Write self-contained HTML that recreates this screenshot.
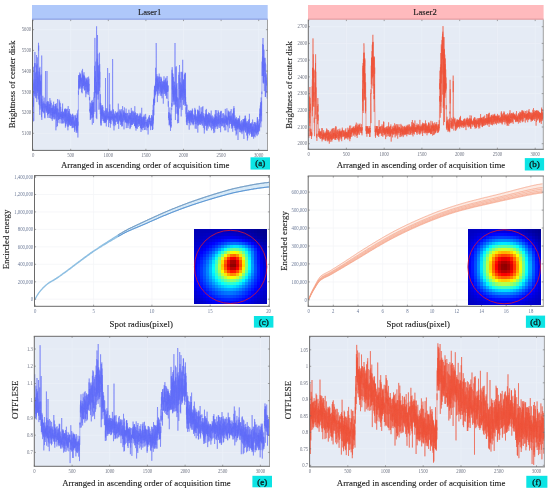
<!DOCTYPE html>
<html><head><meta charset="utf-8"><style>
html,body{margin:0;padding:0;background:#fff;}
svg{display:block;font-family:"Liberation Serif", serif;filter:blur(0.35px);}
</style></head><body>
<svg width="550" height="492" viewBox="0 0 550 492">
<rect width="550" height="492" fill="#fff"/>
<defs>
<clipPath id="cA"><rect x="32.5" y="19.5" width="235.0" height="130.9"/></clipPath>
<clipPath id="cB"><rect x="308.3" y="19.5" width="234.99999999999994" height="129.8"/></clipPath>
<clipPath id="cC"><rect x="34.5" y="175.5" width="235.0" height="130.5"/></clipPath>
<clipPath id="cD"><rect x="308.2" y="176.0" width="235.09999999999997" height="130.0"/></clipPath>
<clipPath id="cE"><rect x="34.3" y="336.3" width="235.2" height="130.0"/></clipPath>
<clipPath id="cF"><rect x="309.6" y="336.3" width="234.79999999999995" height="130.2"/></clipPath>
</defs>
<rect x="32.5" y="19.5" width="235.0" height="130.9" fill="#E5EBF5"/>
<line x1="70.7" y1="19.5" x2="70.7" y2="150.4" stroke="#EBF0F8" stroke-width="0.8"/>
<line x1="108.3" y1="19.5" x2="108.3" y2="150.4" stroke="#EBF0F8" stroke-width="0.8"/>
<line x1="145.9" y1="19.5" x2="145.9" y2="150.4" stroke="#EBF0F8" stroke-width="0.8"/>
<line x1="183.5" y1="19.5" x2="183.5" y2="150.4" stroke="#EBF0F8" stroke-width="0.8"/>
<line x1="221.1" y1="19.5" x2="221.1" y2="150.4" stroke="#EBF0F8" stroke-width="0.8"/>
<line x1="258.7" y1="19.5" x2="258.7" y2="150.4" stroke="#EBF0F8" stroke-width="0.8"/>
<line x1="32.5" y1="133.3" x2="267.5" y2="133.3" stroke="#EBF0F8" stroke-width="0.8"/>
<line x1="32.5" y1="112.6" x2="267.5" y2="112.6" stroke="#EBF0F8" stroke-width="0.8"/>
<line x1="32.5" y1="91.9" x2="267.5" y2="91.9" stroke="#EBF0F8" stroke-width="0.8"/>
<line x1="32.5" y1="71.1" x2="267.5" y2="71.1" stroke="#EBF0F8" stroke-width="0.8"/>
<line x1="32.5" y1="50.4" x2="267.5" y2="50.4" stroke="#EBF0F8" stroke-width="0.8"/>
<line x1="32.5" y1="29.7" x2="267.5" y2="29.7" stroke="#EBF0F8" stroke-width="0.8"/>
<polyline points="33.0,118.1 33.1,121.6 33.2,119.0 33.2,105.2 33.3,103.2 33.4,97.8 33.5,104.8 33.5,106.8 33.6,101.7 33.7,66.8 33.8,120.9 33.8,83.6 33.9,94.4 34.0,82.9 34.1,79.5 34.1,91.2 34.2,96.2 34.3,81.8 34.4,82.4 34.4,94.1 34.5,72.3 34.6,63.2 34.7,89.8 34.7,74.9 34.8,55.2 34.9,52.0 35.0,54.1 35.0,67.3 35.1,63.1 35.2,84.4 35.3,96.4 35.3,80.5 35.4,73.3 35.5,89.1 35.6,93.6 35.6,79.3 35.7,91.1 35.8,98.0 35.9,80.5 35.9,71.9 36.0,88.1 36.1,86.7 36.2,98.5 36.3,65.1 36.3,73.7 36.4,56.9 36.5,55.0 36.6,56.6 36.6,90.2 36.7,72.4 36.8,102.0 36.9,94.1 36.9,91.3 37.0,88.1 37.1,95.8 37.2,63.7 37.2,90.9 37.3,90.7 37.4,57.4 37.5,87.0 37.5,78.5 37.6,93.0 37.7,76.2 37.8,82.4 37.8,87.7 37.9,71.2 38.0,91.8 38.1,82.4 38.1,90.9 38.2,77.4 38.3,99.5 38.4,54.5 38.4,48.3 38.5,42.8 38.6,50.7 38.7,45.6 38.7,48.9 38.8,98.5 38.9,93.3 39.0,86.3 39.0,74.7 39.1,104.4 39.2,71.8 39.3,95.6 39.4,105.2 39.4,68.0 39.5,84.8 39.6,72.1 39.7,92.1 39.7,108.4 39.8,114.9 39.9,66.8 40.0,82.2 40.0,98.5 40.1,109.6 40.2,95.2 40.3,80.7 40.3,93.8 40.4,90.1 40.5,87.9 40.6,81.5 40.6,95.4 40.7,94.6 40.8,89.8 40.9,88.4 40.9,75.5 41.0,85.4 41.1,106.1 41.2,89.3 41.2,74.3 41.3,107.9 41.4,98.4 41.5,117.2 41.5,96.0 41.6,69.5 41.7,55.5 41.8,62.7 41.8,119.9 41.9,99.3 42.0,102.7 42.1,109.0 42.1,101.9 42.2,104.8 42.3,104.4 42.4,107.2 42.5,111.7 42.5,106.4 42.6,110.9 42.7,104.3 42.8,108.1 42.8,95.8 42.9,99.3 43.0,110.5 43.1,103.6 43.1,109.5 43.2,109.4 43.3,113.3 43.4,110.8 43.4,111.9 43.5,106.3 43.6,103.4 43.7,103.3 43.7,104.5 43.8,101.4 43.9,104.3 44.0,106.6 44.0,108.4 44.1,105.5 44.2,97.6 44.3,106.9 44.3,108.4 44.4,112.8 44.5,110.3 44.6,104.2 44.6,103.8 44.7,117.6 44.8,111.3 44.9,116.8 44.9,118.3 45.0,103.6 45.1,109.6 45.2,110.1 45.2,110.6 45.3,110.6 45.4,84.1 45.5,71.0 45.6,71.7 45.6,107.2 45.7,104.3 45.8,108.7 45.9,105.8 45.9,111.2 46.0,112.3 46.1,109.7 46.2,109.8 46.2,108.7 46.3,106.0 46.4,107.5 46.5,105.9 46.5,110.3 46.6,108.5 46.7,111.3 46.8,101.8 46.8,112.9 46.9,84.2 47.0,71.0 47.1,85.3 47.1,105.8 47.2,110.1 47.3,105.8 47.4,103.4 47.4,104.5 47.5,115.3 47.6,109.0 47.7,103.0 47.7,108.9 47.8,101.1 47.9,117.9 48.0,101.3 48.0,111.4 48.1,111.7 48.2,101.8 48.3,110.6 48.3,114.1 48.4,111.5 48.5,110.5 48.6,113.9 48.7,110.0 48.7,110.9 48.8,108.7 48.9,112.5 49.0,104.6 49.0,113.3 49.1,106.9 49.2,104.0 49.3,111.3 49.3,118.0 49.4,114.3 49.5,107.0 49.6,113.1 49.6,107.3 49.7,109.0 49.8,110.1 49.9,98.1 49.9,110.7 50.0,104.6 50.1,106.3 50.2,102.5 50.2,102.3 50.3,105.2 50.4,114.1 50.5,118.3 50.5,109.9 50.6,115.5 50.7,108.7 50.8,100.5 50.8,110.9 50.9,112.4 51.0,108.0 51.1,111.7 51.1,113.1 51.2,105.9 51.3,102.9 51.4,109.2 51.4,109.3 51.5,108.6 51.6,115.3 51.7,119.1 51.8,108.4 51.8,114.0 51.9,115.2 52.0,114.1 52.1,115.8 52.1,108.7 52.2,114.4 52.3,120.8 52.4,114.7 52.4,107.6 52.5,113.8 52.6,117.1 52.7,112.7 52.7,108.0 52.8,118.6 52.9,104.7 53.0,113.5 53.0,110.9 53.1,105.9 53.2,117.1 53.3,112.8 53.3,105.3 53.4,114.1 53.5,109.0 53.6,101.7 53.6,113.1 53.7,112.6 53.8,114.5 53.9,119.3 53.9,111.6 54.0,113.7 54.1,110.4 54.2,117.3 54.2,112.2 54.3,113.0 54.4,114.2 54.5,106.3 54.5,108.0 54.6,119.3 54.7,113.3 54.8,110.3 54.8,113.4 54.9,109.3 55.0,113.2 55.1,108.5 55.2,113.2 55.2,104.0 55.3,118.6 55.4,109.4 55.5,104.1 55.5,110.9 55.6,110.2 55.7,112.8 55.8,106.4 55.8,114.1 55.9,130.3 56.0,105.8 56.1,114.5 56.1,110.7 56.2,113.2 56.3,103.2 56.4,106.6 56.4,114.7 56.5,112.2 56.6,120.6 56.7,108.9 56.7,113.3 56.8,127.1 56.9,108.7 57.0,108.1 57.0,112.4 57.1,112.4 57.2,116.9 57.3,113.4 57.3,109.0 57.4,113.9 57.5,126.0 57.6,119.2 57.6,99.0 57.7,112.2 57.8,108.6 57.9,116.1 57.9,112.2 58.0,122.8 58.1,117.8 58.2,117.6 58.3,114.1 58.3,113.0 58.4,115.0 58.5,119.8 58.6,116.0 58.6,111.6 58.7,119.8 58.8,114.4 58.9,113.1 58.9,109.6 59.0,110.7 59.1,110.4 59.2,99.7 59.2,118.8 59.3,116.6 59.4,112.7 59.5,119.0 59.5,116.0 59.6,115.7 59.7,101.5 59.8,112.8 59.8,116.6 59.9,122.1 60.0,123.3 60.1,121.2 60.1,108.3 60.2,103.2 60.3,117.1 60.4,114.4 60.4,119.1 60.5,113.7 60.6,115.5 60.7,106.9 60.7,116.7 60.8,112.2 60.9,116.2 61.0,116.8 61.0,114.0 61.1,116.2 61.2,114.6 61.3,118.5 61.4,117.2 61.4,112.0 61.5,111.9 61.6,123.5 61.7,114.4 61.7,119.9 61.8,116.9 61.9,112.2 62.0,111.3 62.0,115.7 62.1,116.4 62.2,118.2 62.3,108.8 62.3,112.2 62.4,114.8 62.5,123.3 62.6,103.5 62.6,117.5 62.7,112.7 62.8,117.6 62.9,113.0 62.9,117.3 63.0,123.4 63.1,117.3 63.2,117.8 63.2,117.5 63.3,111.9 63.4,118.4 63.5,114.7 63.5,111.7 63.6,115.6 63.7,114.7 63.8,119.7 63.8,115.7 63.9,113.3 64.0,123.3 64.1,121.0 64.1,122.4 64.2,119.2 64.3,115.6 64.4,114.1 64.5,114.8 64.5,121.0 64.6,116.9 64.7,108.9 64.8,116.2 64.8,109.3 64.9,117.3 65.0,110.5 65.1,110.2 65.1,117.2 65.2,116.2 65.3,108.4 65.4,120.5 65.4,127.6 65.5,109.4 65.6,126.0 65.7,113.5 65.7,114.5 65.8,116.1 65.9,109.8 66.0,123.6 66.0,119.6 66.1,113.5 66.2,115.9 66.3,109.7 66.3,115.6 66.4,122.1 66.5,108.9 66.6,115.3 66.6,118.3 66.7,122.9 66.8,124.4 66.9,115.4 66.9,114.1 67.0,120.1 67.1,116.0 67.2,116.4 67.2,123.4 67.3,126.5 67.4,119.4 67.5,117.1 67.6,121.0 67.6,108.8 67.7,118.2 67.8,113.0 67.9,130.3 67.9,122.0 68.0,119.2 68.1,117.5 68.2,106.0 68.2,122.2 68.3,126.8 68.4,115.0 68.5,122.2 68.5,122.4 68.6,111.1 68.7,123.6 68.8,125.7 68.8,120.1 68.9,118.7 69.0,123.0 69.1,111.4 69.1,119.6 69.2,124.5 69.3,113.1 69.4,124.3 69.4,117.3 69.5,109.0 69.6,111.5 69.7,114.7 69.7,121.2 69.8,113.8 69.9,124.9 70.0,116.0 70.0,121.5 70.1,116.8 70.2,118.2 70.3,125.9 70.3,121.0 70.4,118.0 70.5,113.8 70.6,125.9 70.7,123.8 70.7,118.6 70.8,121.5 70.9,115.2 71.0,115.3 71.0,116.3 71.1,122.2 71.2,122.0 71.3,116.8 71.3,124.3 71.4,124.6 71.5,121.6 71.6,125.9 71.6,119.4 71.7,120.3 71.8,123.3 71.9,120.8 71.9,125.0 72.0,114.8 72.1,128.2 72.2,117.2 72.2,120.4 72.3,114.3 72.4,124.3 72.5,127.7 72.5,126.7 72.6,125.6 72.7,113.7 72.8,117.6 72.8,119.3 72.9,117.0 73.0,127.3 73.1,122.6 73.1,121.6 73.2,124.3 73.3,117.1 73.4,117.4 73.4,117.6 73.5,124.5 73.6,123.8 73.7,125.0 73.8,127.6 73.8,115.4 73.9,119.4 74.0,123.1 74.1,115.5 74.1,119.7 74.2,127.6 74.3,128.1 74.4,128.1 74.4,122.8 74.5,131.8 74.6,128.2 74.7,120.9 74.7,124.6 74.8,129.7 74.9,121.0 75.0,119.8 75.0,123.0 75.1,126.2 75.2,125.6 75.3,124.0 75.3,126.1 75.4,114.9 75.5,118.8 75.6,124.2 75.6,118.6 75.7,116.4 75.8,117.2 75.9,118.7 75.9,122.7 76.0,118.3 76.1,125.0 76.2,132.8 76.2,123.0 76.3,130.7 76.4,125.5 76.5,118.0 76.5,122.7 76.6,118.8 76.7,128.2 76.8,118.0 76.9,131.3 76.9,127.4 77.0,113.4 77.1,128.6 77.2,132.8 77.2,120.2 77.3,129.9 77.4,114.8 77.5,126.0 77.5,115.6 77.6,127.4 77.7,115.0 77.8,110.4 77.8,127.1 77.9,137.5 78.0,121.7 78.1,125.6 78.1,116.8 78.2,109.7 78.3,109.8 78.4,110.3 78.4,90.4 78.5,94.8 78.6,88.8 78.7,75.1 78.7,88.1 78.8,89.8 78.9,75.3 79.0,88.8 79.0,80.4 79.1,79.3 79.2,87.7 79.3,81.3 79.3,81.8 79.4,87.8 79.5,86.7 79.6,84.7 79.6,73.3 79.7,72.5 79.8,86.0 79.9,75.7 80.0,81.1 80.0,75.1 80.1,79.5 80.2,74.1 80.3,88.6 80.3,75.4 80.4,79.9 80.5,79.6 80.6,86.6 80.6,73.5 80.7,80.5 80.8,79.6 80.9,83.3 80.9,83.1 81.0,78.4 81.1,82.0 81.2,78.9 81.2,83.1 81.3,80.3 81.4,77.6 81.5,80.7 81.5,82.7 81.6,92.3 81.7,78.5 81.8,82.5 81.8,88.3 81.9,70.6 82.0,72.3 82.1,75.1 82.1,80.5 82.2,93.3 82.3,83.1 82.4,87.2 82.4,80.1 82.5,68.9 82.6,69.7 82.7,86.4 82.7,82.2 82.8,74.8 82.9,80.5 83.0,73.7 83.1,87.1 83.1,88.7 83.2,77.6 83.3,75.9 83.4,85.7 83.4,76.0 83.5,85.8 83.6,75.6 83.7,85.6 83.7,82.1 83.8,79.5 83.9,77.2 84.0,82.9 84.0,72.2 84.1,80.3 84.2,79.8 84.3,85.2 84.3,75.5 84.4,90.4 84.5,80.3 84.6,76.2 84.6,88.8 84.7,90.2 84.8,81.0 84.9,77.5 84.9,82.1 85.0,78.6 85.1,80.5 85.2,90.0 85.2,84.2 85.3,83.0 85.4,84.1 85.5,82.2 85.5,86.8 85.6,87.0 85.7,80.8 85.8,83.3 85.8,97.2 85.9,85.0 86.0,82.1 86.1,93.3 86.2,83.2 86.2,77.7 86.3,86.7 86.4,78.9 86.5,81.0 86.5,85.2 86.6,83.0 86.7,79.9 86.8,81.0 86.8,80.9 86.9,89.7 87.0,80.4 87.1,81.2 87.1,94.3 87.2,81.4 87.3,91.7 87.4,90.9 87.4,83.7 87.5,77.4 87.6,86.9 87.7,88.0 87.7,89.6 87.8,85.6 87.9,90.9 88.0,91.9 88.0,79.8 88.1,92.3 88.2,86.1 88.3,82.4 88.3,83.7 88.4,94.8 88.5,90.4 88.6,76.6 88.6,86.1 88.7,85.0 88.8,84.9 88.9,83.3 88.9,78.7 89.0,90.9 89.1,83.9 89.2,88.7 89.3,89.5 89.3,90.8 89.4,100.2 89.5,100.3 89.6,97.0 89.6,97.6 89.7,102.0 89.8,111.1 89.9,108.9 89.9,111.4 90.0,111.0 90.1,110.7 90.2,113.0 90.2,102.6 90.3,120.0 90.4,107.8 90.5,108.9 90.5,118.6 90.6,112.8 90.7,111.9 90.8,108.6 90.8,103.4 90.9,112.5 91.0,117.8 91.1,106.7 91.1,118.6 91.2,105.4 91.3,107.4 91.4,114.0 91.4,111.3 91.5,115.0 91.6,107.2 91.7,105.6 91.7,101.0 91.8,104.5 91.9,105.2 92.0,103.2 92.0,112.7 92.1,107.3 92.2,99.9 92.3,124.7 92.3,106.2 92.4,103.7 92.5,117.7 92.6,117.3 92.7,104.2 92.7,102.3 92.8,104.9 92.9,117.0 93.0,108.7 93.0,105.8 93.1,110.3 93.2,117.4 93.3,102.3 93.3,108.1 93.4,102.2 93.5,123.0 93.6,120.9 93.6,115.8 93.7,109.4 93.8,114.0 93.9,97.5 93.9,111.7 94.0,100.9 94.1,94.6 94.2,93.8 94.2,92.0 94.3,97.8 94.4,95.7 94.5,85.8 94.5,65.8 94.6,90.0 94.7,78.0 94.8,97.5 94.8,65.8 94.9,37.9 95.0,72.3 95.1,111.9 95.1,86.4 95.2,76.3 95.3,92.6 95.4,86.8 95.4,86.1 95.5,71.2 95.6,80.1 95.7,81.9 95.8,68.9 95.8,61.6 95.9,80.7 96.0,93.3 96.1,88.4 96.1,85.9 96.2,86.0 96.3,117.9 96.4,82.1 96.4,94.1 96.5,30.6 96.6,26.3 96.7,38.4 96.7,93.9 96.8,119.1 96.9,82.5 97.0,83.2 97.0,78.9 97.1,58.7 97.2,94.7 97.3,73.3 97.3,50.4 97.4,43.2 97.5,35.0 97.6,48.4 97.6,77.2 97.7,62.4 97.8,93.5 97.9,53.7 97.9,80.8 98.0,85.3 98.1,99.5 98.2,91.0 98.2,80.1 98.3,77.6 98.4,75.3 98.5,94.2 98.5,65.7 98.6,84.3 98.7,74.5 98.8,79.7 98.9,71.6 98.9,109.7 99.0,65.2 99.1,79.6 99.2,79.9 99.2,85.1 99.3,82.6 99.4,82.1 99.5,90.9 99.5,52.7 99.6,79.1 99.7,64.1 99.8,87.4 99.8,71.9 99.9,78.1 100.0,91.5 100.1,109.3 100.1,103.0 100.2,102.7 100.3,114.1 100.4,98.4 100.4,94.2 100.5,107.6 100.6,108.7 100.7,117.8 100.7,123.2 100.8,103.2 100.9,125.4 101.0,120.2 101.0,116.3 101.1,113.8 101.2,125.4 101.3,112.5 101.3,109.7 101.4,113.2 101.5,105.3 101.6,115.4 101.6,112.5 101.7,115.0 101.8,115.3 101.9,108.2 102.0,120.6 102.0,108.9 102.1,118.7 102.2,106.5 102.3,116.5 102.3,110.8 102.4,115.2 102.5,112.1 102.6,105.0 102.6,110.4 102.7,116.1 102.8,118.9 102.9,109.5 102.9,106.8 103.0,112.6 103.1,115.6 103.2,113.7 103.2,112.9 103.3,120.4 103.4,120.9 103.5,119.9 103.5,112.4 103.6,117.0 103.7,115.7 103.8,110.2 103.8,120.6 103.9,117.0 104.0,114.4 104.1,123.0 104.1,120.1 104.2,120.5 104.3,122.1 104.4,119.9 104.4,111.0 104.5,114.9 104.6,121.2 104.7,113.2 104.7,116.8 104.8,118.5 104.9,123.2 105.0,122.5 105.1,120.7 105.1,115.9 105.2,120.8 105.3,119.1 105.4,116.0 105.4,122.8 105.5,78.0 105.6,113.3 105.7,122.4 105.7,115.6 105.8,119.4 105.9,109.9 106.0,116.7 106.0,112.5 106.1,112.4 106.2,108.2 106.3,126.4 106.3,116.1 106.4,117.8 106.5,121.8 106.6,116.2 106.6,112.5 106.7,110.7 106.8,117.7 106.9,114.9 106.9,119.0 107.0,117.6 107.1,110.6 107.2,108.5 107.2,112.2 107.3,120.1 107.4,118.7 107.5,118.6 107.5,75.1 107.6,68.0 107.7,71.5 107.8,115.3 107.8,114.1 107.9,118.4 108.0,116.1 108.1,111.5 108.2,112.9 108.2,117.5 108.3,117.2 108.4,116.5 108.5,127.1 108.5,115.7 108.6,117.4 108.7,112.4 108.8,115.3 108.8,119.2 108.9,119.4 109.0,116.2 109.1,118.7 109.1,117.1 109.2,81.2 109.3,73.0 109.4,78.9 109.4,120.6 109.5,116.7 109.6,109.1 109.7,111.2 109.7,123.0 109.8,104.4 109.9,115.5 110.0,120.8 110.0,117.6 110.1,120.3 110.2,116.4 110.3,127.7 110.3,112.3 110.4,110.8 110.5,118.2 110.6,123.4 110.6,116.7 110.7,121.7 110.8,114.6 110.9,111.7 110.9,123.3 111.0,124.1 111.1,123.9 111.2,115.0 111.3,111.8 111.3,111.8 111.4,116.0 111.5,119.7 111.6,119.3 111.6,110.6 111.7,117.9 111.8,117.2 111.9,117.5 111.9,117.0 112.0,116.2 112.1,119.8 112.2,117.7 112.2,118.1 112.3,114.0 112.4,118.9 112.5,116.6 112.5,73.8 112.6,59.0 112.7,64.0 112.8,121.3 112.8,116.4 112.9,116.7 113.0,118.5 113.1,117.1 113.1,115.2 113.2,109.1 113.3,125.5 113.4,110.1 113.4,115.7 113.5,120.2 113.6,118.9 113.7,119.8 113.7,120.7 113.8,122.9 113.9,118.6 114.0,130.4 114.0,112.7 114.1,118.3 114.2,115.7 114.3,114.8 114.4,118.6 114.4,123.9 114.5,114.1 114.6,114.1 114.7,120.6 114.7,119.8 114.8,126.2 114.9,122.0 115.0,118.4 115.0,115.9 115.1,118.3 115.2,116.6 115.3,111.2 115.3,117.4 115.4,116.6 115.5,116.4 115.6,115.5 115.6,125.0 115.7,120.6 115.8,121.7 115.9,114.7 115.9,112.8 116.0,116.2 116.1,118.6 116.2,115.9 116.2,116.6 116.3,121.8 116.4,118.8 116.5,113.1 116.5,115.6 116.6,114.6 116.7,118.3 116.8,112.3 116.8,116.7 116.9,120.7 117.0,117.7 117.1,113.4 117.1,114.8 117.2,118.1 117.3,119.7 117.4,121.3 117.5,116.9 117.5,111.7 117.6,124.0 117.7,118.9 117.8,119.4 117.8,119.0 117.9,113.0 118.0,116.2 118.1,118.8 118.1,122.3 118.2,117.9 118.3,103.6 118.4,116.6 118.4,119.3 118.5,123.5 118.6,120.9 118.7,128.9 118.7,124.1 118.8,123.8 118.9,122.0 119.0,111.5 119.0,121.5 119.1,120.4 119.2,115.4 119.3,120.4 119.3,119.6 119.4,115.7 119.5,117.2 119.6,116.6 119.6,118.8 119.7,115.9 119.8,120.3 119.9,109.2 119.9,116.5 120.0,110.2 120.1,115.7 120.2,120.2 120.2,117.9 120.3,117.3 120.4,118.2 120.5,124.9 120.6,112.9 120.6,121.9 120.7,111.1 120.8,115.8 120.9,118.6 120.9,114.1 121.0,118.8 121.1,121.2 121.2,112.6 121.2,117.6 121.3,116.2 121.4,109.2 121.5,117.1 121.5,114.4 121.6,124.0 121.7,114.0 121.8,125.6 121.8,115.6 121.9,126.7 122.0,120.4 122.1,120.1 122.1,121.7 122.2,117.5 122.3,124.4 122.4,125.9 122.4,116.5 122.5,112.5 122.6,106.1 122.7,116.4 122.7,121.6 122.8,119.9 122.9,118.7 123.0,116.6 123.0,115.3 123.1,116.9 123.2,120.0 123.3,110.3 123.3,121.5 123.4,111.7 123.5,117.6 123.6,115.4 123.7,116.7 123.7,113.6 123.8,113.1 123.9,117.3 124.0,113.5 124.0,129.4 124.1,116.5 124.2,115.4 124.3,115.9 124.3,113.6 124.4,107.4 124.5,117.3 124.6,119.9 124.6,111.7 124.7,118.5 124.8,113.1 124.9,118.4 124.9,120.1 125.0,120.7 125.1,120.5 125.2,115.4 125.2,122.5 125.3,116.6 125.4,120.2 125.5,121.8 125.5,117.3 125.6,112.9 125.7,121.4 125.8,113.7 125.8,114.7 125.9,113.7 126.0,122.5 126.1,118.0 126.1,108.6 126.2,122.1 126.3,128.1 126.4,126.9 126.4,116.3 126.5,119.2 126.6,121.1 126.7,122.9 126.8,119.0 126.8,114.0 126.9,122.3 127.0,123.4 127.1,112.9 127.1,117.3 127.2,120.2 127.3,118.9 127.4,121.3 127.4,122.6 127.5,121.4 127.6,118.5 127.7,113.0 127.7,121.8 127.8,125.4 127.9,128.0 128.0,118.9 128.0,118.9 128.1,125.6 128.2,125.6 128.3,120.7 128.3,123.6 128.4,115.7 128.5,121.8 128.6,115.5 128.6,118.6 128.7,118.7 128.8,117.1 128.9,109.7 128.9,115.5 129.0,120.8 129.1,119.0 129.2,117.5 129.2,121.3 129.3,122.4 129.4,123.2 129.5,115.7 129.5,119.5 129.6,117.9 129.7,115.4 129.8,112.7 129.9,119.0 129.9,115.5 130.0,129.1 130.1,119.0 130.2,113.1 130.2,117.7 130.3,128.0 130.4,115.3 130.5,118.8 130.5,116.1 130.6,119.0 130.7,119.4 130.8,124.5 130.8,113.2 130.9,119.5 131.0,126.9 131.1,117.4 131.1,118.9 131.2,115.7 131.3,107.9 131.4,119.2 131.4,125.0 131.5,117.6 131.6,111.4 131.7,121.0 131.7,120.1 131.8,124.3 131.9,123.9 132.0,118.6 132.0,121.6 132.1,111.8 132.2,124.9 132.3,120.7 132.3,124.8 132.4,124.7 132.5,118.6 132.6,119.3 132.6,116.0 132.7,110.7 132.8,119.4 132.9,120.7 132.9,115.1 133.0,123.2 133.1,120.5 133.2,122.1 133.3,116.6 133.3,112.2 133.4,123.6 133.5,122.9 133.6,119.6 133.6,118.2 133.7,118.9 133.8,119.6 133.9,117.9 133.9,111.1 134.0,123.7 134.1,113.5 134.2,118.7 134.2,118.9 134.3,121.4 134.4,113.0 134.5,125.7 134.5,123.2 134.6,123.8 134.7,126.0 134.8,116.8 134.8,106.2 134.9,121.9 135.0,126.3 135.1,125.6 135.1,118.0 135.2,120.0 135.3,121.7 135.4,112.3 135.4,117.5 135.5,117.6 135.6,127.6 135.7,117.6 135.7,127.6 135.8,120.6 135.9,113.0 136.0,130.6 136.0,116.2 136.1,123.4 136.2,128.3 136.3,118.2 136.4,115.1 136.4,125.4 136.5,121.0 136.6,115.2 136.7,115.8 136.7,119.0 136.8,125.1 136.9,119.5 137.0,123.7 137.0,128.2 137.1,126.5 137.2,127.3 137.3,128.8 137.3,113.6 137.4,126.3 137.5,122.3 137.6,120.3 137.6,116.0 137.7,113.7 137.8,115.9 137.9,120.8 137.9,115.6 138.0,117.3 138.1,118.2 138.2,124.0 138.2,119.6 138.3,120.3 138.4,127.0 138.5,119.6 138.5,123.7 138.6,116.3 138.7,122.5 138.8,121.6 138.8,121.9 138.9,119.0 139.0,116.5 139.1,119.8 139.1,119.0 139.2,125.8 139.3,125.2 139.4,115.7 139.5,124.0 139.5,119.0 139.6,123.3 139.7,119.0 139.8,114.6 139.8,125.8 139.9,123.3 140.0,115.7 140.1,112.8 140.1,118.9 140.2,116.0 140.3,119.7 140.4,124.1 140.4,127.9 140.5,119.7 140.6,127.6 140.7,126.6 140.7,119.4 140.8,113.9 140.9,125.2 141.0,124.2 141.0,132.0 141.1,127.9 141.2,125.0 141.3,129.1 141.3,116.8 141.4,122.4 141.5,120.3 141.6,129.4 141.6,124.1 141.7,107.8 141.8,127.7 141.9,117.5 141.9,125.1 142.0,119.5 142.1,122.7 142.2,124.5 142.2,122.6 142.3,117.4 142.4,128.0 142.5,123.5 142.6,121.7 142.6,124.9 142.7,119.4 142.8,130.3 142.9,122.8 142.9,123.5 143.0,123.4 143.1,117.7 143.2,116.6 143.2,122.8 143.3,123.5 143.4,128.0 143.5,123.9 143.5,117.0 143.6,124.3 143.7,125.7 143.8,126.5 143.8,123.5 143.9,116.5 144.0,127.2 144.1,118.7 144.1,124.6 144.2,114.6 144.3,125.5 144.4,118.5 144.4,126.9 144.5,130.0 144.6,127.4 144.7,116.8 144.7,117.9 144.8,118.2 144.9,125.1 145.0,123.7 145.0,122.9 145.1,123.6 145.2,124.8 145.3,125.1 145.3,129.8 145.4,122.0 145.5,123.1 145.6,113.9 145.7,116.3 145.7,119.1 145.8,116.9 145.9,123.3 146.0,127.0 146.0,120.3 146.1,120.1 146.2,120.0 146.3,122.9 146.3,121.8 146.4,124.3 146.5,123.7 146.6,123.9 146.6,125.8 146.7,122.5 146.8,123.0 146.9,130.3 146.9,122.2 147.0,126.0 147.1,122.7 147.2,120.4 147.2,120.4 147.3,118.8 147.4,122.5 147.5,119.8 147.5,120.6 147.6,128.0 147.7,121.9 147.8,127.7 147.8,123.8 147.9,126.4 148.0,119.8 148.1,123.3 148.1,134.5 148.2,126.3 148.3,127.2 148.4,123.7 148.4,126.5 148.5,117.4 148.6,118.9 148.7,124.6 148.8,126.4 148.8,120.9 148.9,121.9 149.0,121.1 149.1,121.9 149.1,117.4 149.2,116.3 149.3,122.4 149.4,115.0 149.4,118.4 149.5,119.9 149.6,118.1 149.7,123.9 149.7,120.9 149.8,122.5 149.9,118.3 150.0,119.5 150.0,125.2 150.1,124.5 150.2,120.8 150.3,124.6 150.3,123.8 150.4,123.7 150.5,130.1 150.6,121.2 150.6,124.9 150.7,124.9 150.8,121.9 150.9,117.8 150.9,126.1 151.0,124.2 151.1,123.3 151.2,123.2 151.2,123.2 151.3,125.2 151.4,124.4 151.5,115.0 151.5,123.0 151.6,116.4 151.7,121.5 151.8,126.3 151.9,122.0 151.9,121.0 152.0,125.5 152.1,122.0 152.2,121.3 152.2,121.4 152.3,130.0 152.4,126.2 152.5,130.0 152.5,117.9 152.6,126.0 152.7,117.4 152.8,124.5 152.8,115.7 152.9,129.2 153.0,109.9 153.1,123.4 153.1,120.1 153.2,104.8 153.3,111.9 153.4,120.3 153.4,117.4 153.5,99.4 153.6,105.0 153.7,99.7 153.7,99.3 153.8,100.5 153.9,115.3 154.0,103.0 154.0,99.4 154.1,97.5 154.2,103.1 154.3,102.1 154.3,89.7 154.4,105.3 154.5,85.9 154.6,90.5 154.6,94.6 154.7,102.8 154.8,86.3 154.9,89.8 155.0,96.5 155.0,90.1 155.1,92.9 155.2,91.1 155.3,84.6 155.3,87.6 155.4,89.8 155.5,82.5 155.6,95.1 155.6,67.8 155.7,76.1 155.8,93.8 155.9,86.3 155.9,78.5 156.0,86.0 156.1,91.2 156.2,58.8 156.2,43.0 156.3,52.6 156.4,82.9 156.5,83.3 156.5,91.3 156.6,76.5 156.7,81.6 156.8,82.0 156.8,76.3 156.9,74.2 157.0,87.9 157.1,84.4 157.1,83.6 157.2,85.4 157.3,78.8 157.4,102.1 157.4,78.8 157.5,82.1 157.6,76.2 157.7,82.3 157.7,93.9 157.8,84.9 157.9,88.4 158.0,82.0 158.1,95.7 158.1,85.9 158.2,77.6 158.3,89.5 158.4,82.8 158.4,88.6 158.5,85.9 158.6,86.7 158.7,85.9 158.7,79.9 158.8,76.4 158.9,90.9 159.0,84.5 159.0,86.9 159.1,82.6 159.2,73.6 159.3,77.9 159.3,93.5 159.4,80.9 159.5,83.2 159.6,77.0 159.6,82.4 159.7,83.4 159.8,84.3 159.9,85.2 159.9,82.0 160.0,82.3 160.1,85.6 160.2,87.5 160.2,84.9 160.3,95.7 160.4,86.9 160.5,86.7 160.5,82.1 160.6,91.7 160.7,80.1 160.8,76.7 160.8,80.4 160.9,89.5 161.0,79.5 161.1,93.3 161.2,85.9 161.2,77.5 161.3,84.8 161.4,96.1 161.5,81.3 161.5,78.8 161.6,89.1 161.7,93.5 161.8,91.9 161.8,84.5 161.9,87.4 162.0,88.2 162.1,92.9 162.1,98.3 162.2,85.8 162.3,93.7 162.4,84.6 162.4,89.8 162.5,81.4 162.6,82.4 162.7,88.9 162.7,81.7 162.8,91.5 162.9,83.7 163.0,87.1 163.0,86.3 163.1,85.0 163.2,87.5 163.3,92.7 163.3,103.7 163.4,80.5 163.5,88.6 163.6,86.0 163.6,82.0 163.7,88.6 163.8,82.3 163.9,86.7 163.9,93.8 164.0,76.3 164.1,88.5 164.2,89.6 164.3,82.1 164.3,90.0 164.4,89.1 164.5,85.4 164.6,93.8 164.6,80.4 164.7,90.8 164.8,86.2 164.9,81.9 164.9,86.5 165.0,85.7 165.1,91.8 165.2,79.7 165.2,86.6 165.3,85.2 165.4,95.9 165.5,81.8 165.5,93.2 165.6,78.6 165.7,89.5 165.8,87.1 165.8,89.8 165.9,84.2 166.0,77.7 166.1,79.9 166.1,94.7 166.2,89.0 166.3,83.5 166.4,92.6 166.4,84.2 166.5,84.2 166.6,81.8 166.7,94.1 166.7,98.1 166.8,83.2 166.9,89.6 167.0,93.2 167.0,99.0 167.1,76.0 167.2,89.0 167.3,91.5 167.4,80.8 167.4,90.4 167.5,89.3 167.6,92.0 167.7,85.5 167.7,90.5 167.8,85.4 167.9,91.5 168.0,89.3 168.0,87.8 168.1,85.7 168.2,103.6 168.3,106.7 168.3,105.7 168.4,101.2 168.5,105.7 168.6,118.0 168.6,116.6 168.7,112.2 168.8,119.3 168.9,120.2 168.9,118.7 169.0,115.4 169.1,125.3 169.2,122.4 169.2,118.9 169.3,112.7 169.4,117.2 169.5,119.8 169.5,123.8 169.6,118.2 169.7,124.9 169.8,120.6 169.8,116.7 169.9,107.5 170.0,114.8 170.1,113.4 170.1,119.4 170.2,121.7 170.3,126.5 170.4,120.2 170.4,115.0 170.5,130.9 170.6,121.7 170.7,119.2 170.8,119.2 170.8,114.3 170.9,123.3 171.0,122.2 171.1,127.7 171.1,125.5 171.2,124.5 171.3,126.3 171.4,119.4 171.4,118.7 171.5,119.9 171.6,108.2 171.7,109.7 171.7,103.2 171.8,107.3 171.9,96.2 172.0,69.8 172.0,89.6 172.1,106.2 172.2,67.2 172.3,80.1 172.3,89.4 172.4,73.2 172.5,82.5 172.6,89.8 172.6,73.3 172.7,92.6 172.8,94.0 172.9,73.8 172.9,89.3 173.0,102.0 173.1,86.9 173.2,94.2 173.2,96.7 173.3,86.1 173.4,100.7 173.5,93.5 173.5,77.0 173.6,95.1 173.7,99.2 173.8,98.5 173.9,81.1 173.9,94.3 174.0,105.2 174.1,91.5 174.2,102.9 174.2,104.3 174.3,88.2 174.4,96.6 174.5,85.2 174.5,101.4 174.6,87.5 174.7,82.0 174.8,88.3 174.8,87.7 174.9,57.3 175.0,43.0 175.1,55.7 175.1,80.6 175.2,92.7 175.3,94.2 175.4,89.4 175.4,120.0 175.5,101.8 175.6,87.4 175.7,97.1 175.7,104.4 175.8,92.7 175.9,67.3 176.0,89.4 176.0,88.9 176.1,113.8 176.2,66.2 176.3,106.8 176.3,86.3 176.4,99.4 176.5,84.7 176.6,90.3 176.6,101.7 176.7,89.2 176.8,100.8 176.9,87.1 177.0,83.2 177.0,87.0 177.1,88.3 177.2,96.6 177.3,113.3 177.3,97.3 177.4,99.5 177.5,113.9 177.6,123.3 177.6,119.8 177.7,120.9 177.8,120.3 177.9,109.4 177.9,113.6 178.0,97.9 178.1,108.8 178.2,115.2 178.2,102.5 178.3,99.1 178.4,103.0 178.5,111.6 178.5,115.8 178.6,123.0 178.7,112.6 178.8,86.2 178.8,74.9 178.9,93.3 179.0,99.2 179.1,72.2 179.1,83.2 179.2,83.9 179.3,88.8 179.4,86.6 179.4,72.8 179.5,65.0 179.6,71.7 179.7,96.0 179.7,108.5 179.8,78.3 179.9,78.1 180.0,93.7 180.1,107.1 180.1,90.3 180.2,99.6 180.3,85.6 180.4,97.8 180.4,82.4 180.5,95.5 180.6,92.7 180.7,92.7 180.7,102.5 180.8,99.5 180.9,82.8 181.0,97.7 181.0,71.9 181.1,98.8 181.2,116.4 181.3,94.2 181.3,94.0 181.4,89.6 181.5,97.3 181.6,84.5 181.6,95.8 181.7,86.4 181.8,84.9 181.9,90.4 181.9,88.6 182.0,71.8 182.1,110.0 182.2,90.6 182.2,72.3 182.3,100.0 182.4,89.0 182.5,91.3 182.5,96.3 182.6,80.3 182.7,59.8 182.8,88.3 182.8,91.7 182.9,99.3 183.0,81.7 183.1,86.6 183.2,93.2 183.2,86.1 183.3,86.8 183.4,91.8 183.5,79.3 183.5,105.1 183.6,80.0 183.7,89.6 183.8,86.0 183.8,82.2 183.9,94.6 184.0,99.3 184.1,103.8 184.1,95.1 184.2,84.7 184.3,97.9 184.4,74.8 184.4,89.7 184.5,94.4 184.6,94.8 184.7,77.7 184.7,74.2 184.8,105.8 184.9,84.0 185.0,72.6 185.0,76.7 185.1,89.2 185.2,100.9 185.3,89.0 185.3,102.1 185.4,94.9 185.5,73.0 185.6,105.8 185.6,97.0 185.7,104.5 185.8,102.0 185.9,102.9 185.9,113.4 186.0,107.3 186.1,114.6 186.2,112.9 186.3,117.0 186.3,115.0 186.4,122.3 186.5,117.7 186.6,117.7 186.6,124.8 186.7,104.3 186.8,112.3 186.9,105.0 186.9,117.3 187.0,121.3 187.1,120.2 187.2,118.5 187.2,113.4 187.3,125.2 187.4,118.7 187.5,116.1 187.5,112.3 187.6,119.2 187.7,115.1 187.8,115.3 187.8,118.2 187.9,118.3 188.0,113.6 188.1,122.9 188.1,112.8 188.2,112.3 188.3,118.7 188.4,117.9 188.4,117.6 188.5,115.4 188.6,117.5 188.7,114.8 188.7,109.9 188.8,120.6 188.9,112.7 189.0,116.3 189.0,120.6 189.1,117.4 189.2,129.7 189.3,111.0 189.4,114.0 189.4,117.7 189.5,123.4 189.6,116.2 189.7,110.9 189.7,122.5 189.8,113.2 189.9,116.5 190.0,121.3 190.0,114.3 190.1,115.3 190.2,119.5 190.3,116.4 190.3,118.7 190.4,113.1 190.5,116.8 190.6,112.5 190.6,110.4 190.7,125.3 190.8,119.4 190.9,121.5 190.9,113.0 191.0,117.3 191.1,116.5 191.2,111.0 191.2,119.9 191.3,114.2 191.4,116.5 191.5,110.6 191.5,121.9 191.6,120.8 191.7,119.2 191.8,113.3 191.8,115.0 191.9,122.9 192.0,116.2 192.1,118.7 192.1,118.1 192.2,112.4 192.3,124.3 192.4,108.6 192.5,118.5 192.5,117.1 192.6,110.2 192.7,119.0 192.8,119.9 192.8,117.7 192.9,113.8 193.0,119.6 193.1,122.6 193.1,118.5 193.2,125.3 193.3,121.4 193.4,121.0 193.4,123.8 193.5,114.6 193.6,115.2 193.7,119.9 193.7,119.9 193.8,124.4 193.9,122.8 194.0,118.4 194.0,118.6 194.1,116.4 194.2,116.0 194.3,115.6 194.3,121.7 194.4,115.6 194.5,116.1 194.6,118.4 194.6,115.4 194.7,116.7 194.8,107.9 194.9,119.4 194.9,116.4 195.0,118.6 195.1,119.4 195.2,109.5 195.2,128.6 195.3,118.6 195.4,118.7 195.5,109.9 195.6,120.8 195.6,119.9 195.7,116.5 195.8,119.3 195.9,124.0 195.9,116.7 196.0,114.2 196.1,124.3 196.2,119.6 196.2,117.6 196.3,128.8 196.4,119.1 196.5,117.6 196.5,119.6 196.6,116.6 196.7,119.4 196.8,119.1 196.8,115.5 196.9,117.3 197.0,119.8 197.1,120.2 197.1,121.1 197.2,122.0 197.3,119.6 197.4,120.8 197.4,116.7 197.5,117.3 197.6,123.1 197.7,109.5 197.7,120.1 197.8,132.6 197.9,110.1 198.0,125.1 198.0,110.6 198.1,120.0 198.2,125.6 198.3,125.0 198.3,114.2 198.4,112.4 198.5,111.8 198.6,121.5 198.7,116.5 198.7,118.3 198.8,119.4 198.9,120.1 199.0,120.6 199.0,118.8 199.1,111.0 199.2,124.8 199.3,105.8 199.3,123.8 199.4,115.5 199.5,117.3 199.6,115.9 199.6,116.6 199.7,118.1 199.8,117.0 199.9,113.3 199.9,122.1 200.0,115.7 200.1,124.4 200.2,117.7 200.2,115.2 200.3,120.4 200.4,122.4 200.5,114.3 200.5,117.2 200.6,124.9 200.7,114.0 200.8,114.7 200.8,119.3 200.9,113.1 201.0,107.5 201.1,111.1 201.1,120.3 201.2,121.6 201.3,121.3 201.4,120.4 201.4,111.8 201.5,121.8 201.6,123.9 201.7,115.6 201.8,123.0 201.8,117.2 201.9,119.7 202.0,120.5 202.1,112.2 202.1,125.5 202.2,107.0 202.3,118.5 202.4,116.7 202.4,121.0 202.5,121.0 202.6,119.1 202.7,125.4 202.7,120.3 202.8,117.3 202.9,106.2 203.0,117.9 203.0,117.9 203.1,115.3 203.2,115.3 203.3,121.9 203.3,123.9 203.4,127.8 203.5,124.4 203.6,116.1 203.6,120.5 203.7,113.2 203.8,122.7 203.9,121.0 203.9,116.7 204.0,119.0 204.1,118.3 204.2,116.6 204.2,125.4 204.3,133.5 204.4,123.2 204.5,124.3 204.5,120.3 204.6,118.0 204.7,129.5 204.8,118.0 204.9,121.4 204.9,119.2 205.0,122.4 205.1,119.5 205.2,122.4 205.2,114.1 205.3,119.3 205.4,126.0 205.5,115.2 205.5,116.9 205.6,124.1 205.7,121.7 205.8,124.7 205.8,109.9 205.9,120.6 206.0,114.2 206.1,113.7 206.1,121.9 206.2,125.4 206.3,113.3 206.4,115.1 206.4,108.9 206.5,119.5 206.6,114.1 206.7,130.3 206.7,122.8 206.8,118.6 206.9,115.8 207.0,130.7 207.0,130.3 207.1,118.1 207.2,121.8 207.3,126.0 207.3,115.0 207.4,117.7 207.5,126.4 207.6,117.2 207.6,118.4 207.7,114.3 207.8,117.0 207.9,123.5 208.0,116.7 208.0,114.6 208.1,117.6 208.2,128.5 208.3,121.3 208.3,118.0 208.4,121.2 208.5,122.6 208.6,121.1 208.6,112.4 208.7,122.0 208.8,119.7 208.9,124.5 208.9,114.5 209.0,125.4 209.1,118.5 209.2,113.0 209.2,126.8 209.3,118.4 209.4,122.5 209.5,120.0 209.5,125.7 209.6,125.8 209.7,125.9 209.8,124.1 209.8,113.6 209.9,113.3 210.0,121.8 210.1,116.6 210.1,123.1 210.2,121.7 210.3,114.6 210.4,116.3 210.4,115.9 210.5,117.0 210.6,120.1 210.7,124.2 210.7,127.2 210.8,116.7 210.9,118.6 211.0,128.2 211.0,125.2 211.1,122.3 211.2,110.6 211.3,116.7 211.4,122.0 211.4,118.6 211.5,130.3 211.6,121.7 211.7,122.6 211.7,116.4 211.8,116.6 211.9,118.4 212.0,118.6 212.0,120.4 212.1,123.2 212.2,122.6 212.3,126.1 212.3,115.4 212.4,122.5 212.5,122.7 212.6,128.8 212.6,120.6 212.7,123.1 212.8,117.9 212.9,123.6 212.9,123.5 213.0,118.9 213.1,119.7 213.2,121.6 213.2,124.4 213.3,116.6 213.4,125.8 213.5,120.3 213.5,130.5 213.6,128.5 213.7,120.1 213.8,119.1 213.8,133.1 213.9,124.8 214.0,124.6 214.1,120.0 214.1,121.4 214.2,125.6 214.3,124.7 214.4,118.1 214.5,127.5 214.5,123.2 214.6,117.5 214.7,132.4 214.8,121.0 214.8,125.3 214.9,119.2 215.0,123.4 215.1,114.3 215.1,123.4 215.2,114.7 215.3,122.4 215.4,110.1 215.4,121.3 215.5,124.8 215.6,123.7 215.7,127.0 215.7,116.6 215.8,128.6 215.9,128.7 216.0,116.0 216.0,117.8 216.1,118.8 216.2,121.3 216.3,122.2 216.3,110.1 216.4,124.0 216.5,120.1 216.6,116.6 216.6,125.5 216.7,119.6 216.8,126.3 216.9,123.6 216.9,119.7 217.0,126.4 217.1,124.8 217.2,118.8 217.2,113.7 217.3,113.3 217.4,123.8 217.5,119.9 217.6,129.0 217.6,122.1 217.7,121.8 217.8,122.7 217.9,116.9 217.9,120.3 218.0,117.8 218.1,110.2 218.2,112.7 218.2,124.1 218.3,118.7 218.4,120.2 218.5,114.0 218.5,111.7 218.6,124.2 218.7,121.1 218.8,118.3 218.8,127.5 218.9,120.3 219.0,119.0 219.1,125.7 219.1,112.6 219.2,123.0 219.3,115.4 219.4,116.9 219.4,117.3 219.5,121.0 219.6,120.9 219.7,121.7 219.7,121.3 219.8,126.7 219.9,128.0 220.0,123.5 220.0,123.7 220.1,118.5 220.2,115.2 220.3,122.9 220.3,120.3 220.4,124.0 220.5,111.8 220.6,132.2 220.7,114.3 220.7,120.2 220.8,124.5 220.9,113.7 221.0,117.5 221.0,110.8 221.1,113.5 221.2,111.2 221.3,120.4 221.3,121.3 221.4,118.5 221.5,125.7 221.6,126.3 221.6,119.9 221.7,119.0 221.8,118.7 221.9,117.9 221.9,125.9 222.0,121.0 222.1,118.4 222.2,118.9 222.2,122.4 222.3,118.1 222.4,121.4 222.5,119.8 222.5,126.1 222.6,125.2 222.7,113.5 222.8,119.2 222.8,123.1 222.9,117.9 223.0,123.6 223.1,121.4 223.1,122.6 223.2,119.6 223.3,121.3 223.4,122.3 223.4,113.2 223.5,115.7 223.6,115.3 223.7,127.5 223.8,121.3 223.8,121.6 223.9,120.7 224.0,117.5 224.1,116.5 224.1,123.7 224.2,118.2 224.3,127.0 224.4,120.7 224.4,120.3 224.5,118.9 224.6,119.5 224.7,120.0 224.7,126.7 224.8,130.4 224.9,114.6 225.0,121.0 225.0,123.0 225.1,115.7 225.2,117.0 225.3,117.8 225.3,108.9 225.4,122.8 225.5,119.6 225.6,119.4 225.6,120.2 225.7,120.9 225.8,130.3 225.9,120.6 225.9,123.6 226.0,117.5 226.1,121.4 226.2,118.4 226.2,119.1 226.3,115.7 226.4,124.9 226.5,121.8 226.5,123.2 226.6,121.9 226.7,116.7 226.8,121.2 226.9,108.3 226.9,124.0 227.0,119.6 227.1,121.0 227.2,125.0 227.2,117.9 227.3,124.1 227.4,117.8 227.5,122.2 227.5,117.9 227.6,121.1 227.7,126.3 227.8,116.8 227.8,117.0 227.9,118.3 228.0,121.1 228.1,132.2 228.1,114.2 228.2,110.6 228.3,116.8 228.4,112.6 228.4,117.2 228.5,119.8 228.6,115.4 228.7,116.7 228.7,111.3 228.8,120.6 228.9,116.4 229.0,124.7 229.0,124.5 229.1,115.8 229.2,118.1 229.3,120.0 229.3,123.2 229.4,112.2 229.5,119.4 229.6,128.2 229.6,119.3 229.7,120.7 229.8,119.7 229.9,116.5 230.0,124.0 230.0,121.0 230.1,120.5 230.2,123.0 230.3,123.3 230.3,111.2 230.4,121.9 230.5,117.1 230.6,120.5 230.6,116.5 230.7,115.8 230.8,124.0 230.9,119.7 230.9,118.5 231.0,118.4 231.1,120.1 231.2,119.7 231.2,109.1 231.3,115.8 231.4,118.7 231.5,123.1 231.5,125.9 231.6,115.6 231.7,128.6 231.8,120.4 231.8,122.2 231.9,117.6 232.0,117.3 232.1,126.6 232.1,119.2 232.2,119.8 232.3,125.5 232.4,128.1 232.4,113.6 232.5,119.6 232.6,120.4 232.7,128.7 232.7,131.7 232.8,120.4 232.9,122.4 233.0,124.6 233.1,126.0 233.1,112.8 233.2,124.7 233.3,117.8 233.4,108.9 233.4,114.8 233.5,122.0 233.6,124.6 233.7,111.0 233.7,113.1 233.8,121.1 233.9,106.1 234.0,123.9 234.0,126.1 234.1,108.0 234.2,125.0 234.3,120.7 234.3,128.0 234.4,123.0 234.5,120.7 234.6,122.3 234.6,126.1 234.7,122.7 234.8,122.1 234.9,115.5 234.9,124.2 235.0,122.2 235.1,130.4 235.2,122.1 235.2,121.8 235.3,119.5 235.4,125.6 235.5,121.5 235.5,119.2 235.6,129.7 235.7,130.5 235.8,120.5 235.8,118.0 235.9,127.7 236.0,118.9 236.1,135.5 236.2,122.2 236.2,127.2 236.3,117.0 236.4,122.8 236.5,127.9 236.5,125.0 236.6,120.6 236.7,134.2 236.8,126.5 236.8,122.2 236.9,120.5 237.0,122.1 237.1,129.4 237.1,119.9 237.2,123.6 237.3,119.8 237.4,129.2 237.4,122.8 237.5,127.5 237.6,126.2 237.7,121.1 237.7,126.9 237.8,128.0 237.9,118.6 238.0,127.0 238.0,140.0 238.1,122.6 238.2,126.9 238.3,118.0 238.3,126.1 238.4,121.4 238.5,127.6 238.6,124.0 238.6,118.9 238.7,129.3 238.8,123.3 238.9,119.8 238.9,124.7 239.0,120.1 239.1,126.3 239.2,124.3 239.3,122.9 239.3,127.6 239.4,118.9 239.5,129.1 239.6,115.7 239.6,132.1 239.7,125.7 239.8,123.7 239.9,121.6 239.9,127.5 240.0,124.3 240.1,124.2 240.2,129.8 240.2,123.2 240.3,124.1 240.4,127.2 240.5,130.1 240.5,124.6 240.6,126.1 240.7,125.6 240.8,128.8 240.8,132.3 240.9,121.3 241.0,125.0 241.1,125.4 241.1,128.3 241.2,132.5 241.3,125.7 241.4,126.7 241.4,131.0 241.5,120.2 241.6,122.4 241.7,123.9 241.7,126.0 241.8,127.1 241.9,123.7 242.0,134.1 242.0,122.9 242.1,125.3 242.2,131.2 242.3,129.8 242.4,126.3 242.4,128.1 242.5,130.1 242.6,126.4 242.7,129.4 242.7,122.3 242.8,126.9 242.9,119.1 243.0,122.6 243.0,121.5 243.1,132.4 243.2,124.6 243.3,128.1 243.3,122.5 243.4,125.8 243.5,125.5 243.6,122.9 243.6,130.7 243.7,119.2 243.8,129.7 243.9,139.0 243.9,123.1 244.0,127.0 244.1,119.7 244.2,126.7 244.2,118.9 244.3,129.7 244.4,124.6 244.5,118.4 244.5,121.0 244.6,119.6 244.7,125.6 244.8,130.8 244.8,125.1 244.9,121.5 245.0,123.1 245.1,127.4 245.1,115.8 245.2,129.6 245.3,128.8 245.4,115.7 245.5,132.3 245.5,119.4 245.6,125.9 245.7,132.3 245.8,119.4 245.8,118.5 245.9,121.8 246.0,122.0 246.1,126.3 246.1,124.6 246.2,124.7 246.3,124.8 246.4,126.2 246.4,123.1 246.5,128.3 246.6,127.1 246.7,122.4 246.7,135.5 246.8,121.3 246.9,130.5 247.0,123.7 247.0,128.9 247.1,129.6 247.2,131.2 247.3,133.8 247.3,123.4 247.4,140.5 247.5,129.2 247.6,123.7 247.6,121.2 247.7,138.2 247.8,135.0 247.9,127.4 247.9,131.0 248.0,133.6 248.1,128.0 248.2,125.7 248.2,127.5 248.3,131.5 248.4,127.8 248.5,122.1 248.5,131.2 248.6,119.8 248.7,124.3 248.8,133.5 248.9,128.9 248.9,128.9 249.0,128.3 249.1,132.6 249.2,127.7 249.2,118.9 249.3,129.0 249.4,113.8 249.5,118.5 249.5,135.3 249.6,132.8 249.7,125.9 249.8,127.7 249.8,128.4 249.9,132.7 250.0,124.5 250.1,124.0 250.1,125.2 250.2,128.8 250.3,129.4 250.4,126.3 250.4,131.7 250.5,123.5 250.6,127.9 250.7,125.1 250.7,123.6 250.8,133.9 250.9,126.8 251.0,123.7 251.0,128.5 251.1,123.7 251.2,131.1 251.3,132.3 251.3,133.1 251.4,123.6 251.5,127.8 251.6,137.0 251.6,127.5 251.7,134.3 251.8,135.6 251.9,122.2 252.0,134.1 252.0,132.1 252.1,132.6 252.2,136.4 252.3,130.8 252.3,129.0 252.4,131.5 252.5,127.1 252.6,131.0 252.6,119.5 252.7,136.7 252.8,126.3 252.9,131.3 252.9,130.3 253.0,129.3 253.1,129.4 253.2,129.2 253.2,126.8 253.3,126.4 253.4,134.4 253.5,124.2 253.5,124.1 253.6,138.7 253.7,134.6 253.8,136.2 253.8,129.0 253.9,130.3 254.0,132.6 254.1,131.7 254.1,128.7 254.2,122.4 254.3,125.8 254.4,122.2 254.4,136.4 254.5,127.3 254.6,128.4 254.7,130.5 254.7,129.3 254.8,131.6 254.9,126.4 255.0,122.2 255.1,137.3 255.1,125.9 255.2,127.0 255.3,125.5 255.4,126.6 255.4,129.2 255.5,132.5 255.6,124.1 255.7,130.4 255.7,125.8 255.8,134.6 255.9,123.1 256.0,129.4 256.0,132.3 256.1,122.4 256.2,129.3 256.3,129.5 256.3,125.0 256.4,127.7 256.5,133.5 256.6,129.9 256.6,126.7 256.7,127.6 256.8,130.8 256.9,134.7 256.9,132.4 257.0,132.1 257.1,136.1 257.2,121.0 257.2,121.5 257.3,117.3 257.4,132.5 257.5,117.2 257.5,128.1 257.6,132.1 257.7,121.4 257.8,125.0 257.8,127.0 257.9,131.9 258.0,120.7 258.1,129.8 258.2,131.6 258.2,128.8 258.3,128.9 258.4,134.4 258.5,129.2 258.5,127.7 258.6,125.5 258.7,130.0 258.8,124.5 258.8,128.9 258.9,125.3 259.0,130.4 259.1,119.1 259.1,123.4 259.2,124.4 259.3,124.1 259.4,127.8 259.4,122.9 259.5,125.4 259.6,131.3 259.7,123.9 259.7,111.5 259.8,108.5 259.9,121.2 260.0,113.9 260.0,117.6 260.1,113.9 260.2,123.3 260.3,122.0 260.3,105.5 260.4,114.6 260.5,109.9 260.6,102.2 260.6,115.5 260.7,109.2 260.8,112.9 260.9,127.3 260.9,118.3 261.0,116.2 261.1,104.1 261.2,97.5 261.3,115.7 261.3,103.0 261.4,105.1 261.5,101.2 261.6,103.0 261.6,121.4 261.7,94.0 261.8,91.6 261.9,94.1 261.9,92.6 262.0,72.2 262.1,61.6 262.2,73.8 262.2,76.0 262.3,65.0 262.4,58.7 262.5,56.4 262.5,63.6 262.6,68.1 262.7,44.0 262.8,61.4 262.8,76.0 262.9,42.5 263.0,38.0 263.1,46.3 263.1,70.5 263.2,83.2 263.3,45.0 263.4,82.1 263.4,63.9 263.5,74.6 263.6,82.4 263.7,57.7 263.7,58.9 263.8,70.1 263.9,83.6 264.0,63.4 264.0,49.7 264.1,61.2 264.2,78.6 264.3,91.1 264.4,64.6 264.4,67.7 264.5,70.1 264.6,70.9 264.7,58.1 264.7,66.3 264.8,76.9 264.9,75.2 265.0,74.1 265.0,57.8 265.1,65.2 265.2,62.7 265.3,91.0 265.3,97.0 265.4,80.1 265.5,96.9 265.6,72.8 265.6,73.7 265.7,64.5 265.8,80.2 265.9,75.1 265.9,79.9 266.0,82.7 266.1,78.6 266.2,73.7 266.2,80.4 266.3,80.5 266.4,81.3 266.5,85.5 266.5,80.4 266.6,80.4 266.7,92.6 266.8,88.9 266.8,82.3 266.9,77.5 267.0,80.7 267.1,85.9 267.1,89.0 267.2,98.5 267.3,83.0" fill="none" stroke="#636EFA" stroke-width="0.55" stroke-opacity="0.95" stroke-linejoin="round" clip-path="url(#cA)"/>
<line x1="32.5" y1="19.5" x2="32.5" y2="150.4" stroke="#6a6a6a" stroke-width="1"/>
<line x1="32.0" y1="150.4" x2="268.0" y2="150.4" stroke="#6a6a6a" stroke-width="1"/>
<line x1="267.5" y1="19.5" x2="267.5" y2="150.4" stroke="#8a8a8a" stroke-width="0.8"/>
<line x1="33.1" y1="150.4" x2="33.1" y2="148.8" stroke="#6a6a6a" stroke-width="0.6"/>
<line x1="33.1" y1="19.5" x2="33.1" y2="21.1" stroke="#6a6a6a" stroke-width="0.6"/>
<text x="33.1" y="157.2" font-size="5.3" fill="#6e7382" text-anchor="middle" textLength="2.36" lengthAdjust="spacingAndGlyphs">0</text>
<line x1="70.7" y1="150.4" x2="70.7" y2="148.8" stroke="#6a6a6a" stroke-width="0.6"/>
<line x1="70.7" y1="19.5" x2="70.7" y2="21.1" stroke="#6a6a6a" stroke-width="0.6"/>
<text x="70.7" y="157.2" font-size="5.3" fill="#6e7382" text-anchor="middle" textLength="7.08" lengthAdjust="spacingAndGlyphs">500</text>
<line x1="108.3" y1="150.4" x2="108.3" y2="148.8" stroke="#6a6a6a" stroke-width="0.6"/>
<line x1="108.3" y1="19.5" x2="108.3" y2="21.1" stroke="#6a6a6a" stroke-width="0.6"/>
<text x="108.3" y="157.2" font-size="5.3" fill="#6e7382" text-anchor="middle" textLength="9.43" lengthAdjust="spacingAndGlyphs">1000</text>
<line x1="145.9" y1="150.4" x2="145.9" y2="148.8" stroke="#6a6a6a" stroke-width="0.6"/>
<line x1="145.9" y1="19.5" x2="145.9" y2="21.1" stroke="#6a6a6a" stroke-width="0.6"/>
<text x="145.9" y="157.2" font-size="5.3" fill="#6e7382" text-anchor="middle" textLength="9.43" lengthAdjust="spacingAndGlyphs">1500</text>
<line x1="183.5" y1="150.4" x2="183.5" y2="148.8" stroke="#6a6a6a" stroke-width="0.6"/>
<line x1="183.5" y1="19.5" x2="183.5" y2="21.1" stroke="#6a6a6a" stroke-width="0.6"/>
<text x="183.5" y="157.2" font-size="5.3" fill="#6e7382" text-anchor="middle" textLength="9.43" lengthAdjust="spacingAndGlyphs">2000</text>
<line x1="221.1" y1="150.4" x2="221.1" y2="148.8" stroke="#6a6a6a" stroke-width="0.6"/>
<line x1="221.1" y1="19.5" x2="221.1" y2="21.1" stroke="#6a6a6a" stroke-width="0.6"/>
<text x="221.1" y="157.2" font-size="5.3" fill="#6e7382" text-anchor="middle" textLength="9.43" lengthAdjust="spacingAndGlyphs">2500</text>
<line x1="258.7" y1="150.4" x2="258.7" y2="148.8" stroke="#6a6a6a" stroke-width="0.6"/>
<line x1="258.7" y1="19.5" x2="258.7" y2="21.1" stroke="#6a6a6a" stroke-width="0.6"/>
<text x="258.7" y="157.2" font-size="5.3" fill="#6e7382" text-anchor="middle" textLength="9.43" lengthAdjust="spacingAndGlyphs">3000</text>
<line x1="32.5" y1="133.3" x2="34.1" y2="133.3" stroke="#6a6a6a" stroke-width="0.6"/>
<line x1="267.5" y1="133.3" x2="265.9" y2="133.3" stroke="#6a6a6a" stroke-width="0.6"/>
<text x="31.2" y="135.05" font-size="5.3" fill="#6e7382" text-anchor="end" textLength="9.43" lengthAdjust="spacingAndGlyphs">5100</text>
<line x1="32.5" y1="112.6" x2="34.1" y2="112.6" stroke="#6a6a6a" stroke-width="0.6"/>
<line x1="267.5" y1="112.6" x2="265.9" y2="112.6" stroke="#6a6a6a" stroke-width="0.6"/>
<text x="31.2" y="114.35" font-size="5.3" fill="#6e7382" text-anchor="end" textLength="9.43" lengthAdjust="spacingAndGlyphs">5200</text>
<line x1="32.5" y1="91.9" x2="34.1" y2="91.9" stroke="#6a6a6a" stroke-width="0.6"/>
<line x1="267.5" y1="91.9" x2="265.9" y2="91.9" stroke="#6a6a6a" stroke-width="0.6"/>
<text x="31.2" y="93.65" font-size="5.3" fill="#6e7382" text-anchor="end" textLength="9.43" lengthAdjust="spacingAndGlyphs">5300</text>
<line x1="32.5" y1="71.1" x2="34.1" y2="71.1" stroke="#6a6a6a" stroke-width="0.6"/>
<line x1="267.5" y1="71.1" x2="265.9" y2="71.1" stroke="#6a6a6a" stroke-width="0.6"/>
<text x="31.2" y="72.85" font-size="5.3" fill="#6e7382" text-anchor="end" textLength="9.43" lengthAdjust="spacingAndGlyphs">5400</text>
<line x1="32.5" y1="50.4" x2="34.1" y2="50.4" stroke="#6a6a6a" stroke-width="0.6"/>
<line x1="267.5" y1="50.4" x2="265.9" y2="50.4" stroke="#6a6a6a" stroke-width="0.6"/>
<text x="31.2" y="52.15" font-size="5.3" fill="#6e7382" text-anchor="end" textLength="9.43" lengthAdjust="spacingAndGlyphs">5500</text>
<line x1="32.5" y1="29.7" x2="34.1" y2="29.7" stroke="#6a6a6a" stroke-width="0.6"/>
<line x1="267.5" y1="29.7" x2="265.9" y2="29.7" stroke="#6a6a6a" stroke-width="0.6"/>
<text x="31.2" y="31.45" font-size="5.3" fill="#6e7382" text-anchor="end" textLength="9.43" lengthAdjust="spacingAndGlyphs">5600</text>
<rect x="32" y="5" width="235.7" height="14.2" fill="#AFC8FA"/>
<line x1="32" y1="19.2" x2="267.7" y2="19.2" stroke="#7389DA" stroke-width="0.9"/>
<text x="149.6" y="15" font-size="8.6" fill="#1e1e1e" stroke="#1e1e1e" stroke-width="0.15" text-anchor="middle">Laser1</text>
<text x="0" y="0" font-size="8.8" fill="#1a1a1a" stroke="#1a1a1a" stroke-width="0.12" text-anchor="middle" transform="translate(12.4,84.5) rotate(-90)" dominant-baseline="central">Brightness of center disk</text>
<text x="60.9" y="167.6" font-size="8.8" fill="#1a1a1a" stroke="#1a1a1a" stroke-width="0.12">Arranged in ascending order of acquisition time</text>
<rect x="250.5" y="157.3" width="19.5" height="12.299999999999983" fill="#0CE4E4"/>
<text x="260.25" y="166.45" font-size="9" fill="#0b3030" stroke="#0b3030" stroke-width="0.45" text-anchor="middle">(a)</text>
<rect x="308.3" y="19.5" width="234.99999999999994" height="129.8" fill="#E5EBF5"/>
<line x1="346.4" y1="19.5" x2="346.4" y2="149.3" stroke="#EBF0F8" stroke-width="0.8"/>
<line x1="384.2" y1="19.5" x2="384.2" y2="149.3" stroke="#EBF0F8" stroke-width="0.8"/>
<line x1="421.9" y1="19.5" x2="421.9" y2="149.3" stroke="#EBF0F8" stroke-width="0.8"/>
<line x1="459.7" y1="19.5" x2="459.7" y2="149.3" stroke="#EBF0F8" stroke-width="0.8"/>
<line x1="497.4" y1="19.5" x2="497.4" y2="149.3" stroke="#EBF0F8" stroke-width="0.8"/>
<line x1="535.2" y1="19.5" x2="535.2" y2="149.3" stroke="#EBF0F8" stroke-width="0.8"/>
<line x1="308.3" y1="143.7" x2="543.3" y2="143.7" stroke="#EBF0F8" stroke-width="0.8"/>
<line x1="308.3" y1="127.0" x2="543.3" y2="127.0" stroke="#EBF0F8" stroke-width="0.8"/>
<line x1="308.3" y1="110.3" x2="543.3" y2="110.3" stroke="#EBF0F8" stroke-width="0.8"/>
<line x1="308.3" y1="93.6" x2="543.3" y2="93.6" stroke="#EBF0F8" stroke-width="0.8"/>
<line x1="308.3" y1="76.9" x2="543.3" y2="76.9" stroke="#EBF0F8" stroke-width="0.8"/>
<line x1="308.3" y1="60.1" x2="543.3" y2="60.1" stroke="#EBF0F8" stroke-width="0.8"/>
<line x1="308.3" y1="43.4" x2="543.3" y2="43.4" stroke="#EBF0F8" stroke-width="0.8"/>
<line x1="308.3" y1="26.7" x2="543.3" y2="26.7" stroke="#EBF0F8" stroke-width="0.8"/>
<polyline points="308.5,133.0 308.6,136.2 308.7,135.3 308.7,135.2 308.8,137.9 308.9,129.5 309.0,131.2 309.0,128.0 309.1,132.8 309.2,136.1 309.3,116.1 309.3,112.1 309.4,118.2 309.5,102.9 309.6,96.5 309.6,98.1 309.7,126.0 309.8,94.2 309.9,87.0 309.9,114.0 310.0,123.2 310.1,97.9 310.2,112.7 310.2,107.0 310.3,109.7 310.4,103.8 310.5,127.1 310.5,131.2 310.6,135.7 310.7,128.7 310.8,135.9 310.8,131.6 310.9,131.8 311.0,129.4 311.1,133.1 311.1,132.8 311.2,134.1 311.3,132.0 311.4,133.9 311.5,139.0 311.5,134.8 311.6,131.9 311.7,136.5 311.8,133.3 311.8,135.4 311.9,135.5 312.0,132.5 312.1,109.6 312.1,106.0 312.2,86.4 312.3,116.3 312.4,79.5 312.4,110.5 312.5,68.7 312.6,67.7 312.7,69.7 312.7,79.5 312.8,68.1 312.9,102.0 313.0,38.4 313.0,59.9 313.1,68.2 313.2,76.2 313.3,59.8 313.3,54.3 313.4,106.4 313.5,102.4 313.6,76.1 313.6,96.4 313.7,68.7 313.8,77.6 313.9,77.8 314.0,69.9 314.0,106.9 314.1,92.3 314.2,122.8 314.3,117.7 314.3,130.9 314.4,130.7 314.5,134.9 314.6,136.2 314.6,122.6 314.7,113.2 314.8,110.1 314.9,93.8 314.9,83.8 315.0,82.4 315.1,101.6 315.2,71.2 315.2,78.3 315.3,93.6 315.4,90.8 315.5,63.0 315.5,73.0 315.6,54.3 315.7,65.3 315.8,114.6 315.8,71.8 315.9,102.0 316.0,119.0 316.1,92.4 316.1,87.4 316.2,115.9 316.3,128.7 316.4,133.6 316.4,134.1 316.5,134.8 316.6,137.7 316.7,134.6 316.8,133.9 316.8,136.3 316.9,140.9 317.0,133.7 317.1,136.2 317.1,122.8 317.2,115.5 317.3,115.7 317.4,116.6 317.4,106.0 317.5,107.9 317.6,124.2 317.7,110.1 317.7,108.1 317.8,98.0 317.9,107.6 318.0,111.6 318.0,104.2 318.1,120.6 318.2,115.9 318.3,114.7 318.3,116.0 318.4,125.1 318.5,132.7 318.6,134.6 318.6,133.2 318.7,131.2 318.8,136.8 318.9,137.0 318.9,135.8 319.0,133.9 319.1,135.9 319.2,136.2 319.2,133.0 319.3,136.9 319.4,128.7 319.5,131.2 319.6,134.1 319.6,134.7 319.7,131.6 319.8,136.0 319.9,138.2 319.9,136.4 320.0,135.7 320.1,137.6 320.2,136.3 320.2,131.6 320.3,134.5 320.4,139.0 320.5,131.7 320.5,135.3 320.6,133.9 320.7,132.4 320.8,132.1 320.8,135.4 320.9,136.1 321.0,136.0 321.1,130.8 321.1,134.2 321.2,136.2 321.3,138.0 321.4,137.1 321.4,137.6 321.5,138.4 321.6,137.6 321.7,132.7 321.7,135.3 321.8,133.0 321.9,128.0 322.0,130.1 322.1,141.4 322.1,131.8 322.2,128.4 322.3,133.4 322.4,139.7 322.4,135.0 322.5,136.4 322.6,134.4 322.7,134.9 322.7,139.0 322.8,137.6 322.9,134.9 323.0,137.9 323.0,138.4 323.1,134.5 323.2,136.0 323.3,136.0 323.3,133.2 323.4,138.7 323.5,134.7 323.6,133.4 323.6,130.2 323.7,131.4 323.8,139.8 323.9,131.8 323.9,136.5 324.0,134.1 324.1,136.8 324.2,137.1 324.2,132.9 324.3,134.4 324.4,135.6 324.5,135.6 324.5,135.2 324.6,134.3 324.7,137.2 324.8,139.2 324.9,136.9 324.9,133.1 325.0,136.5 325.1,135.5 325.2,136.7 325.2,140.8 325.3,134.7 325.4,135.3 325.5,132.6 325.5,134.4 325.6,133.6 325.7,140.1 325.8,136.2 325.8,133.6 325.9,141.1 326.0,131.3 326.1,137.9 326.1,138.4 326.2,137.1 326.3,134.6 326.4,135.0 326.4,134.3 326.5,137.7 326.6,128.4 326.7,133.8 326.7,135.8 326.8,133.6 326.9,129.9 327.0,134.6 327.0,133.1 327.1,137.8 327.2,139.6 327.3,135.6 327.3,129.6 327.4,134.8 327.5,132.6 327.6,137.4 327.7,140.5 327.7,136.4 327.8,141.5 327.9,140.0 328.0,137.5 328.0,132.8 328.1,136.0 328.2,131.4 328.3,138.9 328.3,136.1 328.4,139.9 328.5,136.7 328.6,130.0 328.6,137.8 328.7,138.7 328.8,140.9 328.9,133.0 328.9,133.1 329.0,136.1 329.1,132.7 329.2,131.8 329.2,132.6 329.3,143.7 329.4,134.0 329.5,132.8 329.5,134.5 329.6,135.8 329.7,139.7 329.8,138.6 329.8,138.2 329.9,135.9 330.0,136.3 330.1,133.9 330.2,131.3 330.2,141.9 330.3,134.4 330.4,138.8 330.5,134.8 330.5,135.5 330.6,135.3 330.7,131.6 330.8,135.5 330.8,136.8 330.9,138.2 331.0,137.2 331.1,138.7 331.1,136.5 331.2,135.6 331.3,129.7 331.4,134.0 331.4,140.3 331.5,136.0 331.6,138.0 331.7,135.0 331.7,133.6 331.8,141.7 331.9,136.6 332.0,140.0 332.0,137.1 332.1,134.7 332.2,128.8 332.3,135.8 332.3,130.8 332.4,128.8 332.5,139.2 332.6,137.7 332.6,137.4 332.7,135.6 332.8,135.4 332.9,136.7 333.0,135.9 333.0,135.7 333.1,137.7 333.2,128.0 333.3,138.1 333.3,133.5 333.4,138.0 333.5,138.9 333.6,132.8 333.6,137.7 333.7,137.7 333.8,133.2 333.9,133.6 333.9,135.5 334.0,128.5 334.1,133.8 334.2,135.7 334.2,133.8 334.3,130.3 334.4,133.9 334.5,139.6 334.5,139.1 334.6,134.6 334.7,132.6 334.8,135.0 334.8,135.1 334.9,133.0 335.0,134.0 335.1,136.9 335.1,137.8 335.2,127.7 335.3,137.9 335.4,135.4 335.4,138.4 335.5,134.9 335.6,136.3 335.7,139.9 335.8,126.0 335.8,139.7 335.9,135.5 336.0,129.4 336.1,126.9 336.1,135.8 336.2,131.8 336.3,137.9 336.4,135.5 336.4,134.5 336.5,137.8 336.6,135.4 336.7,137.1 336.7,137.3 336.8,135.8 336.9,137.2 337.0,137.2 337.0,130.7 337.1,134.0 337.2,134.4 337.3,133.6 337.3,130.0 337.4,133.1 337.5,135.8 337.6,135.3 337.6,139.3 337.7,132.9 337.8,133.4 337.9,133.0 337.9,133.8 338.0,132.9 338.1,129.1 338.2,135.7 338.3,137.6 338.3,138.0 338.4,131.4 338.5,134.1 338.6,140.2 338.6,134.3 338.7,135.7 338.8,134.2 338.9,137.6 338.9,137.5 339.0,141.6 339.1,136.1 339.2,135.9 339.2,130.9 339.3,133.3 339.4,132.5 339.5,133.6 339.5,130.6 339.6,138.2 339.7,131.4 339.8,135.3 339.8,128.7 339.9,135.6 340.0,139.5 340.1,132.0 340.1,135.6 340.2,134.3 340.3,135.3 340.4,135.7 340.4,132.5 340.5,133.9 340.6,132.7 340.7,132.0 340.7,130.7 340.8,137.3 340.9,132.2 341.0,136.4 341.1,136.1 341.1,131.4 341.2,137.5 341.3,131.8 341.4,136.3 341.4,138.7 341.5,132.2 341.6,131.6 341.7,131.5 341.7,141.2 341.8,133.2 341.9,130.5 342.0,136.7 342.0,133.8 342.1,134.2 342.2,131.3 342.3,127.6 342.3,132.1 342.4,131.1 342.5,129.4 342.6,131.0 342.6,131.4 342.7,136.6 342.8,136.3 342.9,135.7 342.9,132.6 343.0,130.4 343.1,135.0 343.2,135.5 343.2,137.1 343.3,134.1 343.4,133.7 343.5,135.0 343.5,131.3 343.6,131.7 343.7,136.0 343.8,130.3 343.9,133.8 343.9,136.4 344.0,134.8 344.1,135.4 344.2,130.7 344.2,133.7 344.3,133.2 344.4,135.9 344.5,135.3 344.5,134.1 344.6,139.8 344.7,135.7 344.8,133.2 344.8,132.2 344.9,133.9 345.0,132.3 345.1,138.9 345.1,135.7 345.2,133.1 345.3,132.0 345.4,130.7 345.4,129.6 345.5,137.9 345.6,136.4 345.7,133.7 345.7,134.3 345.8,128.3 345.9,136.1 346.0,133.1 346.0,137.9 346.1,133.2 346.2,132.3 346.3,134.4 346.4,131.8 346.4,137.7 346.5,134.5 346.6,134.8 346.7,134.6 346.7,132.6 346.8,135.1 346.9,134.1 347.0,138.8 347.0,133.7 347.1,134.7 347.2,132.2 347.3,132.4 347.3,132.6 347.4,137.4 347.5,133.7 347.6,136.4 347.6,132.7 347.7,132.4 347.8,127.7 347.9,135.9 347.9,139.6 348.0,132.7 348.1,136.7 348.2,135.9 348.2,131.3 348.3,135.6 348.4,130.6 348.5,132.4 348.5,136.9 348.6,133.7 348.7,129.7 348.8,137.5 348.8,129.9 348.9,132.7 349.0,132.1 349.1,132.7 349.2,130.6 349.2,128.2 349.3,138.6 349.4,130.2 349.5,130.4 349.5,125.7 349.6,133.2 349.7,136.8 349.8,137.1 349.8,141.2 349.9,137.4 350.0,134.1 350.1,132.9 350.1,137.1 350.2,132.7 350.3,133.4 350.4,129.9 350.4,133.1 350.5,138.7 350.6,132.5 350.7,133.9 350.7,125.5 350.8,136.7 350.9,133.7 351.0,136.8 351.0,133.3 351.1,130.0 351.2,128.4 351.3,134.0 351.3,132.3 351.4,129.5 351.5,132.2 351.6,130.4 351.7,134.4 351.7,131.0 351.8,128.5 351.9,131.9 352.0,130.4 352.0,136.5 352.1,130.6 352.2,128.0 352.3,131.7 352.3,131.1 352.4,132.6 352.5,132.4 352.6,128.6 352.6,131.5 352.7,131.3 352.8,128.0 352.9,129.8 352.9,132.1 353.0,126.7 353.1,128.1 353.2,129.9 353.2,131.0 353.3,132.8 353.4,127.1 353.5,132.0 353.5,133.0 353.6,135.7 353.7,129.8 353.8,128.3 353.8,126.4 353.9,132.6 354.0,134.8 354.1,128.8 354.1,132.2 354.2,133.4 354.3,133.7 354.4,129.6 354.5,132.7 354.5,130.7 354.6,128.0 354.7,131.6 354.8,131.9 354.8,127.9 354.9,132.1 355.0,136.7 355.1,126.2 355.1,132.8 355.2,133.4 355.3,130.8 355.4,131.6 355.4,129.8 355.5,134.6 355.6,127.7 355.7,130.1 355.7,124.6 355.8,131.3 355.9,131.4 356.0,125.3 356.0,127.6 356.1,131.6 356.2,128.7 356.3,126.5 356.3,122.6 356.4,131.0 356.5,135.8 356.6,128.5 356.6,131.2 356.7,131.1 356.8,129.6 356.9,130.1 356.9,130.1 357.0,127.2 357.1,137.2 357.2,137.9 357.3,130.7 357.3,135.1 357.4,127.2 357.5,129.0 357.6,133.1 357.6,126.2 357.7,125.7 357.8,130.7 357.9,123.7 357.9,134.8 358.0,131.8 358.1,130.3 358.2,131.6 358.2,126.9 358.3,126.8 358.4,132.1 358.5,132.4 358.5,130.0 358.6,129.4 358.7,127.9 358.8,133.7 358.8,125.1 358.9,126.9 359.0,127.9 359.1,124.9 359.1,125.5 359.2,126.4 359.3,132.5 359.4,134.9 359.4,130.5 359.5,124.5 359.6,127.6 359.7,129.0 359.8,128.6 359.8,128.2 359.9,130.9 360.0,123.5 360.1,127.6 360.1,129.9 360.2,131.4 360.3,130.1 360.4,129.3 360.4,128.8 360.5,127.2 360.6,129.5 360.7,128.6 360.7,127.1 360.8,132.8 360.9,132.8 361.0,128.1 361.0,131.0 361.1,132.8 361.2,130.0 361.3,129.5 361.3,130.6 361.4,124.2 361.5,124.8 361.6,130.7 361.6,130.0 361.7,133.3 361.8,127.8 361.9,132.6 361.9,132.5 362.0,135.3 362.1,127.0 362.2,128.3 362.2,130.3 362.3,130.3 362.4,126.5 362.5,108.4 362.6,88.9 362.6,93.7 362.7,101.6 362.8,80.6 362.9,110.7 362.9,65.8 363.0,81.4 363.1,63.0 363.2,113.0 363.2,68.6 363.3,75.9 363.4,59.1 363.5,69.7 363.5,74.1 363.6,52.8 363.7,76.6 363.8,83.6 363.8,70.6 363.9,43.3 364.0,46.3 364.1,46.5 364.1,100.4 364.2,63.4 364.3,98.5 364.4,52.7 364.4,87.2 364.5,58.5 364.6,66.0 364.7,60.2 364.7,93.5 364.8,74.3 364.9,58.5 365.0,99.7 365.0,81.3 365.1,80.7 365.2,73.4 365.3,95.6 365.4,113.3 365.4,102.3 365.5,105.6 365.6,82.3 365.7,111.2 365.7,103.3 365.8,97.3 365.9,99.4 366.0,119.8 366.0,130.6 366.1,126.1 366.2,131.2 366.3,128.9 366.3,134.0 366.4,126.2 366.5,131.4 366.6,130.7 366.6,133.5 366.7,127.4 366.8,128.5 366.9,136.7 366.9,132.4 367.0,126.4 367.1,131.7 367.2,128.4 367.2,128.7 367.3,127.1 367.4,133.7 367.5,129.2 367.5,131.4 367.6,131.0 367.7,126.2 367.8,128.5 367.9,133.1 367.9,126.1 368.0,131.5 368.1,130.5 368.2,132.7 368.2,132.8 368.3,133.2 368.4,131.0 368.5,131.5 368.5,128.7 368.6,129.2 368.7,133.5 368.8,129.0 368.8,133.9 368.9,133.8 369.0,128.4 369.1,132.5 369.1,128.4 369.2,131.8 369.3,128.5 369.4,131.8 369.4,131.3 369.5,127.7 369.6,136.9 369.7,133.7 369.7,126.0 369.8,131.8 369.9,129.5 370.0,136.9 370.0,130.6 370.1,131.9 370.2,130.2 370.3,132.7 370.3,129.2 370.4,128.1 370.5,129.3 370.6,101.6 370.7,93.1 370.7,97.2 370.8,102.5 370.9,109.1 371.0,123.1 371.0,89.3 371.1,93.7 371.2,88.2 371.3,67.9 371.3,65.7 371.4,84.3 371.5,57.7 371.6,76.1 371.6,57.7 371.7,65.3 371.8,64.8 371.9,68.9 371.9,88.5 372.0,51.1 372.1,78.4 372.2,49.8 372.2,47.1 372.3,44.6 372.4,50.4 372.5,76.8 372.5,67.0 372.6,50.2 372.7,42.1 372.8,72.6 372.8,35.5 372.9,34.8 373.0,78.4 373.1,85.8 373.1,68.3 373.2,41.9 373.3,58.0 373.4,65.3 373.5,56.9 373.5,76.4 373.6,58.2 373.7,56.5 373.8,64.1 373.8,82.6 373.9,94.2 374.0,58.0 374.1,99.0 374.1,95.4 374.2,111.9 374.3,84.0 374.4,94.6 374.4,99.2 374.5,56.7 374.6,73.8 374.7,67.7 374.7,93.3 374.8,103.8 374.9,106.0 375.0,121.9 375.0,132.0 375.1,131.7 375.2,125.9 375.3,129.5 375.3,136.2 375.4,130.5 375.5,137.8 375.6,131.7 375.6,129.6 375.7,131.3 375.8,132.3 375.9,128.3 376.0,131.2 376.0,129.3 376.1,134.9 376.2,129.1 376.3,130.9 376.3,126.0 376.4,126.4 376.5,130.2 376.6,126.1 376.6,129.6 376.7,131.2 376.8,132.2 376.9,126.3 376.9,129.9 377.0,132.5 377.1,128.5 377.2,126.6 377.2,128.4 377.3,135.4 377.4,130.6 377.5,135.2 377.5,129.6 377.6,134.1 377.7,126.2 377.8,129.7 377.8,130.8 377.9,135.8 378.0,131.9 378.1,133.9 378.1,129.2 378.2,129.3 378.3,134.3 378.4,134.8 378.4,134.2 378.5,134.1 378.6,128.9 378.7,137.0 378.8,131.0 378.8,134.3 378.9,132.8 379.0,125.3 379.1,120.1 379.1,125.7 379.2,130.4 379.3,133.9 379.4,129.8 379.4,133.0 379.5,126.8 379.6,128.7 379.7,127.8 379.7,130.6 379.8,127.1 379.9,130.2 380.0,132.3 380.0,129.1 380.1,127.8 380.2,129.2 380.3,126.8 380.3,127.4 380.4,132.9 380.5,131.5 380.6,126.2 380.6,129.7 380.7,131.9 380.8,132.9 380.9,132.4 380.9,133.5 381.0,130.4 381.1,130.5 381.2,129.8 381.2,133.8 381.3,133.1 381.4,135.9 381.5,133.9 381.6,128.1 381.6,126.1 381.7,126.3 381.8,127.8 381.9,132.4 381.9,126.3 382.0,124.4 382.1,130.0 382.2,132.9 382.2,132.8 382.3,135.5 382.4,130.4 382.5,128.8 382.5,129.6 382.6,126.4 382.7,128.4 382.8,134.3 382.8,136.8 382.9,134.3 383.0,131.3 383.1,129.7 383.1,131.2 383.2,124.8 383.3,132.2 383.4,132.8 383.4,130.0 383.5,130.5 383.6,121.4 383.7,132.8 383.7,132.8 383.8,122.1 383.9,128.7 384.0,131.4 384.1,135.4 384.1,127.8 384.2,130.3 384.3,134.8 384.4,131.8 384.4,129.8 384.5,129.1 384.6,130.5 384.7,128.0 384.7,133.5 384.8,127.8 384.9,132.2 385.0,133.3 385.0,134.1 385.1,130.9 385.2,130.6 385.3,131.6 385.3,130.9 385.4,134.0 385.5,130.4 385.6,136.5 385.6,139.1 385.7,128.8 385.8,131.9 385.9,127.2 385.9,133.0 386.0,132.0 386.1,130.1 386.2,127.6 386.2,130.8 386.3,136.7 386.4,135.5 386.5,131.8 386.5,128.8 386.6,130.6 386.7,128.3 386.8,126.6 386.9,127.8 386.9,132.5 387.0,131.6 387.1,131.2 387.2,127.3 387.2,126.4 387.3,133.7 387.4,129.5 387.5,134.2 387.5,128.4 387.6,133.6 387.7,131.3 387.8,129.3 387.8,129.3 387.9,136.4 388.0,133.4 388.1,129.8 388.1,131.1 388.2,125.9 388.3,135.8 388.4,134.8 388.4,129.4 388.5,132.0 388.6,122.3 388.7,133.5 388.7,132.0 388.8,131.4 388.9,133.1 389.0,131.5 389.0,127.6 389.1,128.5 389.2,130.0 389.3,133.3 389.3,130.6 389.4,128.5 389.5,131.6 389.6,126.8 389.7,136.8 389.7,131.4 389.8,127.5 389.9,131.0 390.0,133.7 390.0,132.1 390.1,136.6 390.2,126.2 390.3,135.3 390.3,130.4 390.4,133.2 390.5,135.7 390.6,126.9 390.6,126.2 390.7,129.3 390.8,125.5 390.9,124.4 390.9,130.7 391.0,134.0 391.1,129.1 391.2,132.0 391.2,141.6 391.3,131.5 391.4,129.6 391.5,130.0 391.5,131.8 391.6,129.7 391.7,132.6 391.8,131.2 391.8,133.3 391.9,131.0 392.0,130.3 392.1,127.7 392.2,126.4 392.2,129.7 392.3,129.4 392.4,131.4 392.5,130.3 392.5,129.4 392.6,137.4 392.7,131.5 392.8,134.2 392.8,127.4 392.9,133.6 393.0,134.1 393.1,131.9 393.1,127.9 393.2,134.3 393.3,128.4 393.4,125.8 393.4,125.6 393.5,130.7 393.6,129.0 393.7,133.0 393.7,132.6 393.8,134.7 393.9,131.6 394.0,128.6 394.0,130.6 394.1,128.2 394.2,128.0 394.3,128.3 394.3,131.2 394.4,128.0 394.5,130.3 394.6,133.8 394.6,123.3 394.7,127.9 394.8,127.5 394.9,130.4 395.0,126.0 395.0,128.4 395.1,137.4 395.2,126.3 395.3,130.2 395.3,131.1 395.4,129.5 395.5,126.8 395.6,133.4 395.6,124.6 395.7,127.5 395.8,129.7 395.9,128.5 395.9,133.9 396.0,129.4 396.1,136.1 396.2,130.3 396.2,134.9 396.3,131.6 396.4,129.5 396.5,129.4 396.5,133.3 396.6,128.6 396.7,130.1 396.8,127.8 396.8,124.1 396.9,131.9 397.0,132.1 397.1,126.6 397.1,131.6 397.2,129.5 397.3,124.5 397.4,127.4 397.4,132.2 397.5,133.3 397.6,131.4 397.7,138.7 397.8,131.3 397.8,128.0 397.9,125.8 398.0,134.8 398.1,128.9 398.1,129.2 398.2,127.8 398.3,127.8 398.4,129.2 398.4,131.7 398.5,132.0 398.6,131.4 398.7,133.2 398.7,128.9 398.8,127.3 398.9,130.2 399.0,124.2 399.0,133.0 399.1,132.0 399.2,132.0 399.3,127.2 399.3,129.0 399.4,130.5 399.5,127.4 399.6,127.2 399.6,129.8 399.7,130.9 399.8,128.4 399.9,133.6 399.9,137.1 400.0,132.2 400.1,129.9 400.2,129.5 400.3,135.3 400.3,131.4 400.4,132.3 400.5,131.1 400.6,128.7 400.6,135.0 400.7,129.7 400.8,130.9 400.9,123.9 400.9,136.9 401.0,132.7 401.1,130.1 401.2,128.0 401.2,128.5 401.3,125.2 401.4,131.8 401.5,127.7 401.5,131.6 401.6,131.7 401.7,136.1 401.8,131.0 401.8,131.2 401.9,131.8 402.0,128.5 402.1,129.6 402.1,131.3 402.2,133.8 402.3,132.6 402.4,129.5 402.4,134.0 402.5,129.2 402.6,125.8 402.7,135.1 402.7,130.4 402.8,129.0 402.9,126.8 403.0,129.1 403.1,135.5 403.1,130.2 403.2,137.1 403.3,130.5 403.4,133.8 403.4,130.5 403.5,129.1 403.6,129.1 403.7,129.6 403.7,126.8 403.8,126.7 403.9,131.5 404.0,134.2 404.0,130.9 404.1,130.6 404.2,127.7 404.3,133.8 404.3,133.6 404.4,126.9 404.5,130.6 404.6,129.4 404.6,125.9 404.7,135.2 404.8,134.0 404.9,131.3 404.9,134.6 405.0,128.8 405.1,131.2 405.2,134.4 405.2,129.5 405.3,131.3 405.4,127.4 405.5,132.3 405.5,133.8 405.6,127.4 405.7,127.9 405.8,130.1 405.9,134.5 405.9,128.7 406.0,127.7 406.1,129.9 406.2,133.6 406.2,125.6 406.3,129.7 406.4,134.1 406.5,130.1 406.5,129.3 406.6,132.7 406.7,126.5 406.8,136.3 406.8,131.5 406.9,128.9 407.0,130.3 407.1,129.8 407.1,129.2 407.2,126.3 407.3,129.3 407.4,124.8 407.4,134.1 407.5,126.6 407.6,127.7 407.7,127.5 407.7,132.1 407.8,129.3 407.9,134.2 408.0,128.5 408.0,130.3 408.1,129.7 408.2,128.8 408.3,133.2 408.4,133.5 408.4,133.8 408.5,125.7 408.6,130.9 408.7,126.4 408.7,126.3 408.8,124.4 408.9,126.9 409.0,131.6 409.0,134.0 409.1,135.0 409.2,127.0 409.3,127.9 409.3,130.5 409.4,130.2 409.5,130.4 409.6,124.5 409.6,129.2 409.7,131.5 409.8,130.5 409.9,129.3 409.9,127.5 410.0,129.4 410.1,134.5 410.2,131.2 410.2,132.8 410.3,134.6 410.4,126.4 410.5,131.7 410.5,131.0 410.6,133.6 410.7,128.9 410.8,129.0 410.8,127.6 410.9,130.1 411.0,128.7 411.1,129.1 411.2,130.5 411.2,128.4 411.3,126.7 411.4,128.3 411.5,127.9 411.5,130.8 411.6,133.2 411.7,128.4 411.8,122.1 411.8,131.2 411.9,129.3 412.0,126.6 412.1,128.7 412.1,135.0 412.2,124.9 412.3,125.9 412.4,129.2 412.4,120.0 412.5,128.0 412.6,132.3 412.7,131.0 412.7,130.5 412.8,128.3 412.9,128.9 413.0,136.4 413.0,130.0 413.1,133.4 413.2,125.6 413.3,130.1 413.3,130.4 413.4,129.8 413.5,122.8 413.6,128.0 413.6,133.7 413.7,130.9 413.8,126.9 413.9,131.9 414.0,123.6 414.0,131.0 414.1,130.3 414.2,127.4 414.3,126.2 414.3,124.2 414.4,128.6 414.5,134.4 414.6,131.8 414.6,130.4 414.7,132.0 414.8,127.4 414.9,130.8 414.9,120.4 415.0,127.7 415.1,127.7 415.2,128.9 415.2,128.6 415.3,130.9 415.4,127.2 415.5,131.9 415.5,128.3 415.6,131.7 415.7,129.4 415.8,131.6 415.8,130.4 415.9,127.2 416.0,129.6 416.1,125.1 416.1,129.2 416.2,130.1 416.3,128.2 416.4,128.5 416.5,131.9 416.5,132.6 416.6,133.2 416.7,127.2 416.8,127.7 416.8,131.3 416.9,131.6 417.0,123.5 417.1,134.9 417.1,132.4 417.2,125.2 417.3,132.4 417.4,127.7 417.4,128.6 417.5,126.0 417.6,126.5 417.7,127.8 417.7,129.2 417.8,125.6 417.9,128.7 418.0,126.8 418.0,127.3 418.1,126.3 418.2,127.0 418.3,133.7 418.3,124.0 418.4,124.9 418.5,128.7 418.6,127.4 418.6,125.7 418.7,130.1 418.8,125.3 418.9,128.8 418.9,131.7 419.0,130.5 419.1,128.0 419.2,128.8 419.3,129.3 419.3,130.6 419.4,125.9 419.5,132.6 419.6,131.0 419.6,134.4 419.7,131.3 419.8,131.8 419.9,119.9 419.9,127.4 420.0,134.3 420.1,129.9 420.2,127.4 420.2,130.8 420.3,129.0 420.4,129.9 420.5,126.5 420.5,130.3 420.6,133.2 420.7,129.4 420.8,130.0 420.8,126.6 420.9,130.1 421.0,127.4 421.1,124.6 421.1,125.0 421.2,127.9 421.3,130.3 421.4,131.5 421.4,128.0 421.5,127.5 421.6,130.5 421.7,125.9 421.7,127.6 421.8,127.9 421.9,128.1 422.0,126.8 422.1,133.5 422.1,131.4 422.2,128.0 422.3,124.2 422.4,127.0 422.4,130.3 422.5,122.7 422.6,136.0 422.7,128.3 422.7,128.4 422.8,130.4 422.9,124.2 423.0,128.7 423.0,128.5 423.1,130.6 423.2,125.4 423.3,130.4 423.3,124.5 423.4,129.4 423.5,126.8 423.6,125.9 423.6,123.1 423.7,126.7 423.8,130.0 423.9,133.0 423.9,131.6 424.0,132.0 424.1,127.0 424.2,127.1 424.2,123.8 424.3,126.4 424.4,125.0 424.5,127.6 424.6,130.4 424.6,128.0 424.7,127.4 424.8,130.4 424.9,132.9 424.9,131.6 425.0,123.3 425.1,133.6 425.2,127.0 425.2,124.0 425.3,127.3 425.4,131.4 425.5,120.4 425.5,132.3 425.6,129.0 425.7,130.0 425.8,124.2 425.8,126.7 425.9,124.9 426.0,131.9 426.1,126.0 426.1,129.5 426.2,126.3 426.3,123.3 426.4,131.0 426.4,131.9 426.5,132.9 426.6,126.6 426.7,128.5 426.7,130.4 426.8,129.3 426.9,128.9 427.0,135.3 427.0,127.0 427.1,131.0 427.2,126.7 427.3,132.6 427.4,127.5 427.4,125.3 427.5,130.6 427.6,128.4 427.7,127.1 427.7,127.6 427.8,126.4 427.9,129.8 428.0,129.3 428.0,133.3 428.1,126.2 428.2,132.6 428.3,129.9 428.3,124.0 428.4,132.8 428.5,122.9 428.6,129.8 428.6,122.7 428.7,129.1 428.8,127.1 428.9,127.5 428.9,122.5 429.0,126.0 429.1,131.9 429.2,130.2 429.2,128.1 429.3,127.9 429.4,126.4 429.5,132.7 429.5,128.3 429.6,131.7 429.7,123.9 429.8,123.7 429.9,132.5 429.9,125.8 430.0,127.8 430.1,129.9 430.2,131.2 430.2,130.4 430.3,130.1 430.4,133.4 430.5,129.2 430.5,131.2 430.6,128.6 430.7,128.9 430.8,134.2 430.8,127.7 430.9,120.8 431.0,128.7 431.1,129.0 431.1,134.0 431.2,127.3 431.3,124.9 431.4,128.8 431.4,134.0 431.5,127.3 431.6,132.2 431.7,129.9 431.7,130.3 431.8,125.8 431.9,128.5 432.0,125.9 432.0,128.3 432.1,126.2 432.2,131.6 432.3,126.6 432.3,127.5 432.4,121.4 432.5,125.2 432.6,135.6 432.7,126.9 432.7,123.2 432.8,128.1 432.9,127.4 433.0,126.5 433.0,127.2 433.1,126.6 433.2,130.9 433.3,124.4 433.3,128.7 433.4,130.6 433.5,125.3 433.6,134.9 433.6,128.2 433.7,127.7 433.8,126.3 433.9,130.4 433.9,123.2 434.0,129.8 434.1,134.7 434.2,129.1 434.2,130.6 434.3,125.3 434.4,130.5 434.5,125.8 434.5,126.8 434.6,128.1 434.7,133.9 434.8,126.4 434.8,122.3 434.9,128.5 435.0,130.5 435.1,130.2 435.1,128.9 435.2,132.4 435.3,130.9 435.4,130.8 435.5,126.9 435.5,123.8 435.6,133.1 435.7,125.6 435.8,132.1 435.8,131.8 435.9,124.7 436.0,126.3 436.1,129.5 436.1,131.2 436.2,125.4 436.3,127.4 436.4,125.1 436.4,124.6 436.5,128.5 436.6,126.8 436.7,122.1 436.7,129.4 436.8,127.0 436.9,127.0 437.0,124.2 437.0,130.4 437.1,129.1 437.2,129.1 437.3,128.0 437.3,129.2 437.4,133.0 437.5,128.7 437.6,128.9 437.6,126.8 437.7,130.1 437.8,127.4 437.9,125.9 438.0,131.6 438.0,127.6 438.1,125.5 438.2,126.0 438.3,126.5 438.3,124.9 438.4,132.5 438.5,129.9 438.6,124.0 438.6,131.7 438.7,127.0 438.8,128.9 438.9,126.9 438.9,129.4 439.0,129.3 439.1,130.4 439.2,130.5 439.2,120.2 439.3,126.4 439.4,127.8 439.5,104.5 439.5,96.1 439.6,101.5 439.7,101.0 439.8,83.2 439.8,89.2 439.9,76.6 440.0,70.7 440.1,89.2 440.1,79.0 440.2,117.7 440.3,116.9 440.4,95.6 440.4,67.2 440.5,100.8 440.6,80.6 440.7,106.4 440.8,80.7 440.8,53.0 440.9,84.7 441.0,113.0 441.1,64.1 441.1,101.9 441.2,70.6 441.3,44.4 441.4,83.3 441.4,65.2 441.5,69.2 441.6,52.4 441.7,49.8 441.7,65.7 441.8,72.9 441.9,46.7 442.0,74.5 442.0,40.1 442.1,50.7 442.2,42.3 442.3,38.6 442.3,36.6 442.4,59.2 442.5,57.2 442.6,38.0 442.6,33.7 442.7,94.6 442.8,31.7 442.9,49.4 442.9,58.1 443.0,26.1 443.1,32.6 443.2,61.2 443.2,107.8 443.3,49.6 443.4,67.4 443.5,76.4 443.6,85.1 443.6,125.2 443.7,37.4 443.8,106.1 443.9,56.4 443.9,37.0 444.0,37.6 444.1,91.4 444.2,73.6 444.2,52.4 444.3,50.0 444.4,89.5 444.5,48.9 444.5,122.0 444.6,66.5 444.7,96.5 444.8,73.9 444.8,54.6 444.9,98.0 445.0,75.7 445.1,85.1 445.1,93.2 445.2,64.1 445.3,87.2 445.4,72.6 445.4,58.5 445.5,73.7 445.6,92.4 445.7,70.3 445.7,69.4 445.8,77.1 445.9,90.5 446.0,77.5 446.1,88.7 446.1,83.4 446.2,109.3 446.3,105.2 446.4,116.5 446.4,127.8 446.5,126.8 446.6,123.1 446.7,121.2 446.7,129.2 446.8,124.0 446.9,126.6 447.0,130.1 447.0,116.7 447.1,124.8 447.2,122.6 447.3,127.1 447.3,123.2 447.4,120.6 447.5,123.9 447.6,123.7 447.6,120.7 447.7,124.9 447.8,128.0 447.9,127.3 447.9,131.7 448.0,129.0 448.1,126.3 448.2,119.3 448.2,126.2 448.3,129.2 448.4,124.6 448.5,129.8 448.5,122.6 448.6,126.2 448.7,127.9 448.8,130.6 448.9,125.2 448.9,131.3 449.0,124.2 449.1,119.8 449.2,125.0 449.2,129.5 449.3,124.2 449.4,130.3 449.5,124.6 449.5,131.0 449.6,118.4 449.7,132.2 449.8,118.9 449.8,111.6 449.9,113.6 450.0,90.7 450.1,79.8 450.1,80.1 450.2,103.4 450.3,89.2 450.4,101.7 450.4,112.1 450.5,119.6 450.6,121.6 450.7,120.7 450.7,126.3 450.8,127.7 450.9,123.5 451.0,122.8 451.0,121.1 451.1,126.9 451.2,128.3 451.3,123.0 451.3,124.1 451.4,123.4 451.5,124.6 451.6,126.1 451.7,117.8 451.7,122.9 451.8,127.1 451.9,121.8 452.0,128.5 452.0,128.9 452.1,121.6 452.2,122.1 452.3,128.6 452.3,119.4 452.4,121.2 452.5,119.4 452.6,124.5 452.6,125.5 452.7,125.9 452.8,125.2 452.9,116.1 452.9,108.1 453.0,99.2 453.1,98.8 453.2,75.6 453.2,92.2 453.3,81.1 453.4,92.5 453.5,101.0 453.5,107.1 453.6,126.3 453.7,116.9 453.8,121.1 453.8,130.5 453.9,130.2 454.0,123.6 454.1,121.2 454.2,119.7 454.2,120.2 454.3,122.2 454.4,118.6 454.5,123.6 454.5,123.4 454.6,120.0 454.7,119.8 454.8,120.2 454.8,122.3 454.9,123.1 455.0,125.5 455.1,118.3 455.1,122.7 455.2,123.8 455.3,124.7 455.4,126.4 455.4,122.5 455.5,127.6 455.6,130.8 455.7,125.1 455.7,128.5 455.8,126.8 455.9,125.1 456.0,123.1 456.0,124.5 456.1,130.1 456.2,124.0 456.3,121.4 456.3,122.2 456.4,126.2 456.5,121.8 456.6,126.6 456.6,126.0 456.7,124.5 456.8,128.9 456.9,119.7 457.0,122.0 457.0,123.2 457.1,124.9 457.2,119.5 457.3,121.9 457.3,127.7 457.4,122.4 457.5,126.5 457.6,122.9 457.6,121.3 457.7,125.2 457.8,127.6 457.9,123.4 457.9,119.5 458.0,121.1 458.1,122.1 458.2,122.7 458.2,120.6 458.3,125.6 458.4,120.2 458.5,126.5 458.5,120.2 458.6,120.4 458.7,126.9 458.8,125.6 458.8,122.3 458.9,121.5 459.0,122.7 459.1,123.5 459.1,124.1 459.2,126.6 459.3,120.8 459.4,123.4 459.4,123.5 459.5,119.1 459.6,126.9 459.7,128.5 459.8,123.3 459.8,117.9 459.9,120.8 460.0,126.1 460.1,117.0 460.1,117.1 460.2,121.6 460.3,124.6 460.4,125.7 460.4,126.3 460.5,115.9 460.6,121.3 460.7,120.1 460.7,120.1 460.8,125.5 460.9,124.4 461.0,120.8 461.0,123.8 461.1,123.7 461.2,127.0 461.3,121.4 461.3,125.0 461.4,120.9 461.5,124.4 461.6,123.0 461.6,123.9 461.7,123.1 461.8,127.7 461.9,121.0 461.9,120.3 462.0,121.5 462.1,124.6 462.2,125.3 462.3,123.0 462.3,121.2 462.4,122.0 462.5,121.2 462.6,124.7 462.6,123.2 462.7,123.9 462.8,123.4 462.9,123.5 462.9,126.6 463.0,121.8 463.1,124.5 463.2,124.6 463.2,121.0 463.3,128.0 463.4,123.8 463.5,119.8 463.5,125.9 463.6,124.8 463.7,125.2 463.8,122.5 463.8,122.0 463.9,123.5 464.0,119.0 464.1,123.5 464.1,123.2 464.2,125.6 464.3,122.4 464.4,124.8 464.4,118.8 464.5,120.7 464.6,125.2 464.7,127.2 464.7,125.5 464.8,118.5 464.9,119.9 465.0,121.1 465.1,126.5 465.1,121.1 465.2,123.5 465.3,124.2 465.4,124.2 465.4,122.4 465.5,123.8 465.6,125.3 465.7,123.3 465.7,122.7 465.8,125.1 465.9,127.3 466.0,130.1 466.0,119.5 466.1,123.6 466.2,123.1 466.3,119.6 466.3,122.0 466.4,120.8 466.5,119.9 466.6,121.0 466.6,124.6 466.7,119.7 466.8,121.2 466.9,122.3 466.9,119.8 467.0,119.1 467.1,118.0 467.2,120.4 467.2,126.7 467.3,117.6 467.4,125.1 467.5,119.9 467.5,119.8 467.6,124.8 467.7,124.2 467.8,124.4 467.9,122.5 467.9,125.0 468.0,120.7 468.1,123.5 468.2,125.3 468.2,122.4 468.3,120.0 468.4,127.4 468.5,121.8 468.5,119.6 468.6,124.3 468.7,126.2 468.8,124.1 468.8,118.9 468.9,122.6 469.0,123.4 469.1,124.3 469.1,118.3 469.2,118.7 469.3,123.0 469.4,122.5 469.4,123.8 469.5,125.8 469.6,118.4 469.7,119.1 469.7,120.7 469.8,126.8 469.9,121.8 470.0,125.2 470.0,115.3 470.1,123.0 470.2,125.0 470.3,126.5 470.4,120.3 470.4,128.3 470.5,120.0 470.6,126.7 470.7,127.4 470.7,122.2 470.8,118.4 470.9,128.9 471.0,123.5 471.0,118.8 471.1,123.8 471.2,119.3 471.3,122.9 471.3,119.1 471.4,115.6 471.5,124.3 471.6,120.2 471.6,121.9 471.7,122.6 471.8,121.7 471.9,120.1 471.9,123.3 472.0,124.0 472.1,122.9 472.2,121.2 472.2,122.3 472.3,126.7 472.4,125.8 472.5,121.5 472.5,124.1 472.6,124.1 472.7,124.1 472.8,122.5 472.8,123.8 472.9,121.4 473.0,124.5 473.1,124.0 473.2,124.4 473.2,124.4 473.3,124.1 473.4,120.1 473.5,118.9 473.5,122.8 473.6,121.2 473.7,124.5 473.8,120.4 473.8,120.9 473.9,118.3 474.0,121.9 474.1,121.1 474.1,125.7 474.2,122.4 474.3,126.4 474.4,120.0 474.4,117.5 474.5,125.4 474.6,123.7 474.7,126.9 474.7,120.3 474.8,117.1 474.9,126.9 475.0,123.2 475.0,120.6 475.1,128.7 475.2,122.5 475.3,120.0 475.3,123.6 475.4,120.9 475.5,120.0 475.6,123.6 475.6,122.5 475.7,121.9 475.8,122.1 475.9,118.4 476.0,124.5 476.0,128.0 476.1,123.2 476.2,126.1 476.3,128.2 476.3,121.7 476.4,120.3 476.5,119.5 476.6,120.9 476.6,124.6 476.7,121.9 476.8,125.8 476.9,120.4 476.9,127.1 477.0,121.3 477.1,122.0 477.2,122.4 477.2,121.6 477.3,121.9 477.4,124.0 477.5,121.9 477.5,123.5 477.6,119.8 477.7,119.8 477.8,118.0 477.8,124.3 477.9,119.6 478.0,123.4 478.1,122.4 478.1,122.4 478.2,121.4 478.3,123.7 478.4,123.5 478.5,126.9 478.5,121.4 478.6,121.0 478.7,118.5 478.8,128.5 478.8,120.0 478.9,124.4 479.0,124.3 479.1,118.4 479.1,120.1 479.2,124.1 479.3,122.0 479.4,118.2 479.4,122.3 479.5,126.4 479.6,122.9 479.7,123.5 479.7,125.6 479.8,128.2 479.9,122.0 480.0,120.0 480.0,121.6 480.1,120.4 480.2,117.8 480.3,121.3 480.3,118.9 480.4,125.4 480.5,121.4 480.6,114.0 480.6,118.6 480.7,122.7 480.8,119.8 480.9,119.1 480.9,119.8 481.0,118.9 481.1,123.2 481.2,120.0 481.3,118.6 481.3,123.8 481.4,117.8 481.5,121.9 481.6,118.3 481.6,119.9 481.7,119.7 481.8,117.8 481.9,119.4 481.9,125.5 482.0,117.8 482.1,127.0 482.2,123.5 482.2,125.7 482.3,119.6 482.4,124.3 482.5,121.7 482.5,127.1 482.6,119.8 482.7,124.7 482.8,119.3 482.8,125.2 482.9,119.9 483.0,117.7 483.1,116.9 483.1,119.2 483.2,125.6 483.3,117.0 483.4,118.6 483.4,120.6 483.5,121.0 483.6,121.6 483.7,125.7 483.7,120.2 483.8,116.5 483.9,123.1 484.0,119.6 484.1,120.2 484.1,121.2 484.2,125.6 484.3,124.5 484.4,121.0 484.4,119.8 484.5,122.2 484.6,118.6 484.7,115.5 484.7,118.8 484.8,123.7 484.9,118.8 485.0,119.3 485.0,125.1 485.1,125.2 485.2,125.2 485.3,118.5 485.3,122.3 485.4,124.8 485.5,123.9 485.6,119.6 485.6,120.1 485.7,118.5 485.8,119.2 485.9,121.9 485.9,121.8 486.0,118.1 486.1,122.7 486.2,121.3 486.2,124.6 486.3,119.1 486.4,121.4 486.5,114.0 486.6,123.0 486.6,122.4 486.7,123.2 486.8,120.8 486.9,120.7 486.9,120.5 487.0,124.4 487.1,117.8 487.2,120.4 487.2,122.5 487.3,119.6 487.4,117.9 487.5,119.7 487.5,121.6 487.6,125.3 487.7,119.1 487.8,114.2 487.8,123.6 487.9,120.6 488.0,122.4 488.1,120.2 488.1,120.4 488.2,114.8 488.3,122.2 488.4,117.2 488.4,122.4 488.5,114.7 488.6,123.9 488.7,119.8 488.7,113.4 488.8,120.7 488.9,120.6 489.0,120.6 489.0,117.0 489.1,126.9 489.2,118.7 489.3,123.2 489.4,112.8 489.4,122.0 489.5,121.6 489.6,120.1 489.7,123.8 489.7,118.4 489.8,121.5 489.9,119.9 490.0,120.9 490.0,117.2 490.1,122.0 490.2,121.7 490.3,121.0 490.3,121.0 490.4,118.9 490.5,118.3 490.6,119.4 490.6,121.2 490.7,116.5 490.8,119.8 490.9,124.7 490.9,122.2 491.0,117.3 491.1,123.7 491.2,115.1 491.2,119.5 491.3,123.4 491.4,122.0 491.5,121.1 491.5,117.0 491.6,115.2 491.7,121.6 491.8,120.8 491.8,125.0 491.9,118.2 492.0,116.7 492.1,118.3 492.2,114.5 492.2,118.8 492.3,119.7 492.4,119.3 492.5,125.1 492.5,125.3 492.6,118.8 492.7,118.1 492.8,123.5 492.8,122.9 492.9,116.1 493.0,117.6 493.1,117.4 493.1,115.9 493.2,118.0 493.3,116.0 493.4,121.9 493.4,121.1 493.5,114.6 493.6,117.8 493.7,117.9 493.7,123.8 493.8,117.8 493.9,122.3 494.0,124.5 494.0,117.0 494.1,121.2 494.2,120.0 494.3,118.1 494.3,115.6 494.4,118.6 494.5,114.7 494.6,121.8 494.7,113.8 494.7,119.8 494.8,114.9 494.9,117.4 495.0,117.1 495.0,119.8 495.1,121.2 495.2,123.0 495.3,123.7 495.3,119.7 495.4,116.3 495.5,123.3 495.6,115.9 495.6,119.6 495.7,117.5 495.8,117.7 495.9,120.1 495.9,116.1 496.0,119.2 496.1,119.2 496.2,122.7 496.2,122.9 496.3,121.9 496.4,119.7 496.5,124.7 496.5,122.4 496.6,115.7 496.7,120.4 496.8,120.9 496.8,117.0 496.9,120.2 497.0,118.5 497.1,116.8 497.1,119.6 497.2,117.6 497.3,115.8 497.4,119.5 497.5,113.9 497.5,122.8 497.6,118.4 497.7,119.7 497.8,122.3 497.8,122.2 497.9,118.5 498.0,120.4 498.1,122.3 498.1,123.6 498.2,117.0 498.3,120.2 498.4,116.1 498.4,116.6 498.5,119.1 498.6,118.6 498.7,116.0 498.7,116.5 498.8,119.0 498.9,114.9 499.0,119.6 499.0,115.6 499.1,123.4 499.2,119.6 499.3,121.3 499.3,118.0 499.4,122.4 499.5,120.6 499.6,121.3 499.6,119.4 499.7,120.9 499.8,118.7 499.9,120.9 499.9,118.1 500.0,118.1 500.1,119.5 500.2,119.3 500.3,118.8 500.3,116.7 500.4,118.2 500.5,121.8 500.6,119.4 500.6,120.0 500.7,117.4 500.8,123.1 500.9,118.3 500.9,120.6 501.0,118.9 501.1,122.5 501.2,114.2 501.2,112.7 501.3,117.8 501.4,111.3 501.5,116.4 501.5,116.6 501.6,118.0 501.7,120.7 501.8,114.7 501.8,120.3 501.9,122.5 502.0,123.6 502.1,115.4 502.1,117.7 502.2,124.5 502.3,115.8 502.4,122.2 502.4,119.9 502.5,120.5 502.6,113.8 502.7,114.5 502.8,116.1 502.8,120.6 502.9,121.2 503.0,116.3 503.1,119.6 503.1,119.2 503.2,115.8 503.3,115.4 503.4,112.8 503.4,115.2 503.5,116.1 503.6,122.2 503.7,121.0 503.7,117.9 503.8,119.4 503.9,115.9 504.0,111.3 504.0,119.1 504.1,120.1 504.2,116.0 504.3,122.0 504.3,121.5 504.4,120.8 504.5,112.6 504.6,118.4 504.6,120.2 504.7,115.6 504.8,116.7 504.9,120.9 504.9,124.5 505.0,120.7 505.1,119.0 505.2,116.8 505.2,115.0 505.3,115.7 505.4,119.4 505.5,116.8 505.6,122.4 505.6,114.3 505.7,114.8 505.8,118.2 505.9,119.0 505.9,118.7 506.0,115.1 506.1,116.1 506.2,121.2 506.2,117.3 506.3,116.9 506.4,120.3 506.5,119.6 506.5,118.4 506.6,123.5 506.7,114.3 506.8,119.5 506.8,116.6 506.9,121.4 507.0,115.5 507.1,120.4 507.1,117.2 507.2,126.0 507.3,119.1 507.4,125.0 507.4,116.3 507.5,116.5 507.6,119.4 507.7,113.2 507.7,115.5 507.8,122.8 507.9,121.6 508.0,117.6 508.1,121.7 508.1,119.7 508.2,119.7 508.3,115.4 508.4,121.2 508.4,116.5 508.5,122.7 508.6,115.1 508.7,125.8 508.7,116.2 508.8,114.1 508.9,114.8 509.0,119.3 509.0,119.0 509.1,116.1 509.2,120.5 509.3,124.0 509.3,118.5 509.4,120.5 509.5,120.8 509.6,120.7 509.6,112.9 509.7,122.7 509.8,118.0 509.9,118.6 509.9,121.8 510.0,110.2 510.1,120.6 510.2,119.1 510.2,123.2 510.3,119.3 510.4,122.3 510.5,121.5 510.5,114.6 510.6,118.0 510.7,116.0 510.8,118.0 510.9,115.5 510.9,113.6 511.0,117.7 511.1,117.1 511.2,119.5 511.2,123.1 511.3,117.0 511.4,117.4 511.5,121.7 511.5,121.0 511.6,113.2 511.7,117.9 511.8,113.4 511.8,115.3 511.9,116.3 512.0,117.3 512.1,116.9 512.1,118.4 512.2,118.7 512.3,122.4 512.4,120.1 512.4,114.5 512.5,121.8 512.6,118.6 512.7,114.1 512.7,114.7 512.8,117.8 512.9,117.9 513.0,118.7 513.0,113.0 513.1,116.6 513.2,123.8 513.3,112.4 513.3,113.5 513.4,117.6 513.5,118.4 513.6,115.8 513.7,117.9 513.7,113.9 513.8,114.9 513.9,117.3 514.0,116.5 514.0,118.5 514.1,119.5 514.2,114.7 514.3,117.1 514.3,114.2 514.4,116.3 514.5,117.7 514.6,119.5 514.6,115.0 514.7,119.2 514.8,117.0 514.9,116.5 514.9,116.6 515.0,115.5 515.1,118.4 515.2,113.6 515.2,118.6 515.3,115.7 515.4,121.6 515.5,115.8 515.5,118.2 515.6,119.4 515.7,119.5 515.8,121.9 515.8,122.2 515.9,116.9 516.0,115.9 516.1,121.6 516.2,118.6 516.2,117.0 516.3,117.5 516.4,120.0 516.5,119.8 516.5,111.1 516.6,115.1 516.7,115.8 516.8,114.3 516.8,120.7 516.9,121.1 517.0,117.0 517.1,121.7 517.1,116.5 517.2,121.6 517.3,119.9 517.4,118.2 517.4,119.2 517.5,116.2 517.6,121.0 517.7,116.6 517.7,119.4 517.8,115.3 517.9,115.4 518.0,118.1 518.0,118.2 518.1,121.5 518.2,117.2 518.3,118.7 518.3,118.8 518.4,123.6 518.5,118.1 518.6,114.3 518.6,113.2 518.7,116.4 518.8,117.6 518.9,113.9 519.0,113.8 519.0,114.4 519.1,117.0 519.2,118.9 519.3,114.9 519.3,114.5 519.4,120.7 519.5,122.2 519.6,118.5 519.6,115.2 519.7,115.1 519.8,118.9 519.9,111.7 519.9,112.1 520.0,119.5 520.1,112.4 520.2,114.4 520.2,122.8 520.3,115.2 520.4,120.7 520.5,115.8 520.5,113.4 520.6,118.0 520.7,116.4 520.8,119.2 520.8,112.3 520.9,118.2 521.0,117.4 521.1,119.1 521.1,117.5 521.2,113.8 521.3,120.7 521.4,119.4 521.4,119.5 521.5,118.6 521.6,117.8 521.7,115.0 521.8,111.5 521.8,112.0 521.9,116.2 522.0,110.0 522.1,114.7 522.1,119.1 522.2,113.8 522.3,122.2 522.4,111.6 522.4,118.5 522.5,110.7 522.6,117.5 522.7,121.4 522.7,115.5 522.8,112.7 522.9,113.1 523.0,118.4 523.0,119.0 523.1,117.6 523.2,114.9 523.3,113.1 523.3,113.9 523.4,113.2 523.5,111.6 523.6,119.5 523.6,120.1 523.7,120.2 523.8,121.4 523.9,114.3 523.9,110.7 524.0,116.9 524.1,115.4 524.2,112.8 524.3,117.5 524.3,114.8 524.4,118.1 524.5,117.3 524.6,113.6 524.6,116.1 524.7,114.5 524.8,117.1 524.9,115.8 524.9,113.1 525.0,117.3 525.1,115.3 525.2,115.5 525.2,116.3 525.3,122.6 525.4,117.1 525.5,115.4 525.5,114.0 525.6,111.0 525.7,115.9 525.8,116.0 525.8,114.3 525.9,118.1 526.0,117.1 526.1,117.9 526.1,115.2 526.2,120.4 526.3,117.7 526.4,114.1 526.4,116.0 526.5,118.9 526.6,114.1 526.7,119.7 526.7,114.7 526.8,110.5 526.9,118.1 527.0,114.4 527.1,116.0 527.1,115.5 527.2,119.1 527.3,115.9 527.4,118.4 527.4,113.3 527.5,116.0 527.6,114.1 527.7,115.8 527.7,122.2 527.8,113.5 527.9,116.9 528.0,114.7 528.0,117.0 528.1,113.2 528.2,114.1 528.3,110.6 528.3,119.3 528.4,115.8 528.5,116.4 528.6,111.8 528.6,120.1 528.7,118.9 528.8,114.5 528.9,116.4 528.9,114.8 529.0,118.4 529.1,109.1 529.2,116.1 529.2,116.3 529.3,118.1 529.4,112.5 529.5,113.4 529.5,112.4 529.6,118.3 529.7,116.8 529.8,118.8 529.9,118.0 529.9,117.6 530.0,112.3 530.1,115.1 530.2,119.6 530.2,116.7 530.3,112.9 530.4,113.3 530.5,114.4 530.5,115.0 530.6,116.1 530.7,115.8 530.8,117.1 530.8,118.9 530.9,117.6 531.0,112.7 531.1,121.8 531.1,115.1 531.2,113.8 531.3,119.0 531.4,119.9 531.4,117.2 531.5,119.6 531.6,115.3 531.7,115.4 531.7,112.6 531.8,118.8 531.9,116.4 532.0,120.7 532.0,114.9 532.1,119.2 532.2,116.2 532.3,120.9 532.4,116.0 532.4,120.1 532.5,113.0 532.6,114.7 532.7,114.4 532.7,119.0 532.8,109.8 532.9,112.5 533.0,116.5 533.0,115.7 533.1,115.7 533.2,117.1 533.3,115.1 533.3,117.7 533.4,119.6 533.5,108.1 533.6,119.4 533.6,113.4 533.7,111.8 533.8,115.4 533.9,115.3 533.9,116.3 534.0,112.2 534.1,115.2 534.2,113.7 534.2,118.6 534.3,115.6 534.4,113.6 534.5,112.3 534.5,115.3 534.6,121.0 534.7,110.3 534.8,113.3 534.8,118.9 534.9,118.2 535.0,114.6 535.1,114.9 535.2,114.0 535.2,112.7 535.3,114.4 535.4,116.8 535.5,116.3 535.5,110.9 535.6,114.7 535.7,113.3 535.8,118.8 535.8,111.2 535.9,111.9 536.0,111.3 536.1,125.7 536.1,120.4 536.2,114.6 536.3,118.1 536.4,110.2 536.4,114.6 536.5,122.0 536.6,114.8 536.7,111.3 536.7,113.4 536.8,113.5 536.9,114.7 537.0,114.7 537.0,113.7 537.1,110.7 537.2,115.0 537.3,115.0 537.3,110.4 537.4,116.8 537.5,114.6 537.6,120.2 537.6,116.5 537.7,113.2 537.8,112.5 537.9,120.4 538.0,118.6 538.0,116.7 538.1,117.7 538.2,111.1 538.3,118.6 538.3,114.7 538.4,115.1 538.5,118.2 538.6,116.9 538.6,110.7 538.7,117.2 538.8,114.7 538.9,118.7 538.9,115.8 539.0,117.1 539.1,112.4 539.2,112.9 539.2,112.0 539.3,116.3 539.4,112.6 539.5,114.4 539.5,121.9 539.6,118.3 539.7,122.9 539.8,113.7 539.8,113.2 539.9,114.6 540.0,117.8 540.1,113.5 540.1,121.9 540.2,113.3 540.3,120.0 540.4,112.9 540.5,113.3 540.5,116.9 540.6,115.7 540.7,114.7 540.8,114.3 540.8,116.5 540.9,113.9 541.0,121.1 541.1,117.8 541.1,117.0 541.2,112.5 541.3,123.9 541.4,114.5 541.4,113.3 541.5,112.5 541.6,107.6 541.7,113.2 541.7,109.0 541.8,110.5 541.9,118.9 542.0,113.8 542.0,112.3 542.1,119.8 542.2,112.7 542.3,120.8 542.3,113.9 542.4,115.9 542.5,113.6 542.6,113.0 542.6,115.3 542.7,118.8 542.8,115.0 542.9,111.7 542.9,109.4 543.0,118.3 543.1,112.5" fill="none" stroke="#EF553B" stroke-width="0.55" stroke-opacity="0.95" stroke-linejoin="round" clip-path="url(#cB)"/>
<line x1="308.3" y1="19.5" x2="308.3" y2="149.3" stroke="#6a6a6a" stroke-width="1"/>
<line x1="307.8" y1="149.3" x2="543.8" y2="149.3" stroke="#6a6a6a" stroke-width="1"/>
<line x1="543.3" y1="19.5" x2="543.3" y2="149.3" stroke="#8a8a8a" stroke-width="0.8"/>
<line x1="308.7" y1="149.3" x2="308.7" y2="147.70000000000002" stroke="#6a6a6a" stroke-width="0.6"/>
<line x1="308.7" y1="19.5" x2="308.7" y2="21.1" stroke="#6a6a6a" stroke-width="0.6"/>
<text x="308.7" y="156.0" font-size="5.3" fill="#6e7382" text-anchor="middle" textLength="2.36" lengthAdjust="spacingAndGlyphs">0</text>
<line x1="346.4" y1="149.3" x2="346.4" y2="147.70000000000002" stroke="#6a6a6a" stroke-width="0.6"/>
<line x1="346.4" y1="19.5" x2="346.4" y2="21.1" stroke="#6a6a6a" stroke-width="0.6"/>
<text x="346.4" y="156.0" font-size="5.3" fill="#6e7382" text-anchor="middle" textLength="7.08" lengthAdjust="spacingAndGlyphs">500</text>
<line x1="384.2" y1="149.3" x2="384.2" y2="147.70000000000002" stroke="#6a6a6a" stroke-width="0.6"/>
<line x1="384.2" y1="19.5" x2="384.2" y2="21.1" stroke="#6a6a6a" stroke-width="0.6"/>
<text x="384.2" y="156.0" font-size="5.3" fill="#6e7382" text-anchor="middle" textLength="9.43" lengthAdjust="spacingAndGlyphs">1000</text>
<line x1="421.9" y1="149.3" x2="421.9" y2="147.70000000000002" stroke="#6a6a6a" stroke-width="0.6"/>
<line x1="421.9" y1="19.5" x2="421.9" y2="21.1" stroke="#6a6a6a" stroke-width="0.6"/>
<text x="421.9" y="156.0" font-size="5.3" fill="#6e7382" text-anchor="middle" textLength="9.43" lengthAdjust="spacingAndGlyphs">1500</text>
<line x1="459.7" y1="149.3" x2="459.7" y2="147.70000000000002" stroke="#6a6a6a" stroke-width="0.6"/>
<line x1="459.7" y1="19.5" x2="459.7" y2="21.1" stroke="#6a6a6a" stroke-width="0.6"/>
<text x="459.7" y="156.0" font-size="5.3" fill="#6e7382" text-anchor="middle" textLength="9.43" lengthAdjust="spacingAndGlyphs">2000</text>
<line x1="497.4" y1="149.3" x2="497.4" y2="147.70000000000002" stroke="#6a6a6a" stroke-width="0.6"/>
<line x1="497.4" y1="19.5" x2="497.4" y2="21.1" stroke="#6a6a6a" stroke-width="0.6"/>
<text x="497.4" y="156.0" font-size="5.3" fill="#6e7382" text-anchor="middle" textLength="9.43" lengthAdjust="spacingAndGlyphs">2500</text>
<line x1="535.2" y1="149.3" x2="535.2" y2="147.70000000000002" stroke="#6a6a6a" stroke-width="0.6"/>
<line x1="535.2" y1="19.5" x2="535.2" y2="21.1" stroke="#6a6a6a" stroke-width="0.6"/>
<text x="535.2" y="156.0" font-size="5.3" fill="#6e7382" text-anchor="middle" textLength="9.43" lengthAdjust="spacingAndGlyphs">3000</text>
<line x1="308.3" y1="143.7" x2="309.90000000000003" y2="143.7" stroke="#6a6a6a" stroke-width="0.6"/>
<line x1="543.3" y1="143.7" x2="541.6999999999999" y2="143.7" stroke="#6a6a6a" stroke-width="0.6"/>
<text x="307.0" y="145.45" font-size="5.3" fill="#6e7382" text-anchor="end" textLength="9.43" lengthAdjust="spacingAndGlyphs">2000</text>
<line x1="308.3" y1="127.0" x2="309.90000000000003" y2="127.0" stroke="#6a6a6a" stroke-width="0.6"/>
<line x1="543.3" y1="127.0" x2="541.6999999999999" y2="127.0" stroke="#6a6a6a" stroke-width="0.6"/>
<text x="307.0" y="128.75" font-size="5.3" fill="#6e7382" text-anchor="end" textLength="9.43" lengthAdjust="spacingAndGlyphs">2100</text>
<line x1="308.3" y1="110.3" x2="309.90000000000003" y2="110.3" stroke="#6a6a6a" stroke-width="0.6"/>
<line x1="543.3" y1="110.3" x2="541.6999999999999" y2="110.3" stroke="#6a6a6a" stroke-width="0.6"/>
<text x="307.0" y="112.05" font-size="5.3" fill="#6e7382" text-anchor="end" textLength="9.43" lengthAdjust="spacingAndGlyphs">2200</text>
<line x1="308.3" y1="93.6" x2="309.90000000000003" y2="93.6" stroke="#6a6a6a" stroke-width="0.6"/>
<line x1="543.3" y1="93.6" x2="541.6999999999999" y2="93.6" stroke="#6a6a6a" stroke-width="0.6"/>
<text x="307.0" y="95.35" font-size="5.3" fill="#6e7382" text-anchor="end" textLength="9.43" lengthAdjust="spacingAndGlyphs">2300</text>
<line x1="308.3" y1="76.9" x2="309.90000000000003" y2="76.9" stroke="#6a6a6a" stroke-width="0.6"/>
<line x1="543.3" y1="76.9" x2="541.6999999999999" y2="76.9" stroke="#6a6a6a" stroke-width="0.6"/>
<text x="307.0" y="78.65" font-size="5.3" fill="#6e7382" text-anchor="end" textLength="9.43" lengthAdjust="spacingAndGlyphs">2400</text>
<line x1="308.3" y1="60.1" x2="309.90000000000003" y2="60.1" stroke="#6a6a6a" stroke-width="0.6"/>
<line x1="543.3" y1="60.1" x2="541.6999999999999" y2="60.1" stroke="#6a6a6a" stroke-width="0.6"/>
<text x="307.0" y="61.85" font-size="5.3" fill="#6e7382" text-anchor="end" textLength="9.43" lengthAdjust="spacingAndGlyphs">2500</text>
<line x1="308.3" y1="43.4" x2="309.90000000000003" y2="43.4" stroke="#6a6a6a" stroke-width="0.6"/>
<line x1="543.3" y1="43.4" x2="541.6999999999999" y2="43.4" stroke="#6a6a6a" stroke-width="0.6"/>
<text x="307.0" y="45.15" font-size="5.3" fill="#6e7382" text-anchor="end" textLength="9.43" lengthAdjust="spacingAndGlyphs">2600</text>
<line x1="308.3" y1="26.7" x2="309.90000000000003" y2="26.7" stroke="#6a6a6a" stroke-width="0.6"/>
<line x1="543.3" y1="26.7" x2="541.6999999999999" y2="26.7" stroke="#6a6a6a" stroke-width="0.6"/>
<text x="307.0" y="28.45" font-size="5.3" fill="#6e7382" text-anchor="end" textLength="9.43" lengthAdjust="spacingAndGlyphs">2700</text>
<rect x="308" y="5" width="235.6" height="14.2" fill="#FFBABD"/>
<line x1="308" y1="19.2" x2="543.6" y2="19.2" stroke="#D98A8F" stroke-width="0.9"/>
<text x="425" y="15" font-size="8.6" fill="#1e1e1e" stroke="#1e1e1e" stroke-width="0.15" text-anchor="middle">Laser2</text>
<text x="0" y="0" font-size="8.8" fill="#1a1a1a" stroke="#1a1a1a" stroke-width="0.12" text-anchor="middle" transform="translate(288.8,84.9) rotate(-90)" dominant-baseline="central">Brightness of center disk</text>
<text x="336.7" y="167.6" font-size="8.8" fill="#1a1a1a" stroke="#1a1a1a" stroke-width="0.12">Arranged in ascending order of acquisition time</text>
<rect x="524.8" y="158.1" width="19.300000000000068" height="12.400000000000006" fill="#0CE4E4"/>
<text x="534.45" y="167.3" font-size="9" fill="#0b3030" stroke="#0b3030" stroke-width="0.45" text-anchor="middle">(b)</text>
<rect x="34.5" y="175.6" width="235.0" height="130.70000000000002" fill="#FFFFFF"/>
<line x1="93.6" y1="175.6" x2="93.6" y2="306.3" stroke="#F4F5F8" stroke-width="0.8"/>
<line x1="151.9" y1="175.6" x2="151.9" y2="306.3" stroke="#F4F5F8" stroke-width="0.8"/>
<line x1="210.2" y1="175.6" x2="210.2" y2="306.3" stroke="#F4F5F8" stroke-width="0.8"/>
<line x1="268.6" y1="175.6" x2="268.6" y2="306.3" stroke="#F4F5F8" stroke-width="0.8"/>
<line x1="34.5" y1="299.2" x2="269.5" y2="299.2" stroke="#F4F5F8" stroke-width="0.8"/>
<line x1="34.5" y1="281.8" x2="269.5" y2="281.8" stroke="#F4F5F8" stroke-width="0.8"/>
<line x1="34.5" y1="264.3" x2="269.5" y2="264.3" stroke="#F4F5F8" stroke-width="0.8"/>
<line x1="34.5" y1="246.8" x2="269.5" y2="246.8" stroke="#F4F5F8" stroke-width="0.8"/>
<line x1="34.5" y1="229.4" x2="269.5" y2="229.4" stroke="#F4F5F8" stroke-width="0.8"/>
<line x1="34.5" y1="211.9" x2="269.5" y2="211.9" stroke="#F4F5F8" stroke-width="0.8"/>
<line x1="34.5" y1="194.5" x2="269.5" y2="194.5" stroke="#F4F5F8" stroke-width="0.8"/>
<line x1="34.5" y1="177.1" x2="269.5" y2="177.1" stroke="#F4F5F8" stroke-width="0.8"/>
<polygon points="35.0,299.0 35.8,297.6 36.6,296.2 37.4,294.9 38.1,293.7 38.9,292.6 39.7,291.6 40.5,290.6 41.3,289.7 42.1,288.8 42.8,288.0 43.6,287.2 44.4,286.4 45.2,285.7 46.0,285.0 46.8,284.3 47.5,283.7 48.3,283.1 49.1,282.5 49.9,282.0 50.7,281.6 51.5,281.1 52.3,280.7 53.0,280.2 53.8,279.8 54.6,279.3 55.4,278.8 56.2,278.3 57.0,277.7 57.7,277.2 58.5,276.7 59.3,276.1 60.1,275.6 60.9,275.0 61.7,274.5 62.4,273.9 63.2,273.3 64.0,272.8 64.8,272.2 65.6,271.6 66.4,271.0 67.2,270.5 67.9,269.9 68.7,269.3 69.5,268.7 70.3,268.1 71.1,267.5 71.9,266.9 72.6,266.3 73.4,265.7 74.2,265.1 75.0,264.5 75.8,263.9 76.6,263.3 77.4,262.7 78.1,262.1 78.9,261.5 79.7,261.0 80.5,260.4 81.3,259.8 82.1,259.2 82.8,258.6 83.6,258.0 84.4,257.4 85.2,256.8 86.0,256.3 86.8,255.7 87.5,255.1 88.3,254.5 89.1,254.0 89.9,253.4 90.7,252.8 91.5,252.3 92.3,251.7 93.0,251.2 93.8,250.7 94.6,250.1 95.4,249.6 96.2,249.1 97.0,248.6 97.7,248.1 98.5,247.6 99.3,247.0 100.1,246.5 100.9,246.0 101.7,245.5 102.4,245.0 103.2,244.5 104.0,244.0 104.8,243.5 105.6,243.0 106.4,242.5 107.2,242.0 107.9,241.5 108.7,241.0 109.5,240.5 110.3,240.0 111.1,239.5 111.9,239.0 112.6,238.5 113.4,238.0 114.2,237.5 115.0,237.0 115.8,236.5 116.6,236.0 117.3,235.5 118.1,235.0 118.9,234.5 119.7,234.0 120.5,233.5 121.3,233.1 122.1,232.6 122.8,232.1 123.6,231.7 124.4,231.2 125.2,230.8 126.0,230.4 126.8,230.0 127.5,229.5 128.3,229.1 129.1,228.7 129.9,228.3 130.7,227.9 131.5,227.6 132.3,227.2 133.0,226.8 133.8,226.4 134.6,226.1 135.4,225.7 136.2,225.3 137.0,225.0 137.7,224.6 138.5,224.2 139.3,223.9 140.1,223.5 140.9,223.1 141.7,222.8 142.4,222.4 143.2,222.0 144.0,221.7 144.8,221.3 145.6,220.9 146.4,220.6 147.2,220.2 147.9,219.8 148.7,219.5 149.5,219.1 150.3,218.8 151.1,218.4 151.9,218.0 152.6,217.7 153.4,217.3 154.2,217.0 155.0,216.6 155.8,216.2 156.6,215.9 157.3,215.5 158.1,215.2 158.9,214.8 159.7,214.5 160.5,214.1 161.3,213.8 162.1,213.4 162.8,213.1 163.6,212.7 164.4,212.4 165.2,212.1 166.0,211.7 166.8,211.4 167.5,211.1 168.3,210.7 169.1,210.4 169.9,210.1 170.7,209.8 171.5,209.4 172.2,209.1 173.0,208.8 173.8,208.5 174.6,208.2 175.4,207.8 176.2,207.5 177.0,207.2 177.7,206.9 178.5,206.6 179.3,206.3 180.1,206.0 180.9,205.7 181.7,205.4 182.4,205.1 183.2,204.8 184.0,204.5 184.8,204.2 185.6,203.9 186.4,203.6 187.2,203.3 187.9,203.0 188.7,202.7 189.5,202.4 190.3,202.2 191.1,201.9 191.9,201.6 192.6,201.3 193.4,201.1 194.2,200.8 195.0,200.5 195.8,200.2 196.6,200.0 197.3,199.7 198.1,199.4 198.9,199.2 199.7,198.9 200.5,198.6 201.3,198.4 202.1,198.1 202.8,197.9 203.6,197.6 204.4,197.3 205.2,197.1 206.0,196.8 206.8,196.6 207.5,196.3 208.3,196.1 209.1,195.8 209.9,195.6 210.7,195.3 211.5,195.1 212.2,194.8 213.0,194.6 213.8,194.3 214.6,194.1 215.4,193.9 216.2,193.6 217.0,193.4 217.7,193.1 218.5,192.9 219.3,192.7 220.1,192.4 220.9,192.2 221.7,192.0 222.4,191.7 223.2,191.5 224.0,191.3 224.8,191.1 225.6,190.8 226.4,190.6 227.1,190.4 227.9,190.2 228.7,189.9 229.5,189.7 230.3,189.5 231.1,189.3 231.9,189.1 232.6,188.9 233.4,188.7 234.2,188.5 235.0,188.3 235.8,188.2 236.6,188.0 237.3,187.8 238.1,187.7 238.9,187.5 239.7,187.3 240.5,187.1 241.3,187.0 242.1,186.8 242.8,186.7 243.6,186.5 244.4,186.3 245.2,186.2 246.0,186.0 246.8,185.9 247.5,185.7 248.3,185.6 249.1,185.4 249.9,185.3 250.7,185.1 251.5,185.0 252.2,184.8 253.0,184.7 253.8,184.5 254.6,184.4 255.4,184.3 256.2,184.1 257.0,184.0 257.7,183.9 258.5,183.8 259.3,183.6 260.1,183.5 260.9,183.4 261.7,183.3 262.4,183.2 263.2,183.1 264.0,183.0 264.8,182.8 265.6,182.7 266.4,182.7 267.1,182.6 267.9,182.5 268.7,182.4 269.5,182.3 269.5,186.9 268.7,187.0 267.9,187.0 267.1,187.1 266.4,187.2 265.6,187.3 264.8,187.4 264.0,187.5 263.2,187.6 262.4,187.7 261.7,187.8 260.9,187.9 260.1,188.0 259.3,188.1 258.5,188.2 257.7,188.3 257.0,188.4 256.2,188.6 255.4,188.7 254.6,188.8 253.8,188.9 253.0,189.1 252.2,189.2 251.5,189.3 250.7,189.5 249.9,189.6 249.1,189.7 248.3,189.9 247.5,190.0 246.8,190.2 246.0,190.3 245.2,190.4 244.4,190.6 243.6,190.7 242.8,190.9 242.1,191.0 241.3,191.2 240.5,191.4 239.7,191.5 238.9,191.7 238.1,191.8 237.3,192.0 236.6,192.1 235.8,192.3 235.0,192.5 234.2,192.6 233.4,192.8 232.6,193.0 231.9,193.2 231.1,193.4 230.3,193.6 229.5,193.8 228.7,194.0 227.9,194.2 227.1,194.4 226.4,194.6 225.6,194.8 224.8,195.1 224.0,195.3 223.2,195.5 222.4,195.7 221.7,195.9 220.9,196.1 220.1,196.4 219.3,196.6 218.5,196.8 217.7,197.0 217.0,197.2 216.2,197.5 215.4,197.7 214.6,197.9 213.8,198.2 213.0,198.4 212.2,198.6 211.5,198.9 210.7,199.1 209.9,199.3 209.1,199.6 208.3,199.8 207.5,200.1 206.8,200.3 206.0,200.5 205.2,200.8 204.4,201.0 203.6,201.3 202.8,201.5 202.1,201.8 201.3,202.0 200.5,202.3 199.7,202.5 198.9,202.8 198.1,203.0 197.3,203.3 196.6,203.5 195.8,203.8 195.0,204.1 194.2,204.3 193.4,204.6 192.6,204.8 191.9,205.1 191.1,205.4 190.3,205.6 189.5,205.9 188.7,206.2 187.9,206.5 187.2,206.7 186.4,207.0 185.6,207.3 184.8,207.6 184.0,207.9 183.2,208.1 182.4,208.4 181.7,208.7 180.9,209.0 180.1,209.3 179.3,209.6 178.5,209.9 177.7,210.2 177.0,210.5 176.2,210.8 175.4,211.1 174.6,211.4 173.8,211.7 173.0,212.0 172.2,212.3 171.5,212.6 170.7,212.9 169.9,213.3 169.1,213.6 168.3,213.9 167.5,214.2 166.8,214.5 166.0,214.9 165.2,215.2 164.4,215.5 163.6,215.8 162.8,216.1 162.1,216.5 161.3,216.8 160.5,217.1 159.7,217.5 158.9,217.8 158.1,218.2 157.3,218.5 156.6,218.9 155.8,219.2 155.0,219.5 154.2,219.9 153.4,220.2 152.6,220.6 151.9,220.9 151.1,221.3 150.3,221.6 149.5,222.0 148.7,222.3 147.9,222.7 147.2,223.0 146.4,223.4 145.6,223.7 144.8,224.1 144.0,224.4 143.2,224.7 142.4,225.1 141.7,225.4 140.9,225.7 140.1,226.1 139.3,226.4 138.5,226.7 137.7,227.0 137.0,227.4 136.2,227.7 135.4,228.0 134.6,228.3 133.8,228.7 133.0,229.0 132.3,229.3 131.5,229.7 130.7,230.0 129.9,230.4 129.1,230.7 128.3,231.1 127.5,231.5 126.8,231.8 126.0,232.2 125.2,232.6 124.4,233.0 123.6,233.4 122.8,233.8 122.1,234.3 121.3,234.7 120.5,235.2 119.7,235.6 118.9,236.1 118.1,236.5 117.3,237.0 116.6,237.5 115.8,237.9 115.0,238.4 114.2,238.9 113.4,239.3 112.6,239.8 111.9,240.2 111.1,240.7 110.3,241.2 109.5,241.6 108.7,242.1 107.9,242.6 107.2,243.0 106.4,243.5 105.6,244.0 104.8,244.5 104.0,244.9 103.2,245.4 102.4,245.9 101.7,246.4 100.9,246.9 100.1,247.3 99.3,247.8 98.5,248.3 97.7,248.8 97.0,249.4 96.2,249.9 95.4,250.4 94.6,250.9 93.8,251.4 93.0,251.9 92.3,252.5 91.5,253.0 90.7,253.6 89.9,254.1 89.1,254.7 88.3,255.3 87.5,255.8 86.8,256.4 86.0,257.0 85.2,257.5 84.4,258.1 83.6,258.7 82.8,259.3 82.1,259.8 81.3,260.4 80.5,261.0 79.7,261.6 78.9,262.2 78.1,262.8 77.4,263.4 76.6,263.9 75.8,264.5 75.0,265.1 74.2,265.7 73.4,266.3 72.6,266.9 71.9,267.5 71.1,268.1 70.3,268.7 69.5,269.3 68.7,269.9 67.9,270.4 67.2,271.0 66.4,271.6 65.6,272.2 64.8,272.7 64.0,273.3 63.2,273.8 62.4,274.4 61.7,275.0 60.9,275.5 60.1,276.1 59.3,276.6 58.5,277.2 57.7,277.7 57.0,278.2 56.2,278.7 55.4,279.2 54.6,279.8 53.8,280.2 53.0,280.7 52.3,281.1 51.5,281.5 50.7,282.0 49.9,282.5 49.1,282.9 48.3,283.5 47.5,284.1 46.8,284.7 46.0,285.4 45.2,286.1 44.4,286.8 43.6,287.6 42.8,288.3 42.1,289.2 41.3,290.0 40.5,290.9 39.7,291.9 38.9,292.9 38.1,294.1 37.4,295.3 36.6,296.5 35.8,297.9 35.0,299.2" fill="#D8EAF7" stroke="#8EBFE2" stroke-width="1.1" clip-path="url(#cC)"/>
<polyline points="118.1,235.0 118.9,234.5 119.7,234.0 120.5,233.5 121.3,233.1 122.1,232.6 122.8,232.1 123.6,231.7 124.4,231.2 125.2,230.8 126.0,230.4 126.8,230.0 127.5,229.5 128.3,229.1 129.1,228.7 129.9,228.3 130.7,227.9 131.5,227.6 132.3,227.2 133.0,226.8 133.8,226.4 134.6,226.1 135.4,225.7 136.2,225.3 137.0,225.0 137.7,224.6 138.5,224.2 139.3,223.9 140.1,223.5 140.9,223.1 141.7,222.8 142.4,222.4 143.2,222.0 144.0,221.7 144.8,221.3 145.6,220.9 146.4,220.6 147.2,220.2 147.9,219.8 148.7,219.5 149.5,219.1 150.3,218.8 151.1,218.4 151.9,218.0 152.6,217.7 153.4,217.3 154.2,217.0 155.0,216.6 155.8,216.2 156.6,215.9 157.3,215.5 158.1,215.2 158.9,214.8 159.7,214.5 160.5,214.1 161.3,213.8 162.1,213.4 162.8,213.1 163.6,212.7 164.4,212.4 165.2,212.1 166.0,211.7 166.8,211.4 167.5,211.1 168.3,210.7 169.1,210.4 169.9,210.1 170.7,209.8 171.5,209.4 172.2,209.1 173.0,208.8 173.8,208.5 174.6,208.2 175.4,207.8 176.2,207.5 177.0,207.2 177.7,206.9 178.5,206.6 179.3,206.3 180.1,206.0 180.9,205.7 181.7,205.4 182.4,205.1 183.2,204.8 184.0,204.5 184.8,204.2 185.6,203.9 186.4,203.6 187.2,203.3 187.9,203.0 188.7,202.7 189.5,202.4 190.3,202.2 191.1,201.9 191.9,201.6 192.6,201.3 193.4,201.1 194.2,200.8 195.0,200.5 195.8,200.2 196.6,200.0 197.3,199.7 198.1,199.4 198.9,199.2 199.7,198.9 200.5,198.6 201.3,198.4 202.1,198.1 202.8,197.9 203.6,197.6 204.4,197.3 205.2,197.1 206.0,196.8 206.8,196.6 207.5,196.3 208.3,196.1 209.1,195.8 209.9,195.6 210.7,195.3 211.5,195.1 212.2,194.8 213.0,194.6 213.8,194.3 214.6,194.1 215.4,193.9 216.2,193.6 217.0,193.4 217.7,193.1 218.5,192.9 219.3,192.7 220.1,192.4 220.9,192.2 221.7,192.0 222.4,191.7 223.2,191.5 224.0,191.3 224.8,191.1 225.6,190.8 226.4,190.6 227.1,190.4 227.9,190.2 228.7,189.9 229.5,189.7 230.3,189.5 231.1,189.3 231.9,189.1 232.6,188.9 233.4,188.7 234.2,188.5 235.0,188.3 235.8,188.2 236.6,188.0 237.3,187.8 238.1,187.7 238.9,187.5 239.7,187.3 240.5,187.1 241.3,187.0 242.1,186.8 242.8,186.7 243.6,186.5 244.4,186.3 245.2,186.2 246.0,186.0 246.8,185.9 247.5,185.7 248.3,185.6 249.1,185.4 249.9,185.3 250.7,185.1 251.5,185.0 252.2,184.8 253.0,184.7 253.8,184.5 254.6,184.4 255.4,184.3 256.2,184.1 257.0,184.0 257.7,183.9 258.5,183.8 259.3,183.6 260.1,183.5 260.9,183.4 261.7,183.3 262.4,183.2 263.2,183.1 264.0,183.0 264.8,182.8 265.6,182.7 266.4,182.7 267.1,182.6 267.9,182.5 268.7,182.4 269.5,182.3" fill="none" stroke="#6E8FB8" stroke-width="0.9" stroke-opacity="0.9" stroke-linejoin="round" clip-path="url(#cC)"/>
<polyline points="118.1,236.5 118.9,236.1 119.7,235.6 120.5,235.2 121.3,234.7 122.1,234.3 122.8,233.8 123.6,233.4 124.4,233.0 125.2,232.6 126.0,232.2 126.8,231.8 127.5,231.5 128.3,231.1 129.1,230.7 129.9,230.4 130.7,230.0 131.5,229.7 132.3,229.3 133.0,229.0 133.8,228.7 134.6,228.3 135.4,228.0 136.2,227.7 137.0,227.4 137.7,227.0 138.5,226.7 139.3,226.4 140.1,226.1 140.9,225.7 141.7,225.4 142.4,225.1 143.2,224.7 144.0,224.4 144.8,224.1 145.6,223.7 146.4,223.4 147.2,223.0 147.9,222.7 148.7,222.3 149.5,222.0 150.3,221.6 151.1,221.3 151.9,220.9 152.6,220.6 153.4,220.2 154.2,219.9 155.0,219.5 155.8,219.2 156.6,218.9 157.3,218.5 158.1,218.2 158.9,217.8 159.7,217.5 160.5,217.1 161.3,216.8 162.1,216.5 162.8,216.1 163.6,215.8 164.4,215.5 165.2,215.2 166.0,214.9 166.8,214.5 167.5,214.2 168.3,213.9 169.1,213.6 169.9,213.3 170.7,212.9 171.5,212.6 172.2,212.3 173.0,212.0 173.8,211.7 174.6,211.4 175.4,211.1 176.2,210.8 177.0,210.5 177.7,210.2 178.5,209.9 179.3,209.6 180.1,209.3 180.9,209.0 181.7,208.7 182.4,208.4 183.2,208.1 184.0,207.9 184.8,207.6 185.6,207.3 186.4,207.0 187.2,206.7 187.9,206.5 188.7,206.2 189.5,205.9 190.3,205.6 191.1,205.4 191.9,205.1 192.6,204.8 193.4,204.6 194.2,204.3 195.0,204.1 195.8,203.8 196.6,203.5 197.3,203.3 198.1,203.0 198.9,202.8 199.7,202.5 200.5,202.3 201.3,202.0 202.1,201.8 202.8,201.5 203.6,201.3 204.4,201.0 205.2,200.8 206.0,200.5 206.8,200.3 207.5,200.1 208.3,199.8 209.1,199.6 209.9,199.3 210.7,199.1 211.5,198.9 212.2,198.6 213.0,198.4 213.8,198.2 214.6,197.9 215.4,197.7 216.2,197.5 217.0,197.2 217.7,197.0 218.5,196.8 219.3,196.6 220.1,196.4 220.9,196.1 221.7,195.9 222.4,195.7 223.2,195.5 224.0,195.3 224.8,195.1 225.6,194.8 226.4,194.6 227.1,194.4 227.9,194.2 228.7,194.0 229.5,193.8 230.3,193.6 231.1,193.4 231.9,193.2 232.6,193.0 233.4,192.8 234.2,192.6 235.0,192.5 235.8,192.3 236.6,192.1 237.3,192.0 238.1,191.8 238.9,191.7 239.7,191.5 240.5,191.4 241.3,191.2 242.1,191.0 242.8,190.9 243.6,190.7 244.4,190.6 245.2,190.4 246.0,190.3 246.8,190.2 247.5,190.0 248.3,189.9 249.1,189.7 249.9,189.6 250.7,189.5 251.5,189.3 252.2,189.2 253.0,189.1 253.8,188.9 254.6,188.8 255.4,188.7 256.2,188.6 257.0,188.4 257.7,188.3 258.5,188.2 259.3,188.1 260.1,188.0 260.9,187.9 261.7,187.8 262.4,187.7 263.2,187.6 264.0,187.5 264.8,187.4 265.6,187.3 266.4,187.2 267.1,187.1 267.9,187.0 268.7,187.0 269.5,186.9" fill="none" stroke="#4A86CF" stroke-width="0.9" stroke-opacity="0.9" stroke-linejoin="round" clip-path="url(#cC)"/>
<line x1="34.5" y1="175.6" x2="34.5" y2="306.3" stroke="#6a6a6a" stroke-width="1"/>
<line x1="34.0" y1="306.3" x2="270.0" y2="306.3" stroke="#6a6a6a" stroke-width="1"/>
<line x1="269.5" y1="175.6" x2="269.5" y2="306.3" stroke="#8a8a8a" stroke-width="0.8"/>
<line x1="34.0" y1="175.6" x2="270.0" y2="175.6" stroke="#6a6a6a" stroke-width="1"/>
<line x1="35.2" y1="306.3" x2="35.2" y2="304.7" stroke="#6a6a6a" stroke-width="0.6"/>
<line x1="35.2" y1="175.6" x2="35.2" y2="177.2" stroke="#6a6a6a" stroke-width="0.6"/>
<text x="35.2" y="313.3" font-size="5.3" fill="#6a7896" text-anchor="middle" textLength="2.36" lengthAdjust="spacingAndGlyphs">0</text>
<line x1="93.6" y1="306.3" x2="93.6" y2="304.7" stroke="#6a6a6a" stroke-width="0.6"/>
<line x1="93.6" y1="175.6" x2="93.6" y2="177.2" stroke="#6a6a6a" stroke-width="0.6"/>
<text x="93.6" y="313.3" font-size="5.3" fill="#6a7896" text-anchor="middle" textLength="2.36" lengthAdjust="spacingAndGlyphs">5</text>
<line x1="151.9" y1="306.3" x2="151.9" y2="304.7" stroke="#6a6a6a" stroke-width="0.6"/>
<line x1="151.9" y1="175.6" x2="151.9" y2="177.2" stroke="#6a6a6a" stroke-width="0.6"/>
<text x="151.9" y="313.3" font-size="5.3" fill="#6a7896" text-anchor="middle" textLength="4.72" lengthAdjust="spacingAndGlyphs">10</text>
<line x1="210.2" y1="306.3" x2="210.2" y2="304.7" stroke="#6a6a6a" stroke-width="0.6"/>
<line x1="210.2" y1="175.6" x2="210.2" y2="177.2" stroke="#6a6a6a" stroke-width="0.6"/>
<text x="210.2" y="313.3" font-size="5.3" fill="#6a7896" text-anchor="middle" textLength="4.72" lengthAdjust="spacingAndGlyphs">15</text>
<line x1="268.6" y1="306.3" x2="268.6" y2="304.7" stroke="#6a6a6a" stroke-width="0.6"/>
<line x1="268.6" y1="175.6" x2="268.6" y2="177.2" stroke="#6a6a6a" stroke-width="0.6"/>
<text x="268.6" y="313.3" font-size="5.3" fill="#6a7896" text-anchor="middle" textLength="4.72" lengthAdjust="spacingAndGlyphs">20</text>
<line x1="34.5" y1="299.2" x2="36.1" y2="299.2" stroke="#6a6a6a" stroke-width="0.6"/>
<line x1="269.5" y1="299.2" x2="267.9" y2="299.2" stroke="#6a6a6a" stroke-width="0.6"/>
<text x="33.2" y="300.95" font-size="5.3" fill="#6a7896" text-anchor="end" textLength="2.36" lengthAdjust="spacingAndGlyphs">0</text>
<line x1="34.5" y1="281.8" x2="36.1" y2="281.8" stroke="#6a6a6a" stroke-width="0.6"/>
<line x1="269.5" y1="281.8" x2="267.9" y2="281.8" stroke="#6a6a6a" stroke-width="0.6"/>
<text x="33.2" y="283.55" font-size="5.3" fill="#6a7896" text-anchor="end" textLength="15.33" lengthAdjust="spacingAndGlyphs">200,000</text>
<line x1="34.5" y1="264.3" x2="36.1" y2="264.3" stroke="#6a6a6a" stroke-width="0.6"/>
<line x1="269.5" y1="264.3" x2="267.9" y2="264.3" stroke="#6a6a6a" stroke-width="0.6"/>
<text x="33.2" y="266.05" font-size="5.3" fill="#6a7896" text-anchor="end" textLength="15.33" lengthAdjust="spacingAndGlyphs">400,000</text>
<line x1="34.5" y1="246.8" x2="36.1" y2="246.8" stroke="#6a6a6a" stroke-width="0.6"/>
<line x1="269.5" y1="246.8" x2="267.9" y2="246.8" stroke="#6a6a6a" stroke-width="0.6"/>
<text x="33.2" y="248.55" font-size="5.3" fill="#6a7896" text-anchor="end" textLength="15.33" lengthAdjust="spacingAndGlyphs">600,000</text>
<line x1="34.5" y1="229.4" x2="36.1" y2="229.4" stroke="#6a6a6a" stroke-width="0.6"/>
<line x1="269.5" y1="229.4" x2="267.9" y2="229.4" stroke="#6a6a6a" stroke-width="0.6"/>
<text x="33.2" y="231.15" font-size="5.3" fill="#6a7896" text-anchor="end" textLength="15.33" lengthAdjust="spacingAndGlyphs">800,000</text>
<line x1="34.5" y1="211.9" x2="36.1" y2="211.9" stroke="#6a6a6a" stroke-width="0.6"/>
<line x1="269.5" y1="211.9" x2="267.9" y2="211.9" stroke="#6a6a6a" stroke-width="0.6"/>
<text x="33.2" y="213.65" font-size="5.3" fill="#6a7896" text-anchor="end" textLength="18.87" lengthAdjust="spacingAndGlyphs">1,000,000</text>
<line x1="34.5" y1="194.5" x2="36.1" y2="194.5" stroke="#6a6a6a" stroke-width="0.6"/>
<line x1="269.5" y1="194.5" x2="267.9" y2="194.5" stroke="#6a6a6a" stroke-width="0.6"/>
<text x="33.2" y="196.25" font-size="5.3" fill="#6a7896" text-anchor="end" textLength="18.87" lengthAdjust="spacingAndGlyphs">1,200,000</text>
<line x1="34.5" y1="177.1" x2="36.1" y2="177.1" stroke="#6a6a6a" stroke-width="0.6"/>
<line x1="269.5" y1="177.1" x2="267.9" y2="177.1" stroke="#6a6a6a" stroke-width="0.6"/>
<text x="33.2" y="178.85" font-size="5.3" fill="#6a7896" text-anchor="end" textLength="18.87" lengthAdjust="spacingAndGlyphs">1,400,000</text>
<text x="0" y="0" font-size="8.8" fill="#1a1a1a" stroke="#1a1a1a" stroke-width="0.12" text-anchor="middle" transform="translate(6.2,239.5) rotate(-90)" dominant-baseline="central">Encircled energy</text>
<text x="109.6" y="326.8" font-size="8.8" fill="#1a1a1a" stroke="#1a1a1a" stroke-width="0.12">Spot radius(pixel)</text>
<rect x="253.9" y="316" width="19.49999999999997" height="11.600000000000023" fill="#0CE4E4"/>
<text x="263.65" y="324.8" font-size="9" fill="#0b3030" stroke="#0b3030" stroke-width="0.45" text-anchor="middle">(c)</text>
<rect x="308.2" y="176.0" width="235.09999999999997" height="130.3" fill="#FFFFFF"/>
<line x1="333.3" y1="176.0" x2="333.3" y2="306.3" stroke="#F4F5F8" stroke-width="0.8"/>
<line x1="358.0" y1="176.0" x2="358.0" y2="306.3" stroke="#F4F5F8" stroke-width="0.8"/>
<line x1="382.7" y1="176.0" x2="382.7" y2="306.3" stroke="#F4F5F8" stroke-width="0.8"/>
<line x1="407.4" y1="176.0" x2="407.4" y2="306.3" stroke="#F4F5F8" stroke-width="0.8"/>
<line x1="432.1" y1="176.0" x2="432.1" y2="306.3" stroke="#F4F5F8" stroke-width="0.8"/>
<line x1="456.8" y1="176.0" x2="456.8" y2="306.3" stroke="#F4F5F8" stroke-width="0.8"/>
<line x1="481.5" y1="176.0" x2="481.5" y2="306.3" stroke="#F4F5F8" stroke-width="0.8"/>
<line x1="506.2" y1="176.0" x2="506.2" y2="306.3" stroke="#F4F5F8" stroke-width="0.8"/>
<line x1="530.9" y1="176.0" x2="530.9" y2="306.3" stroke="#F4F5F8" stroke-width="0.8"/>
<line x1="308.2" y1="299.8" x2="543.3" y2="299.8" stroke="#F4F5F8" stroke-width="0.8"/>
<line x1="308.2" y1="281.9" x2="543.3" y2="281.9" stroke="#F4F5F8" stroke-width="0.8"/>
<line x1="308.2" y1="263.9" x2="543.3" y2="263.9" stroke="#F4F5F8" stroke-width="0.8"/>
<line x1="308.2" y1="246.0" x2="543.3" y2="246.0" stroke="#F4F5F8" stroke-width="0.8"/>
<line x1="308.2" y1="228.0" x2="543.3" y2="228.0" stroke="#F4F5F8" stroke-width="0.8"/>
<line x1="308.2" y1="210.1" x2="543.3" y2="210.1" stroke="#F4F5F8" stroke-width="0.8"/>
<line x1="308.2" y1="192.1" x2="543.3" y2="192.1" stroke="#F4F5F8" stroke-width="0.8"/>
<polygon points="308.7,298.7 309.5,296.8 310.3,295.1 311.0,293.3 311.8,291.6 312.6,290.0 313.4,288.4 314.2,286.9 315.0,285.4 315.7,284.0 316.5,282.5 317.3,281.1 318.1,279.7 318.9,278.5 319.6,277.4 320.4,276.5 321.2,275.8 322.0,275.2 322.8,274.7 323.6,274.2 324.3,273.8 325.1,273.4 325.9,273.0 326.7,272.6 327.5,272.2 328.2,271.8 329.0,271.4 329.8,271.0 330.6,270.5 331.4,270.0 332.2,269.5 332.9,269.1 333.7,268.6 334.5,268.1 335.3,267.6 336.1,267.1 336.8,266.6 337.6,266.1 338.4,265.6 339.2,265.1 340.0,264.6 340.8,264.1 341.5,263.6 342.3,263.1 343.1,262.6 343.9,262.1 344.7,261.6 345.5,261.1 346.2,260.5 347.0,260.0 347.8,259.5 348.6,259.0 349.4,258.5 350.1,258.0 350.9,257.5 351.7,256.9 352.5,256.4 353.3,255.9 354.1,255.4 354.8,254.9 355.6,254.4 356.4,253.8 357.2,253.3 358.0,252.8 358.7,252.3 359.5,251.8 360.3,251.3 361.1,250.8 361.9,250.3 362.7,249.8 363.4,249.3 364.2,248.8 365.0,248.3 365.8,247.9 366.6,247.4 367.3,246.9 368.1,246.4 368.9,245.9 369.7,245.4 370.5,244.9 371.3,244.5 372.0,244.0 372.8,243.5 373.6,243.0 374.4,242.6 375.2,242.1 375.9,241.6 376.7,241.1 377.5,240.7 378.3,240.2 379.1,239.7 379.9,239.3 380.6,238.8 381.4,238.4 382.2,237.9 383.0,237.4 383.8,237.0 384.5,236.5 385.3,236.1 386.1,235.6 386.9,235.2 387.7,234.8 388.5,234.3 389.2,233.9 390.0,233.5 390.8,233.0 391.6,232.6 392.4,232.2 393.1,231.8 393.9,231.3 394.7,230.9 395.5,230.5 396.3,230.1 397.1,229.7 397.8,229.3 398.6,228.9 399.4,228.5 400.2,228.1 401.0,227.7 401.8,227.3 402.5,226.9 403.3,226.6 404.1,226.2 404.9,225.8 405.7,225.4 406.4,225.0 407.2,224.7 408.0,224.3 408.8,223.9 409.6,223.6 410.4,223.2 411.1,222.8 411.9,222.5 412.7,222.1 413.5,221.8 414.3,221.4 415.0,221.1 415.8,220.7 416.6,220.4 417.4,220.0 418.2,219.7 419.0,219.3 419.7,219.0 420.5,218.6 421.3,218.3 422.1,218.0 422.9,217.6 423.6,217.3 424.4,217.0 425.2,216.6 426.0,216.3 426.8,216.0 427.6,215.7 428.3,215.3 429.1,215.0 429.9,214.7 430.7,214.4 431.5,214.1 432.2,213.8 433.0,213.4 433.8,213.1 434.6,212.8 435.4,212.5 436.2,212.2 436.9,211.9 437.7,211.6 438.5,211.3 439.3,211.0 440.1,210.8 440.8,210.5 441.6,210.2 442.4,209.9 443.2,209.6 444.0,209.3 444.8,209.1 445.5,208.8 446.3,208.5 447.1,208.3 447.9,208.0 448.7,207.7 449.4,207.5 450.2,207.2 451.0,207.0 451.8,206.7 452.6,206.4 453.4,206.2 454.1,206.0 454.9,205.7 455.7,205.5 456.5,205.2 457.3,205.0 458.1,204.7 458.8,204.5 459.6,204.3 460.4,204.0 461.2,203.8 462.0,203.6 462.7,203.3 463.5,203.1 464.3,202.9 465.1,202.7 465.9,202.5 466.7,202.2 467.4,202.0 468.2,201.8 469.0,201.6 469.8,201.4 470.6,201.2 471.3,201.0 472.1,200.8 472.9,200.6 473.7,200.4 474.5,200.2 475.3,200.0 476.0,199.8 476.8,199.6 477.6,199.4 478.4,199.2 479.2,199.0 479.9,198.8 480.7,198.6 481.5,198.4 482.3,198.2 483.1,198.0 483.9,197.8 484.6,197.6 485.4,197.4 486.2,197.3 487.0,197.1 487.8,196.9 488.5,196.7 489.3,196.5 490.1,196.3 490.9,196.1 491.7,195.9 492.5,195.7 493.2,195.5 494.0,195.3 494.8,195.2 495.6,195.0 496.4,194.8 497.1,194.6 497.9,194.4 498.7,194.2 499.5,194.0 500.3,193.8 501.1,193.6 501.8,193.4 502.6,193.2 503.4,193.0 504.2,192.8 505.0,192.6 505.7,192.4 506.5,192.2 507.3,192.0 508.1,191.8 508.9,191.6 509.7,191.4 510.4,191.2 511.2,191.0 512.0,190.8 512.8,190.6 513.6,190.3 514.4,190.1 515.1,189.9 515.9,189.7 516.7,189.5 517.5,189.3 518.3,189.1 519.0,188.9 519.8,188.7 520.6,188.5 521.4,188.3 522.2,188.1 523.0,187.9 523.7,187.7 524.5,187.5 525.3,187.3 526.1,187.1 526.9,186.9 527.6,186.8 528.4,186.6 529.2,186.4 530.0,186.2 530.8,186.0 531.6,185.8 532.3,185.7 533.1,185.5 533.9,185.3 534.7,185.1 535.5,185.0 536.2,184.8 537.0,184.7 537.8,184.5 538.6,184.4 539.4,184.3 540.2,184.1 540.9,184.0 541.7,183.9 542.5,183.8 542.5,193.0 541.7,193.1 540.9,193.1 540.2,193.2 539.4,193.3 538.6,193.4 537.8,193.5 537.0,193.6 536.2,193.8 535.5,193.9 534.7,194.0 533.9,194.1 533.1,194.3 532.3,194.4 531.6,194.6 530.8,194.7 530.0,194.9 529.2,195.0 528.4,195.2 527.6,195.3 526.9,195.5 526.1,195.6 525.3,195.8 524.5,196.0 523.7,196.1 523.0,196.3 522.2,196.5 521.4,196.6 520.6,196.8 519.8,197.0 519.0,197.1 518.3,197.3 517.5,197.5 516.7,197.6 515.9,197.8 515.1,198.0 514.4,198.2 513.6,198.3 512.8,198.5 512.0,198.7 511.2,198.8 510.4,199.0 509.7,199.2 508.9,199.3 508.1,199.5 507.3,199.7 506.5,199.9 505.7,200.0 505.0,200.2 504.2,200.4 503.4,200.5 502.6,200.7 501.8,200.9 501.1,201.0 500.3,201.2 499.5,201.4 498.7,201.6 497.9,201.8 497.1,201.9 496.4,202.1 495.6,202.3 494.8,202.5 494.0,202.6 493.2,202.8 492.5,203.0 491.7,203.2 490.9,203.3 490.1,203.5 489.3,203.7 488.5,203.9 487.8,204.1 487.0,204.2 486.2,204.4 485.4,204.6 484.6,204.8 483.9,204.9 483.1,205.1 482.3,205.3 481.5,205.5 480.7,205.7 479.9,205.8 479.2,206.0 478.4,206.2 477.6,206.4 476.8,206.6 476.0,206.7 475.3,206.9 474.5,207.1 473.7,207.3 472.9,207.5 472.1,207.7 471.3,207.9 470.6,208.1 469.8,208.3 469.0,208.5 468.2,208.7 467.4,208.9 466.7,209.1 465.9,209.3 465.1,209.5 464.3,209.7 463.5,209.9 462.7,210.1 462.0,210.3 461.2,210.5 460.4,210.7 459.6,210.9 458.8,211.2 458.1,211.4 457.3,211.6 456.5,211.8 455.7,212.1 454.9,212.3 454.1,212.5 453.4,212.8 452.6,213.0 451.8,213.3 451.0,213.5 450.2,213.8 449.4,214.0 448.7,214.3 447.9,214.6 447.1,214.8 446.3,215.1 445.5,215.4 444.8,215.6 444.0,215.9 443.2,216.2 442.4,216.5 441.6,216.7 440.8,217.0 440.1,217.3 439.3,217.6 438.5,217.9 437.7,218.2 436.9,218.5 436.2,218.8 435.4,219.1 434.6,219.4 433.8,219.7 433.0,220.0 432.2,220.3 431.5,220.6 430.7,220.9 429.9,221.2 429.1,221.5 428.3,221.8 427.6,222.2 426.8,222.5 426.0,222.8 425.2,223.1 424.4,223.5 423.6,223.8 422.9,224.1 422.1,224.4 421.3,224.8 420.5,225.1 419.7,225.5 419.0,225.8 418.2,226.1 417.4,226.5 416.6,226.8 415.8,227.2 415.0,227.5 414.3,227.9 413.5,228.2 412.7,228.6 411.9,228.9 411.1,229.3 410.4,229.6 409.6,230.0 408.8,230.4 408.0,230.7 407.2,231.1 406.4,231.5 405.7,231.8 404.9,232.2 404.1,232.6 403.3,233.0 402.5,233.3 401.8,233.7 401.0,234.1 400.2,234.5 399.4,234.9 398.6,235.3 397.8,235.7 397.1,236.1 396.3,236.5 395.5,236.9 394.7,237.3 393.9,237.7 393.1,238.1 392.4,238.5 391.6,238.9 390.8,239.3 390.0,239.8 389.2,240.2 388.5,240.6 387.7,241.0 386.9,241.5 386.1,241.9 385.3,242.3 384.5,242.8 383.8,243.2 383.0,243.7 382.2,244.1 381.4,244.6 380.6,245.0 379.9,245.5 379.1,245.9 378.3,246.4 377.5,246.8 376.7,247.3 375.9,247.8 375.2,248.2 374.4,248.7 373.6,249.2 372.8,249.6 372.0,250.1 371.3,250.6 370.5,251.0 369.7,251.5 368.9,252.0 368.1,252.5 367.3,253.0 366.6,253.4 365.8,253.9 365.0,254.4 364.2,254.9 363.4,255.3 362.7,255.8 361.9,256.3 361.1,256.8 360.3,257.3 359.5,257.8 358.7,258.2 358.0,258.7 357.2,259.1 356.4,259.6 355.6,260.1 354.8,260.5 354.1,261.0 353.3,261.5 352.5,261.9 351.7,262.4 350.9,262.9 350.1,263.3 349.4,263.8 348.6,264.3 347.8,264.7 347.0,265.2 346.2,265.7 345.5,266.1 344.7,266.6 343.9,267.1 343.1,267.5 342.3,268.0 341.5,268.4 340.8,268.9 340.0,269.4 339.2,269.8 338.4,270.3 337.6,270.7 336.8,271.2 336.1,271.7 335.3,272.1 334.5,272.6 333.7,273.0 332.9,273.5 332.2,273.9 331.4,274.4 330.6,274.8 329.8,275.3 329.0,275.7 328.2,276.1 327.5,276.4 326.7,276.8 325.9,277.1 325.1,277.5 324.3,277.9 323.6,278.3 322.8,278.8 322.0,279.3 321.2,279.8 320.4,280.4 319.6,281.1 318.9,282.0 318.1,283.0 317.3,284.1 316.5,285.4 315.7,286.6 315.0,287.9 314.2,289.1 313.4,290.4 312.6,291.8 311.8,293.3 311.0,294.7 310.3,296.3 309.5,297.9 308.7,299.5" fill="#FDEAE2" stroke="none" clip-path="url(#cD)"/>
<polyline points="308.7,298.7 309.5,296.8 310.3,295.1 311.0,293.3 311.8,291.6 312.6,290.0 313.4,288.4 314.2,286.9 315.0,285.4 315.7,284.0 316.5,282.5 317.3,281.1 318.1,279.7 318.9,278.5 319.6,277.4 320.4,276.5 321.2,275.8 322.0,275.2 322.8,274.7 323.6,274.2 324.3,273.8 325.1,273.4 325.9,273.0 326.7,272.6 327.5,272.2 328.2,271.8 329.0,271.4 329.8,271.0 330.6,270.5 331.4,270.0 332.2,269.5 332.9,269.1 333.7,268.6 334.5,268.1 335.3,267.6 336.1,267.1 336.8,266.6 337.6,266.1 338.4,265.6 339.2,265.1 340.0,264.6 340.8,264.1 341.5,263.6 342.3,263.1 343.1,262.6 343.9,262.1 344.7,261.6 345.5,261.1 346.2,260.5 347.0,260.0 347.8,259.5 348.6,259.0 349.4,258.5 350.1,258.0 350.9,257.5 351.7,256.9 352.5,256.4 353.3,255.9 354.1,255.4 354.8,254.9 355.6,254.4 356.4,253.8 357.2,253.3 358.0,252.8 358.7,252.3 359.5,251.8 360.3,251.3 361.1,250.8 361.9,250.3 362.7,249.8 363.4,249.3 364.2,248.8 365.0,248.3 365.8,247.9 366.6,247.4 367.3,246.9 368.1,246.4 368.9,245.9 369.7,245.4 370.5,244.9 371.3,244.5 372.0,244.0 372.8,243.5 373.6,243.0 374.4,242.6 375.2,242.1 375.9,241.6 376.7,241.1 377.5,240.7 378.3,240.2 379.1,239.7 379.9,239.3 380.6,238.8 381.4,238.4 382.2,237.9 383.0,237.4 383.8,237.0 384.5,236.5 385.3,236.1 386.1,235.6 386.9,235.2 387.7,234.8 388.5,234.3 389.2,233.9 390.0,233.5 390.8,233.0 391.6,232.6 392.4,232.2 393.1,231.8 393.9,231.3 394.7,230.9 395.5,230.5 396.3,230.1 397.1,229.7 397.8,229.3 398.6,228.9 399.4,228.5 400.2,228.1 401.0,227.7 401.8,227.3 402.5,226.9 403.3,226.6 404.1,226.2 404.9,225.8 405.7,225.4 406.4,225.0 407.2,224.7 408.0,224.3 408.8,223.9 409.6,223.6 410.4,223.2 411.1,222.8 411.9,222.5 412.7,222.1 413.5,221.8 414.3,221.4 415.0,221.1 415.8,220.7 416.6,220.4 417.4,220.0 418.2,219.7 419.0,219.3 419.7,219.0 420.5,218.6 421.3,218.3 422.1,218.0 422.9,217.6 423.6,217.3 424.4,217.0 425.2,216.6 426.0,216.3 426.8,216.0 427.6,215.7 428.3,215.3 429.1,215.0 429.9,214.7 430.7,214.4 431.5,214.1 432.2,213.8 433.0,213.4 433.8,213.1 434.6,212.8 435.4,212.5 436.2,212.2 436.9,211.9 437.7,211.6 438.5,211.3 439.3,211.0 440.1,210.8 440.8,210.5 441.6,210.2 442.4,209.9 443.2,209.6 444.0,209.3 444.8,209.1 445.5,208.8 446.3,208.5 447.1,208.3 447.9,208.0 448.7,207.7 449.4,207.5 450.2,207.2 451.0,207.0 451.8,206.7 452.6,206.4 453.4,206.2 454.1,206.0 454.9,205.7 455.7,205.5 456.5,205.2 457.3,205.0 458.1,204.7 458.8,204.5 459.6,204.3 460.4,204.0 461.2,203.8 462.0,203.6 462.7,203.3 463.5,203.1 464.3,202.9 465.1,202.7 465.9,202.5 466.7,202.2 467.4,202.0 468.2,201.8 469.0,201.6 469.8,201.4 470.6,201.2 471.3,201.0 472.1,200.8 472.9,200.6 473.7,200.4 474.5,200.2 475.3,200.0 476.0,199.8 476.8,199.6 477.6,199.4 478.4,199.2 479.2,199.0 479.9,198.8 480.7,198.6 481.5,198.4 482.3,198.2 483.1,198.0 483.9,197.8 484.6,197.6 485.4,197.4 486.2,197.3 487.0,197.1 487.8,196.9 488.5,196.7 489.3,196.5 490.1,196.3 490.9,196.1 491.7,195.9 492.5,195.7 493.2,195.5 494.0,195.3 494.8,195.2 495.6,195.0 496.4,194.8 497.1,194.6 497.9,194.4 498.7,194.2 499.5,194.0 500.3,193.8 501.1,193.6 501.8,193.4 502.6,193.2 503.4,193.0 504.2,192.8 505.0,192.6 505.7,192.4 506.5,192.2 507.3,192.0 508.1,191.8 508.9,191.6 509.7,191.4 510.4,191.2 511.2,191.0 512.0,190.8 512.8,190.6 513.6,190.3 514.4,190.1 515.1,189.9 515.9,189.7 516.7,189.5 517.5,189.3 518.3,189.1 519.0,188.9 519.8,188.7 520.6,188.5 521.4,188.3 522.2,188.1 523.0,187.9 523.7,187.7 524.5,187.5 525.3,187.3 526.1,187.1 526.9,186.9 527.6,186.8 528.4,186.6 529.2,186.4 530.0,186.2 530.8,186.0 531.6,185.8 532.3,185.7 533.1,185.5 533.9,185.3 534.7,185.1 535.5,185.0 536.2,184.8 537.0,184.7 537.8,184.5 538.6,184.4 539.4,184.3 540.2,184.1 540.9,184.0 541.7,183.9 542.5,183.8" fill="none" stroke="#F6A185" stroke-width="0.8" stroke-opacity="0.95" stroke-linejoin="round" clip-path="url(#cD)"/>
<polyline points="308.7,299.0 309.5,297.3 310.3,295.5 311.0,293.9 311.8,292.3 312.6,290.7 313.4,289.2 314.2,287.8 315.0,286.4 315.7,285.0 316.5,283.7 317.3,282.3 318.1,281.0 318.9,279.9 319.6,278.9 320.4,278.1 321.2,277.4 322.0,276.8 322.8,276.3 323.6,275.9 324.3,275.4 325.1,275.0 325.9,274.6 326.7,274.3 327.5,273.9 328.2,273.5 329.0,273.1 329.8,272.7 330.6,272.2 331.4,271.8 332.2,271.3 332.9,270.8 333.7,270.4 334.5,269.9 335.3,269.4 336.1,268.9 336.8,268.5 337.6,268.0 338.4,267.5 339.2,267.0 340.0,266.5 340.8,266.0 341.5,265.6 342.3,265.1 343.1,264.6 343.9,264.1 344.7,263.6 345.5,263.1 346.2,262.6 347.0,262.1 347.8,261.6 348.6,261.1 349.4,260.6 350.1,260.1 350.9,259.6 351.7,259.1 352.5,258.6 353.3,258.1 354.1,257.6 354.8,257.1 355.6,256.6 356.4,256.1 357.2,255.7 358.0,255.2 358.7,254.7 359.5,254.2 360.3,253.7 361.1,253.2 361.9,252.7 362.7,252.2 363.4,251.7 364.2,251.2 365.0,250.8 365.8,250.3 366.6,249.8 367.3,249.3 368.1,248.8 368.9,248.3 369.7,247.9 370.5,247.4 371.3,246.9 372.0,246.4 372.8,246.0 373.6,245.5 374.4,245.0 375.2,244.5 375.9,244.1 376.7,243.6 377.5,243.1 378.3,242.7 379.1,242.2 379.9,241.8 380.6,241.3 381.4,240.8 382.2,240.4 383.0,239.9 383.8,239.5 384.5,239.0 385.3,238.6 386.1,238.1 386.9,237.7 387.7,237.3 388.5,236.8 389.2,236.4 390.0,236.0 390.8,235.6 391.6,235.1 392.4,234.7 393.1,234.3 393.9,233.9 394.7,233.5 395.5,233.1 396.3,232.6 397.1,232.2 397.8,231.8 398.6,231.4 399.4,231.1 400.2,230.7 401.0,230.3 401.8,229.9 402.5,229.5 403.3,229.1 404.1,228.7 404.9,228.4 405.7,228.0 406.4,227.6 407.2,227.2 408.0,226.9 408.8,226.5 409.6,226.1 410.4,225.8 411.1,225.4 411.9,225.1 412.7,224.7 413.5,224.3 414.3,224.0 415.0,223.6 415.8,223.3 416.6,222.9 417.4,222.6 418.2,222.3 419.0,221.9 419.7,221.6 420.5,221.2 421.3,220.9 422.1,220.6 422.9,220.2 423.6,219.9 424.4,219.6 425.2,219.2 426.0,218.9 426.8,218.6 427.6,218.3 428.3,217.9 429.1,217.6 429.9,217.3 430.7,217.0 431.5,216.7 432.2,216.4 433.0,216.1 433.8,215.7 434.6,215.4 435.4,215.1 436.2,214.8 436.9,214.5 437.7,214.2 438.5,214.0 439.3,213.7 440.1,213.4 440.8,213.1 441.6,212.8 442.4,212.5 443.2,212.2 444.0,212.0 444.8,211.7 445.5,211.4 446.3,211.2 447.1,210.9 447.9,210.6 448.7,210.4 449.4,210.1 450.2,209.8 451.0,209.6 451.8,209.3 452.6,209.1 453.4,208.8 454.1,208.6 454.9,208.3 455.7,208.1 456.5,207.9 457.3,207.6 458.1,207.4 458.8,207.2 459.6,206.9 460.4,206.7 461.2,206.5 462.0,206.3 462.7,206.0 463.5,205.8 464.3,205.6 465.1,205.4 465.9,205.2 466.7,205.0 467.4,204.8 468.2,204.6 469.0,204.3 469.8,204.1 470.6,203.9 471.3,203.7 472.1,203.5 472.9,203.3 473.7,203.1 474.5,203.0 475.3,202.8 476.0,202.6 476.8,202.4 477.6,202.2 478.4,202.0 479.2,201.8 479.9,201.6 480.7,201.4 481.5,201.2 482.3,201.0 483.1,200.9 483.9,200.7 484.6,200.5 485.4,200.3 486.2,200.1 487.0,199.9 487.8,199.7 488.5,199.6 489.3,199.4 490.1,199.2 490.9,199.0 491.7,198.8 492.5,198.6 493.2,198.5 494.0,198.3 494.8,198.1 495.6,197.9 496.4,197.7 497.1,197.5 497.9,197.3 498.7,197.1 499.5,197.0 500.3,196.8 501.1,196.6 501.8,196.4 502.6,196.2 503.4,196.0 504.2,195.8 505.0,195.6 505.7,195.4 506.5,195.3 507.3,195.1 508.1,194.9 508.9,194.7 509.7,194.5 510.4,194.3 511.2,194.1 512.0,193.9 512.8,193.7 513.6,193.5 514.4,193.3 515.1,193.2 515.9,193.0 516.7,192.8 517.5,192.6 518.3,192.4 519.0,192.2 519.8,192.0 520.6,191.8 521.4,191.6 522.2,191.5 523.0,191.3 523.7,191.1 524.5,190.9 525.3,190.7 526.1,190.5 526.9,190.4 527.6,190.2 528.4,190.0 529.2,189.8 530.0,189.7 530.8,189.5 531.6,189.3 532.3,189.2 533.1,189.0 533.9,188.8 534.7,188.7 535.5,188.5 536.2,188.4 537.0,188.3 537.8,188.1 538.6,188.0 539.4,187.9 540.2,187.8 540.9,187.7 541.7,187.6 542.5,187.5" fill="none" stroke="#F6A185" stroke-width="0.8" stroke-opacity="0.95" stroke-linejoin="round" clip-path="url(#cD)"/>
<polyline points="308.7,299.2 309.5,297.4 310.3,295.8 311.0,294.1 311.8,292.6 312.6,291.0 313.4,289.6 314.2,288.2 315.0,286.8 315.7,285.5 316.5,284.1 317.3,282.8 318.1,281.6 318.9,280.5 319.6,279.5 320.4,278.8 321.2,278.1 322.0,277.6 322.8,277.0 323.6,276.6 324.3,276.1 325.1,275.8 325.9,275.4 326.7,275.0 327.5,274.6 328.2,274.3 329.0,273.9 329.8,273.4 330.6,273.0 331.4,272.5 332.2,272.1 332.9,271.6 333.7,271.1 334.5,270.7 335.3,270.2 336.1,269.7 336.8,269.3 337.6,268.8 338.4,268.3 339.2,267.8 340.0,267.4 340.8,266.9 341.5,266.4 342.3,265.9 343.1,265.4 343.9,264.9 344.7,264.5 345.5,264.0 346.2,263.5 347.0,263.0 347.8,262.5 348.6,262.0 349.4,261.5 350.1,261.1 350.9,260.6 351.7,260.1 352.5,259.6 353.3,259.1 354.1,258.6 354.8,258.1 355.6,257.6 356.4,257.2 357.2,256.7 358.0,256.2 358.7,255.7 359.5,255.2 360.3,254.7 361.1,254.2 361.9,253.8 362.7,253.3 363.4,252.8 364.2,252.3 365.0,251.8 365.8,251.3 366.6,250.9 367.3,250.4 368.1,249.9 368.9,249.4 369.7,248.9 370.5,248.5 371.3,248.0 372.0,247.5 372.8,247.0 373.6,246.6 374.4,246.1 375.2,245.6 375.9,245.1 376.7,244.7 377.5,244.2 378.3,243.8 379.1,243.3 379.9,242.8 380.6,242.4 381.4,241.9 382.2,241.5 383.0,241.0 383.8,240.6 384.5,240.1 385.3,239.7 386.1,239.2 386.9,238.8 387.7,238.4 388.5,237.9 389.2,237.5 390.0,237.1 390.8,236.7 391.6,236.2 392.4,235.8 393.1,235.4 393.9,235.0 394.7,234.6 395.5,234.2 396.3,233.8 397.1,233.4 397.8,233.0 398.6,232.6 399.4,232.2 400.2,231.8 401.0,231.4 401.8,231.0 402.5,230.6 403.3,230.2 404.1,229.9 404.9,229.5 405.7,229.1 406.4,228.7 407.2,228.4 408.0,228.0 408.8,227.6 409.6,227.3 410.4,226.9 411.1,226.5 411.9,226.2 412.7,225.8 413.5,225.5 414.3,225.1 415.0,224.8 415.8,224.4 416.6,224.1 417.4,223.7 418.2,223.4 419.0,223.0 419.7,222.7 420.5,222.4 421.3,222.0 422.1,221.7 422.9,221.4 423.6,221.0 424.4,220.7 425.2,220.4 426.0,220.0 426.8,219.7 427.6,219.4 428.3,219.1 429.1,218.8 429.9,218.4 430.7,218.1 431.5,217.8 432.2,217.5 433.0,217.2 433.8,216.9 434.6,216.6 435.4,216.3 436.2,216.0 436.9,215.7 437.7,215.4 438.5,215.1 439.3,214.8 440.1,214.5 440.8,214.2 441.6,214.0 442.4,213.7 443.2,213.4 444.0,213.1 444.8,212.8 445.5,212.6 446.3,212.3 447.1,212.0 447.9,211.8 448.7,211.5 449.4,211.2 450.2,211.0 451.0,210.7 451.8,210.5 452.6,210.2 453.4,210.0 454.1,209.7 454.9,209.5 455.7,209.3 456.5,209.0 457.3,208.8 458.1,208.6 458.8,208.3 459.6,208.1 460.4,207.9 461.2,207.7 462.0,207.4 462.7,207.2 463.5,207.0 464.3,206.8 465.1,206.6 465.9,206.4 466.7,206.2 467.4,206.0 468.2,205.8 469.0,205.5 469.8,205.3 470.6,205.1 471.3,204.9 472.1,204.8 472.9,204.6 473.7,204.4 474.5,204.2 475.3,204.0 476.0,203.8 476.8,203.6 477.6,203.4 478.4,203.2 479.2,203.0 479.9,202.8 480.7,202.7 481.5,202.5 482.3,202.3 483.1,202.1 483.9,201.9 484.6,201.7 485.4,201.6 486.2,201.4 487.0,201.2 487.8,201.0 488.5,200.8 489.3,200.6 490.1,200.5 490.9,200.3 491.7,200.1 492.5,199.9 493.2,199.7 494.0,199.5 494.8,199.4 495.6,199.2 496.4,199.0 497.1,198.8 497.9,198.6 498.7,198.4 499.5,198.3 500.3,198.1 501.1,197.9 501.8,197.7 502.6,197.5 503.4,197.3 504.2,197.1 505.0,197.0 505.7,196.8 506.5,196.6 507.3,196.4 508.1,196.2 508.9,196.0 509.7,195.9 510.4,195.7 511.2,195.5 512.0,195.3 512.8,195.1 513.6,194.9 514.4,194.7 515.1,194.6 515.9,194.4 516.7,194.2 517.5,194.0 518.3,193.8 519.0,193.6 519.8,193.5 520.6,193.3 521.4,193.1 522.2,192.9 523.0,192.7 523.7,192.6 524.5,192.4 525.3,192.2 526.1,192.0 526.9,191.9 527.6,191.7 528.4,191.5 529.2,191.3 530.0,191.2 530.8,191.0 531.6,190.9 532.3,190.7 533.1,190.5 533.9,190.4 534.7,190.2 535.5,190.1 536.2,190.0 537.0,189.8 537.8,189.7 538.6,189.6 539.4,189.5 540.2,189.4 540.9,189.3 541.7,189.2 542.5,189.1" fill="none" stroke="#F6A185" stroke-width="0.8" stroke-opacity="0.95" stroke-linejoin="round" clip-path="url(#cD)"/>
<polyline points="308.7,299.3 309.5,297.6 310.3,296.0 311.0,294.4 311.8,292.8 312.6,291.4 313.4,289.9 314.2,288.6 315.0,287.3 315.7,286.0 316.5,284.6 317.3,283.4 318.1,282.2 318.9,281.1 319.6,280.2 320.4,279.4 321.2,278.8 322.0,278.3 322.8,277.8 323.6,277.3 324.3,276.9 325.1,276.5 325.9,276.1 326.7,275.7 327.5,275.4 328.2,275.0 329.0,274.6 329.8,274.2 330.6,273.7 331.4,273.3 332.2,272.8 332.9,272.4 333.7,271.9 334.5,271.4 335.3,271.0 336.1,270.5 336.8,270.1 337.6,269.6 338.4,269.1 339.2,268.6 340.0,268.2 340.8,267.7 341.5,267.2 342.3,266.8 343.1,266.3 343.9,265.8 344.7,265.3 345.5,264.9 346.2,264.4 347.0,263.9 347.8,263.4 348.6,263.0 349.4,262.5 350.1,262.0 350.9,261.5 351.7,261.0 352.5,260.6 353.3,260.1 354.1,259.6 354.8,259.1 355.6,258.6 356.4,258.2 357.2,257.7 358.0,257.2 358.7,256.7 359.5,256.3 360.3,255.8 361.1,255.3 361.9,254.8 362.7,254.3 363.4,253.8 364.2,253.4 365.0,252.9 365.8,252.4 366.6,251.9 367.3,251.4 368.1,251.0 368.9,250.5 369.7,250.0 370.5,249.5 371.3,249.0 372.0,248.6 372.8,248.1 373.6,247.6 374.4,247.2 375.2,246.7 375.9,246.2 376.7,245.8 377.5,245.3 378.3,244.8 379.1,244.4 379.9,243.9 380.6,243.5 381.4,243.0 382.2,242.6 383.0,242.1 383.8,241.7 384.5,241.2 385.3,240.8 386.1,240.3 386.9,239.9 387.7,239.5 388.5,239.0 389.2,238.6 390.0,238.2 390.8,237.8 391.6,237.3 392.4,236.9 393.1,236.5 393.9,236.1 394.7,235.7 395.5,235.3 396.3,234.9 397.1,234.5 397.8,234.1 398.6,233.7 399.4,233.3 400.2,232.9 401.0,232.5 401.8,232.1 402.5,231.7 403.3,231.4 404.1,231.0 404.9,230.6 405.7,230.2 406.4,229.9 407.2,229.5 408.0,229.1 408.8,228.8 409.6,228.4 410.4,228.0 411.1,227.7 411.9,227.3 412.7,227.0 413.5,226.6 414.3,226.3 415.0,225.9 415.8,225.6 416.6,225.2 417.4,224.9 418.2,224.5 419.0,224.2 419.7,223.8 420.5,223.5 421.3,223.2 422.1,222.8 422.9,222.5 423.6,222.2 424.4,221.8 425.2,221.5 426.0,221.2 426.8,220.9 427.6,220.5 428.3,220.2 429.1,219.9 429.9,219.6 430.7,219.3 431.5,219.0 432.2,218.6 433.0,218.3 433.8,218.0 434.6,217.7 435.4,217.4 436.2,217.1 436.9,216.8 437.7,216.5 438.5,216.2 439.3,216.0 440.1,215.7 440.8,215.4 441.6,215.1 442.4,214.8 443.2,214.5 444.0,214.3 444.8,214.0 445.5,213.7 446.3,213.4 447.1,213.2 447.9,212.9 448.7,212.7 449.4,212.4 450.2,212.1 451.0,211.9 451.8,211.6 452.6,211.4 453.4,211.1 454.1,210.9 454.9,210.7 455.7,210.4 456.5,210.2 457.3,210.0 458.1,209.7 458.8,209.5 459.6,209.3 460.4,209.1 461.2,208.8 462.0,208.6 462.7,208.4 463.5,208.2 464.3,208.0 465.1,207.8 465.9,207.6 466.7,207.4 467.4,207.1 468.2,206.9 469.0,206.7 469.8,206.5 470.6,206.4 471.3,206.2 472.1,206.0 472.9,205.8 473.7,205.6 474.5,205.4 475.3,205.2 476.0,205.0 476.8,204.8 477.6,204.6 478.4,204.4 479.2,204.3 479.9,204.1 480.7,203.9 481.5,203.7 482.3,203.5 483.1,203.3 483.9,203.2 484.6,203.0 485.4,202.8 486.2,202.6 487.0,202.4 487.8,202.3 488.5,202.1 489.3,201.9 490.1,201.7 490.9,201.5 491.7,201.4 492.5,201.2 493.2,201.0 494.0,200.8 494.8,200.6 495.6,200.5 496.4,200.3 497.1,200.1 497.9,199.9 498.7,199.7 499.5,199.5 500.3,199.4 501.1,199.2 501.8,199.0 502.6,198.8 503.4,198.7 504.2,198.5 505.0,198.3 505.7,198.1 506.5,197.9 507.3,197.8 508.1,197.6 508.9,197.4 509.7,197.2 510.4,197.0 511.2,196.9 512.0,196.7 512.8,196.5 513.6,196.3 514.4,196.2 515.1,196.0 515.9,195.8 516.7,195.6 517.5,195.4 518.3,195.3 519.0,195.1 519.8,194.9 520.6,194.7 521.4,194.6 522.2,194.4 523.0,194.2 523.7,194.0 524.5,193.9 525.3,193.7 526.1,193.5 526.9,193.4 527.6,193.2 528.4,193.0 529.2,192.9 530.0,192.7 530.8,192.5 531.6,192.4 532.3,192.2 533.1,192.1 533.9,191.9 534.7,191.8 535.5,191.7 536.2,191.5 537.0,191.4 537.8,191.3 538.6,191.2 539.4,191.1 540.2,191.0 540.9,190.9 541.7,190.8 542.5,190.7" fill="none" stroke="#F6A185" stroke-width="0.8" stroke-opacity="0.95" stroke-linejoin="round" clip-path="url(#cD)"/>
<polyline points="308.7,299.4 309.5,297.8 310.3,296.2 311.0,294.6 311.8,293.1 312.6,291.6 313.4,290.2 314.2,288.9 315.0,287.6 315.7,286.4 316.5,285.1 317.3,283.8 318.1,282.7 318.9,281.6 319.6,280.7 320.4,280.0 321.2,279.4 322.0,278.9 322.8,278.4 323.6,277.9 324.3,277.5 325.1,277.1 325.9,276.7 326.7,276.4 327.5,276.0 328.2,275.6 329.0,275.3 329.8,274.8 330.6,274.4 331.4,273.9 332.2,273.5 332.9,273.0 333.7,272.6 334.5,272.1 335.3,271.7 336.1,271.2 336.8,270.7 337.6,270.3 338.4,269.8 339.2,269.3 340.0,268.9 340.8,268.4 341.5,268.0 342.3,267.5 343.1,267.0 343.9,266.6 344.7,266.1 345.5,265.6 346.2,265.2 347.0,264.7 347.8,264.2 348.6,263.7 349.4,263.3 350.1,262.8 350.9,262.3 351.7,261.9 352.5,261.4 353.3,260.9 354.1,260.4 354.8,260.0 355.6,259.5 356.4,259.0 357.2,258.6 358.0,258.1 358.7,257.6 359.5,257.2 360.3,256.7 361.1,256.2 361.9,255.7 362.7,255.2 363.4,254.7 364.2,254.3 365.0,253.8 365.8,253.3 366.6,252.8 367.3,252.3 368.1,251.9 368.9,251.4 369.7,250.9 370.5,250.4 371.3,250.0 372.0,249.5 372.8,249.0 373.6,248.6 374.4,248.1 375.2,247.6 375.9,247.2 376.7,246.7 377.5,246.2 378.3,245.8 379.1,245.3 379.9,244.9 380.6,244.4 381.4,243.9 382.2,243.5 383.0,243.0 383.8,242.6 384.5,242.2 385.3,241.7 386.1,241.3 386.9,240.8 387.7,240.4 388.5,240.0 389.2,239.6 390.0,239.1 390.8,238.7 391.6,238.3 392.4,237.9 393.1,237.5 393.9,237.0 394.7,236.6 395.5,236.2 396.3,235.8 397.1,235.4 397.8,235.0 398.6,234.6 399.4,234.3 400.2,233.9 401.0,233.5 401.8,233.1 402.5,232.7 403.3,232.3 404.1,231.9 404.9,231.6 405.7,231.2 406.4,230.8 407.2,230.5 408.0,230.1 408.8,229.7 409.6,229.4 410.4,229.0 411.1,228.6 411.9,228.3 412.7,227.9 413.5,227.6 414.3,227.2 415.0,226.9 415.8,226.5 416.6,226.2 417.4,225.8 418.2,225.5 419.0,225.1 419.7,224.8 420.5,224.5 421.3,224.1 422.1,223.8 422.9,223.5 423.6,223.1 424.4,222.8 425.2,222.5 426.0,222.2 426.8,221.8 427.6,221.5 428.3,221.2 429.1,220.9 429.9,220.6 430.7,220.2 431.5,219.9 432.2,219.6 433.0,219.3 433.8,219.0 434.6,218.7 435.4,218.4 436.2,218.1 436.9,217.8 437.7,217.5 438.5,217.2 439.3,216.9 440.1,216.6 440.8,216.4 441.6,216.1 442.4,215.8 443.2,215.5 444.0,215.2 444.8,215.0 445.5,214.7 446.3,214.4 447.1,214.2 447.9,213.9 448.7,213.6 449.4,213.4 450.2,213.1 451.0,212.9 451.8,212.6 452.6,212.4 453.4,212.1 454.1,211.9 454.9,211.6 455.7,211.4 456.5,211.2 457.3,211.0 458.1,210.7 458.8,210.5 459.6,210.3 460.4,210.1 461.2,209.8 462.0,209.6 462.7,209.4 463.5,209.2 464.3,209.0 465.1,208.8 465.9,208.6 466.7,208.4 467.4,208.2 468.2,208.0 469.0,207.8 469.8,207.6 470.6,207.4 471.3,207.2 472.1,207.0 472.9,206.8 473.7,206.6 474.5,206.4 475.3,206.2 476.0,206.1 476.8,205.9 477.6,205.7 478.4,205.5 479.2,205.3 479.9,205.1 480.7,205.0 481.5,204.8 482.3,204.6 483.1,204.4 483.9,204.2 484.6,204.1 485.4,203.9 486.2,203.7 487.0,203.5 487.8,203.3 488.5,203.2 489.3,203.0 490.1,202.8 490.9,202.6 491.7,202.4 492.5,202.3 493.2,202.1 494.0,201.9 494.8,201.7 495.6,201.6 496.4,201.4 497.1,201.2 497.9,201.0 498.7,200.8 499.5,200.7 500.3,200.5 501.1,200.3 501.8,200.1 502.6,200.0 503.4,199.8 504.2,199.6 505.0,199.4 505.7,199.3 506.5,199.1 507.3,198.9 508.1,198.7 508.9,198.6 509.7,198.4 510.4,198.2 511.2,198.0 512.0,197.9 512.8,197.7 513.6,197.5 514.4,197.4 515.1,197.2 515.9,197.0 516.7,196.8 517.5,196.7 518.3,196.5 519.0,196.3 519.8,196.1 520.6,196.0 521.4,195.8 522.2,195.6 523.0,195.5 523.7,195.3 524.5,195.1 525.3,195.0 526.1,194.8 526.9,194.6 527.6,194.5 528.4,194.3 529.2,194.2 530.0,194.0 530.8,193.8 531.6,193.7 532.3,193.5 533.1,193.4 533.9,193.3 534.7,193.1 535.5,193.0 536.2,192.9 537.0,192.7 537.8,192.6 538.6,192.5 539.4,192.4 540.2,192.3 540.9,192.2 541.7,192.1 542.5,192.1" fill="none" stroke="#F6A185" stroke-width="0.8" stroke-opacity="0.95" stroke-linejoin="round" clip-path="url(#cD)"/>
<polyline points="308.7,299.5 309.5,297.9 310.3,296.3 311.0,294.7 311.8,293.3 312.6,291.8 313.4,290.4 314.2,289.1 315.0,287.9 315.7,286.6 316.5,285.4 317.3,284.1 318.1,283.0 318.9,282.0 319.6,281.1 320.4,280.4 321.2,279.8 322.0,279.3 322.8,278.8 323.6,278.3 324.3,277.9 325.1,277.5 325.9,277.1 326.7,276.8 327.5,276.4 328.2,276.1 329.0,275.7 329.8,275.3 330.6,274.8 331.4,274.4 332.2,273.9 332.9,273.5 333.7,273.0 334.5,272.6 335.3,272.1 336.1,271.7 336.8,271.2 337.6,270.7 338.4,270.3 339.2,269.8 340.0,269.4 340.8,268.9 341.5,268.4 342.3,268.0 343.1,267.5 343.9,267.1 344.7,266.6 345.5,266.1 346.2,265.7 347.0,265.2 347.8,264.7 348.6,264.3 349.4,263.8 350.1,263.3 350.9,262.9 351.7,262.4 352.5,261.9 353.3,261.5 354.1,261.0 354.8,260.5 355.6,260.1 356.4,259.6 357.2,259.1 358.0,258.7 358.7,258.2 359.5,257.8 360.3,257.3 361.1,256.8 361.9,256.3 362.7,255.8 363.4,255.3 364.2,254.9 365.0,254.4 365.8,253.9 366.6,253.4 367.3,253.0 368.1,252.5 368.9,252.0 369.7,251.5 370.5,251.0 371.3,250.6 372.0,250.1 372.8,249.6 373.6,249.2 374.4,248.7 375.2,248.2 375.9,247.8 376.7,247.3 377.5,246.8 378.3,246.4 379.1,245.9 379.9,245.5 380.6,245.0 381.4,244.6 382.2,244.1 383.0,243.7 383.8,243.2 384.5,242.8 385.3,242.3 386.1,241.9 386.9,241.5 387.7,241.0 388.5,240.6 389.2,240.2 390.0,239.8 390.8,239.3 391.6,238.9 392.4,238.5 393.1,238.1 393.9,237.7 394.7,237.3 395.5,236.9 396.3,236.5 397.1,236.1 397.8,235.7 398.6,235.3 399.4,234.9 400.2,234.5 401.0,234.1 401.8,233.7 402.5,233.3 403.3,233.0 404.1,232.6 404.9,232.2 405.7,231.8 406.4,231.5 407.2,231.1 408.0,230.7 408.8,230.4 409.6,230.0 410.4,229.6 411.1,229.3 411.9,228.9 412.7,228.6 413.5,228.2 414.3,227.9 415.0,227.5 415.8,227.2 416.6,226.8 417.4,226.5 418.2,226.1 419.0,225.8 419.7,225.5 420.5,225.1 421.3,224.8 422.1,224.4 422.9,224.1 423.6,223.8 424.4,223.5 425.2,223.1 426.0,222.8 426.8,222.5 427.6,222.2 428.3,221.8 429.1,221.5 429.9,221.2 430.7,220.9 431.5,220.6 432.2,220.3 433.0,220.0 433.8,219.7 434.6,219.4 435.4,219.1 436.2,218.8 436.9,218.5 437.7,218.2 438.5,217.9 439.3,217.6 440.1,217.3 440.8,217.0 441.6,216.7 442.4,216.5 443.2,216.2 444.0,215.9 444.8,215.6 445.5,215.4 446.3,215.1 447.1,214.8 447.9,214.6 448.7,214.3 449.4,214.0 450.2,213.8 451.0,213.5 451.8,213.3 452.6,213.0 453.4,212.8 454.1,212.5 454.9,212.3 455.7,212.1 456.5,211.8 457.3,211.6 458.1,211.4 458.8,211.2 459.6,210.9 460.4,210.7 461.2,210.5 462.0,210.3 462.7,210.1 463.5,209.9 464.3,209.7 465.1,209.5 465.9,209.3 466.7,209.1 467.4,208.9 468.2,208.7 469.0,208.5 469.8,208.3 470.6,208.1 471.3,207.9 472.1,207.7 472.9,207.5 473.7,207.3 474.5,207.1 475.3,206.9 476.0,206.7 476.8,206.6 477.6,206.4 478.4,206.2 479.2,206.0 479.9,205.8 480.7,205.7 481.5,205.5 482.3,205.3 483.1,205.1 483.9,204.9 484.6,204.8 485.4,204.6 486.2,204.4 487.0,204.2 487.8,204.1 488.5,203.9 489.3,203.7 490.1,203.5 490.9,203.3 491.7,203.2 492.5,203.0 493.2,202.8 494.0,202.6 494.8,202.5 495.6,202.3 496.4,202.1 497.1,201.9 497.9,201.8 498.7,201.6 499.5,201.4 500.3,201.2 501.1,201.0 501.8,200.9 502.6,200.7 503.4,200.5 504.2,200.4 505.0,200.2 505.7,200.0 506.5,199.9 507.3,199.7 508.1,199.5 508.9,199.3 509.7,199.2 510.4,199.0 511.2,198.8 512.0,198.7 512.8,198.5 513.6,198.3 514.4,198.2 515.1,198.0 515.9,197.8 516.7,197.6 517.5,197.5 518.3,197.3 519.0,197.1 519.8,197.0 520.6,196.8 521.4,196.6 522.2,196.5 523.0,196.3 523.7,196.1 524.5,196.0 525.3,195.8 526.1,195.6 526.9,195.5 527.6,195.3 528.4,195.2 529.2,195.0 530.0,194.9 530.8,194.7 531.6,194.6 532.3,194.4 533.1,194.3 533.9,194.1 534.7,194.0 535.5,193.9 536.2,193.8 537.0,193.6 537.8,193.5 538.6,193.4 539.4,193.3 540.2,193.2 540.9,193.1 541.7,193.1 542.5,193.0" fill="none" stroke="#F6A185" stroke-width="0.8" stroke-opacity="0.95" stroke-linejoin="round" clip-path="url(#cD)"/>
<line x1="308.2" y1="176.0" x2="308.2" y2="306.3" stroke="#6a6a6a" stroke-width="1"/>
<line x1="307.7" y1="306.3" x2="543.8" y2="306.3" stroke="#6a6a6a" stroke-width="1"/>
<line x1="543.3" y1="176.0" x2="543.3" y2="306.3" stroke="#8a8a8a" stroke-width="0.8"/>
<line x1="307.7" y1="176.0" x2="543.8" y2="176.0" stroke="#6a6a6a" stroke-width="1"/>
<line x1="308.6" y1="306.3" x2="308.6" y2="304.7" stroke="#6a6a6a" stroke-width="0.6"/>
<line x1="308.6" y1="176.0" x2="308.6" y2="177.6" stroke="#6a6a6a" stroke-width="0.6"/>
<text x="308.6" y="313.3" font-size="5.3" fill="#6a7896" text-anchor="middle" textLength="2.36" lengthAdjust="spacingAndGlyphs">0</text>
<line x1="333.3" y1="306.3" x2="333.3" y2="304.7" stroke="#6a6a6a" stroke-width="0.6"/>
<line x1="333.3" y1="176.0" x2="333.3" y2="177.6" stroke="#6a6a6a" stroke-width="0.6"/>
<text x="333.3" y="313.3" font-size="5.3" fill="#6a7896" text-anchor="middle" textLength="2.36" lengthAdjust="spacingAndGlyphs">2</text>
<line x1="358.0" y1="306.3" x2="358.0" y2="304.7" stroke="#6a6a6a" stroke-width="0.6"/>
<line x1="358.0" y1="176.0" x2="358.0" y2="177.6" stroke="#6a6a6a" stroke-width="0.6"/>
<text x="358.0" y="313.3" font-size="5.3" fill="#6a7896" text-anchor="middle" textLength="2.36" lengthAdjust="spacingAndGlyphs">4</text>
<line x1="382.7" y1="306.3" x2="382.7" y2="304.7" stroke="#6a6a6a" stroke-width="0.6"/>
<line x1="382.7" y1="176.0" x2="382.7" y2="177.6" stroke="#6a6a6a" stroke-width="0.6"/>
<text x="382.7" y="313.3" font-size="5.3" fill="#6a7896" text-anchor="middle" textLength="2.36" lengthAdjust="spacingAndGlyphs">6</text>
<line x1="407.4" y1="306.3" x2="407.4" y2="304.7" stroke="#6a6a6a" stroke-width="0.6"/>
<line x1="407.4" y1="176.0" x2="407.4" y2="177.6" stroke="#6a6a6a" stroke-width="0.6"/>
<text x="407.4" y="313.3" font-size="5.3" fill="#6a7896" text-anchor="middle" textLength="2.36" lengthAdjust="spacingAndGlyphs">8</text>
<line x1="432.1" y1="306.3" x2="432.1" y2="304.7" stroke="#6a6a6a" stroke-width="0.6"/>
<line x1="432.1" y1="176.0" x2="432.1" y2="177.6" stroke="#6a6a6a" stroke-width="0.6"/>
<text x="432.1" y="313.3" font-size="5.3" fill="#6a7896" text-anchor="middle" textLength="4.72" lengthAdjust="spacingAndGlyphs">10</text>
<line x1="456.8" y1="306.3" x2="456.8" y2="304.7" stroke="#6a6a6a" stroke-width="0.6"/>
<line x1="456.8" y1="176.0" x2="456.8" y2="177.6" stroke="#6a6a6a" stroke-width="0.6"/>
<text x="456.8" y="313.3" font-size="5.3" fill="#6a7896" text-anchor="middle" textLength="4.72" lengthAdjust="spacingAndGlyphs">12</text>
<line x1="481.5" y1="306.3" x2="481.5" y2="304.7" stroke="#6a6a6a" stroke-width="0.6"/>
<line x1="481.5" y1="176.0" x2="481.5" y2="177.6" stroke="#6a6a6a" stroke-width="0.6"/>
<text x="481.5" y="313.3" font-size="5.3" fill="#6a7896" text-anchor="middle" textLength="4.72" lengthAdjust="spacingAndGlyphs">14</text>
<line x1="506.2" y1="306.3" x2="506.2" y2="304.7" stroke="#6a6a6a" stroke-width="0.6"/>
<line x1="506.2" y1="176.0" x2="506.2" y2="177.6" stroke="#6a6a6a" stroke-width="0.6"/>
<text x="506.2" y="313.3" font-size="5.3" fill="#6a7896" text-anchor="middle" textLength="4.72" lengthAdjust="spacingAndGlyphs">16</text>
<line x1="530.9" y1="306.3" x2="530.9" y2="304.7" stroke="#6a6a6a" stroke-width="0.6"/>
<line x1="530.9" y1="176.0" x2="530.9" y2="177.6" stroke="#6a6a6a" stroke-width="0.6"/>
<text x="530.9" y="313.3" font-size="5.3" fill="#6a7896" text-anchor="middle" textLength="4.72" lengthAdjust="spacingAndGlyphs">18</text>
<line x1="308.2" y1="299.8" x2="309.8" y2="299.8" stroke="#6a6a6a" stroke-width="0.6"/>
<line x1="543.3" y1="299.8" x2="541.6999999999999" y2="299.8" stroke="#6a6a6a" stroke-width="0.6"/>
<text x="306.9" y="301.55" font-size="5.3" fill="#6a7896" text-anchor="end" textLength="2.36" lengthAdjust="spacingAndGlyphs">0</text>
<line x1="308.2" y1="281.9" x2="309.8" y2="281.9" stroke="#6a6a6a" stroke-width="0.6"/>
<line x1="543.3" y1="281.9" x2="541.6999999999999" y2="281.9" stroke="#6a6a6a" stroke-width="0.6"/>
<text x="306.9" y="283.65" font-size="5.3" fill="#6a7896" text-anchor="end" textLength="15.33" lengthAdjust="spacingAndGlyphs">100,000</text>
<line x1="308.2" y1="263.9" x2="309.8" y2="263.9" stroke="#6a6a6a" stroke-width="0.6"/>
<line x1="543.3" y1="263.9" x2="541.6999999999999" y2="263.9" stroke="#6a6a6a" stroke-width="0.6"/>
<text x="306.9" y="265.65" font-size="5.3" fill="#6a7896" text-anchor="end" textLength="15.33" lengthAdjust="spacingAndGlyphs">200,000</text>
<line x1="308.2" y1="246.0" x2="309.8" y2="246.0" stroke="#6a6a6a" stroke-width="0.6"/>
<line x1="543.3" y1="246.0" x2="541.6999999999999" y2="246.0" stroke="#6a6a6a" stroke-width="0.6"/>
<text x="306.9" y="247.75" font-size="5.3" fill="#6a7896" text-anchor="end" textLength="15.33" lengthAdjust="spacingAndGlyphs">300,000</text>
<line x1="308.2" y1="228.0" x2="309.8" y2="228.0" stroke="#6a6a6a" stroke-width="0.6"/>
<line x1="543.3" y1="228.0" x2="541.6999999999999" y2="228.0" stroke="#6a6a6a" stroke-width="0.6"/>
<text x="306.9" y="229.75" font-size="5.3" fill="#6a7896" text-anchor="end" textLength="15.33" lengthAdjust="spacingAndGlyphs">400,000</text>
<line x1="308.2" y1="210.1" x2="309.8" y2="210.1" stroke="#6a6a6a" stroke-width="0.6"/>
<line x1="543.3" y1="210.1" x2="541.6999999999999" y2="210.1" stroke="#6a6a6a" stroke-width="0.6"/>
<text x="306.9" y="211.85" font-size="5.3" fill="#6a7896" text-anchor="end" textLength="15.33" lengthAdjust="spacingAndGlyphs">500,000</text>
<line x1="308.2" y1="192.1" x2="309.8" y2="192.1" stroke="#6a6a6a" stroke-width="0.6"/>
<line x1="543.3" y1="192.1" x2="541.6999999999999" y2="192.1" stroke="#6a6a6a" stroke-width="0.6"/>
<text x="306.9" y="193.85" font-size="5.3" fill="#6a7896" text-anchor="end" textLength="15.33" lengthAdjust="spacingAndGlyphs">600,000</text>
<text x="0" y="0" font-size="8.8" fill="#1a1a1a" stroke="#1a1a1a" stroke-width="0.12" text-anchor="middle" transform="translate(284.2,241) rotate(-90)" dominant-baseline="central">Encircled energy</text>
<text x="386.6" y="326.8" font-size="8.8" fill="#1a1a1a" stroke="#1a1a1a" stroke-width="0.12">Spot radius(pixel)</text>
<rect x="525.9" y="315.6" width="19.200000000000045" height="12.199999999999989" fill="#0CE4E4"/>
<text x="535.5" y="324.70000000000005" font-size="9" fill="#0b3030" stroke="#0b3030" stroke-width="0.45" text-anchor="middle">(d)</text>
<g shape-rendering="crispEdges">
<rect x="194.00" y="229.40" width="3.32" height="3.40" fill="#0000b7"/>
<rect x="194.00" y="232.50" width="3.32" height="3.40" fill="#0000b9"/>
<rect x="194.00" y="235.61" width="3.32" height="3.40" fill="#0000bd"/>
<rect x="194.00" y="238.71" width="3.32" height="3.40" fill="#0000c2"/>
<rect x="194.00" y="241.82" width="3.32" height="3.40" fill="#0000c7"/>
<rect x="194.00" y="244.92" width="3.32" height="3.40" fill="#0000ce"/>
<rect x="194.00" y="248.03" width="3.32" height="3.40" fill="#0000d6"/>
<rect x="194.00" y="251.13" width="3.32" height="3.40" fill="#0000de"/>
<rect x="194.00" y="254.23" width="3.32" height="3.40" fill="#0000e7"/>
<rect x="194.00" y="257.34" width="3.32" height="3.40" fill="#0000ef"/>
<rect x="194.00" y="260.44" width="3.32" height="3.40" fill="#0000f6"/>
<rect x="194.00" y="263.55" width="3.32" height="3.40" fill="#0000fc"/>
<rect x="194.00" y="266.65" width="3.32" height="3.40" fill="#0001ff"/>
<rect x="194.00" y="269.75" width="3.32" height="3.40" fill="#0002ff"/>
<rect x="194.00" y="272.86" width="3.32" height="3.40" fill="#0001ff"/>
<rect x="194.00" y="275.96" width="3.32" height="3.40" fill="#0000fc"/>
<rect x="194.00" y="279.07" width="3.32" height="3.40" fill="#0000f7"/>
<rect x="194.00" y="282.17" width="3.32" height="3.40" fill="#0000f0"/>
<rect x="194.00" y="285.27" width="3.32" height="3.40" fill="#0000e8"/>
<rect x="194.00" y="288.38" width="3.32" height="3.40" fill="#0000e0"/>
<rect x="194.00" y="291.48" width="3.32" height="3.40" fill="#0000d7"/>
<rect x="194.00" y="294.59" width="3.32" height="3.40" fill="#0000d0"/>
<rect x="194.00" y="297.69" width="3.32" height="3.40" fill="#0000c9"/>
<rect x="194.00" y="300.80" width="3.32" height="3.40" fill="#0000c3"/>
<rect x="197.02" y="229.40" width="3.32" height="3.40" fill="#0000b7"/>
<rect x="197.02" y="232.50" width="3.32" height="3.40" fill="#0000ba"/>
<rect x="197.02" y="235.61" width="3.32" height="3.40" fill="#0000bf"/>
<rect x="197.02" y="238.71" width="3.32" height="3.40" fill="#0000c6"/>
<rect x="197.02" y="241.82" width="3.32" height="3.40" fill="#0000cd"/>
<rect x="197.02" y="244.92" width="3.32" height="3.40" fill="#0000d6"/>
<rect x="197.02" y="248.03" width="3.32" height="3.40" fill="#0000e1"/>
<rect x="197.02" y="251.13" width="3.32" height="3.40" fill="#0000ec"/>
<rect x="197.02" y="254.23" width="3.32" height="3.40" fill="#0000f7"/>
<rect x="197.02" y="257.34" width="3.32" height="3.40" fill="#0003ff"/>
<rect x="197.02" y="260.44" width="3.32" height="3.40" fill="#000dff"/>
<rect x="197.02" y="263.55" width="3.32" height="3.40" fill="#0015ff"/>
<rect x="197.02" y="266.65" width="3.32" height="3.40" fill="#001aff"/>
<rect x="197.02" y="269.75" width="3.32" height="3.40" fill="#001bff"/>
<rect x="197.02" y="272.86" width="3.32" height="3.40" fill="#001aff"/>
<rect x="197.02" y="275.96" width="3.32" height="3.40" fill="#0015ff"/>
<rect x="197.02" y="279.07" width="3.32" height="3.40" fill="#000eff"/>
<rect x="197.02" y="282.17" width="3.32" height="3.40" fill="#0005ff"/>
<rect x="197.02" y="285.27" width="3.32" height="3.40" fill="#0000f9"/>
<rect x="197.02" y="288.38" width="3.32" height="3.40" fill="#0000ee"/>
<rect x="197.02" y="291.48" width="3.32" height="3.40" fill="#0000e3"/>
<rect x="197.02" y="294.59" width="3.32" height="3.40" fill="#0000d9"/>
<rect x="197.02" y="297.69" width="3.32" height="3.40" fill="#0000d0"/>
<rect x="197.02" y="300.80" width="3.32" height="3.40" fill="#0000c8"/>
<rect x="200.03" y="229.40" width="3.32" height="3.40" fill="#0000b7"/>
<rect x="200.03" y="232.50" width="3.32" height="3.40" fill="#0000bc"/>
<rect x="200.03" y="235.61" width="3.32" height="3.40" fill="#0000c2"/>
<rect x="200.03" y="238.71" width="3.32" height="3.40" fill="#0000ca"/>
<rect x="200.03" y="241.82" width="3.32" height="3.40" fill="#0000d4"/>
<rect x="200.03" y="244.92" width="3.32" height="3.40" fill="#0000e0"/>
<rect x="200.03" y="248.03" width="3.32" height="3.40" fill="#0000ee"/>
<rect x="200.03" y="251.13" width="3.32" height="3.40" fill="#0000fd"/>
<rect x="200.03" y="254.23" width="3.32" height="3.40" fill="#000dff"/>
<rect x="200.03" y="257.34" width="3.32" height="3.40" fill="#001bff"/>
<rect x="200.03" y="260.44" width="3.32" height="3.40" fill="#0028ff"/>
<rect x="200.03" y="263.55" width="3.32" height="3.40" fill="#0031ff"/>
<rect x="200.03" y="266.65" width="3.32" height="3.40" fill="#0038ff"/>
<rect x="200.03" y="269.75" width="3.32" height="3.40" fill="#003aff"/>
<rect x="200.03" y="272.86" width="3.32" height="3.40" fill="#0038ff"/>
<rect x="200.03" y="275.96" width="3.32" height="3.40" fill="#0032ff"/>
<rect x="200.03" y="279.07" width="3.32" height="3.40" fill="#0029ff"/>
<rect x="200.03" y="282.17" width="3.32" height="3.40" fill="#001dff"/>
<rect x="200.03" y="285.27" width="3.32" height="3.40" fill="#000fff"/>
<rect x="200.03" y="288.38" width="3.32" height="3.40" fill="#0001ff"/>
<rect x="200.03" y="291.48" width="3.32" height="3.40" fill="#0000f1"/>
<rect x="200.03" y="294.59" width="3.32" height="3.40" fill="#0000e4"/>
<rect x="200.03" y="297.69" width="3.32" height="3.40" fill="#0000d9"/>
<rect x="200.03" y="300.80" width="3.32" height="3.40" fill="#0000cf"/>
<rect x="203.05" y="229.40" width="3.32" height="3.40" fill="#0000b8"/>
<rect x="203.05" y="232.50" width="3.32" height="3.40" fill="#0000be"/>
<rect x="203.05" y="235.61" width="3.32" height="3.40" fill="#0000c6"/>
<rect x="203.05" y="238.71" width="3.32" height="3.40" fill="#0000d0"/>
<rect x="203.05" y="241.82" width="3.32" height="3.40" fill="#0000dd"/>
<rect x="203.05" y="244.92" width="3.32" height="3.40" fill="#0000ec"/>
<rect x="203.05" y="248.03" width="3.32" height="3.40" fill="#0000fe"/>
<rect x="203.05" y="251.13" width="3.32" height="3.40" fill="#0012ff"/>
<rect x="203.05" y="254.23" width="3.32" height="3.40" fill="#0025ff"/>
<rect x="203.05" y="257.34" width="3.32" height="3.40" fill="#0038ff"/>
<rect x="203.05" y="260.44" width="3.32" height="3.40" fill="#0048ff"/>
<rect x="203.05" y="263.55" width="3.32" height="3.40" fill="#0054ff"/>
<rect x="203.05" y="266.65" width="3.32" height="3.40" fill="#005cff"/>
<rect x="203.05" y="269.75" width="3.32" height="3.40" fill="#005eff"/>
<rect x="203.05" y="272.86" width="3.32" height="3.40" fill="#005bff"/>
<rect x="203.05" y="275.96" width="3.32" height="3.40" fill="#0053ff"/>
<rect x="203.05" y="279.07" width="3.32" height="3.40" fill="#0047ff"/>
<rect x="203.05" y="282.17" width="3.32" height="3.40" fill="#0038ff"/>
<rect x="203.05" y="285.27" width="3.32" height="3.40" fill="#0026ff"/>
<rect x="203.05" y="288.38" width="3.32" height="3.40" fill="#0014ff"/>
<rect x="203.05" y="291.48" width="3.32" height="3.40" fill="#0003ff"/>
<rect x="203.05" y="294.59" width="3.32" height="3.40" fill="#0000f1"/>
<rect x="203.05" y="297.69" width="3.32" height="3.40" fill="#0000e3"/>
<rect x="203.05" y="300.80" width="3.32" height="3.40" fill="#0000d6"/>
<rect x="206.07" y="229.40" width="3.32" height="3.40" fill="#0000b9"/>
<rect x="206.07" y="232.50" width="3.32" height="3.40" fill="#0000c1"/>
<rect x="206.07" y="235.61" width="3.32" height="3.40" fill="#0000cb"/>
<rect x="206.07" y="238.71" width="3.32" height="3.40" fill="#0000d7"/>
<rect x="206.07" y="241.82" width="3.32" height="3.40" fill="#0000e8"/>
<rect x="206.07" y="244.92" width="3.32" height="3.40" fill="#0000fb"/>
<rect x="206.07" y="248.03" width="3.32" height="3.40" fill="#0012ff"/>
<rect x="206.07" y="251.13" width="3.32" height="3.40" fill="#002bff"/>
<rect x="206.07" y="254.23" width="3.32" height="3.40" fill="#0044ff"/>
<rect x="206.07" y="257.34" width="3.32" height="3.40" fill="#005bff"/>
<rect x="206.07" y="260.44" width="3.32" height="3.40" fill="#0070ff"/>
<rect x="206.07" y="263.55" width="3.32" height="3.40" fill="#007fff"/>
<rect x="206.07" y="266.65" width="3.32" height="3.40" fill="#0088ff"/>
<rect x="206.07" y="269.75" width="3.32" height="3.40" fill="#0089ff"/>
<rect x="206.07" y="272.86" width="3.32" height="3.40" fill="#0085ff"/>
<rect x="206.07" y="275.96" width="3.32" height="3.40" fill="#007aff"/>
<rect x="206.07" y="279.07" width="3.32" height="3.40" fill="#006aff"/>
<rect x="206.07" y="282.17" width="3.32" height="3.40" fill="#0056ff"/>
<rect x="206.07" y="285.27" width="3.32" height="3.40" fill="#0041ff"/>
<rect x="206.07" y="288.38" width="3.32" height="3.40" fill="#002aff"/>
<rect x="206.07" y="291.48" width="3.32" height="3.40" fill="#0015ff"/>
<rect x="206.07" y="294.59" width="3.32" height="3.40" fill="#0000ff"/>
<rect x="206.07" y="297.69" width="3.32" height="3.40" fill="#0000ee"/>
<rect x="206.07" y="300.80" width="3.32" height="3.40" fill="#0000df"/>
<rect x="209.08" y="229.40" width="3.32" height="3.40" fill="#0000ba"/>
<rect x="209.08" y="232.50" width="3.32" height="3.40" fill="#0000c3"/>
<rect x="209.08" y="235.61" width="3.32" height="3.40" fill="#0000cf"/>
<rect x="209.08" y="238.71" width="3.32" height="3.40" fill="#0000df"/>
<rect x="209.08" y="241.82" width="3.32" height="3.40" fill="#0000f4"/>
<rect x="209.08" y="244.92" width="3.32" height="3.40" fill="#000dff"/>
<rect x="209.08" y="248.03" width="3.32" height="3.40" fill="#002aff"/>
<rect x="209.08" y="251.13" width="3.32" height="3.40" fill="#004aff"/>
<rect x="209.08" y="254.23" width="3.32" height="3.40" fill="#006aff"/>
<rect x="209.08" y="257.34" width="3.32" height="3.40" fill="#0088ff"/>
<rect x="209.08" y="260.44" width="3.32" height="3.40" fill="#00a2ff"/>
<rect x="209.08" y="263.55" width="3.32" height="3.40" fill="#00b4ff"/>
<rect x="209.08" y="266.65" width="3.32" height="3.40" fill="#00bdff"/>
<rect x="209.08" y="269.75" width="3.32" height="3.40" fill="#00bdff"/>
<rect x="209.08" y="272.86" width="3.32" height="3.40" fill="#00b4ff"/>
<rect x="209.08" y="275.96" width="3.32" height="3.40" fill="#00a5ff"/>
<rect x="209.08" y="279.07" width="3.32" height="3.40" fill="#0090ff"/>
<rect x="209.08" y="282.17" width="3.32" height="3.40" fill="#0077ff"/>
<rect x="209.08" y="285.27" width="3.32" height="3.40" fill="#005dff"/>
<rect x="209.08" y="288.38" width="3.32" height="3.40" fill="#0042ff"/>
<rect x="209.08" y="291.48" width="3.32" height="3.40" fill="#0027ff"/>
<rect x="209.08" y="294.59" width="3.32" height="3.40" fill="#000fff"/>
<rect x="209.08" y="297.69" width="3.32" height="3.40" fill="#0000f9"/>
<rect x="209.08" y="300.80" width="3.32" height="3.40" fill="#0000e7"/>
<rect x="212.10" y="229.40" width="3.32" height="3.40" fill="#0000bc"/>
<rect x="212.10" y="232.50" width="3.32" height="3.40" fill="#0000c6"/>
<rect x="212.10" y="235.61" width="3.32" height="3.40" fill="#0000d5"/>
<rect x="212.10" y="238.71" width="3.32" height="3.40" fill="#0000e8"/>
<rect x="212.10" y="241.82" width="3.32" height="3.40" fill="#0003ff"/>
<rect x="212.10" y="244.92" width="3.32" height="3.40" fill="#0022ff"/>
<rect x="212.10" y="248.03" width="3.32" height="3.40" fill="#0048ff"/>
<rect x="212.10" y="251.13" width="3.32" height="3.40" fill="#0071ff"/>
<rect x="212.10" y="254.23" width="3.32" height="3.40" fill="#009cff"/>
<rect x="212.10" y="257.34" width="3.32" height="3.40" fill="#00c3ff"/>
<rect x="212.10" y="260.44" width="3.32" height="3.40" fill="#00e3ff"/>
<rect x="212.10" y="263.55" width="3.32" height="3.40" fill="#00f7ff"/>
<rect x="212.10" y="266.65" width="3.32" height="3.40" fill="#00fffe"/>
<rect x="212.10" y="269.75" width="3.32" height="3.40" fill="#00fbff"/>
<rect x="212.10" y="272.86" width="3.32" height="3.40" fill="#00ecff"/>
<rect x="212.10" y="275.96" width="3.32" height="3.40" fill="#00d5ff"/>
<rect x="212.10" y="279.07" width="3.32" height="3.40" fill="#00b9ff"/>
<rect x="212.10" y="282.17" width="3.32" height="3.40" fill="#009aff"/>
<rect x="212.10" y="285.27" width="3.32" height="3.40" fill="#0079ff"/>
<rect x="212.10" y="288.38" width="3.32" height="3.40" fill="#0059ff"/>
<rect x="212.10" y="291.48" width="3.32" height="3.40" fill="#003aff"/>
<rect x="212.10" y="294.59" width="3.32" height="3.40" fill="#001eff"/>
<rect x="212.10" y="297.69" width="3.32" height="3.40" fill="#0005ff"/>
<rect x="212.10" y="300.80" width="3.32" height="3.40" fill="#0000f0"/>
<rect x="215.12" y="229.40" width="3.32" height="3.40" fill="#0000bd"/>
<rect x="215.12" y="232.50" width="3.32" height="3.40" fill="#0000c9"/>
<rect x="215.12" y="235.61" width="3.32" height="3.40" fill="#0000db"/>
<rect x="215.12" y="238.71" width="3.32" height="3.40" fill="#0000f3"/>
<rect x="215.12" y="241.82" width="3.32" height="3.40" fill="#0013ff"/>
<rect x="215.12" y="244.92" width="3.32" height="3.40" fill="#003cff"/>
<rect x="215.12" y="248.03" width="3.32" height="3.40" fill="#006dff"/>
<rect x="215.12" y="251.13" width="3.32" height="3.40" fill="#00a4ff"/>
<rect x="215.12" y="254.23" width="3.32" height="3.40" fill="#00ddff"/>
<rect x="215.12" y="257.34" width="3.32" height="3.40" fill="#11ffed"/>
<rect x="215.12" y="260.44" width="3.32" height="3.40" fill="#39ffc5"/>
<rect x="215.12" y="263.55" width="3.32" height="3.40" fill="#4fffaf"/>
<rect x="215.12" y="266.65" width="3.32" height="3.40" fill="#54ffaa"/>
<rect x="215.12" y="269.75" width="3.32" height="3.40" fill="#47ffb7"/>
<rect x="215.12" y="272.86" width="3.32" height="3.40" fill="#2effd0"/>
<rect x="215.12" y="275.96" width="3.32" height="3.40" fill="#0cfff2"/>
<rect x="215.12" y="279.07" width="3.32" height="3.40" fill="#00e5ff"/>
<rect x="215.12" y="282.17" width="3.32" height="3.40" fill="#00beff"/>
<rect x="215.12" y="285.27" width="3.32" height="3.40" fill="#0096ff"/>
<rect x="215.12" y="288.38" width="3.32" height="3.40" fill="#0070ff"/>
<rect x="215.12" y="291.48" width="3.32" height="3.40" fill="#004cff"/>
<rect x="215.12" y="294.59" width="3.32" height="3.40" fill="#002cff"/>
<rect x="215.12" y="297.69" width="3.32" height="3.40" fill="#0010ff"/>
<rect x="215.12" y="300.80" width="3.32" height="3.40" fill="#0000f8"/>
<rect x="218.13" y="229.40" width="3.32" height="3.40" fill="#0000be"/>
<rect x="218.13" y="232.50" width="3.32" height="3.40" fill="#0000cc"/>
<rect x="218.13" y="235.61" width="3.32" height="3.40" fill="#0000e1"/>
<rect x="218.13" y="238.71" width="3.32" height="3.40" fill="#0000fe"/>
<rect x="218.13" y="241.82" width="3.32" height="3.40" fill="#0026ff"/>
<rect x="218.13" y="244.92" width="3.32" height="3.40" fill="#005bff"/>
<rect x="218.13" y="248.03" width="3.32" height="3.40" fill="#009bff"/>
<rect x="218.13" y="251.13" width="3.32" height="3.40" fill="#00e4ff"/>
<rect x="218.13" y="254.23" width="3.32" height="3.40" fill="#30ffce"/>
<rect x="218.13" y="257.34" width="3.32" height="3.40" fill="#73ff8b"/>
<rect x="218.13" y="260.44" width="3.32" height="3.40" fill="#a4ff5a"/>
<rect x="218.13" y="263.55" width="3.32" height="3.40" fill="#bcff42"/>
<rect x="218.13" y="266.65" width="3.32" height="3.40" fill="#baff44"/>
<rect x="218.13" y="269.75" width="3.32" height="3.40" fill="#a1ff5d"/>
<rect x="218.13" y="272.86" width="3.32" height="3.40" fill="#78ff86"/>
<rect x="218.13" y="275.96" width="3.32" height="3.40" fill="#47ffb7"/>
<rect x="218.13" y="279.07" width="3.32" height="3.40" fill="#14ffea"/>
<rect x="218.13" y="282.17" width="3.32" height="3.40" fill="#00e0ff"/>
<rect x="218.13" y="285.27" width="3.32" height="3.40" fill="#00b1ff"/>
<rect x="218.13" y="288.38" width="3.32" height="3.40" fill="#0085ff"/>
<rect x="218.13" y="291.48" width="3.32" height="3.40" fill="#005dff"/>
<rect x="218.13" y="294.59" width="3.32" height="3.40" fill="#0039ff"/>
<rect x="218.13" y="297.69" width="3.32" height="3.40" fill="#001aff"/>
<rect x="218.13" y="300.80" width="3.32" height="3.40" fill="#0000ff"/>
<rect x="221.15" y="229.40" width="3.32" height="3.40" fill="#0000bf"/>
<rect x="221.15" y="232.50" width="3.32" height="3.40" fill="#0000cf"/>
<rect x="221.15" y="235.61" width="3.32" height="3.40" fill="#0000e7"/>
<rect x="221.15" y="238.71" width="3.32" height="3.40" fill="#000aff"/>
<rect x="221.15" y="241.82" width="3.32" height="3.40" fill="#003bff"/>
<rect x="221.15" y="244.92" width="3.32" height="3.40" fill="#007dff"/>
<rect x="221.15" y="248.03" width="3.32" height="3.40" fill="#00d0ff"/>
<rect x="221.15" y="251.13" width="3.32" height="3.40" fill="#30ffce"/>
<rect x="221.15" y="254.23" width="3.32" height="3.40" fill="#90ff6e"/>
<rect x="221.15" y="257.34" width="3.32" height="3.40" fill="#e6ff18"/>
<rect x="221.15" y="260.44" width="3.32" height="3.40" fill="#ffdc00"/>
<rect x="221.15" y="263.55" width="3.32" height="3.40" fill="#ffc300"/>
<rect x="221.15" y="266.65" width="3.32" height="3.40" fill="#ffce00"/>
<rect x="221.15" y="269.75" width="3.32" height="3.40" fill="#fff800"/>
<rect x="221.15" y="272.86" width="3.32" height="3.40" fill="#c9ff35"/>
<rect x="221.15" y="275.96" width="3.32" height="3.40" fill="#84ff7a"/>
<rect x="221.15" y="279.07" width="3.32" height="3.40" fill="#41ffbd"/>
<rect x="221.15" y="282.17" width="3.32" height="3.40" fill="#02fffc"/>
<rect x="221.15" y="285.27" width="3.32" height="3.40" fill="#00c8ff"/>
<rect x="221.15" y="288.38" width="3.32" height="3.40" fill="#0096ff"/>
<rect x="221.15" y="291.48" width="3.32" height="3.40" fill="#006aff"/>
<rect x="221.15" y="294.59" width="3.32" height="3.40" fill="#0043ff"/>
<rect x="221.15" y="297.69" width="3.32" height="3.40" fill="#0021ff"/>
<rect x="221.15" y="300.80" width="3.32" height="3.40" fill="#0005ff"/>
<rect x="224.17" y="229.40" width="3.32" height="3.40" fill="#0000bf"/>
<rect x="224.17" y="232.50" width="3.32" height="3.40" fill="#0000d1"/>
<rect x="224.17" y="235.61" width="3.32" height="3.40" fill="#0000ec"/>
<rect x="224.17" y="238.71" width="3.32" height="3.40" fill="#0015ff"/>
<rect x="224.17" y="241.82" width="3.32" height="3.40" fill="#0050ff"/>
<rect x="224.17" y="244.92" width="3.32" height="3.40" fill="#00a1ff"/>
<rect x="224.17" y="248.03" width="3.32" height="3.40" fill="#09fff5"/>
<rect x="224.17" y="251.13" width="3.32" height="3.40" fill="#7eff80"/>
<rect x="224.17" y="254.23" width="3.32" height="3.40" fill="#f5ff09"/>
<rect x="224.17" y="257.34" width="3.32" height="3.40" fill="#ffa000"/>
<rect x="224.17" y="260.44" width="3.32" height="3.40" fill="#ff5a00"/>
<rect x="224.17" y="263.55" width="3.32" height="3.40" fill="#ff4100"/>
<rect x="224.17" y="266.65" width="3.32" height="3.40" fill="#ff5700"/>
<rect x="224.17" y="269.75" width="3.32" height="3.40" fill="#ff9400"/>
<rect x="224.17" y="272.86" width="3.32" height="3.40" fill="#ffe600"/>
<rect x="224.17" y="275.96" width="3.32" height="3.40" fill="#bdff41"/>
<rect x="224.17" y="279.07" width="3.32" height="3.40" fill="#68ff96"/>
<rect x="224.17" y="282.17" width="3.32" height="3.40" fill="#1dffe1"/>
<rect x="224.17" y="285.27" width="3.32" height="3.40" fill="#00dbff"/>
<rect x="224.17" y="288.38" width="3.32" height="3.40" fill="#00a3ff"/>
<rect x="224.17" y="291.48" width="3.32" height="3.40" fill="#0073ff"/>
<rect x="224.17" y="294.59" width="3.32" height="3.40" fill="#0049ff"/>
<rect x="224.17" y="297.69" width="3.32" height="3.40" fill="#0026ff"/>
<rect x="224.17" y="300.80" width="3.32" height="3.40" fill="#0009ff"/>
<rect x="227.18" y="229.40" width="3.32" height="3.40" fill="#0000be"/>
<rect x="227.18" y="232.50" width="3.32" height="3.40" fill="#0000d1"/>
<rect x="227.18" y="235.61" width="3.32" height="3.40" fill="#0000ef"/>
<rect x="227.18" y="238.71" width="3.32" height="3.40" fill="#001eff"/>
<rect x="227.18" y="241.82" width="3.32" height="3.40" fill="#0063ff"/>
<rect x="227.18" y="244.92" width="3.32" height="3.40" fill="#00c2ff"/>
<rect x="227.18" y="248.03" width="3.32" height="3.40" fill="#3bffc3"/>
<rect x="227.18" y="251.13" width="3.32" height="3.40" fill="#c3ff3b"/>
<rect x="227.18" y="254.23" width="3.32" height="3.40" fill="#ffb000"/>
<rect x="227.18" y="257.34" width="3.32" height="3.40" fill="#ff3900"/>
<rect x="227.18" y="260.44" width="3.32" height="3.40" fill="#ea0000"/>
<rect x="227.18" y="263.55" width="3.32" height="3.40" fill="#d20000"/>
<rect x="227.18" y="266.65" width="3.32" height="3.40" fill="#f30000"/>
<rect x="227.18" y="269.75" width="3.32" height="3.40" fill="#ff4100"/>
<rect x="227.18" y="272.86" width="3.32" height="3.40" fill="#ffa800"/>
<rect x="227.18" y="275.96" width="3.32" height="3.40" fill="#e9ff15"/>
<rect x="227.18" y="279.07" width="3.32" height="3.40" fill="#84ff7a"/>
<rect x="227.18" y="282.17" width="3.32" height="3.40" fill="#2effd0"/>
<rect x="227.18" y="285.27" width="3.32" height="3.40" fill="#00e5ff"/>
<rect x="227.18" y="288.38" width="3.32" height="3.40" fill="#00a9ff"/>
<rect x="227.18" y="291.48" width="3.32" height="3.40" fill="#0077ff"/>
<rect x="227.18" y="294.59" width="3.32" height="3.40" fill="#004cff"/>
<rect x="227.18" y="297.69" width="3.32" height="3.40" fill="#0028ff"/>
<rect x="227.18" y="300.80" width="3.32" height="3.40" fill="#000aff"/>
<rect x="230.20" y="229.40" width="3.32" height="3.40" fill="#0000bd"/>
<rect x="230.20" y="232.50" width="3.32" height="3.40" fill="#0000d0"/>
<rect x="230.20" y="235.61" width="3.32" height="3.40" fill="#0000f0"/>
<rect x="230.20" y="238.71" width="3.32" height="3.40" fill="#0023ff"/>
<rect x="230.20" y="241.82" width="3.32" height="3.40" fill="#006fff"/>
<rect x="230.20" y="244.92" width="3.32" height="3.40" fill="#00d9ff"/>
<rect x="230.20" y="248.03" width="3.32" height="3.40" fill="#5effa0"/>
<rect x="230.20" y="251.13" width="3.32" height="3.40" fill="#f2ff0c"/>
<rect x="230.20" y="254.23" width="3.32" height="3.40" fill="#ff7800"/>
<rect x="230.20" y="257.34" width="3.32" height="3.40" fill="#f90000"/>
<rect x="230.20" y="260.44" width="3.32" height="3.40" fill="#a70000"/>
<rect x="230.20" y="263.55" width="3.32" height="3.40" fill="#910000"/>
<rect x="230.20" y="266.65" width="3.32" height="3.40" fill="#b90000"/>
<rect x="230.20" y="269.75" width="3.32" height="3.40" fill="#ff1300"/>
<rect x="230.20" y="272.86" width="3.32" height="3.40" fill="#ff8700"/>
<rect x="230.20" y="275.96" width="3.32" height="3.40" fill="#fdff01"/>
<rect x="230.20" y="279.07" width="3.32" height="3.40" fill="#90ff6e"/>
<rect x="230.20" y="282.17" width="3.32" height="3.40" fill="#33ffcb"/>
<rect x="230.20" y="285.27" width="3.32" height="3.40" fill="#00e6ff"/>
<rect x="230.20" y="288.38" width="3.32" height="3.40" fill="#00a8ff"/>
<rect x="230.20" y="291.48" width="3.32" height="3.40" fill="#0075ff"/>
<rect x="230.20" y="294.59" width="3.32" height="3.40" fill="#004aff"/>
<rect x="230.20" y="297.69" width="3.32" height="3.40" fill="#0027ff"/>
<rect x="230.20" y="300.80" width="3.32" height="3.40" fill="#0009ff"/>
<rect x="233.22" y="229.40" width="3.32" height="3.40" fill="#0000ba"/>
<rect x="233.22" y="232.50" width="3.32" height="3.40" fill="#0000ce"/>
<rect x="233.22" y="235.61" width="3.32" height="3.40" fill="#0000ee"/>
<rect x="233.22" y="238.71" width="3.32" height="3.40" fill="#0023ff"/>
<rect x="233.22" y="241.82" width="3.32" height="3.40" fill="#0074ff"/>
<rect x="233.22" y="244.92" width="3.32" height="3.40" fill="#00e3ff"/>
<rect x="233.22" y="248.03" width="3.32" height="3.40" fill="#6cff92"/>
<rect x="233.22" y="251.13" width="3.32" height="3.40" fill="#fffd00"/>
<rect x="233.22" y="254.23" width="3.32" height="3.40" fill="#ff6e00"/>
<rect x="233.22" y="257.34" width="3.32" height="3.40" fill="#f30000"/>
<rect x="233.22" y="260.44" width="3.32" height="3.40" fill="#a40000"/>
<rect x="233.22" y="263.55" width="3.32" height="3.40" fill="#900000"/>
<rect x="233.22" y="266.65" width="3.32" height="3.40" fill="#bb0000"/>
<rect x="233.22" y="269.75" width="3.32" height="3.40" fill="#ff1800"/>
<rect x="233.22" y="272.86" width="3.32" height="3.40" fill="#ff8e00"/>
<rect x="233.22" y="275.96" width="3.32" height="3.40" fill="#f5ff09"/>
<rect x="233.22" y="279.07" width="3.32" height="3.40" fill="#86ff78"/>
<rect x="233.22" y="282.17" width="3.32" height="3.40" fill="#29ffd5"/>
<rect x="233.22" y="285.27" width="3.32" height="3.40" fill="#00ddff"/>
<rect x="233.22" y="288.38" width="3.32" height="3.40" fill="#00a0ff"/>
<rect x="233.22" y="291.48" width="3.32" height="3.40" fill="#006eff"/>
<rect x="233.22" y="294.59" width="3.32" height="3.40" fill="#0045ff"/>
<rect x="233.22" y="297.69" width="3.32" height="3.40" fill="#0022ff"/>
<rect x="233.22" y="300.80" width="3.32" height="3.40" fill="#0006ff"/>
<rect x="236.23" y="229.40" width="3.32" height="3.40" fill="#0000b7"/>
<rect x="236.23" y="232.50" width="3.32" height="3.40" fill="#0000c9"/>
<rect x="236.23" y="235.61" width="3.32" height="3.40" fill="#0000e9"/>
<rect x="236.23" y="238.71" width="3.32" height="3.40" fill="#001eff"/>
<rect x="236.23" y="241.82" width="3.32" height="3.40" fill="#006fff"/>
<rect x="236.23" y="244.92" width="3.32" height="3.40" fill="#00dfff"/>
<rect x="236.23" y="248.03" width="3.32" height="3.40" fill="#63ff9b"/>
<rect x="236.23" y="251.13" width="3.32" height="3.40" fill="#eaff14"/>
<rect x="236.23" y="254.23" width="3.32" height="3.40" fill="#ff9500"/>
<rect x="236.23" y="257.34" width="3.32" height="3.40" fill="#ff2a00"/>
<rect x="236.23" y="260.44" width="3.32" height="3.40" fill="#e30000"/>
<rect x="236.23" y="263.55" width="3.32" height="3.40" fill="#d20000"/>
<rect x="236.23" y="266.65" width="3.32" height="3.40" fill="#fa0000"/>
<rect x="236.23" y="269.75" width="3.32" height="3.40" fill="#ff5000"/>
<rect x="236.23" y="272.86" width="3.32" height="3.40" fill="#ffbe00"/>
<rect x="236.23" y="275.96" width="3.32" height="3.40" fill="#ceff30"/>
<rect x="236.23" y="279.07" width="3.32" height="3.40" fill="#67ff97"/>
<rect x="236.23" y="282.17" width="3.32" height="3.40" fill="#10ffee"/>
<rect x="236.23" y="285.27" width="3.32" height="3.40" fill="#00c9ff"/>
<rect x="236.23" y="288.38" width="3.32" height="3.40" fill="#0091ff"/>
<rect x="236.23" y="291.48" width="3.32" height="3.40" fill="#0062ff"/>
<rect x="236.23" y="294.59" width="3.32" height="3.40" fill="#003bff"/>
<rect x="236.23" y="297.69" width="3.32" height="3.40" fill="#001bff"/>
<rect x="236.23" y="300.80" width="3.32" height="3.40" fill="#0001ff"/>
<rect x="239.25" y="229.40" width="3.32" height="3.40" fill="#0000b2"/>
<rect x="239.25" y="232.50" width="3.32" height="3.40" fill="#0000c4"/>
<rect x="239.25" y="235.61" width="3.32" height="3.40" fill="#0000e1"/>
<rect x="239.25" y="238.71" width="3.32" height="3.40" fill="#0014ff"/>
<rect x="239.25" y="241.82" width="3.32" height="3.40" fill="#0062ff"/>
<rect x="239.25" y="244.92" width="3.32" height="3.40" fill="#00cdff"/>
<rect x="239.25" y="248.03" width="3.32" height="3.40" fill="#44ffba"/>
<rect x="239.25" y="251.13" width="3.32" height="3.40" fill="#b5ff49"/>
<rect x="239.25" y="254.23" width="3.32" height="3.40" fill="#ffe400"/>
<rect x="239.25" y="257.34" width="3.32" height="3.40" fill="#ff9100"/>
<rect x="239.25" y="260.44" width="3.32" height="3.40" fill="#ff5900"/>
<rect x="239.25" y="263.55" width="3.32" height="3.40" fill="#ff4a00"/>
<rect x="239.25" y="266.65" width="3.32" height="3.40" fill="#ff6b00"/>
<rect x="239.25" y="269.75" width="3.32" height="3.40" fill="#ffb200"/>
<rect x="239.25" y="272.86" width="3.32" height="3.40" fill="#efff0f"/>
<rect x="239.25" y="275.96" width="3.32" height="3.40" fill="#8fff6f"/>
<rect x="239.25" y="279.07" width="3.32" height="3.40" fill="#37ffc7"/>
<rect x="239.25" y="282.17" width="3.32" height="3.40" fill="#00ebff"/>
<rect x="239.25" y="285.27" width="3.32" height="3.40" fill="#00aeff"/>
<rect x="239.25" y="288.38" width="3.32" height="3.40" fill="#007cff"/>
<rect x="239.25" y="291.48" width="3.32" height="3.40" fill="#0052ff"/>
<rect x="239.25" y="294.59" width="3.32" height="3.40" fill="#002fff"/>
<rect x="239.25" y="297.69" width="3.32" height="3.40" fill="#0012ff"/>
<rect x="239.25" y="300.80" width="3.32" height="3.40" fill="#0000f9"/>
<rect x="242.27" y="229.40" width="3.32" height="3.40" fill="#0000ad"/>
<rect x="242.27" y="232.50" width="3.32" height="3.40" fill="#0000bd"/>
<rect x="242.27" y="235.61" width="3.32" height="3.40" fill="#0000d7"/>
<rect x="242.27" y="238.71" width="3.32" height="3.40" fill="#0006ff"/>
<rect x="242.27" y="241.82" width="3.32" height="3.40" fill="#004fff"/>
<rect x="242.27" y="244.92" width="3.32" height="3.40" fill="#00afff"/>
<rect x="242.27" y="248.03" width="3.32" height="3.40" fill="#15ffe9"/>
<rect x="242.27" y="251.13" width="3.32" height="3.40" fill="#6bff93"/>
<rect x="242.27" y="254.23" width="3.32" height="3.40" fill="#b1ff4d"/>
<rect x="242.27" y="257.34" width="3.32" height="3.40" fill="#eaff14"/>
<rect x="242.27" y="260.44" width="3.32" height="3.40" fill="#ffea00"/>
<rect x="242.27" y="263.55" width="3.32" height="3.40" fill="#ffde00"/>
<rect x="242.27" y="266.65" width="3.32" height="3.40" fill="#fff500"/>
<rect x="242.27" y="269.75" width="3.32" height="3.40" fill="#d3ff2b"/>
<rect x="242.27" y="272.86" width="3.32" height="3.40" fill="#8dff71"/>
<rect x="242.27" y="275.96" width="3.32" height="3.40" fill="#43ffbb"/>
<rect x="242.27" y="279.07" width="3.32" height="3.40" fill="#00fcff"/>
<rect x="242.27" y="282.17" width="3.32" height="3.40" fill="#00c0ff"/>
<rect x="242.27" y="285.27" width="3.32" height="3.40" fill="#008dff"/>
<rect x="242.27" y="288.38" width="3.32" height="3.40" fill="#0063ff"/>
<rect x="242.27" y="291.48" width="3.32" height="3.40" fill="#003fff"/>
<rect x="242.27" y="294.59" width="3.32" height="3.40" fill="#0021ff"/>
<rect x="242.27" y="297.69" width="3.32" height="3.40" fill="#0007ff"/>
<rect x="242.27" y="300.80" width="3.32" height="3.40" fill="#0000f1"/>
<rect x="245.28" y="229.40" width="3.32" height="3.40" fill="#0000a8"/>
<rect x="245.28" y="232.50" width="3.32" height="3.40" fill="#0000b6"/>
<rect x="245.28" y="235.61" width="3.32" height="3.40" fill="#0000cc"/>
<rect x="245.28" y="238.71" width="3.32" height="3.40" fill="#0000f4"/>
<rect x="245.28" y="241.82" width="3.32" height="3.40" fill="#0036ff"/>
<rect x="245.28" y="244.92" width="3.32" height="3.40" fill="#0089ff"/>
<rect x="245.28" y="248.03" width="3.32" height="3.40" fill="#00daff"/>
<rect x="245.28" y="251.13" width="3.32" height="3.40" fill="#19ffe5"/>
<rect x="245.28" y="254.23" width="3.32" height="3.40" fill="#43ffbb"/>
<rect x="245.28" y="257.34" width="3.32" height="3.40" fill="#65ff99"/>
<rect x="245.28" y="260.44" width="3.32" height="3.40" fill="#80ff7e"/>
<rect x="245.28" y="263.55" width="3.32" height="3.40" fill="#8aff74"/>
<rect x="245.28" y="266.65" width="3.32" height="3.40" fill="#7dff81"/>
<rect x="245.28" y="269.75" width="3.32" height="3.40" fill="#5affa4"/>
<rect x="245.28" y="272.86" width="3.32" height="3.40" fill="#29ffd5"/>
<rect x="245.28" y="275.96" width="3.32" height="3.40" fill="#00f3ff"/>
<rect x="245.28" y="279.07" width="3.32" height="3.40" fill="#00c0ff"/>
<rect x="245.28" y="282.17" width="3.32" height="3.40" fill="#0092ff"/>
<rect x="245.28" y="285.27" width="3.32" height="3.40" fill="#006bff"/>
<rect x="245.28" y="288.38" width="3.32" height="3.40" fill="#0048ff"/>
<rect x="245.28" y="291.48" width="3.32" height="3.40" fill="#002bff"/>
<rect x="245.28" y="294.59" width="3.32" height="3.40" fill="#0011ff"/>
<rect x="245.28" y="297.69" width="3.32" height="3.40" fill="#0000fa"/>
<rect x="245.28" y="300.80" width="3.32" height="3.40" fill="#0000e9"/>
<rect x="248.30" y="229.40" width="3.32" height="3.40" fill="#0000a3"/>
<rect x="248.30" y="232.50" width="3.32" height="3.40" fill="#0000af"/>
<rect x="248.30" y="235.61" width="3.32" height="3.40" fill="#0000c1"/>
<rect x="248.30" y="238.71" width="3.32" height="3.40" fill="#0000e3"/>
<rect x="248.30" y="241.82" width="3.32" height="3.40" fill="#001aff"/>
<rect x="248.30" y="244.92" width="3.32" height="3.40" fill="#005eff"/>
<rect x="248.30" y="248.03" width="3.32" height="3.40" fill="#009dff"/>
<rect x="248.30" y="251.13" width="3.32" height="3.40" fill="#00c6ff"/>
<rect x="248.30" y="254.23" width="3.32" height="3.40" fill="#00dcff"/>
<rect x="248.30" y="257.34" width="3.32" height="3.40" fill="#00edff"/>
<rect x="248.30" y="260.44" width="3.32" height="3.40" fill="#00feff"/>
<rect x="248.30" y="263.55" width="3.32" height="3.40" fill="#07fff7"/>
<rect x="248.30" y="266.65" width="3.32" height="3.40" fill="#01fffd"/>
<rect x="248.30" y="269.75" width="3.32" height="3.40" fill="#00ecff"/>
<rect x="248.30" y="272.86" width="3.32" height="3.40" fill="#00ceff"/>
<rect x="248.30" y="275.96" width="3.32" height="3.40" fill="#00abff"/>
<rect x="248.30" y="279.07" width="3.32" height="3.40" fill="#0088ff"/>
<rect x="248.30" y="282.17" width="3.32" height="3.40" fill="#0067ff"/>
<rect x="248.30" y="285.27" width="3.32" height="3.40" fill="#0049ff"/>
<rect x="248.30" y="288.38" width="3.32" height="3.40" fill="#002eff"/>
<rect x="248.30" y="291.48" width="3.32" height="3.40" fill="#0016ff"/>
<rect x="248.30" y="294.59" width="3.32" height="3.40" fill="#0002ff"/>
<rect x="248.30" y="297.69" width="3.32" height="3.40" fill="#0000ef"/>
<rect x="248.30" y="300.80" width="3.32" height="3.40" fill="#0000e0"/>
<rect x="251.32" y="229.40" width="3.32" height="3.40" fill="#00009f"/>
<rect x="251.32" y="232.50" width="3.32" height="3.40" fill="#0000a8"/>
<rect x="251.32" y="235.61" width="3.32" height="3.40" fill="#0000b7"/>
<rect x="251.32" y="238.71" width="3.32" height="3.40" fill="#0000d2"/>
<rect x="251.32" y="241.82" width="3.32" height="3.40" fill="#0000fc"/>
<rect x="251.32" y="244.92" width="3.32" height="3.40" fill="#0032ff"/>
<rect x="251.32" y="248.03" width="3.32" height="3.40" fill="#0060ff"/>
<rect x="251.32" y="251.13" width="3.32" height="3.40" fill="#007bff"/>
<rect x="251.32" y="254.23" width="3.32" height="3.40" fill="#0085ff"/>
<rect x="251.32" y="257.34" width="3.32" height="3.40" fill="#008dff"/>
<rect x="251.32" y="260.44" width="3.32" height="3.40" fill="#0097ff"/>
<rect x="251.32" y="263.55" width="3.32" height="3.40" fill="#009fff"/>
<rect x="251.32" y="266.65" width="3.32" height="3.40" fill="#009eff"/>
<rect x="251.32" y="269.75" width="3.32" height="3.40" fill="#0094ff"/>
<rect x="251.32" y="272.86" width="3.32" height="3.40" fill="#0083ff"/>
<rect x="251.32" y="275.96" width="3.32" height="3.40" fill="#006eff"/>
<rect x="251.32" y="279.07" width="3.32" height="3.40" fill="#0057ff"/>
<rect x="251.32" y="282.17" width="3.32" height="3.40" fill="#0040ff"/>
<rect x="251.32" y="285.27" width="3.32" height="3.40" fill="#002aff"/>
<rect x="251.32" y="288.38" width="3.32" height="3.40" fill="#0016ff"/>
<rect x="251.32" y="291.48" width="3.32" height="3.40" fill="#0003ff"/>
<rect x="251.32" y="294.59" width="3.32" height="3.40" fill="#0000f2"/>
<rect x="251.32" y="297.69" width="3.32" height="3.40" fill="#0000e3"/>
<rect x="251.32" y="300.80" width="3.32" height="3.40" fill="#0000d8"/>
<rect x="254.33" y="229.40" width="3.32" height="3.40" fill="#00009a"/>
<rect x="254.33" y="232.50" width="3.32" height="3.40" fill="#0000a2"/>
<rect x="254.33" y="235.61" width="3.32" height="3.40" fill="#0000ad"/>
<rect x="254.33" y="238.71" width="3.32" height="3.40" fill="#0000c2"/>
<rect x="254.33" y="241.82" width="3.32" height="3.40" fill="#0000e1"/>
<rect x="254.33" y="244.92" width="3.32" height="3.40" fill="#0009ff"/>
<rect x="254.33" y="248.03" width="3.32" height="3.40" fill="#002aff"/>
<rect x="254.33" y="251.13" width="3.32" height="3.40" fill="#003bff"/>
<rect x="254.33" y="254.23" width="3.32" height="3.40" fill="#0040ff"/>
<rect x="254.33" y="257.34" width="3.32" height="3.40" fill="#0044ff"/>
<rect x="254.33" y="260.44" width="3.32" height="3.40" fill="#004bff"/>
<rect x="254.33" y="263.55" width="3.32" height="3.40" fill="#0052ff"/>
<rect x="254.33" y="266.65" width="3.32" height="3.40" fill="#0055ff"/>
<rect x="254.33" y="269.75" width="3.32" height="3.40" fill="#0051ff"/>
<rect x="254.33" y="272.86" width="3.32" height="3.40" fill="#0049ff"/>
<rect x="254.33" y="275.96" width="3.32" height="3.40" fill="#003dff"/>
<rect x="254.33" y="279.07" width="3.32" height="3.40" fill="#002eff"/>
<rect x="254.33" y="282.17" width="3.32" height="3.40" fill="#001fff"/>
<rect x="254.33" y="285.27" width="3.32" height="3.40" fill="#000fff"/>
<rect x="254.33" y="288.38" width="3.32" height="3.40" fill="#0000ff"/>
<rect x="254.33" y="291.48" width="3.32" height="3.40" fill="#0000f1"/>
<rect x="254.33" y="294.59" width="3.32" height="3.40" fill="#0000e4"/>
<rect x="254.33" y="297.69" width="3.32" height="3.40" fill="#0000d9"/>
<rect x="254.33" y="300.80" width="3.32" height="3.40" fill="#0000d0"/>
<rect x="257.35" y="229.40" width="3.32" height="3.40" fill="#000096"/>
<rect x="257.35" y="232.50" width="3.32" height="3.40" fill="#00009c"/>
<rect x="257.35" y="235.61" width="3.32" height="3.40" fill="#0000a5"/>
<rect x="257.35" y="238.71" width="3.32" height="3.40" fill="#0000b4"/>
<rect x="257.35" y="241.82" width="3.32" height="3.40" fill="#0000ca"/>
<rect x="257.35" y="244.92" width="3.32" height="3.40" fill="#0000e4"/>
<rect x="257.35" y="248.03" width="3.32" height="3.40" fill="#0000fb"/>
<rect x="257.35" y="251.13" width="3.32" height="3.40" fill="#0008ff"/>
<rect x="257.35" y="254.23" width="3.32" height="3.40" fill="#000dff"/>
<rect x="257.35" y="257.34" width="3.32" height="3.40" fill="#0010ff"/>
<rect x="257.35" y="260.44" width="3.32" height="3.40" fill="#0016ff"/>
<rect x="257.35" y="263.55" width="3.32" height="3.40" fill="#001cff"/>
<rect x="257.35" y="266.65" width="3.32" height="3.40" fill="#0020ff"/>
<rect x="257.35" y="269.75" width="3.32" height="3.40" fill="#0020ff"/>
<rect x="257.35" y="272.86" width="3.32" height="3.40" fill="#001dff"/>
<rect x="257.35" y="275.96" width="3.32" height="3.40" fill="#0016ff"/>
<rect x="257.35" y="279.07" width="3.32" height="3.40" fill="#000dff"/>
<rect x="257.35" y="282.17" width="3.32" height="3.40" fill="#0003ff"/>
<rect x="257.35" y="285.27" width="3.32" height="3.40" fill="#0000f7"/>
<rect x="257.35" y="288.38" width="3.32" height="3.40" fill="#0000ec"/>
<rect x="257.35" y="291.48" width="3.32" height="3.40" fill="#0000e1"/>
<rect x="257.35" y="294.59" width="3.32" height="3.40" fill="#0000d8"/>
<rect x="257.35" y="297.69" width="3.32" height="3.40" fill="#0000d0"/>
<rect x="257.35" y="300.80" width="3.32" height="3.40" fill="#0000c9"/>
<rect x="260.37" y="229.40" width="3.32" height="3.40" fill="#000093"/>
<rect x="260.37" y="232.50" width="3.32" height="3.40" fill="#000097"/>
<rect x="260.37" y="235.61" width="3.32" height="3.40" fill="#00009e"/>
<rect x="260.37" y="238.71" width="3.32" height="3.40" fill="#0000a8"/>
<rect x="260.37" y="241.82" width="3.32" height="3.40" fill="#0000b7"/>
<rect x="260.37" y="244.92" width="3.32" height="3.40" fill="#0000c9"/>
<rect x="260.37" y="248.03" width="3.32" height="3.40" fill="#0000d8"/>
<rect x="260.37" y="251.13" width="3.32" height="3.40" fill="#0000e2"/>
<rect x="260.37" y="254.23" width="3.32" height="3.40" fill="#0000e6"/>
<rect x="260.37" y="257.34" width="3.32" height="3.40" fill="#0000ea"/>
<rect x="260.37" y="260.44" width="3.32" height="3.40" fill="#0000f0"/>
<rect x="260.37" y="263.55" width="3.32" height="3.40" fill="#0000f5"/>
<rect x="260.37" y="266.65" width="3.32" height="3.40" fill="#0000fa"/>
<rect x="260.37" y="269.75" width="3.32" height="3.40" fill="#0000fb"/>
<rect x="260.37" y="272.86" width="3.32" height="3.40" fill="#0000fa"/>
<rect x="260.37" y="275.96" width="3.32" height="3.40" fill="#0000f7"/>
<rect x="260.37" y="279.07" width="3.32" height="3.40" fill="#0000f1"/>
<rect x="260.37" y="282.17" width="3.32" height="3.40" fill="#0000eb"/>
<rect x="260.37" y="285.27" width="3.32" height="3.40" fill="#0000e3"/>
<rect x="260.37" y="288.38" width="3.32" height="3.40" fill="#0000dc"/>
<rect x="260.37" y="291.48" width="3.32" height="3.40" fill="#0000d4"/>
<rect x="260.37" y="294.59" width="3.32" height="3.40" fill="#0000ce"/>
<rect x="260.37" y="297.69" width="3.32" height="3.40" fill="#0000c8"/>
<rect x="260.37" y="300.80" width="3.32" height="3.40" fill="#0000c3"/>
<rect x="263.38" y="229.40" width="3.32" height="3.40" fill="#00008f"/>
<rect x="263.38" y="232.50" width="3.32" height="3.40" fill="#000093"/>
<rect x="263.38" y="235.61" width="3.32" height="3.40" fill="#000098"/>
<rect x="263.38" y="238.71" width="3.32" height="3.40" fill="#0000a0"/>
<rect x="263.38" y="241.82" width="3.32" height="3.40" fill="#0000a9"/>
<rect x="263.38" y="244.92" width="3.32" height="3.40" fill="#0000b5"/>
<rect x="263.38" y="248.03" width="3.32" height="3.40" fill="#0000c0"/>
<rect x="263.38" y="251.13" width="3.32" height="3.40" fill="#0000c7"/>
<rect x="263.38" y="254.23" width="3.32" height="3.40" fill="#0000cc"/>
<rect x="263.38" y="257.34" width="3.32" height="3.40" fill="#0000d0"/>
<rect x="263.38" y="260.44" width="3.32" height="3.40" fill="#0000d5"/>
<rect x="263.38" y="263.55" width="3.32" height="3.40" fill="#0000db"/>
<rect x="263.38" y="266.65" width="3.32" height="3.40" fill="#0000df"/>
<rect x="263.38" y="269.75" width="3.32" height="3.40" fill="#0000e1"/>
<rect x="263.38" y="272.86" width="3.32" height="3.40" fill="#0000e1"/>
<rect x="263.38" y="275.96" width="3.32" height="3.40" fill="#0000e0"/>
<rect x="263.38" y="279.07" width="3.32" height="3.40" fill="#0000dc"/>
<rect x="263.38" y="282.17" width="3.32" height="3.40" fill="#0000d8"/>
<rect x="263.38" y="285.27" width="3.32" height="3.40" fill="#0000d4"/>
<rect x="263.38" y="288.38" width="3.32" height="3.40" fill="#0000ce"/>
<rect x="263.38" y="291.48" width="3.32" height="3.40" fill="#0000ca"/>
<rect x="263.38" y="294.59" width="3.32" height="3.40" fill="#0000c5"/>
<rect x="263.38" y="297.69" width="3.32" height="3.40" fill="#0000c1"/>
<rect x="263.38" y="300.80" width="3.32" height="3.40" fill="#0000be"/>
</g>
<ellipse cx="230.6" cy="266.9" rx="36.2" ry="36.6" fill="none" stroke="#C8143C" stroke-width="0.9"/>
<g shape-rendering="crispEdges">
<rect x="467.80" y="229.40" width="3.33" height="3.42" fill="#0000c2"/>
<rect x="467.80" y="232.52" width="3.33" height="3.42" fill="#0000c5"/>
<rect x="467.80" y="235.63" width="3.33" height="3.42" fill="#0000ca"/>
<rect x="467.80" y="238.75" width="3.33" height="3.42" fill="#0000d0"/>
<rect x="467.80" y="241.87" width="3.33" height="3.42" fill="#0000d6"/>
<rect x="467.80" y="244.98" width="3.33" height="3.42" fill="#0000dd"/>
<rect x="467.80" y="248.10" width="3.33" height="3.42" fill="#0000e4"/>
<rect x="467.80" y="251.22" width="3.33" height="3.42" fill="#0000eb"/>
<rect x="467.80" y="254.33" width="3.33" height="3.42" fill="#0000f0"/>
<rect x="467.80" y="257.45" width="3.33" height="3.42" fill="#0000f3"/>
<rect x="467.80" y="260.57" width="3.33" height="3.42" fill="#0000f5"/>
<rect x="467.80" y="263.68" width="3.33" height="3.42" fill="#0000f6"/>
<rect x="467.80" y="266.80" width="3.33" height="3.42" fill="#0000f6"/>
<rect x="467.80" y="269.92" width="3.33" height="3.42" fill="#0000f5"/>
<rect x="467.80" y="273.03" width="3.33" height="3.42" fill="#0000f2"/>
<rect x="467.80" y="276.15" width="3.33" height="3.42" fill="#0000ef"/>
<rect x="467.80" y="279.27" width="3.33" height="3.42" fill="#0000e9"/>
<rect x="467.80" y="282.38" width="3.33" height="3.42" fill="#0000e3"/>
<rect x="467.80" y="285.50" width="3.33" height="3.42" fill="#0000dc"/>
<rect x="467.80" y="288.62" width="3.33" height="3.42" fill="#0000d5"/>
<rect x="467.80" y="291.73" width="3.33" height="3.42" fill="#0000ce"/>
<rect x="467.80" y="294.85" width="3.33" height="3.42" fill="#0000c9"/>
<rect x="467.80" y="297.97" width="3.33" height="3.42" fill="#0000c5"/>
<rect x="467.80" y="301.08" width="3.33" height="3.42" fill="#0000c2"/>
<rect x="470.83" y="229.40" width="3.33" height="3.42" fill="#0000c3"/>
<rect x="470.83" y="232.52" width="3.33" height="3.42" fill="#0000c9"/>
<rect x="470.83" y="235.63" width="3.33" height="3.42" fill="#0000d0"/>
<rect x="470.83" y="238.75" width="3.33" height="3.42" fill="#0000da"/>
<rect x="470.83" y="241.87" width="3.33" height="3.42" fill="#0000e4"/>
<rect x="470.83" y="244.98" width="3.33" height="3.42" fill="#0000f0"/>
<rect x="470.83" y="248.10" width="3.33" height="3.42" fill="#0000fc"/>
<rect x="470.83" y="251.22" width="3.33" height="3.42" fill="#0007ff"/>
<rect x="470.83" y="254.33" width="3.33" height="3.42" fill="#000fff"/>
<rect x="470.83" y="257.45" width="3.33" height="3.42" fill="#0015ff"/>
<rect x="470.83" y="260.57" width="3.33" height="3.42" fill="#0019ff"/>
<rect x="470.83" y="263.68" width="3.33" height="3.42" fill="#001aff"/>
<rect x="470.83" y="266.80" width="3.33" height="3.42" fill="#001aff"/>
<rect x="470.83" y="269.92" width="3.33" height="3.42" fill="#0018ff"/>
<rect x="470.83" y="273.03" width="3.33" height="3.42" fill="#0014ff"/>
<rect x="470.83" y="276.15" width="3.33" height="3.42" fill="#000eff"/>
<rect x="470.83" y="279.27" width="3.33" height="3.42" fill="#0005ff"/>
<rect x="470.83" y="282.38" width="3.33" height="3.42" fill="#0000f9"/>
<rect x="470.83" y="285.50" width="3.33" height="3.42" fill="#0000ee"/>
<rect x="470.83" y="288.62" width="3.33" height="3.42" fill="#0000e3"/>
<rect x="470.83" y="291.73" width="3.33" height="3.42" fill="#0000d9"/>
<rect x="470.83" y="294.85" width="3.33" height="3.42" fill="#0000d0"/>
<rect x="470.83" y="297.97" width="3.33" height="3.42" fill="#0000c9"/>
<rect x="470.83" y="301.08" width="3.33" height="3.42" fill="#0000c5"/>
<rect x="473.87" y="229.40" width="3.33" height="3.42" fill="#0000c6"/>
<rect x="473.87" y="232.52" width="3.33" height="3.42" fill="#0000ce"/>
<rect x="473.87" y="235.63" width="3.33" height="3.42" fill="#0000d9"/>
<rect x="473.87" y="238.75" width="3.33" height="3.42" fill="#0000e8"/>
<rect x="473.87" y="241.87" width="3.33" height="3.42" fill="#0000f8"/>
<rect x="473.87" y="244.98" width="3.33" height="3.42" fill="#000cff"/>
<rect x="473.87" y="248.10" width="3.33" height="3.42" fill="#001eff"/>
<rect x="473.87" y="251.22" width="3.33" height="3.42" fill="#002eff"/>
<rect x="473.87" y="254.33" width="3.33" height="3.42" fill="#003bff"/>
<rect x="473.87" y="257.45" width="3.33" height="3.42" fill="#0045ff"/>
<rect x="473.87" y="260.57" width="3.33" height="3.42" fill="#004aff"/>
<rect x="473.87" y="263.68" width="3.33" height="3.42" fill="#004cff"/>
<rect x="473.87" y="266.80" width="3.33" height="3.42" fill="#004cff"/>
<rect x="473.87" y="269.92" width="3.33" height="3.42" fill="#004aff"/>
<rect x="473.87" y="273.03" width="3.33" height="3.42" fill="#0044ff"/>
<rect x="473.87" y="276.15" width="3.33" height="3.42" fill="#0039ff"/>
<rect x="473.87" y="279.27" width="3.33" height="3.42" fill="#002bff"/>
<rect x="473.87" y="282.38" width="3.33" height="3.42" fill="#001aff"/>
<rect x="473.87" y="285.50" width="3.33" height="3.42" fill="#0009ff"/>
<rect x="473.87" y="288.62" width="3.33" height="3.42" fill="#0000f6"/>
<rect x="473.87" y="291.73" width="3.33" height="3.42" fill="#0000e7"/>
<rect x="473.87" y="294.85" width="3.33" height="3.42" fill="#0000da"/>
<rect x="473.87" y="297.97" width="3.33" height="3.42" fill="#0000d0"/>
<rect x="473.87" y="301.08" width="3.33" height="3.42" fill="#0000c9"/>
<rect x="476.90" y="229.40" width="3.33" height="3.42" fill="#0000c9"/>
<rect x="476.90" y="232.52" width="3.33" height="3.42" fill="#0000d5"/>
<rect x="476.90" y="235.63" width="3.33" height="3.42" fill="#0000e6"/>
<rect x="476.90" y="238.75" width="3.33" height="3.42" fill="#0000fa"/>
<rect x="476.90" y="241.87" width="3.33" height="3.42" fill="#0014ff"/>
<rect x="476.90" y="244.98" width="3.33" height="3.42" fill="#002fff"/>
<rect x="476.90" y="248.10" width="3.33" height="3.42" fill="#004aff"/>
<rect x="476.90" y="251.22" width="3.33" height="3.42" fill="#0062ff"/>
<rect x="476.90" y="254.33" width="3.33" height="3.42" fill="#0077ff"/>
<rect x="476.90" y="257.45" width="3.33" height="3.42" fill="#0085ff"/>
<rect x="476.90" y="260.57" width="3.33" height="3.42" fill="#008dff"/>
<rect x="476.90" y="263.68" width="3.33" height="3.42" fill="#0090ff"/>
<rect x="476.90" y="266.80" width="3.33" height="3.42" fill="#0090ff"/>
<rect x="476.90" y="269.92" width="3.33" height="3.42" fill="#008cff"/>
<rect x="476.90" y="273.03" width="3.33" height="3.42" fill="#0083ff"/>
<rect x="476.90" y="276.15" width="3.33" height="3.42" fill="#0073ff"/>
<rect x="476.90" y="279.27" width="3.33" height="3.42" fill="#005eff"/>
<rect x="476.90" y="282.38" width="3.33" height="3.42" fill="#0045ff"/>
<rect x="476.90" y="285.50" width="3.33" height="3.42" fill="#002aff"/>
<rect x="476.90" y="288.62" width="3.33" height="3.42" fill="#0010ff"/>
<rect x="476.90" y="291.73" width="3.33" height="3.42" fill="#0000f9"/>
<rect x="476.90" y="294.85" width="3.33" height="3.42" fill="#0000e6"/>
<rect x="476.90" y="297.97" width="3.33" height="3.42" fill="#0000d8"/>
<rect x="476.90" y="301.08" width="3.33" height="3.42" fill="#0000cd"/>
<rect x="479.93" y="229.40" width="3.33" height="3.42" fill="#0000ce"/>
<rect x="479.93" y="232.52" width="3.33" height="3.42" fill="#0000de"/>
<rect x="479.93" y="235.63" width="3.33" height="3.42" fill="#0000f4"/>
<rect x="479.93" y="238.75" width="3.33" height="3.42" fill="#0012ff"/>
<rect x="479.93" y="241.87" width="3.33" height="3.42" fill="#0034ff"/>
<rect x="479.93" y="244.98" width="3.33" height="3.42" fill="#005aff"/>
<rect x="479.93" y="248.10" width="3.33" height="3.42" fill="#0080ff"/>
<rect x="479.93" y="251.22" width="3.33" height="3.42" fill="#00a4ff"/>
<rect x="479.93" y="254.33" width="3.33" height="3.42" fill="#00c1ff"/>
<rect x="479.93" y="257.45" width="3.33" height="3.42" fill="#00d6ff"/>
<rect x="479.93" y="260.57" width="3.33" height="3.42" fill="#00e2ff"/>
<rect x="479.93" y="263.68" width="3.33" height="3.42" fill="#00e6ff"/>
<rect x="479.93" y="266.80" width="3.33" height="3.42" fill="#00e6ff"/>
<rect x="479.93" y="269.92" width="3.33" height="3.42" fill="#00e0ff"/>
<rect x="479.93" y="273.03" width="3.33" height="3.42" fill="#00d2ff"/>
<rect x="479.93" y="276.15" width="3.33" height="3.42" fill="#00bbff"/>
<rect x="479.93" y="279.27" width="3.33" height="3.42" fill="#009cff"/>
<rect x="479.93" y="282.38" width="3.33" height="3.42" fill="#0078ff"/>
<rect x="479.93" y="285.50" width="3.33" height="3.42" fill="#0053ff"/>
<rect x="479.93" y="288.62" width="3.33" height="3.42" fill="#002fff"/>
<rect x="479.93" y="291.73" width="3.33" height="3.42" fill="#000fff"/>
<rect x="479.93" y="294.85" width="3.33" height="3.42" fill="#0000f4"/>
<rect x="479.93" y="297.97" width="3.33" height="3.42" fill="#0000e1"/>
<rect x="479.93" y="301.08" width="3.33" height="3.42" fill="#0000d3"/>
<rect x="482.97" y="229.40" width="3.33" height="3.42" fill="#0000d3"/>
<rect x="482.97" y="232.52" width="3.33" height="3.42" fill="#0000e8"/>
<rect x="482.97" y="235.63" width="3.33" height="3.42" fill="#0006ff"/>
<rect x="482.97" y="238.75" width="3.33" height="3.42" fill="#002bff"/>
<rect x="482.97" y="241.87" width="3.33" height="3.42" fill="#0059ff"/>
<rect x="482.97" y="244.98" width="3.33" height="3.42" fill="#008bff"/>
<rect x="482.97" y="248.10" width="3.33" height="3.42" fill="#00bfff"/>
<rect x="482.97" y="251.22" width="3.33" height="3.42" fill="#00f0ff"/>
<rect x="482.97" y="254.33" width="3.33" height="3.42" fill="#19ffe5"/>
<rect x="482.97" y="257.45" width="3.33" height="3.42" fill="#36ffc8"/>
<rect x="482.97" y="260.57" width="3.33" height="3.42" fill="#47ffb7"/>
<rect x="482.97" y="263.68" width="3.33" height="3.42" fill="#4dffb1"/>
<rect x="482.97" y="266.80" width="3.33" height="3.42" fill="#4dffb1"/>
<rect x="482.97" y="269.92" width="3.33" height="3.42" fill="#45ffb9"/>
<rect x="482.97" y="273.03" width="3.33" height="3.42" fill="#31ffcd"/>
<rect x="482.97" y="276.15" width="3.33" height="3.42" fill="#11ffed"/>
<rect x="482.97" y="279.27" width="3.33" height="3.42" fill="#00e5ff"/>
<rect x="482.97" y="282.38" width="3.33" height="3.42" fill="#00b4ff"/>
<rect x="482.97" y="285.50" width="3.33" height="3.42" fill="#0081ff"/>
<rect x="482.97" y="288.62" width="3.33" height="3.42" fill="#0051ff"/>
<rect x="482.97" y="291.73" width="3.33" height="3.42" fill="#0027ff"/>
<rect x="482.97" y="294.85" width="3.33" height="3.42" fill="#0005ff"/>
<rect x="482.97" y="297.97" width="3.33" height="3.42" fill="#0000eb"/>
<rect x="482.97" y="301.08" width="3.33" height="3.42" fill="#0000d9"/>
<rect x="486.00" y="229.40" width="3.33" height="3.42" fill="#0000d8"/>
<rect x="486.00" y="232.52" width="3.33" height="3.42" fill="#0000f2"/>
<rect x="486.00" y="235.63" width="3.33" height="3.42" fill="#0017ff"/>
<rect x="486.00" y="238.75" width="3.33" height="3.42" fill="#0046ff"/>
<rect x="486.00" y="241.87" width="3.33" height="3.42" fill="#007fff"/>
<rect x="486.00" y="244.98" width="3.33" height="3.42" fill="#00bfff"/>
<rect x="486.00" y="248.10" width="3.33" height="3.42" fill="#03fffb"/>
<rect x="486.00" y="251.22" width="3.33" height="3.42" fill="#43ffbb"/>
<rect x="486.00" y="254.33" width="3.33" height="3.42" fill="#79ff85"/>
<rect x="486.00" y="257.45" width="3.33" height="3.42" fill="#a0ff5e"/>
<rect x="486.00" y="260.57" width="3.33" height="3.42" fill="#b6ff48"/>
<rect x="486.00" y="263.68" width="3.33" height="3.42" fill="#beff40"/>
<rect x="486.00" y="266.80" width="3.33" height="3.42" fill="#beff40"/>
<rect x="486.00" y="269.92" width="3.33" height="3.42" fill="#b3ff4b"/>
<rect x="486.00" y="273.03" width="3.33" height="3.42" fill="#98ff66"/>
<rect x="486.00" y="276.15" width="3.33" height="3.42" fill="#6dff91"/>
<rect x="486.00" y="279.27" width="3.33" height="3.42" fill="#35ffc9"/>
<rect x="486.00" y="282.38" width="3.33" height="3.42" fill="#00f3ff"/>
<rect x="486.00" y="285.50" width="3.33" height="3.42" fill="#00b1ff"/>
<rect x="486.00" y="288.62" width="3.33" height="3.42" fill="#0074ff"/>
<rect x="486.00" y="291.73" width="3.33" height="3.42" fill="#003fff"/>
<rect x="486.00" y="294.85" width="3.33" height="3.42" fill="#0015ff"/>
<rect x="486.00" y="297.97" width="3.33" height="3.42" fill="#0000f5"/>
<rect x="486.00" y="301.08" width="3.33" height="3.42" fill="#0000df"/>
<rect x="489.03" y="229.40" width="3.33" height="3.42" fill="#0000dd"/>
<rect x="489.03" y="232.52" width="3.33" height="3.42" fill="#0000fb"/>
<rect x="489.03" y="235.63" width="3.33" height="3.42" fill="#0027ff"/>
<rect x="489.03" y="238.75" width="3.33" height="3.42" fill="#005eff"/>
<rect x="489.03" y="241.87" width="3.33" height="3.42" fill="#00a3ff"/>
<rect x="489.03" y="244.98" width="3.33" height="3.42" fill="#00f1ff"/>
<rect x="489.03" y="248.10" width="3.33" height="3.42" fill="#45ffb9"/>
<rect x="489.03" y="251.22" width="3.33" height="3.42" fill="#95ff69"/>
<rect x="489.03" y="254.33" width="3.33" height="3.42" fill="#d9ff25"/>
<rect x="489.03" y="257.45" width="3.33" height="3.42" fill="#fff200"/>
<rect x="489.03" y="260.57" width="3.33" height="3.42" fill="#ffd400"/>
<rect x="489.03" y="263.68" width="3.33" height="3.42" fill="#ffca00"/>
<rect x="489.03" y="266.80" width="3.33" height="3.42" fill="#ffcb00"/>
<rect x="489.03" y="269.92" width="3.33" height="3.42" fill="#ffd900"/>
<rect x="489.03" y="273.03" width="3.33" height="3.42" fill="#fffc00"/>
<rect x="489.03" y="276.15" width="3.33" height="3.42" fill="#caff34"/>
<rect x="489.03" y="279.27" width="3.33" height="3.42" fill="#82ff7c"/>
<rect x="489.03" y="282.38" width="3.33" height="3.42" fill="#32ffcc"/>
<rect x="489.03" y="285.50" width="3.33" height="3.42" fill="#00e0ff"/>
<rect x="489.03" y="288.62" width="3.33" height="3.42" fill="#0096ff"/>
<rect x="489.03" y="291.73" width="3.33" height="3.42" fill="#0057ff"/>
<rect x="489.03" y="294.85" width="3.33" height="3.42" fill="#0024ff"/>
<rect x="489.03" y="297.97" width="3.33" height="3.42" fill="#0000fe"/>
<rect x="489.03" y="301.08" width="3.33" height="3.42" fill="#0000e5"/>
<rect x="492.07" y="229.40" width="3.33" height="3.42" fill="#0000e0"/>
<rect x="492.07" y="232.52" width="3.33" height="3.42" fill="#0003ff"/>
<rect x="492.07" y="235.63" width="3.33" height="3.42" fill="#0034ff"/>
<rect x="492.07" y="238.75" width="3.33" height="3.42" fill="#0073ff"/>
<rect x="492.07" y="241.87" width="3.33" height="3.42" fill="#00c2ff"/>
<rect x="492.07" y="244.98" width="3.33" height="3.42" fill="#1effe0"/>
<rect x="492.07" y="248.10" width="3.33" height="3.42" fill="#7fff7f"/>
<rect x="492.07" y="251.22" width="3.33" height="3.42" fill="#deff20"/>
<rect x="492.07" y="254.33" width="3.33" height="3.42" fill="#ffcc00"/>
<rect x="492.07" y="257.45" width="3.33" height="3.42" fill="#ff8e00"/>
<rect x="492.07" y="260.57" width="3.33" height="3.42" fill="#ff6900"/>
<rect x="492.07" y="263.68" width="3.33" height="3.42" fill="#ff5c00"/>
<rect x="492.07" y="266.80" width="3.33" height="3.42" fill="#ff5d00"/>
<rect x="492.07" y="269.92" width="3.33" height="3.42" fill="#ff6f00"/>
<rect x="492.07" y="273.03" width="3.33" height="3.42" fill="#ff9b00"/>
<rect x="492.07" y="276.15" width="3.33" height="3.42" fill="#ffdf00"/>
<rect x="492.07" y="279.27" width="3.33" height="3.42" fill="#c7ff37"/>
<rect x="492.07" y="282.38" width="3.33" height="3.42" fill="#68ff96"/>
<rect x="492.07" y="285.50" width="3.33" height="3.42" fill="#0afff4"/>
<rect x="492.07" y="288.62" width="3.33" height="3.42" fill="#00b3ff"/>
<rect x="492.07" y="291.73" width="3.33" height="3.42" fill="#006aff"/>
<rect x="492.07" y="294.85" width="3.33" height="3.42" fill="#0031ff"/>
<rect x="492.07" y="297.97" width="3.33" height="3.42" fill="#0007ff"/>
<rect x="492.07" y="301.08" width="3.33" height="3.42" fill="#0000e9"/>
<rect x="495.10" y="229.40" width="3.33" height="3.42" fill="#0000e2"/>
<rect x="495.10" y="232.52" width="3.33" height="3.42" fill="#0008ff"/>
<rect x="495.10" y="235.63" width="3.33" height="3.42" fill="#003dff"/>
<rect x="495.10" y="238.75" width="3.33" height="3.42" fill="#0082ff"/>
<rect x="495.10" y="241.87" width="3.33" height="3.42" fill="#00d9ff"/>
<rect x="495.10" y="244.98" width="3.33" height="3.42" fill="#3fffbf"/>
<rect x="495.10" y="248.10" width="3.33" height="3.42" fill="#abff53"/>
<rect x="495.10" y="251.22" width="3.33" height="3.42" fill="#ffe600"/>
<rect x="495.10" y="254.33" width="3.33" height="3.42" fill="#ff8600"/>
<rect x="495.10" y="257.45" width="3.33" height="3.42" fill="#ff3b00"/>
<rect x="495.10" y="260.57" width="3.33" height="3.42" fill="#ff0e00"/>
<rect x="495.10" y="263.68" width="3.33" height="3.42" fill="#fd0000"/>
<rect x="495.10" y="266.80" width="3.33" height="3.42" fill="#ff0000"/>
<rect x="495.10" y="269.92" width="3.33" height="3.42" fill="#ff1700"/>
<rect x="495.10" y="273.03" width="3.33" height="3.42" fill="#ff4c00"/>
<rect x="495.10" y="276.15" width="3.33" height="3.42" fill="#ff9c00"/>
<rect x="495.10" y="279.27" width="3.33" height="3.42" fill="#fdff01"/>
<rect x="495.10" y="282.38" width="3.33" height="3.42" fill="#92ff6c"/>
<rect x="495.10" y="285.50" width="3.33" height="3.42" fill="#28ffd6"/>
<rect x="495.10" y="288.62" width="3.33" height="3.42" fill="#00c8ff"/>
<rect x="495.10" y="291.73" width="3.33" height="3.42" fill="#0079ff"/>
<rect x="495.10" y="294.85" width="3.33" height="3.42" fill="#003aff"/>
<rect x="495.10" y="297.97" width="3.33" height="3.42" fill="#000dff"/>
<rect x="495.10" y="301.08" width="3.33" height="3.42" fill="#0000ed"/>
<rect x="498.13" y="229.40" width="3.33" height="3.42" fill="#0000e3"/>
<rect x="498.13" y="232.52" width="3.33" height="3.42" fill="#000bff"/>
<rect x="498.13" y="235.63" width="3.33" height="3.42" fill="#0042ff"/>
<rect x="498.13" y="238.75" width="3.33" height="3.42" fill="#008bff"/>
<rect x="498.13" y="241.87" width="3.33" height="3.42" fill="#00e7ff"/>
<rect x="498.13" y="244.98" width="3.33" height="3.42" fill="#53ffab"/>
<rect x="498.13" y="248.10" width="3.33" height="3.42" fill="#c7ff37"/>
<rect x="498.13" y="251.22" width="3.33" height="3.42" fill="#ffc100"/>
<rect x="498.13" y="254.33" width="3.33" height="3.42" fill="#ff5800"/>
<rect x="498.13" y="257.45" width="3.33" height="3.42" fill="#ff0400"/>
<rect x="498.13" y="260.57" width="3.33" height="3.42" fill="#cd0000"/>
<rect x="498.13" y="263.68" width="3.33" height="3.42" fill="#b90000"/>
<rect x="498.13" y="266.80" width="3.33" height="3.42" fill="#bb0000"/>
<rect x="498.13" y="269.92" width="3.33" height="3.42" fill="#d80000"/>
<rect x="498.13" y="273.03" width="3.33" height="3.42" fill="#ff1700"/>
<rect x="498.13" y="276.15" width="3.33" height="3.42" fill="#ff7100"/>
<rect x="498.13" y="279.27" width="3.33" height="3.42" fill="#ffdd00"/>
<rect x="498.13" y="282.38" width="3.33" height="3.42" fill="#acff52"/>
<rect x="498.13" y="285.50" width="3.33" height="3.42" fill="#3bffc3"/>
<rect x="498.13" y="288.62" width="3.33" height="3.42" fill="#00d6ff"/>
<rect x="498.13" y="291.73" width="3.33" height="3.42" fill="#0082ff"/>
<rect x="498.13" y="294.85" width="3.33" height="3.42" fill="#0040ff"/>
<rect x="498.13" y="297.97" width="3.33" height="3.42" fill="#0010ff"/>
<rect x="498.13" y="301.08" width="3.33" height="3.42" fill="#0000ef"/>
<rect x="501.17" y="229.40" width="3.33" height="3.42" fill="#0000e2"/>
<rect x="501.17" y="232.52" width="3.33" height="3.42" fill="#000bff"/>
<rect x="501.17" y="235.63" width="3.33" height="3.42" fill="#0043ff"/>
<rect x="501.17" y="238.75" width="3.33" height="3.42" fill="#008eff"/>
<rect x="501.17" y="241.87" width="3.33" height="3.42" fill="#00ecff"/>
<rect x="501.17" y="244.98" width="3.33" height="3.42" fill="#5bffa3"/>
<rect x="501.17" y="248.10" width="3.33" height="3.42" fill="#d3ff2b"/>
<rect x="501.17" y="251.22" width="3.33" height="3.42" fill="#ffb200"/>
<rect x="501.17" y="254.33" width="3.33" height="3.42" fill="#ff4300"/>
<rect x="501.17" y="257.45" width="3.33" height="3.42" fill="#e90000"/>
<rect x="501.17" y="260.57" width="3.33" height="3.42" fill="#ad0000"/>
<rect x="501.17" y="263.68" width="3.33" height="3.42" fill="#950000"/>
<rect x="501.17" y="266.80" width="3.33" height="3.42" fill="#970000"/>
<rect x="501.17" y="269.92" width="3.33" height="3.42" fill="#b90000"/>
<rect x="501.17" y="273.03" width="3.33" height="3.42" fill="#fd0000"/>
<rect x="501.17" y="276.15" width="3.33" height="3.42" fill="#ff5d00"/>
<rect x="501.17" y="279.27" width="3.33" height="3.42" fill="#ffce00"/>
<rect x="501.17" y="282.38" width="3.33" height="3.42" fill="#b7ff47"/>
<rect x="501.17" y="285.50" width="3.33" height="3.42" fill="#44ffba"/>
<rect x="501.17" y="288.62" width="3.33" height="3.42" fill="#00dbff"/>
<rect x="501.17" y="291.73" width="3.33" height="3.42" fill="#0085ff"/>
<rect x="501.17" y="294.85" width="3.33" height="3.42" fill="#0043ff"/>
<rect x="501.17" y="297.97" width="3.33" height="3.42" fill="#0012ff"/>
<rect x="501.17" y="301.08" width="3.33" height="3.42" fill="#0000f0"/>
<rect x="504.20" y="229.40" width="3.33" height="3.42" fill="#0000e0"/>
<rect x="504.20" y="232.52" width="3.33" height="3.42" fill="#0009ff"/>
<rect x="504.20" y="235.63" width="3.33" height="3.42" fill="#0041ff"/>
<rect x="504.20" y="238.75" width="3.33" height="3.42" fill="#008dff"/>
<rect x="504.20" y="241.87" width="3.33" height="3.42" fill="#00ebff"/>
<rect x="504.20" y="244.98" width="3.33" height="3.42" fill="#5affa4"/>
<rect x="504.20" y="248.10" width="3.33" height="3.42" fill="#d3ff2b"/>
<rect x="504.20" y="251.22" width="3.33" height="3.42" fill="#ffb100"/>
<rect x="504.20" y="254.33" width="3.33" height="3.42" fill="#ff4200"/>
<rect x="504.20" y="257.45" width="3.33" height="3.42" fill="#e60000"/>
<rect x="504.20" y="260.57" width="3.33" height="3.42" fill="#aa0000"/>
<rect x="504.20" y="263.68" width="3.33" height="3.42" fill="#8f0000"/>
<rect x="504.20" y="266.80" width="3.33" height="3.42" fill="#920000"/>
<rect x="504.20" y="269.92" width="3.33" height="3.42" fill="#b60000"/>
<rect x="504.20" y="273.03" width="3.33" height="3.42" fill="#fa0000"/>
<rect x="504.20" y="276.15" width="3.33" height="3.42" fill="#ff5b00"/>
<rect x="504.20" y="279.27" width="3.33" height="3.42" fill="#ffcd00"/>
<rect x="504.20" y="282.38" width="3.33" height="3.42" fill="#b8ff46"/>
<rect x="504.20" y="285.50" width="3.33" height="3.42" fill="#44ffba"/>
<rect x="504.20" y="288.62" width="3.33" height="3.42" fill="#00dcff"/>
<rect x="504.20" y="291.73" width="3.33" height="3.42" fill="#0086ff"/>
<rect x="504.20" y="294.85" width="3.33" height="3.42" fill="#0043ff"/>
<rect x="504.20" y="297.97" width="3.33" height="3.42" fill="#0012ff"/>
<rect x="504.20" y="301.08" width="3.33" height="3.42" fill="#0000f0"/>
<rect x="507.23" y="229.40" width="3.33" height="3.42" fill="#0000dd"/>
<rect x="507.23" y="232.52" width="3.33" height="3.42" fill="#0006ff"/>
<rect x="507.23" y="235.63" width="3.33" height="3.42" fill="#003eff"/>
<rect x="507.23" y="238.75" width="3.33" height="3.42" fill="#0089ff"/>
<rect x="507.23" y="241.87" width="3.33" height="3.42" fill="#00e6ff"/>
<rect x="507.23" y="244.98" width="3.33" height="3.42" fill="#54ffaa"/>
<rect x="507.23" y="248.10" width="3.33" height="3.42" fill="#cbff33"/>
<rect x="507.23" y="251.22" width="3.33" height="3.42" fill="#ffba00"/>
<rect x="507.23" y="254.33" width="3.33" height="3.42" fill="#ff4d00"/>
<rect x="507.23" y="257.45" width="3.33" height="3.42" fill="#f40000"/>
<rect x="507.23" y="260.57" width="3.33" height="3.42" fill="#bb0000"/>
<rect x="507.23" y="263.68" width="3.33" height="3.42" fill="#a50000"/>
<rect x="507.23" y="266.80" width="3.33" height="3.42" fill="#a70000"/>
<rect x="507.23" y="269.92" width="3.33" height="3.42" fill="#c60000"/>
<rect x="507.23" y="273.03" width="3.33" height="3.42" fill="#ff0800"/>
<rect x="507.23" y="276.15" width="3.33" height="3.42" fill="#ff6600"/>
<rect x="507.23" y="279.27" width="3.33" height="3.42" fill="#ffd500"/>
<rect x="507.23" y="282.38" width="3.33" height="3.42" fill="#b2ff4c"/>
<rect x="507.23" y="285.50" width="3.33" height="3.42" fill="#40ffbe"/>
<rect x="507.23" y="288.62" width="3.33" height="3.42" fill="#00d9ff"/>
<rect x="507.23" y="291.73" width="3.33" height="3.42" fill="#0083ff"/>
<rect x="507.23" y="294.85" width="3.33" height="3.42" fill="#0041ff"/>
<rect x="507.23" y="297.97" width="3.33" height="3.42" fill="#0011ff"/>
<rect x="507.23" y="301.08" width="3.33" height="3.42" fill="#0000ef"/>
<rect x="510.27" y="229.40" width="3.33" height="3.42" fill="#0000d9"/>
<rect x="510.27" y="232.52" width="3.33" height="3.42" fill="#0001ff"/>
<rect x="510.27" y="235.63" width="3.33" height="3.42" fill="#0037ff"/>
<rect x="510.27" y="238.75" width="3.33" height="3.42" fill="#0080ff"/>
<rect x="510.27" y="241.87" width="3.33" height="3.42" fill="#00daff"/>
<rect x="510.27" y="244.98" width="3.33" height="3.42" fill="#44ffba"/>
<rect x="510.27" y="248.10" width="3.33" height="3.42" fill="#b5ff49"/>
<rect x="510.27" y="251.22" width="3.33" height="3.42" fill="#ffd600"/>
<rect x="510.27" y="254.33" width="3.33" height="3.42" fill="#ff7000"/>
<rect x="510.27" y="257.45" width="3.33" height="3.42" fill="#ff2000"/>
<rect x="510.27" y="260.57" width="3.33" height="3.42" fill="#ed0000"/>
<rect x="510.27" y="263.68" width="3.33" height="3.42" fill="#db0000"/>
<rect x="510.27" y="266.80" width="3.33" height="3.42" fill="#dc0000"/>
<rect x="510.27" y="269.92" width="3.33" height="3.42" fill="#f50000"/>
<rect x="510.27" y="273.03" width="3.33" height="3.42" fill="#ff3000"/>
<rect x="510.27" y="276.15" width="3.33" height="3.42" fill="#ff8600"/>
<rect x="510.27" y="279.27" width="3.33" height="3.42" fill="#ffee00"/>
<rect x="510.27" y="282.38" width="3.33" height="3.42" fill="#9fff5f"/>
<rect x="510.27" y="285.50" width="3.33" height="3.42" fill="#32ffcc"/>
<rect x="510.27" y="288.62" width="3.33" height="3.42" fill="#00cfff"/>
<rect x="510.27" y="291.73" width="3.33" height="3.42" fill="#007dff"/>
<rect x="510.27" y="294.85" width="3.33" height="3.42" fill="#003dff"/>
<rect x="510.27" y="297.97" width="3.33" height="3.42" fill="#000eff"/>
<rect x="510.27" y="301.08" width="3.33" height="3.42" fill="#0000ee"/>
<rect x="513.30" y="229.40" width="3.33" height="3.42" fill="#0000d4"/>
<rect x="513.30" y="232.52" width="3.33" height="3.42" fill="#0000f9"/>
<rect x="513.30" y="235.63" width="3.33" height="3.42" fill="#002dff"/>
<rect x="513.30" y="238.75" width="3.33" height="3.42" fill="#0070ff"/>
<rect x="513.30" y="241.87" width="3.33" height="3.42" fill="#00c4ff"/>
<rect x="513.30" y="244.98" width="3.33" height="3.42" fill="#26ffd8"/>
<rect x="513.30" y="248.10" width="3.33" height="3.42" fill="#8eff70"/>
<rect x="513.30" y="251.22" width="3.33" height="3.42" fill="#f5ff09"/>
<rect x="513.30" y="254.33" width="3.33" height="3.42" fill="#ffad00"/>
<rect x="513.30" y="257.45" width="3.33" height="3.42" fill="#ff6800"/>
<rect x="513.30" y="260.57" width="3.33" height="3.42" fill="#ff3e00"/>
<rect x="513.30" y="263.68" width="3.33" height="3.42" fill="#ff2f00"/>
<rect x="513.30" y="266.80" width="3.33" height="3.42" fill="#ff3000"/>
<rect x="513.30" y="269.92" width="3.33" height="3.42" fill="#ff4400"/>
<rect x="513.30" y="273.03" width="3.33" height="3.42" fill="#ff7400"/>
<rect x="513.30" y="276.15" width="3.33" height="3.42" fill="#ffbe00"/>
<rect x="513.30" y="279.27" width="3.33" height="3.42" fill="#e2ff1c"/>
<rect x="513.30" y="282.38" width="3.33" height="3.42" fill="#7cff82"/>
<rect x="513.30" y="285.50" width="3.33" height="3.42" fill="#18ffe6"/>
<rect x="513.30" y="288.62" width="3.33" height="3.42" fill="#00bcff"/>
<rect x="513.30" y="291.73" width="3.33" height="3.42" fill="#0070ff"/>
<rect x="513.30" y="294.85" width="3.33" height="3.42" fill="#0035ff"/>
<rect x="513.30" y="297.97" width="3.33" height="3.42" fill="#000aff"/>
<rect x="513.30" y="301.08" width="3.33" height="3.42" fill="#0000eb"/>
<rect x="516.33" y="229.40" width="3.33" height="3.42" fill="#0000cd"/>
<rect x="516.33" y="232.52" width="3.33" height="3.42" fill="#0000ee"/>
<rect x="516.33" y="235.63" width="3.33" height="3.42" fill="#001eff"/>
<rect x="516.33" y="238.75" width="3.33" height="3.42" fill="#005bff"/>
<rect x="516.33" y="241.87" width="3.33" height="3.42" fill="#00a5ff"/>
<rect x="516.33" y="244.98" width="3.33" height="3.42" fill="#00fbff"/>
<rect x="516.33" y="248.10" width="3.33" height="3.42" fill="#58ffa6"/>
<rect x="516.33" y="251.22" width="3.33" height="3.42" fill="#b0ff4e"/>
<rect x="516.33" y="254.33" width="3.33" height="3.42" fill="#fdff01"/>
<rect x="516.33" y="257.45" width="3.33" height="3.42" fill="#ffc600"/>
<rect x="516.33" y="260.57" width="3.33" height="3.42" fill="#ffa400"/>
<rect x="516.33" y="263.68" width="3.33" height="3.42" fill="#ff9800"/>
<rect x="516.33" y="266.80" width="3.33" height="3.42" fill="#ff9800"/>
<rect x="516.33" y="269.92" width="3.33" height="3.42" fill="#ffa800"/>
<rect x="516.33" y="273.03" width="3.33" height="3.42" fill="#ffce00"/>
<rect x="516.33" y="276.15" width="3.33" height="3.42" fill="#f1ff0d"/>
<rect x="516.33" y="279.27" width="3.33" height="3.42" fill="#a2ff5c"/>
<rect x="516.33" y="282.38" width="3.33" height="3.42" fill="#4bffb3"/>
<rect x="516.33" y="285.50" width="3.33" height="3.42" fill="#00f2ff"/>
<rect x="516.33" y="288.62" width="3.33" height="3.42" fill="#00a2ff"/>
<rect x="516.33" y="291.73" width="3.33" height="3.42" fill="#005fff"/>
<rect x="516.33" y="294.85" width="3.33" height="3.42" fill="#002aff"/>
<rect x="516.33" y="297.97" width="3.33" height="3.42" fill="#0003ff"/>
<rect x="516.33" y="301.08" width="3.33" height="3.42" fill="#0000e7"/>
<rect x="519.37" y="229.40" width="3.33" height="3.42" fill="#0000c5"/>
<rect x="519.37" y="232.52" width="3.33" height="3.42" fill="#0000e2"/>
<rect x="519.37" y="235.63" width="3.33" height="3.42" fill="#000cff"/>
<rect x="519.37" y="238.75" width="3.33" height="3.42" fill="#0040ff"/>
<rect x="519.37" y="241.87" width="3.33" height="3.42" fill="#0080ff"/>
<rect x="519.37" y="244.98" width="3.33" height="3.42" fill="#00c9ff"/>
<rect x="519.37" y="248.10" width="3.33" height="3.42" fill="#16ffe8"/>
<rect x="519.37" y="251.22" width="3.33" height="3.42" fill="#5fff9f"/>
<rect x="519.37" y="254.33" width="3.33" height="3.42" fill="#9eff60"/>
<rect x="519.37" y="257.45" width="3.33" height="3.42" fill="#ccff32"/>
<rect x="519.37" y="260.57" width="3.33" height="3.42" fill="#e6ff18"/>
<rect x="519.37" y="263.68" width="3.33" height="3.42" fill="#f0ff0e"/>
<rect x="519.37" y="266.80" width="3.33" height="3.42" fill="#f1ff0d"/>
<rect x="519.37" y="269.92" width="3.33" height="3.42" fill="#e5ff19"/>
<rect x="519.37" y="273.03" width="3.33" height="3.42" fill="#c7ff37"/>
<rect x="519.37" y="276.15" width="3.33" height="3.42" fill="#97ff67"/>
<rect x="519.37" y="279.27" width="3.33" height="3.42" fill="#57ffa7"/>
<rect x="519.37" y="282.38" width="3.33" height="3.42" fill="#0fffef"/>
<rect x="519.37" y="285.50" width="3.33" height="3.42" fill="#00c6ff"/>
<rect x="519.37" y="288.62" width="3.33" height="3.42" fill="#0082ff"/>
<rect x="519.37" y="291.73" width="3.33" height="3.42" fill="#0049ff"/>
<rect x="519.37" y="294.85" width="3.33" height="3.42" fill="#001bff"/>
<rect x="519.37" y="297.97" width="3.33" height="3.42" fill="#0000f9"/>
<rect x="519.37" y="301.08" width="3.33" height="3.42" fill="#0000e2"/>
<rect x="522.40" y="229.40" width="3.33" height="3.42" fill="#0000bc"/>
<rect x="522.40" y="232.52" width="3.33" height="3.42" fill="#0000d4"/>
<rect x="522.40" y="235.63" width="3.33" height="3.42" fill="#0000f6"/>
<rect x="522.40" y="238.75" width="3.33" height="3.42" fill="#0023ff"/>
<rect x="522.40" y="241.87" width="3.33" height="3.42" fill="#0057ff"/>
<rect x="522.40" y="244.98" width="3.33" height="3.42" fill="#0092ff"/>
<rect x="522.40" y="248.10" width="3.33" height="3.42" fill="#00cfff"/>
<rect x="522.40" y="251.22" width="3.33" height="3.42" fill="#09fff5"/>
<rect x="522.40" y="254.33" width="3.33" height="3.42" fill="#3affc4"/>
<rect x="522.40" y="257.45" width="3.33" height="3.42" fill="#5dffa1"/>
<rect x="522.40" y="260.57" width="3.33" height="3.42" fill="#72ff8c"/>
<rect x="522.40" y="263.68" width="3.33" height="3.42" fill="#7aff84"/>
<rect x="522.40" y="266.80" width="3.33" height="3.42" fill="#7bff83"/>
<rect x="522.40" y="269.92" width="3.33" height="3.42" fill="#72ff8c"/>
<rect x="522.40" y="273.03" width="3.33" height="3.42" fill="#5cffa2"/>
<rect x="522.40" y="276.15" width="3.33" height="3.42" fill="#38ffc6"/>
<rect x="522.40" y="279.27" width="3.33" height="3.42" fill="#07fff7"/>
<rect x="522.40" y="282.38" width="3.33" height="3.42" fill="#00ceff"/>
<rect x="522.40" y="285.50" width="3.33" height="3.42" fill="#0094ff"/>
<rect x="522.40" y="288.62" width="3.33" height="3.42" fill="#005fff"/>
<rect x="522.40" y="291.73" width="3.33" height="3.42" fill="#0030ff"/>
<rect x="522.40" y="294.85" width="3.33" height="3.42" fill="#000bff"/>
<rect x="522.40" y="297.97" width="3.33" height="3.42" fill="#0000ef"/>
<rect x="522.40" y="301.08" width="3.33" height="3.42" fill="#0000dc"/>
<rect x="525.43" y="229.40" width="3.33" height="3.42" fill="#0000b2"/>
<rect x="525.43" y="232.52" width="3.33" height="3.42" fill="#0000c6"/>
<rect x="525.43" y="235.63" width="3.33" height="3.42" fill="#0000e2"/>
<rect x="525.43" y="238.75" width="3.33" height="3.42" fill="#0005ff"/>
<rect x="525.43" y="241.87" width="3.33" height="3.42" fill="#002eff"/>
<rect x="525.43" y="244.98" width="3.33" height="3.42" fill="#005bff"/>
<rect x="525.43" y="248.10" width="3.33" height="3.42" fill="#008aff"/>
<rect x="525.43" y="251.22" width="3.33" height="3.42" fill="#00b5ff"/>
<rect x="525.43" y="254.33" width="3.33" height="3.42" fill="#00daff"/>
<rect x="525.43" y="257.45" width="3.33" height="3.42" fill="#00f4ff"/>
<rect x="525.43" y="260.57" width="3.33" height="3.42" fill="#05fff9"/>
<rect x="525.43" y="263.68" width="3.33" height="3.42" fill="#0bfff3"/>
<rect x="525.43" y="266.80" width="3.33" height="3.42" fill="#0cfff2"/>
<rect x="525.43" y="269.92" width="3.33" height="3.42" fill="#07fff7"/>
<rect x="525.43" y="273.03" width="3.33" height="3.42" fill="#00f6ff"/>
<rect x="525.43" y="276.15" width="3.33" height="3.42" fill="#00dcff"/>
<rect x="525.43" y="279.27" width="3.33" height="3.42" fill="#00b8ff"/>
<rect x="525.43" y="282.38" width="3.33" height="3.42" fill="#008fff"/>
<rect x="525.43" y="285.50" width="3.33" height="3.42" fill="#0064ff"/>
<rect x="525.43" y="288.62" width="3.33" height="3.42" fill="#003bff"/>
<rect x="525.43" y="291.73" width="3.33" height="3.42" fill="#0017ff"/>
<rect x="525.43" y="294.85" width="3.33" height="3.42" fill="#0000f9"/>
<rect x="525.43" y="297.97" width="3.33" height="3.42" fill="#0000e4"/>
<rect x="525.43" y="301.08" width="3.33" height="3.42" fill="#0000d5"/>
<rect x="528.47" y="229.40" width="3.33" height="3.42" fill="#0000a9"/>
<rect x="528.47" y="232.52" width="3.33" height="3.42" fill="#0000b9"/>
<rect x="528.47" y="235.63" width="3.33" height="3.42" fill="#0000ce"/>
<rect x="528.47" y="238.75" width="3.33" height="3.42" fill="#0000e8"/>
<rect x="528.47" y="241.87" width="3.33" height="3.42" fill="#0008ff"/>
<rect x="528.47" y="244.98" width="3.33" height="3.42" fill="#0029ff"/>
<rect x="528.47" y="248.10" width="3.33" height="3.42" fill="#004cff"/>
<rect x="528.47" y="251.22" width="3.33" height="3.42" fill="#006bff"/>
<rect x="528.47" y="254.33" width="3.33" height="3.42" fill="#0085ff"/>
<rect x="528.47" y="257.45" width="3.33" height="3.42" fill="#0098ff"/>
<rect x="528.47" y="260.57" width="3.33" height="3.42" fill="#00a4ff"/>
<rect x="528.47" y="263.68" width="3.33" height="3.42" fill="#00a9ff"/>
<rect x="528.47" y="266.80" width="3.33" height="3.42" fill="#00aaff"/>
<rect x="528.47" y="269.92" width="3.33" height="3.42" fill="#00a7ff"/>
<rect x="528.47" y="273.03" width="3.33" height="3.42" fill="#009dff"/>
<rect x="528.47" y="276.15" width="3.33" height="3.42" fill="#008bff"/>
<rect x="528.47" y="279.27" width="3.33" height="3.42" fill="#0072ff"/>
<rect x="528.47" y="282.38" width="3.33" height="3.42" fill="#0055ff"/>
<rect x="528.47" y="285.50" width="3.33" height="3.42" fill="#0037ff"/>
<rect x="528.47" y="288.62" width="3.33" height="3.42" fill="#0019ff"/>
<rect x="528.47" y="291.73" width="3.33" height="3.42" fill="#0000ff"/>
<rect x="528.47" y="294.85" width="3.33" height="3.42" fill="#0000ea"/>
<rect x="528.47" y="297.97" width="3.33" height="3.42" fill="#0000da"/>
<rect x="528.47" y="301.08" width="3.33" height="3.42" fill="#0000cf"/>
<rect x="531.50" y="229.40" width="3.33" height="3.42" fill="#0000a1"/>
<rect x="531.50" y="232.52" width="3.33" height="3.42" fill="#0000ad"/>
<rect x="531.50" y="235.63" width="3.33" height="3.42" fill="#0000bc"/>
<rect x="531.50" y="238.75" width="3.33" height="3.42" fill="#0000d0"/>
<rect x="531.50" y="241.87" width="3.33" height="3.42" fill="#0000e6"/>
<rect x="531.50" y="244.98" width="3.33" height="3.42" fill="#0000fe"/>
<rect x="531.50" y="248.10" width="3.33" height="3.42" fill="#0017ff"/>
<rect x="531.50" y="251.22" width="3.33" height="3.42" fill="#002dff"/>
<rect x="531.50" y="254.33" width="3.33" height="3.42" fill="#003fff"/>
<rect x="531.50" y="257.45" width="3.33" height="3.42" fill="#004dff"/>
<rect x="531.50" y="260.57" width="3.33" height="3.42" fill="#0055ff"/>
<rect x="531.50" y="263.68" width="3.33" height="3.42" fill="#0059ff"/>
<rect x="531.50" y="266.80" width="3.33" height="3.42" fill="#005bff"/>
<rect x="531.50" y="269.92" width="3.33" height="3.42" fill="#0059ff"/>
<rect x="531.50" y="273.03" width="3.33" height="3.42" fill="#0053ff"/>
<rect x="531.50" y="276.15" width="3.33" height="3.42" fill="#0048ff"/>
<rect x="531.50" y="279.27" width="3.33" height="3.42" fill="#0038ff"/>
<rect x="531.50" y="282.38" width="3.33" height="3.42" fill="#0025ff"/>
<rect x="531.50" y="285.50" width="3.33" height="3.42" fill="#0010ff"/>
<rect x="531.50" y="288.62" width="3.33" height="3.42" fill="#0000fb"/>
<rect x="531.50" y="291.73" width="3.33" height="3.42" fill="#0000ea"/>
<rect x="531.50" y="294.85" width="3.33" height="3.42" fill="#0000dc"/>
<rect x="531.50" y="297.97" width="3.33" height="3.42" fill="#0000d1"/>
<rect x="531.50" y="301.08" width="3.33" height="3.42" fill="#0000ca"/>
<rect x="534.53" y="229.40" width="3.33" height="3.42" fill="#00009a"/>
<rect x="534.53" y="232.52" width="3.33" height="3.42" fill="#0000a2"/>
<rect x="534.53" y="235.63" width="3.33" height="3.42" fill="#0000ae"/>
<rect x="534.53" y="238.75" width="3.33" height="3.42" fill="#0000bb"/>
<rect x="534.53" y="241.87" width="3.33" height="3.42" fill="#0000cb"/>
<rect x="534.53" y="244.98" width="3.33" height="3.42" fill="#0000db"/>
<rect x="534.53" y="248.10" width="3.33" height="3.42" fill="#0000ec"/>
<rect x="534.53" y="251.22" width="3.33" height="3.42" fill="#0000fb"/>
<rect x="534.53" y="254.33" width="3.33" height="3.42" fill="#0009ff"/>
<rect x="534.53" y="257.45" width="3.33" height="3.42" fill="#0012ff"/>
<rect x="534.53" y="260.57" width="3.33" height="3.42" fill="#0018ff"/>
<rect x="534.53" y="263.68" width="3.33" height="3.42" fill="#001cff"/>
<rect x="534.53" y="266.80" width="3.33" height="3.42" fill="#001dff"/>
<rect x="534.53" y="269.92" width="3.33" height="3.42" fill="#001dff"/>
<rect x="534.53" y="273.03" width="3.33" height="3.42" fill="#001aff"/>
<rect x="534.53" y="276.15" width="3.33" height="3.42" fill="#0014ff"/>
<rect x="534.53" y="279.27" width="3.33" height="3.42" fill="#000aff"/>
<rect x="534.53" y="282.38" width="3.33" height="3.42" fill="#0000fd"/>
<rect x="534.53" y="285.50" width="3.33" height="3.42" fill="#0000f1"/>
<rect x="534.53" y="288.62" width="3.33" height="3.42" fill="#0000e4"/>
<rect x="534.53" y="291.73" width="3.33" height="3.42" fill="#0000d9"/>
<rect x="534.53" y="294.85" width="3.33" height="3.42" fill="#0000d0"/>
<rect x="534.53" y="297.97" width="3.33" height="3.42" fill="#0000ca"/>
<rect x="534.53" y="301.08" width="3.33" height="3.42" fill="#0000c6"/>
<rect x="537.57" y="229.40" width="3.33" height="3.42" fill="#000093"/>
<rect x="537.57" y="232.52" width="3.33" height="3.42" fill="#00009a"/>
<rect x="537.57" y="235.63" width="3.33" height="3.42" fill="#0000a2"/>
<rect x="537.57" y="238.75" width="3.33" height="3.42" fill="#0000ac"/>
<rect x="537.57" y="241.87" width="3.33" height="3.42" fill="#0000b6"/>
<rect x="537.57" y="244.98" width="3.33" height="3.42" fill="#0000c2"/>
<rect x="537.57" y="248.10" width="3.33" height="3.42" fill="#0000cd"/>
<rect x="537.57" y="251.22" width="3.33" height="3.42" fill="#0000d7"/>
<rect x="537.57" y="254.33" width="3.33" height="3.42" fill="#0000e0"/>
<rect x="537.57" y="257.45" width="3.33" height="3.42" fill="#0000e6"/>
<rect x="537.57" y="260.57" width="3.33" height="3.42" fill="#0000eb"/>
<rect x="537.57" y="263.68" width="3.33" height="3.42" fill="#0000ee"/>
<rect x="537.57" y="266.80" width="3.33" height="3.42" fill="#0000f0"/>
<rect x="537.57" y="269.92" width="3.33" height="3.42" fill="#0000f0"/>
<rect x="537.57" y="273.03" width="3.33" height="3.42" fill="#0000ef"/>
<rect x="537.57" y="276.15" width="3.33" height="3.42" fill="#0000ec"/>
<rect x="537.57" y="279.27" width="3.33" height="3.42" fill="#0000e7"/>
<rect x="537.57" y="282.38" width="3.33" height="3.42" fill="#0000e1"/>
<rect x="537.57" y="285.50" width="3.33" height="3.42" fill="#0000da"/>
<rect x="537.57" y="288.62" width="3.33" height="3.42" fill="#0000d3"/>
<rect x="537.57" y="291.73" width="3.33" height="3.42" fill="#0000cc"/>
<rect x="537.57" y="294.85" width="3.33" height="3.42" fill="#0000c8"/>
<rect x="537.57" y="297.97" width="3.33" height="3.42" fill="#0000c4"/>
<rect x="537.57" y="301.08" width="3.33" height="3.42" fill="#0000c2"/>
</g>
<ellipse cx="504.2" cy="266.8" rx="36.3" ry="37.0" fill="none" stroke="#C8143C" stroke-width="0.9"/>
<rect x="34.3" y="336.3" width="235.2" height="130.0" fill="#E5EBF5"/>
<line x1="72.1" y1="336.3" x2="72.1" y2="466.3" stroke="#EBF0F8" stroke-width="0.8"/>
<line x1="109.7" y1="336.3" x2="109.7" y2="466.3" stroke="#EBF0F8" stroke-width="0.8"/>
<line x1="147.4" y1="336.3" x2="147.4" y2="466.3" stroke="#EBF0F8" stroke-width="0.8"/>
<line x1="185.1" y1="336.3" x2="185.1" y2="466.3" stroke="#EBF0F8" stroke-width="0.8"/>
<line x1="222.7" y1="336.3" x2="222.7" y2="466.3" stroke="#EBF0F8" stroke-width="0.8"/>
<line x1="260.4" y1="336.3" x2="260.4" y2="466.3" stroke="#EBF0F8" stroke-width="0.8"/>
<line x1="34.3" y1="452.4" x2="269.5" y2="452.4" stroke="#EBF0F8" stroke-width="0.8"/>
<line x1="34.3" y1="435.2" x2="269.5" y2="435.2" stroke="#EBF0F8" stroke-width="0.8"/>
<line x1="34.3" y1="417.9" x2="269.5" y2="417.9" stroke="#EBF0F8" stroke-width="0.8"/>
<line x1="34.3" y1="400.7" x2="269.5" y2="400.7" stroke="#EBF0F8" stroke-width="0.8"/>
<line x1="34.3" y1="383.5" x2="269.5" y2="383.5" stroke="#EBF0F8" stroke-width="0.8"/>
<line x1="34.3" y1="366.2" x2="269.5" y2="366.2" stroke="#EBF0F8" stroke-width="0.8"/>
<line x1="34.3" y1="349.0" x2="269.5" y2="349.0" stroke="#EBF0F8" stroke-width="0.8"/>
<polyline points="34.6,418.4 34.7,374.3 34.8,410.6 34.8,402.6 34.9,413.9 35.0,405.5 35.1,418.4 35.1,402.3 35.2,397.4 35.3,407.2 35.4,405.9 35.4,398.8 35.5,399.8 35.6,408.5 35.7,408.3 35.7,397.6 35.8,398.7 35.9,385.7 36.0,417.1 36.0,400.0 36.1,414.0 36.2,405.8 36.3,419.5 36.3,415.8 36.4,404.9 36.5,415.3 36.6,393.4 36.6,413.4 36.7,388.9 36.8,405.5 36.9,396.3 36.9,404.8 37.0,378.0 37.1,395.9 37.2,400.2 37.2,413.0 37.3,411.7 37.4,401.5 37.5,392.8 37.5,412.3 37.6,391.3 37.7,399.8 37.8,398.1 37.9,411.6 37.9,407.2 38.0,409.4 38.1,407.9 38.2,399.5 38.2,410.6 38.3,412.7 38.4,405.8 38.5,412.0 38.5,380.0 38.6,415.9 38.7,412.8 38.8,414.9 38.8,410.3 38.9,422.1 39.0,408.7 39.1,404.7 39.1,402.5 39.2,413.6 39.3,402.9 39.4,403.2 39.4,415.8 39.5,420.0 39.6,415.2 39.7,387.4 39.7,402.9 39.8,402.4 39.9,401.7 40.0,409.0 40.0,364.7 40.1,345.2 40.2,362.9 40.3,419.9 40.3,415.1 40.4,416.0 40.5,409.9 40.6,415.8 40.7,419.7 40.7,401.5 40.8,404.4 40.9,425.8 41.0,424.3 41.0,414.3 41.1,410.8 41.2,376.0 41.3,410.3 41.3,417.1 41.4,432.2 41.5,421.4 41.6,429.3 41.6,419.6 41.7,424.2 41.8,431.8 41.9,412.9 41.9,420.3 42.0,422.0 42.1,425.4 42.2,434.4 42.2,428.8 42.3,414.6 42.4,423.2 42.5,419.5 42.5,419.7 42.6,439.1 42.7,419.7 42.8,428.3 42.8,422.7 42.9,433.0 43.0,430.2 43.1,429.1 43.1,428.3 43.2,435.8 43.3,423.5 43.4,424.8 43.4,422.5 43.5,437.2 43.6,427.6 43.7,423.2 43.8,426.9 43.8,450.4 43.9,428.9 44.0,434.6 44.1,432.4 44.1,429.6 44.2,425.7 44.3,427.9 44.4,427.8 44.4,417.0 44.5,445.1 44.6,435.4 44.7,439.9 44.7,429.0 44.8,425.6 44.9,435.8 45.0,429.2 45.0,433.1 45.1,422.4 45.2,432.7 45.3,442.0 45.3,428.9 45.4,435.2 45.5,430.9 45.6,437.1 45.6,436.9 45.7,431.2 45.8,427.8 45.9,432.6 45.9,431.3 46.0,427.6 46.1,433.7 46.2,433.7 46.2,426.3 46.3,430.7 46.4,391.5 46.5,436.0 46.6,432.1 46.6,445.6 46.7,429.1 46.8,417.9 46.9,421.2 46.9,423.4 47.0,433.3 47.1,437.3 47.2,420.0 47.2,438.2 47.3,425.3 47.4,433.5 47.5,434.7 47.5,434.6 47.6,432.3 47.7,438.3 47.8,426.0 47.8,433.9 47.9,437.8 48.0,399.0 48.1,446.8 48.1,438.5 48.2,436.5 48.3,441.7 48.4,433.9 48.4,425.6 48.5,420.4 48.6,439.8 48.7,435.9 48.7,437.5 48.8,431.0 48.9,438.1 49.0,443.3 49.0,434.8 49.1,426.9 49.2,430.7 49.3,451.2 49.3,427.1 49.4,419.0 49.5,420.6 49.6,425.9 49.7,437.7 49.7,433.8 49.8,429.2 49.9,426.3 50.0,432.8 50.0,432.6 50.1,430.4 50.2,432.2 50.3,429.4 50.3,443.6 50.4,420.7 50.5,434.4 50.6,428.2 50.6,437.7 50.7,432.6 50.8,435.9 50.9,436.9 50.9,435.1 51.0,439.5 51.1,426.4 51.2,439.3 51.2,432.9 51.3,436.3 51.4,442.8 51.5,440.4 51.5,445.2 51.6,421.9 51.7,429.1 51.8,439.7 51.8,428.2 51.9,433.5 52.0,443.9 52.1,439.4 52.1,429.3 52.2,437.1 52.3,438.2 52.4,434.1 52.5,434.2 52.5,435.6 52.6,426.6 52.7,435.6 52.8,429.6 52.8,437.1 52.9,437.4 53.0,430.1 53.1,438.5 53.1,437.1 53.2,434.9 53.3,439.2 53.4,433.5 53.4,433.7 53.5,435.7 53.6,435.0 53.7,441.7 53.7,422.4 53.8,415.0 53.9,423.1 54.0,432.7 54.0,436.9 54.1,435.5 54.2,440.8 54.3,437.3 54.3,420.5 54.4,429.4 54.5,444.2 54.6,444.2 54.6,436.2 54.7,427.1 54.8,447.7 54.9,424.2 54.9,437.5 55.0,435.5 55.1,437.1 55.2,429.4 55.2,433.6 55.3,441.8 55.4,433.2 55.5,428.3 55.6,435.9 55.6,436.5 55.7,435.3 55.8,431.7 55.9,439.1 55.9,435.4 56.0,429.7 56.1,437.4 56.2,436.1 56.2,437.1 56.3,426.9 56.4,432.1 56.5,438.9 56.5,441.6 56.6,438.4 56.7,437.5 56.8,440.6 56.8,442.1 56.9,446.5 57.0,439.4 57.1,433.8 57.1,439.6 57.2,426.3 57.3,437.4 57.4,434.7 57.4,437.1 57.5,440.0 57.6,437.6 57.7,429.4 57.7,435.5 57.8,433.1 57.9,437.4 58.0,439.6 58.0,432.3 58.1,441.7 58.2,444.9 58.3,436.3 58.4,441.8 58.4,429.7 58.5,434.9 58.6,443.3 58.7,428.3 58.7,435.2 58.8,433.1 58.9,446.2 59.0,444.4 59.0,434.7 59.1,438.8 59.2,423.8 59.3,442.8 59.3,440.1 59.4,445.5 59.5,425.1 59.6,440.1 59.6,436.3 59.7,423.9 59.8,434.5 59.9,437.9 59.9,442.7 60.0,439.4 60.1,435.5 60.2,440.8 60.2,437.8 60.3,434.8 60.4,431.6 60.5,439.3 60.5,439.3 60.6,448.6 60.7,436.0 60.8,447.4 60.8,440.5 60.9,445.1 61.0,433.6 61.1,433.8 61.1,437.0 61.2,443.6 61.3,439.7 61.4,442.9 61.5,440.5 61.5,444.4 61.6,439.9 61.7,418.0 61.8,441.7 61.8,439.3 61.9,448.5 62.0,438.0 62.1,439.5 62.1,437.2 62.2,445.3 62.3,443.8 62.4,442.6 62.4,432.2 62.5,430.7 62.6,440.5 62.7,443.0 62.7,447.2 62.8,429.2 62.9,438.2 63.0,429.9 63.0,433.9 63.1,438.0 63.2,444.5 63.3,436.3 63.3,435.3 63.4,437.5 63.5,446.2 63.6,452.6 63.6,430.8 63.7,437.8 63.8,437.0 63.9,445.8 63.9,441.8 64.0,447.9 64.1,433.9 64.2,439.5 64.2,437.0 64.3,433.5 64.4,438.7 64.5,433.0 64.6,451.5 64.6,441.9 64.7,434.0 64.8,436.3 64.9,449.2 64.9,437.0 65.0,443.5 65.1,442.9 65.2,445.7 65.2,443.2 65.3,438.6 65.4,436.5 65.5,430.0 65.5,439.6 65.6,440.6 65.7,437.9 65.8,439.1 65.8,433.2 65.9,451.9 66.0,437.2 66.1,434.3 66.1,436.7 66.2,439.1 66.3,444.1 66.4,426.7 66.4,442.9 66.5,436.7 66.6,439.1 66.7,445.7 66.7,438.2 66.8,436.4 66.9,431.9 67.0,450.5 67.0,447.7 67.1,445.0 67.2,440.3 67.3,445.6 67.4,442.5 67.4,437.3 67.5,434.9 67.6,443.3 67.7,442.5 67.7,447.1 67.8,437.8 67.9,448.2 68.0,438.5 68.0,447.4 68.1,443.5 68.2,437.4 68.3,435.4 68.3,439.9 68.4,439.2 68.5,445.8 68.6,436.8 68.6,432.5 68.7,440.6 68.8,451.3 68.9,449.7 68.9,437.3 69.0,439.3 69.1,442.5 69.2,437.2 69.2,439.5 69.3,439.3 69.4,435.1 69.5,437.5 69.5,438.2 69.6,442.2 69.7,434.4 69.8,441.5 69.8,435.6 69.9,436.5 70.0,434.8 70.1,463.1 70.1,448.0 70.2,448.5 70.3,445.6 70.4,439.9 70.5,441.6 70.5,442.9 70.6,443.8 70.7,444.6 70.8,449.8 70.8,425.2 70.9,438.4 71.0,445.3 71.1,439.6 71.1,440.7 71.2,449.9 71.3,442.7 71.4,451.5 71.4,441.5 71.5,443.1 71.6,436.0 71.7,431.0 71.7,439.6 71.8,442.3 71.9,440.1 72.0,434.6 72.0,445.7 72.1,442.5 72.2,443.1 72.3,437.9 72.3,451.3 72.4,450.4 72.5,444.0 72.6,441.7 72.6,443.8 72.7,451.8 72.8,457.9 72.9,442.6 72.9,440.2 73.0,432.6 73.1,458.0 73.2,436.6 73.3,447.5 73.3,445.5 73.4,450.1 73.5,438.1 73.6,434.0 73.6,443.7 73.7,445.2 73.8,449.3 73.9,433.8 73.9,440.6 74.0,441.7 74.1,435.7 74.2,434.8 74.2,447.6 74.3,443.1 74.4,435.4 74.5,445.3 74.5,448.1 74.6,446.4 74.7,447.8 74.8,434.4 74.8,446.1 74.9,446.9 75.0,441.6 75.1,443.4 75.1,439.5 75.2,450.6 75.3,442.2 75.4,438.6 75.4,438.5 75.5,444.5 75.6,447.6 75.7,439.4 75.7,440.3 75.8,446.2 75.9,456.4 76.0,446.7 76.0,436.7 76.1,445.2 76.2,440.0 76.3,434.1 76.4,440.6 76.4,441.2 76.5,446.7 76.6,451.8 76.7,450.8 76.7,449.0 76.8,442.2 76.9,445.5 77.0,444.5 77.0,452.5 77.1,441.2 77.2,441.8 77.3,453.1 77.3,448.1 77.4,442.4 77.5,445.9 77.6,445.8 77.6,446.1 77.7,449.5 77.8,447.1 77.9,444.2 77.9,442.4 78.0,435.7 78.1,442.9 78.2,451.6 78.2,446.6 78.3,441.8 78.4,444.1 78.5,440.8 78.5,447.1 78.6,456.6 78.7,455.6 78.8,452.3 78.8,450.0 78.9,444.5 79.0,438.9 79.1,445.9 79.2,443.4 79.2,450.5 79.3,446.8 79.4,442.8 79.5,448.5 79.5,461.1 79.6,436.1 79.7,444.9 79.8,438.3 79.8,430.5 79.9,422.7 80.0,424.5 80.1,422.6 80.1,423.4 80.2,427.8 80.3,413.3 80.4,404.6 80.4,412.5 80.5,406.3 80.6,401.6 80.7,417.2 80.7,404.6 80.8,400.3 80.9,410.6 81.0,394.3 81.0,409.4 81.1,413.5 81.2,406.4 81.3,411.8 81.3,427.4 81.4,421.4 81.5,417.4 81.6,414.7 81.6,405.5 81.7,408.6 81.8,407.3 81.9,409.9 81.9,410.6 82.0,402.9 82.1,422.9 82.2,401.0 82.3,412.5 82.3,418.1 82.4,409.2 82.5,403.9 82.6,409.7 82.6,425.5 82.7,414.6 82.8,407.0 82.9,414.2 82.9,407.7 83.0,393.7 83.1,411.3 83.2,418.0 83.2,418.9 83.3,408.7 83.4,397.4 83.5,419.3 83.5,407.9 83.6,415.4 83.7,418.7 83.8,412.0 83.8,408.6 83.9,403.8 84.0,405.4 84.1,409.3 84.1,405.1 84.2,412.1 84.3,392.3 84.4,400.3 84.4,408.6 84.5,402.9 84.6,404.2 84.7,399.1 84.7,414.5 84.8,422.7 84.9,400.1 85.0,418.6 85.1,396.2 85.1,409.9 85.2,391.3 85.3,412.8 85.4,408.8 85.4,409.8 85.5,419.1 85.6,413.6 85.7,408.2 85.7,401.3 85.8,408.8 85.9,402.3 86.0,404.7 86.0,421.2 86.1,416.0 86.2,410.8 86.3,413.7 86.3,395.6 86.4,409.1 86.5,393.3 86.6,402.3 86.6,411.4 86.7,411.4 86.8,414.2 86.9,409.4 86.9,408.4 87.0,407.9 87.1,420.3 87.2,419.4 87.2,394.9 87.3,408.9 87.4,419.2 87.5,405.4 87.5,409.6 87.6,402.2 87.7,396.8 87.8,408.7 87.8,403.8 87.9,405.9 88.0,394.3 88.1,396.8 88.2,406.0 88.2,402.6 88.3,410.4 88.4,393.9 88.5,409.6 88.5,407.0 88.6,400.9 88.7,405.4 88.8,396.4 88.8,394.3 88.9,396.1 89.0,382.4 89.1,395.8 89.1,404.9 89.2,378.5 89.3,403.6 89.4,389.0 89.4,392.0 89.5,396.9 89.6,398.6 89.7,410.8 89.7,394.2 89.8,389.2 89.9,396.2 90.0,401.1 90.0,403.1 90.1,388.4 90.2,383.4 90.3,396.9 90.3,403.4 90.4,405.2 90.5,391.8 90.6,415.1 90.6,394.5 90.7,388.5 90.8,408.8 90.9,409.5 90.9,385.7 91.0,393.8 91.1,382.4 91.2,396.9 91.3,421.4 91.3,410.8 91.4,404.4 91.5,403.8 91.6,387.7 91.6,400.5 91.7,401.8 91.8,385.5 91.9,399.1 91.9,402.9 92.0,399.3 92.1,401.6 92.2,394.4 92.2,384.6 92.3,397.3 92.4,375.8 92.5,389.0 92.5,408.9 92.6,416.5 92.7,401.3 92.8,370.3 92.8,411.5 92.9,402.7 93.0,394.7 93.1,405.0 93.1,402.7 93.2,383.6 93.3,382.4 93.4,408.1 93.4,371.5 93.5,403.2 93.6,400.1 93.7,407.4 93.7,415.7 93.8,411.3 93.9,413.6 94.0,405.6 94.1,402.1 94.1,408.3 94.2,396.4 94.3,386.5 94.4,395.6 94.4,378.9 94.5,390.4 94.6,419.1 94.7,402.0 94.7,394.4 94.8,389.7 94.9,376.8 95.0,390.3 95.0,387.6 95.1,396.1 95.2,396.9 95.3,395.2 95.3,374.9 95.4,411.8 95.5,400.7 95.6,395.9 95.6,392.2 95.7,400.5 95.8,409.3 95.9,402.2 95.9,382.8 96.0,381.1 96.1,365.7 96.2,393.3 96.2,399.3 96.3,404.8 96.4,388.5 96.5,396.9 96.5,370.5 96.6,392.0 96.7,382.4 96.8,368.7 96.8,359.0 96.9,401.5 97.0,350.5 97.1,393.6 97.2,372.2 97.2,393.4 97.3,376.0 97.4,395.6 97.5,381.1 97.5,368.7 97.6,376.6 97.7,360.3 97.8,388.6 97.8,400.1 97.9,390.8 98.0,386.1 98.1,403.9 98.1,355.7 98.2,344.0 98.3,349.7 98.4,377.6 98.4,393.0 98.5,367.6 98.6,382.8 98.7,389.9 98.7,367.4 98.8,381.4 98.9,392.8 99.0,399.2 99.0,370.9 99.1,398.5 99.2,380.6 99.3,386.5 99.3,376.9 99.4,396.8 99.5,374.6 99.6,389.4 99.6,390.9 99.7,396.6 99.8,369.7 99.9,396.9 100.0,385.9 100.0,407.2 100.1,380.3 100.2,376.9 100.3,384.6 100.3,380.8 100.4,383.0 100.5,366.5 100.6,354.3 100.6,363.6 100.7,376.7 100.8,392.1 100.9,381.0 100.9,371.3 101.0,383.4 101.1,386.7 101.2,427.2 101.2,405.0 101.3,388.7 101.4,364.0 101.5,383.9 101.5,382.8 101.6,396.1 101.7,419.5 101.8,388.6 101.8,362.4 101.9,389.4 102.0,368.5 102.1,404.1 102.1,408.4 102.2,398.6 102.3,375.1 102.4,393.3 102.4,412.2 102.5,384.2 102.6,390.4 102.7,401.9 102.7,405.7 102.8,401.2 102.9,418.8 103.0,404.2 103.1,395.6 103.1,402.2 103.2,407.1 103.3,392.1 103.4,407.4 103.4,407.0 103.5,411.6 103.6,411.0 103.7,397.0 103.7,395.7 103.8,411.9 103.9,408.6 104.0,411.8 104.0,406.1 104.1,400.1 104.2,415.4 104.3,412.4 104.3,419.7 104.4,424.5 104.5,425.0 104.6,424.7 104.6,409.1 104.7,400.7 104.8,413.6 104.9,409.7 104.9,409.8 105.0,425.3 105.1,409.6 105.2,428.3 105.2,430.0 105.3,441.0 105.4,430.7 105.5,437.6 105.5,419.8 105.6,419.6 105.7,430.4 105.8,415.6 105.9,431.5 105.9,422.4 106.0,411.4 106.1,436.2 106.2,417.0 106.2,440.5 106.3,414.7 106.4,418.8 106.5,425.7 106.5,424.5 106.6,414.1 106.7,425.1 106.8,425.7 106.8,427.4 106.9,408.2 107.0,420.6 107.1,423.9 107.1,429.8 107.2,425.7 107.3,422.4 107.4,421.9 107.4,434.2 107.5,419.4 107.6,426.7 107.7,410.7 107.7,435.9 107.8,427.9 107.9,413.5 108.0,385.0 108.0,434.0 108.1,430.3 108.2,425.5 108.3,430.5 108.3,420.2 108.4,423.5 108.5,422.8 108.6,425.7 108.6,418.4 108.7,434.2 108.8,424.4 108.9,418.3 109.0,423.9 109.0,427.7 109.1,425.7 109.2,432.5 109.3,423.1 109.3,420.4 109.4,428.7 109.5,433.8 109.6,419.2 109.6,415.2 109.7,421.4 109.8,425.1 109.9,418.9 109.9,426.7 110.0,420.1 110.1,431.5 110.2,418.0 110.2,419.8 110.3,426.2 110.4,430.2 110.5,431.8 110.5,421.4 110.6,426.0 110.7,429.4 110.8,435.2 110.8,420.2 110.9,417.9 111.0,429.1 111.1,424.4 111.1,434.8 111.2,426.2 111.3,428.2 111.4,421.0 111.4,428.0 111.5,434.1 111.6,424.6 111.7,418.5 111.8,432.0 111.8,424.3 111.9,426.7 112.0,421.7 112.1,432.5 112.1,421.6 112.2,423.3 112.3,426.5 112.4,425.2 112.4,411.9 112.5,429.6 112.6,419.0 112.7,428.3 112.7,424.1 112.8,425.8 112.9,421.9 113.0,419.8 113.0,427.7 113.1,428.2 113.2,433.3 113.3,430.3 113.3,422.3 113.4,434.4 113.5,441.2 113.6,431.6 113.6,425.7 113.7,420.7 113.8,427.6 113.9,417.7 113.9,432.2 114.0,383.6 114.1,423.4 114.2,428.8 114.2,419.1 114.3,415.9 114.4,424.4 114.5,435.2 114.5,421.8 114.6,433.0 114.7,415.4 114.8,427.0 114.9,430.8 114.9,439.1 115.0,416.1 115.1,427.1 115.2,421.7 115.2,429.6 115.3,424.1 115.4,428.3 115.5,422.8 115.5,424.1 115.6,430.4 115.7,437.5 115.8,429.2 115.8,438.6 115.9,424.9 116.0,438.2 116.1,415.4 116.1,415.1 116.2,430.0 116.3,430.9 116.4,434.3 116.4,431.8 116.5,433.1 116.6,429.3 116.7,425.2 116.7,421.4 116.8,431.2 116.9,422.2 117.0,431.1 117.0,433.2 117.1,424.4 117.2,425.6 117.3,425.0 117.3,433.0 117.4,429.6 117.5,424.3 117.6,430.4 117.6,438.4 117.7,430.5 117.8,429.6 117.9,426.2 118.0,422.8 118.0,428.9 118.1,429.3 118.2,426.9 118.3,436.6 118.3,427.5 118.4,428.0 118.5,430.3 118.6,432.5 118.6,417.6 118.7,430.9 118.8,437.3 118.9,422.1 118.9,431.8 119.0,422.9 119.1,423.0 119.2,431.1 119.2,428.8 119.3,416.0 119.4,425.7 119.5,434.8 119.5,425.8 119.6,424.8 119.7,427.3 119.8,426.8 119.8,434.5 119.9,424.3 120.0,422.3 120.1,432.6 120.1,436.3 120.2,434.4 120.3,435.3 120.4,425.8 120.4,420.5 120.5,425.5 120.6,425.0 120.7,419.2 120.8,428.2 120.8,433.9 120.9,425.8 121.0,443.1 121.1,435.1 121.1,422.5 121.2,423.1 121.3,425.9 121.4,435.0 121.4,433.5 121.5,429.5 121.6,429.2 121.7,435.7 121.7,434.0 121.8,420.3 121.9,423.7 122.0,424.8 122.0,419.6 122.1,436.3 122.2,426.7 122.3,426.6 122.3,425.5 122.4,432.9 122.5,434.6 122.6,435.3 122.6,439.0 122.7,425.1 122.8,441.5 122.9,447.1 122.9,427.8 123.0,428.9 123.1,435.1 123.2,439.2 123.2,429.6 123.3,426.2 123.4,444.8 123.5,428.2 123.5,413.8 123.6,434.9 123.7,438.0 123.8,442.6 123.9,443.0 123.9,451.6 124.0,428.1 124.1,425.4 124.2,422.4 124.2,442.9 124.3,429.0 124.4,421.0 124.5,418.6 124.5,450.8 124.6,429.2 124.7,445.0 124.8,426.5 124.8,427.3 124.9,435.1 125.0,430.8 125.1,435.9 125.1,431.4 125.2,430.4 125.3,434.6 125.4,430.2 125.4,433.5 125.5,443.7 125.6,443.3 125.7,431.7 125.7,433.1 125.8,436.9 125.9,434.1 126.0,434.2 126.0,435.6 126.1,430.6 126.2,435.0 126.3,427.9 126.3,420.9 126.4,435.4 126.5,420.1 126.6,431.8 126.7,442.8 126.7,437.6 126.8,420.2 126.9,437.7 127.0,434.5 127.0,426.2 127.1,432.4 127.2,429.6 127.3,431.0 127.3,435.2 127.4,423.0 127.5,438.5 127.6,446.1 127.6,432.1 127.7,426.9 127.8,430.5 127.9,441.1 127.9,430.0 128.0,436.3 128.1,448.0 128.2,428.6 128.2,434.0 128.3,429.6 128.4,431.0 128.5,434.1 128.5,428.6 128.6,436.3 128.7,434.6 128.8,441.0 128.8,437.9 128.9,436.0 129.0,443.2 129.1,432.3 129.1,437.6 129.2,429.4 129.3,442.9 129.4,429.0 129.4,440.0 129.5,429.1 129.6,435.2 129.7,427.0 129.8,428.9 129.8,427.8 129.9,436.8 130.0,437.4 130.1,438.9 130.1,436.7 130.2,432.8 130.3,438.5 130.4,454.2 130.4,431.8 130.5,429.5 130.6,438.0 130.7,447.6 130.7,433.9 130.8,432.4 130.9,428.0 131.0,429.9 131.0,428.5 131.1,428.3 131.2,441.4 131.3,442.8 131.3,435.3 131.4,435.4 131.5,440.0 131.6,434.9 131.6,435.5 131.7,438.7 131.8,434.6 131.9,443.2 131.9,455.9 132.0,435.0 132.1,436.8 132.2,429.7 132.2,432.2 132.3,435.6 132.4,437.8 132.5,433.9 132.6,427.4 132.6,437.7 132.7,431.7 132.8,437.8 132.9,433.8 132.9,434.4 133.0,434.7 133.1,421.6 133.2,443.3 133.2,429.4 133.3,437.6 133.4,438.9 133.5,431.7 133.5,426.6 133.6,439.1 133.7,429.2 133.8,434.9 133.8,438.4 133.9,432.3 134.0,424.3 134.1,431.0 134.1,438.7 134.2,430.2 134.3,441.1 134.4,425.5 134.4,429.2 134.5,424.1 134.6,429.2 134.7,445.2 134.7,439.0 134.8,433.6 134.9,431.3 135.0,442.7 135.0,434.5 135.1,428.9 135.2,445.3 135.3,426.8 135.3,436.5 135.4,439.5 135.5,441.6 135.6,448.1 135.7,440.8 135.7,430.8 135.8,442.8 135.9,437.3 136.0,427.4 136.0,428.4 136.1,430.1 136.2,421.4 136.3,438.1 136.3,439.0 136.4,438.5 136.5,430.0 136.6,435.0 136.6,458.5 136.7,437.8 136.8,434.5 136.9,430.6 136.9,435.1 137.0,443.7 137.1,435.6 137.2,450.3 137.2,451.2 137.3,440.1 137.4,425.0 137.5,433.8 137.5,443.8 137.6,431.9 137.7,431.1 137.8,435.7 137.8,453.0 137.9,432.5 138.0,423.0 138.1,437.5 138.1,438.2 138.2,440.5 138.3,436.1 138.4,437.9 138.5,432.6 138.5,441.9 138.6,435.6 138.7,439.1 138.8,430.9 138.8,444.8 138.9,437.4 139.0,433.0 139.1,436.1 139.1,428.7 139.2,431.9 139.3,441.2 139.4,439.8 139.4,441.3 139.5,440.5 139.6,434.1 139.7,436.6 139.7,448.2 139.8,435.2 139.9,426.0 140.0,435.9 140.0,433.2 140.1,435.3 140.2,436.0 140.3,429.2 140.3,438.7 140.4,434.8 140.5,439.8 140.6,431.4 140.6,429.5 140.7,433.1 140.8,446.6 140.9,424.2 140.9,443.0 141.0,435.6 141.1,443.4 141.2,433.4 141.2,438.4 141.3,438.3 141.4,449.7 141.5,435.1 141.6,437.5 141.6,437.1 141.7,437.9 141.8,431.2 141.9,435.2 141.9,438.5 142.0,439.6 142.1,430.2 142.2,430.3 142.2,443.6 142.3,432.7 142.4,437.3 142.5,434.3 142.5,425.9 142.6,435.5 142.7,435.4 142.8,447.7 142.8,423.9 142.9,432.8 143.0,440.2 143.1,432.8 143.1,422.3 143.2,440.3 143.3,437.4 143.4,430.8 143.4,429.9 143.5,431.9 143.6,437.6 143.7,435.2 143.7,432.1 143.8,438.6 143.9,443.2 144.0,435.4 144.0,446.5 144.1,436.6 144.2,440.3 144.3,439.2 144.3,439.7 144.4,438.0 144.5,421.8 144.6,430.3 144.7,442.1 144.7,429.7 144.8,437.2 144.9,426.4 145.0,432.5 145.0,446.4 145.1,438.1 145.2,430.9 145.3,432.4 145.3,425.6 145.4,439.5 145.5,434.9 145.6,441.2 145.6,429.1 145.7,434.5 145.8,430.3 145.9,428.7 145.9,433.8 146.0,436.6 146.1,445.3 146.2,430.3 146.2,439.4 146.3,429.7 146.4,432.7 146.5,441.5 146.5,439.8 146.6,433.1 146.7,432.3 146.8,443.6 146.8,435.4 146.9,434.6 147.0,429.7 147.1,452.8 147.1,448.5 147.2,440.0 147.3,451.1 147.4,439.9 147.5,434.6 147.5,440.4 147.6,446.1 147.7,429.8 147.8,445.0 147.8,444.8 147.9,446.9 148.0,440.3 148.1,444.4 148.1,426.1 148.2,437.0 148.3,444.0 148.4,441.0 148.4,439.2 148.5,429.4 148.6,436.4 148.7,426.3 148.7,436.0 148.8,439.7 148.9,434.2 149.0,445.1 149.0,437.7 149.1,443.4 149.2,435.4 149.3,427.3 149.3,429.5 149.4,432.8 149.5,437.7 149.6,438.4 149.6,433.0 149.7,438.5 149.8,433.6 149.9,442.0 149.9,429.3 150.0,445.5 150.1,439.8 150.2,435.4 150.2,431.1 150.3,441.7 150.4,434.3 150.5,442.4 150.6,450.1 150.6,439.4 150.7,439.9 150.8,441.9 150.9,435.0 150.9,451.1 151.0,437.2 151.1,443.1 151.2,440.9 151.2,435.0 151.3,447.7 151.4,441.4 151.5,434.8 151.5,434.9 151.6,426.7 151.7,432.2 151.8,444.6 151.8,460.8 151.9,433.3 152.0,443.4 152.1,445.7 152.1,444.4 152.2,447.5 152.3,427.2 152.4,440.8 152.4,433.3 152.5,443.9 152.6,434.7 152.7,440.2 152.7,445.2 152.8,429.3 152.9,435.3 153.0,434.9 153.0,439.2 153.1,429.3 153.2,444.5 153.3,451.8 153.4,437.5 153.4,442.6 153.5,422.1 153.6,431.4 153.7,443.5 153.7,441.0 153.8,443.4 153.9,447.7 154.0,439.7 154.0,437.5 154.1,436.0 154.2,439.7 154.3,425.3 154.3,448.6 154.4,424.9 154.5,428.7 154.6,439.4 154.6,445.0 154.7,442.5 154.8,448.6 154.9,436.1 154.9,434.7 155.0,442.5 155.1,431.6 155.2,440.2 155.2,433.9 155.3,440.8 155.4,425.7 155.5,437.4 155.5,425.6 155.6,444.4 155.7,436.0 155.8,445.3 155.8,447.4 155.9,429.7 156.0,444.8 156.1,441.5 156.1,448.6 156.2,430.8 156.3,430.7 156.4,433.9 156.5,427.0 156.5,439.5 156.6,433.1 156.7,438.3 156.8,438.4 156.8,440.9 156.9,425.6 157.0,438.6 157.1,448.6 157.1,425.2 157.2,426.9 157.3,420.3 157.4,437.9 157.4,411.6 157.5,407.0 157.6,410.9 157.7,431.0 157.7,433.2 157.8,427.9 157.9,440.1 158.0,422.2 158.0,434.9 158.1,429.7 158.2,431.2 158.3,424.2 158.3,417.4 158.4,426.0 158.5,433.1 158.6,424.1 158.6,418.3 158.7,429.1 158.8,430.2 158.9,423.5 158.9,429.9 159.0,433.7 159.1,432.4 159.2,437.5 159.3,439.5 159.3,431.2 159.4,426.0 159.5,419.6 159.6,438.9 159.6,434.4 159.7,439.2 159.8,426.6 159.9,433.4 159.9,427.0 160.0,426.5 160.1,422.8 160.2,431.5 160.2,436.5 160.3,438.8 160.4,435.2 160.5,431.7 160.5,446.8 160.6,441.3 160.7,435.4 160.8,426.9 160.8,432.9 160.9,415.7 161.0,409.5 161.1,421.5 161.1,415.8 161.2,420.3 161.3,403.9 161.4,410.0 161.4,397.2 161.5,401.0 161.6,407.4 161.7,403.1 161.7,396.1 161.8,392.0 161.9,400.5 162.0,396.2 162.0,392.0 162.1,404.1 162.2,396.2 162.3,413.5 162.4,419.9 162.4,412.2 162.5,425.6 162.6,393.6 162.7,389.5 162.7,402.1 162.8,389.1 162.9,404.3 163.0,410.1 163.0,409.3 163.1,410.8 163.2,401.4 163.3,402.4 163.3,404.9 163.4,402.4 163.5,410.3 163.6,399.6 163.6,402.5 163.7,397.2 163.8,410.4 163.9,403.7 163.9,403.7 164.0,398.7 164.1,388.4 164.2,398.9 164.2,385.2 164.3,401.9 164.4,392.6 164.5,412.5 164.5,397.2 164.6,401.8 164.7,398.3 164.8,393.1 164.8,389.9 164.9,382.1 165.0,396.9 165.1,385.9 165.1,411.0 165.2,391.7 165.3,397.1 165.4,401.7 165.5,400.6 165.5,411.1 165.6,401.2 165.7,397.9 165.8,400.8 165.8,413.9 165.9,407.9 166.0,386.0 166.1,400.0 166.1,394.3 166.2,401.7 166.3,406.5 166.4,401.6 166.4,406.3 166.5,414.8 166.6,387.5 166.7,401.0 166.7,401.8 166.8,404.9 166.9,402.1 167.0,410.6 167.0,401.1 167.1,404.7 167.2,388.8 167.3,402.7 167.3,391.5 167.4,405.7 167.5,415.1 167.6,391.3 167.6,404.5 167.7,407.0 167.8,412.0 167.9,407.3 167.9,410.8 168.0,396.8 168.1,400.4 168.2,389.4 168.3,418.5 168.3,391.5 168.4,408.2 168.5,402.2 168.6,401.8 168.6,391.5 168.7,400.5 168.8,401.4 168.9,404.0 168.9,398.0 169.0,402.6 169.1,393.0 169.2,410.2 169.2,395.4 169.3,429.2 169.4,398.1 169.5,395.4 169.5,402.0 169.6,399.4 169.7,409.2 169.8,410.2 169.8,395.5 169.9,395.2 170.0,394.5 170.1,404.2 170.1,408.3 170.2,405.7 170.3,399.3 170.4,399.8 170.4,404.5 170.5,409.7 170.6,396.0 170.7,408.5 170.7,390.4 170.8,395.8 170.9,407.0 171.0,379.4 171.0,366.9 171.1,375.4 171.2,388.8 171.3,376.4 171.4,389.0 171.4,409.8 171.5,385.7 171.6,409.1 171.7,402.7 171.7,375.9 171.8,404.1 171.9,402.6 172.0,404.2 172.0,393.5 172.1,394.4 172.2,382.9 172.3,378.4 172.3,389.9 172.4,400.5 172.5,382.3 172.6,413.3 172.6,384.6 172.7,395.3 172.8,372.1 172.9,412.5 172.9,401.0 173.0,409.0 173.1,374.2 173.2,411.1 173.2,397.7 173.3,382.6 173.4,385.6 173.5,370.3 173.5,388.8 173.6,403.7 173.7,379.3 173.8,396.6 173.8,374.5 173.9,354.1 174.0,388.6 174.1,411.7 174.2,407.8 174.2,381.7 174.3,408.6 174.4,405.4 174.5,396.1 174.5,385.8 174.6,404.4 174.7,389.3 174.8,385.1 174.8,405.2 174.9,380.8 175.0,399.9 175.1,411.1 175.1,380.8 175.2,392.7 175.3,377.4 175.4,365.6 175.4,383.2 175.5,382.3 175.6,382.4 175.7,377.7 175.7,407.8 175.8,377.1 175.9,388.2 176.0,398.0 176.0,411.4 176.1,367.3 176.2,371.3 176.3,374.7 176.3,385.2 176.4,402.5 176.5,387.5 176.6,391.5 176.6,410.8 176.7,385.0 176.8,391.8 176.9,417.1 176.9,400.4 177.0,381.0 177.1,380.4 177.2,405.1 177.3,373.6 177.3,377.2 177.4,400.8 177.5,408.2 177.6,412.9 177.6,357.4 177.7,348.0 177.8,350.1 177.9,377.7 177.9,430.7 178.0,411.5 178.1,399.7 178.2,376.8 178.2,372.2 178.3,405.3 178.4,387.6 178.5,378.5 178.5,400.0 178.6,399.4 178.7,380.1 178.8,383.7 178.8,420.9 178.9,376.2 179.0,404.1 179.1,380.1 179.1,377.9 179.2,375.2 179.3,388.2 179.4,389.6 179.4,400.2 179.5,379.4 179.6,395.5 179.7,352.0 179.7,379.5 179.8,398.6 179.9,396.1 180.0,368.5 180.1,391.8 180.1,364.0 180.2,374.6 180.3,412.2 180.4,407.9 180.4,386.7 180.5,397.8 180.6,407.0 180.7,413.4 180.7,413.2 180.8,378.4 180.9,388.4 181.0,390.6 181.0,355.1 181.1,378.4 181.2,394.4 181.3,385.8 181.3,380.3 181.4,372.3 181.5,380.6 181.6,388.3 181.6,384.2 181.7,404.5 181.8,400.0 181.9,370.5 181.9,401.6 182.0,388.9 182.1,399.2 182.2,379.3 182.2,401.1 182.3,378.5 182.4,402.8 182.5,388.1 182.5,384.8 182.6,370.0 182.7,365.9 182.8,400.5 182.8,372.8 182.9,372.0 183.0,393.9 183.1,388.7 183.2,396.5 183.2,370.0 183.3,358.6 183.4,375.6 183.5,370.4 183.5,358.5 183.6,364.9 183.7,395.6 183.8,390.6 183.8,390.6 183.9,385.4 184.0,391.3 184.1,392.8 184.1,379.1 184.2,396.6 184.3,388.2 184.4,387.0 184.4,386.0 184.5,400.5 184.6,386.2 184.7,404.8 184.7,374.2 184.8,396.2 184.9,366.6 185.0,388.9 185.0,381.1 185.1,381.7 185.2,373.6 185.3,387.7 185.3,395.7 185.4,362.4 185.5,386.2 185.6,390.6 185.6,396.5 185.7,393.0 185.8,372.9 185.9,401.8 186.0,375.8 186.0,395.4 186.1,393.0 186.2,384.6 186.3,382.5 186.3,393.2 186.4,414.7 186.5,406.8 186.6,412.6 186.6,407.3 186.7,422.2 186.8,428.4 186.9,392.0 186.9,417.1 187.0,419.4 187.1,404.8 187.2,395.5 187.2,423.5 187.3,408.1 187.4,397.9 187.5,402.9 187.5,418.9 187.6,431.9 187.7,420.8 187.8,405.1 187.8,423.9 187.9,396.3 188.0,421.6 188.1,421.1 188.1,428.8 188.2,421.7 188.3,423.1 188.4,400.9 188.4,410.4 188.5,413.7 188.6,428.8 188.7,408.7 188.7,413.2 188.8,409.8 188.9,419.7 189.0,418.1 189.1,431.6 189.1,430.3 189.2,423.9 189.3,421.9 189.4,413.2 189.4,401.6 189.5,415.9 189.6,414.9 189.7,404.9 189.7,416.5 189.8,423.0 189.9,407.2 190.0,422.4 190.0,423.6 190.1,410.4 190.2,416.0 190.3,421.5 190.3,413.7 190.4,414.7 190.5,426.4 190.6,396.3 190.6,420.0 190.7,411.3 190.8,421.5 190.9,428.2 190.9,407.9 191.0,402.1 191.1,409.2 191.2,414.8 191.2,417.4 191.3,402.0 191.4,429.7 191.5,412.7 191.5,409.5 191.6,392.6 191.7,423.8 191.8,412.7 191.8,427.2 191.9,421.1 192.0,418.3 192.1,414.9 192.2,424.5 192.2,412.2 192.3,419.8 192.4,412.9 192.5,414.4 192.5,429.7 192.6,426.1 192.7,409.6 192.8,410.3 192.8,417.6 192.9,416.3 193.0,421.4 193.1,414.5 193.1,422.8 193.2,424.3 193.3,416.0 193.4,423.4 193.4,410.8 193.5,433.9 193.6,420.3 193.7,420.3 193.7,421.3 193.8,405.9 193.9,424.0 194.0,414.4 194.0,409.7 194.1,421.8 194.2,432.4 194.3,413.3 194.3,431.1 194.4,401.6 194.5,421.5 194.6,414.5 194.6,421.3 194.7,436.1 194.8,424.7 194.9,407.9 195.0,431.0 195.0,411.4 195.1,415.3 195.2,412.8 195.3,421.0 195.3,419.1 195.4,432.8 195.5,422.9 195.6,425.7 195.6,419.2 195.7,429.2 195.8,412.5 195.9,409.5 195.9,427.6 196.0,426.6 196.1,421.3 196.2,438.3 196.2,414.3 196.3,432.1 196.4,433.0 196.5,412.0 196.5,425.7 196.6,427.6 196.7,420.7 196.8,420.8 196.8,421.5 196.9,415.4 197.0,411.7 197.1,428.0 197.1,423.9 197.2,422.6 197.3,426.4 197.4,416.4 197.4,417.7 197.5,428.7 197.6,422.7 197.7,426.4 197.7,430.9 197.8,435.9 197.9,416.3 198.0,418.9 198.1,412.6 198.1,418.2 198.2,427.1 198.3,419.5 198.4,439.5 198.4,420.4 198.5,410.6 198.6,417.2 198.7,439.1 198.7,417.4 198.8,423.5 198.9,418.1 199.0,416.2 199.0,432.7 199.1,415.7 199.2,411.4 199.3,419.1 199.3,419.8 199.4,427.8 199.5,425.5 199.6,433.7 199.6,423.4 199.7,428.1 199.8,428.6 199.9,432.5 199.9,416.5 200.0,422.9 200.1,406.0 200.2,419.8 200.2,416.9 200.3,419.4 200.4,436.7 200.5,433.0 200.5,415.1 200.6,438.5 200.7,434.9 200.8,427.2 200.9,425.2 200.9,425.0 201.0,425.7 201.1,430.6 201.2,424.1 201.2,433.1 201.3,423.8 201.4,421.3 201.5,425.2 201.5,428.6 201.6,429.2 201.7,426.2 201.8,415.6 201.8,416.8 201.9,414.3 202.0,424.5 202.1,431.3 202.1,426.7 202.2,426.2 202.3,423.2 202.4,424.3 202.4,422.0 202.5,434.3 202.6,418.1 202.7,420.6 202.7,430.3 202.8,424.4 202.9,431.6 203.0,423.8 203.0,430.1 203.1,428.8 203.2,418.2 203.3,431.2 203.3,436.2 203.4,422.6 203.5,426.5 203.6,431.9 203.6,438.3 203.7,430.1 203.8,444.0 203.9,424.9 204.0,441.3 204.0,422.6 204.1,427.7 204.2,421.5 204.3,434.9 204.3,432.4 204.4,415.8 204.5,409.7 204.6,443.3 204.6,426.1 204.7,416.5 204.8,421.9 204.9,425.0 204.9,439.4 205.0,431.5 205.1,428.7 205.2,421.8 205.2,433.2 205.3,416.2 205.4,436.5 205.5,435.5 205.5,425.4 205.6,418.2 205.7,424.4 205.8,427.9 205.8,442.9 205.9,440.8 206.0,424.4 206.1,423.6 206.1,419.4 206.2,431.7 206.3,425.3 206.4,434.1 206.4,429.7 206.5,425.4 206.6,422.2 206.7,418.1 206.8,433.4 206.8,420.1 206.9,434.4 207.0,417.9 207.1,411.7 207.1,429.7 207.2,425.4 207.3,436.1 207.4,427.4 207.4,429.2 207.5,435.9 207.6,425.2 207.7,434.4 207.7,447.1 207.8,431.6 207.9,423.6 208.0,429.9 208.0,424.5 208.1,427.8 208.2,441.8 208.3,423.2 208.3,421.5 208.4,433.8 208.5,427.3 208.6,428.9 208.6,425.7 208.7,431.8 208.8,440.4 208.9,434.6 208.9,427.2 209.0,427.6 209.1,423.7 209.2,423.9 209.2,436.6 209.3,433.8 209.4,433.3 209.5,433.6 209.5,425.7 209.6,430.0 209.7,433.7 209.8,441.3 209.9,431.9 209.9,430.6 210.0,424.5 210.1,437.2 210.2,428.3 210.2,431.8 210.3,432.8 210.4,424.6 210.5,430.2 210.5,437.9 210.6,423.9 210.7,426.4 210.8,424.3 210.8,430.7 210.9,444.6 211.0,432.3 211.1,438.6 211.1,431.7 211.2,427.0 211.3,430.1 211.4,431.6 211.4,428.6 211.5,429.5 211.6,430.5 211.7,425.5 211.7,440.5 211.8,432.9 211.9,429.0 212.0,425.9 212.0,432.4 212.1,424.5 212.2,421.2 212.3,427.2 212.3,438.5 212.4,428.4 212.5,431.0 212.6,423.1 212.7,433.3 212.7,425.9 212.8,425.7 212.9,424.3 213.0,428.7 213.0,422.3 213.1,426.8 213.2,428.3 213.3,422.9 213.3,416.0 213.4,432.6 213.5,420.9 213.6,416.0 213.6,429.5 213.7,429.1 213.8,437.2 213.9,438.3 213.9,414.1 214.0,425.4 214.1,431.3 214.2,420.1 214.2,437.3 214.3,431.8 214.4,424.7 214.5,425.7 214.5,431.5 214.6,444.0 214.7,442.6 214.8,419.4 214.8,433.5 214.9,419.1 215.0,428.4 215.1,422.4 215.1,427.2 215.2,426.2 215.3,431.7 215.4,424.0 215.4,434.0 215.5,428.3 215.6,422.8 215.7,439.2 215.8,431.4 215.8,427.6 215.9,429.7 216.0,433.9 216.1,428.1 216.1,424.8 216.2,427.9 216.3,425.1 216.4,425.2 216.4,440.1 216.5,434.3 216.6,438.1 216.7,425.3 216.7,416.7 216.8,426.2 216.9,432.4 217.0,425.4 217.0,430.0 217.1,422.1 217.2,432.2 217.3,425.7 217.3,448.8 217.4,433.3 217.5,423.6 217.6,421.2 217.6,423.0 217.7,432.6 217.8,426.3 217.9,435.9 217.9,432.2 218.0,436.2 218.1,429.7 218.2,436.8 218.2,433.5 218.3,415.1 218.4,438.3 218.5,434.4 218.5,440.0 218.6,420.1 218.7,415.6 218.8,429.4 218.9,422.5 218.9,420.3 219.0,421.5 219.1,417.0 219.2,434.9 219.2,422.3 219.3,428.1 219.4,429.4 219.5,430.8 219.5,427.1 219.6,433.9 219.7,424.0 219.8,443.0 219.8,417.1 219.9,433.0 220.0,443.3 220.1,421.4 220.1,438.0 220.2,442.3 220.3,424.9 220.4,438.7 220.4,424.1 220.5,430.1 220.6,426.5 220.7,421.2 220.7,420.4 220.8,424.0 220.9,417.5 221.0,429.2 221.0,428.8 221.1,434.4 221.2,430.8 221.3,426.7 221.3,425.6 221.4,445.0 221.5,417.0 221.6,418.5 221.7,443.4 221.7,435.3 221.8,429.1 221.9,431.5 222.0,434.7 222.0,412.1 222.1,425.6 222.2,432.7 222.3,432.4 222.3,435.5 222.4,429.4 222.5,425.2 222.6,423.5 222.6,432.1 222.7,427.6 222.8,431.0 222.9,437.5 222.9,436.4 223.0,418.9 223.1,435.8 223.2,421.0 223.2,416.3 223.3,442.5 223.4,429.7 223.5,423.6 223.5,424.8 223.6,434.1 223.7,441.8 223.8,437.0 223.8,426.3 223.9,419.8 224.0,427.0 224.1,435.0 224.1,431.4 224.2,418.7 224.3,428.8 224.4,432.2 224.4,421.5 224.5,434.1 224.6,438.2 224.7,434.4 224.8,422.1 224.8,426.1 224.9,427.5 225.0,425.6 225.1,434.1 225.1,428.7 225.2,428.1 225.3,430.3 225.4,425.0 225.4,418.8 225.5,428.9 225.6,425.8 225.7,432.7 225.7,429.7 225.8,426.3 225.9,435.6 226.0,428.0 226.0,419.2 226.1,438.9 226.2,436.2 226.3,428.0 226.3,417.2 226.4,421.2 226.5,434.9 226.6,427.6 226.6,425.7 226.7,431.3 226.8,424.1 226.9,424.6 226.9,436.6 227.0,431.8 227.1,433.5 227.2,432.4 227.2,435.5 227.3,434.1 227.4,422.8 227.5,427.0 227.6,439.8 227.6,429.6 227.7,440.4 227.8,426.3 227.9,418.8 227.9,429.0 228.0,424.9 228.1,423.7 228.2,423.3 228.2,412.7 228.3,432.2 228.4,427.4 228.5,422.0 228.5,417.2 228.6,433.0 228.7,428.6 228.8,433.1 228.8,431.1 228.9,433.6 229.0,428.2 229.1,418.4 229.1,429.6 229.2,434.6 229.3,420.7 229.4,425.4 229.4,438.4 229.5,419.9 229.6,437.7 229.7,422.0 229.7,417.1 229.8,424.8 229.9,424.0 230.0,434.7 230.0,421.9 230.1,421.6 230.2,421.6 230.3,420.6 230.3,428.6 230.4,424.0 230.5,427.7 230.6,426.0 230.7,435.2 230.7,423.2 230.8,427.9 230.9,433.6 231.0,431.3 231.0,427.9 231.1,433.5 231.2,430.8 231.3,431.0 231.3,428.6 231.4,434.9 231.5,433.1 231.6,424.2 231.6,432.2 231.7,431.4 231.8,433.2 231.9,423.6 231.9,420.4 232.0,427.2 232.1,436.2 232.2,421.7 232.2,435.5 232.3,428.9 232.4,430.0 232.5,430.1 232.5,426.5 232.6,427.2 232.7,433.2 232.8,439.4 232.8,430.2 232.9,431.9 233.0,423.2 233.1,428.1 233.1,436.3 233.2,436.6 233.3,427.1 233.4,428.6 233.5,426.0 233.5,423.1 233.6,432.5 233.7,426.1 233.8,439.3 233.8,413.9 233.9,416.5 234.0,419.9 234.1,428.9 234.1,427.3 234.2,423.0 234.3,406.5 234.4,429.7 234.4,417.2 234.5,438.1 234.6,429.4 234.7,423.4 234.7,426.6 234.8,445.4 234.9,426.1 235.0,420.6 235.0,410.7 235.1,427.3 235.2,423.1 235.3,436.4 235.3,429.5 235.4,435.9 235.5,425.5 235.6,422.6 235.6,435.1 235.7,427.4 235.8,423.5 235.9,427.9 235.9,435.6 236.0,424.2 236.1,442.1 236.2,432.2 236.2,420.4 236.3,421.2 236.4,428.4 236.5,426.4 236.6,426.2 236.6,427.9 236.7,430.7 236.8,427.2 236.9,425.3 236.9,415.9 237.0,440.4 237.1,429.9 237.2,433.0 237.2,430.4 237.3,438.0 237.4,429.4 237.5,437.9 237.5,425.4 237.6,427.7 237.7,433.1 237.8,433.5 237.8,437.7 237.9,425.5 238.0,432.7 238.1,425.9 238.1,419.7 238.2,436.4 238.3,429.1 238.4,422.8 238.4,424.4 238.5,433.3 238.6,429.7 238.7,428.9 238.7,434.3 238.8,432.0 238.9,417.3 239.0,435.6 239.0,426.5 239.1,427.3 239.2,413.2 239.3,407.4 239.4,430.2 239.4,426.7 239.5,419.9 239.6,431.9 239.7,436.2 239.7,439.3 239.8,438.5 239.9,423.3 240.0,424.8 240.0,431.1 240.1,440.1 240.2,438.1 240.3,426.8 240.3,422.2 240.4,432.5 240.5,429.2 240.6,435.2 240.6,436.1 240.7,432.9 240.8,434.9 240.9,422.3 240.9,428.8 241.0,434.1 241.1,430.4 241.2,435.7 241.2,428.1 241.3,454.2 241.4,433.4 241.5,428.8 241.5,426.1 241.6,430.2 241.7,431.7 241.8,442.2 241.8,432.0 241.9,436.1 242.0,417.4 242.1,438.5 242.1,431.3 242.2,425.6 242.3,416.4 242.4,426.3 242.5,443.4 242.5,438.1 242.6,437.9 242.7,429.2 242.8,436.9 242.8,437.0 242.9,435.1 243.0,426.5 243.1,428.8 243.1,431.0 243.2,454.1 243.3,419.6 243.4,444.8 243.4,443.2 243.5,435.1 243.6,439.4 243.7,436.3 243.7,437.8 243.8,430.0 243.9,420.5 244.0,452.9 244.0,446.5 244.1,424.7 244.2,442.4 244.3,431.8 244.3,437.9 244.4,427.7 244.5,427.5 244.6,448.0 244.6,431.9 244.7,434.6 244.8,440.2 244.9,445.7 244.9,432.2 245.0,439.9 245.1,441.1 245.2,431.7 245.2,431.9 245.3,440.3 245.4,435.3 245.5,447.2 245.6,423.9 245.6,440.1 245.7,435.5 245.8,427.0 245.9,436.0 245.9,427.0 246.0,434.7 246.1,444.7 246.2,432.3 246.2,429.0 246.3,437.3 246.4,434.1 246.5,435.7 246.5,452.3 246.6,440.1 246.7,434.4 246.8,437.0 246.8,443.5 246.9,431.2 247.0,429.9 247.1,440.3 247.1,441.4 247.2,422.1 247.3,438.9 247.4,447.8 247.4,443.9 247.5,435.7 247.6,451.3 247.7,426.8 247.7,442.6 247.8,440.3 247.9,444.2 248.0,437.2 248.0,442.9 248.1,435.2 248.2,445.8 248.3,441.5 248.4,425.9 248.4,426.8 248.5,442.0 248.6,445.1 248.7,447.2 248.7,434.8 248.8,439.8 248.9,436.2 249.0,433.8 249.0,436.3 249.1,447.0 249.2,435.3 249.3,450.9 249.3,429.4 249.4,436.2 249.5,442.2 249.6,442.2 249.6,439.5 249.7,427.0 249.8,436.7 249.9,448.4 249.9,443.2 250.0,442.3 250.1,441.6 250.2,438.0 250.2,438.4 250.3,435.0 250.4,448.2 250.5,441.7 250.5,441.4 250.6,439.8 250.7,437.0 250.8,428.6 250.8,438.5 250.9,433.9 251.0,434.8 251.1,440.1 251.1,447.8 251.2,431.6 251.3,438.8 251.4,449.8 251.5,430.1 251.5,442.4 251.6,435.6 251.7,443.9 251.8,449.8 251.8,438.3 251.9,445.6 252.0,441.0 252.1,452.1 252.1,415.1 252.2,432.6 252.3,438.1 252.4,439.6 252.4,450.6 252.5,446.8 252.6,436.4 252.7,428.9 252.7,447.1 252.8,440.9 252.9,437.1 253.0,445.0 253.0,451.5 253.1,441.5 253.2,449.0 253.3,426.6 253.3,445.1 253.4,455.5 253.5,447.7 253.6,435.1 253.6,431.3 253.7,441.8 253.8,433.3 253.9,435.6 253.9,427.0 254.0,432.2 254.1,443.1 254.2,433.7 254.3,433.2 254.3,429.8 254.4,438.0 254.5,441.4 254.6,439.7 254.6,419.1 254.7,438.9 254.8,432.3 254.9,438.1 254.9,421.9 255.0,446.8 255.1,452.2 255.2,445.3 255.2,449.8 255.3,440.6 255.4,437.1 255.5,424.7 255.5,434.5 255.6,435.9 255.7,449.9 255.8,432.3 255.8,439.5 255.9,443.5 256.0,439.4 256.1,438.9 256.1,446.4 256.2,433.0 256.3,439.3 256.4,440.7 256.4,450.3 256.5,448.7 256.6,443.1 256.7,445.1 256.7,424.5 256.8,441.2 256.9,435.4 257.0,428.4 257.0,443.7 257.1,436.2 257.2,434.3 257.3,426.9 257.4,440.2 257.4,447.6 257.5,440.1 257.6,444.1 257.7,445.9 257.7,438.9 257.8,436.4 257.9,434.7 258.0,436.9 258.0,435.2 258.1,439.5 258.2,435.6 258.3,446.7 258.3,432.9 258.4,450.2 258.5,435.8 258.6,435.8 258.6,443.7 258.7,433.9 258.8,425.9 258.9,444.9 258.9,449.0 259.0,425.6 259.1,442.7 259.2,435.2 259.2,437.5 259.3,450.0 259.4,429.6 259.5,435.4 259.5,447.8 259.6,440.8 259.7,442.3 259.8,434.5 259.8,433.5 259.9,433.7 260.0,440.7 260.1,436.0 260.2,442.1 260.2,457.4 260.3,426.7 260.4,440.9 260.5,438.4 260.5,431.7 260.6,440.4 260.7,432.9 260.8,429.6 260.8,439.1 260.9,450.1 261.0,437.6 261.1,442.0 261.1,434.4 261.2,423.7 261.3,428.9 261.4,438.9 261.4,442.3 261.5,426.9 261.6,425.7 261.7,442.5 261.7,434.2 261.8,427.8 261.9,443.5 262.0,437.3 262.0,436.0 262.1,438.7 262.2,434.2 262.3,458.6 262.3,423.7 262.4,435.2 262.5,442.7 262.6,441.5 262.6,430.4 262.7,436.4 262.8,438.1 262.9,448.3 262.9,450.1 263.0,450.3 263.1,440.1 263.2,448.5 263.3,443.0 263.3,437.4 263.4,436.9 263.5,444.0 263.6,441.4 263.6,435.4 263.7,432.6 263.8,432.4 263.9,448.9 263.9,437.3 264.0,439.6 264.1,446.5 264.2,444.3 264.2,436.8 264.3,430.7 264.4,421.0 264.5,422.1 264.5,422.2 264.6,425.7 264.7,409.3 264.8,426.6 264.8,428.4 264.9,405.0 265.0,403.4 265.1,405.2 265.1,425.6 265.2,406.3 265.3,421.7 265.4,442.8 265.4,419.1 265.5,409.3 265.6,427.1 265.7,416.5 265.7,419.4 265.8,406.4 265.9,414.9 266.0,430.9 266.1,417.9 266.1,414.4 266.2,419.6 266.3,421.4 266.4,427.5 266.4,425.2 266.5,427.5 266.6,422.5 266.7,417.1 266.7,404.5 266.8,431.9 266.9,415.7 267.0,418.0 267.0,435.2 267.1,428.6 267.2,420.2 267.3,421.3 267.3,420.7 267.4,430.2 267.5,445.7 267.6,415.2 267.6,435.0 267.7,433.6 267.8,421.6 267.9,427.1 267.9,426.8 268.0,420.0 268.1,420.7 268.2,435.1 268.2,427.5 268.3,422.4 268.4,419.0 268.5,424.5 268.5,425.5 268.6,431.0 268.7,436.0 268.8,425.5 268.8,419.0 268.9,427.9 269.0,426.4" fill="none" stroke="#636EFA" stroke-width="0.55" stroke-opacity="0.95" stroke-linejoin="round" clip-path="url(#cE)"/>
<line x1="34.3" y1="336.3" x2="34.3" y2="466.3" stroke="#6a6a6a" stroke-width="1"/>
<line x1="33.8" y1="466.3" x2="270.0" y2="466.3" stroke="#6a6a6a" stroke-width="1"/>
<line x1="269.5" y1="336.3" x2="269.5" y2="466.3" stroke="#8a8a8a" stroke-width="0.8"/>
<line x1="33.8" y1="336.3" x2="270.0" y2="336.3" stroke="#6a6a6a" stroke-width="1"/>
<line x1="34.4" y1="466.3" x2="34.4" y2="464.7" stroke="#6a6a6a" stroke-width="0.6"/>
<line x1="34.4" y1="336.3" x2="34.4" y2="337.90000000000003" stroke="#6a6a6a" stroke-width="0.6"/>
<text x="34.4" y="472.6" font-size="5.3" fill="#6e7382" text-anchor="middle" textLength="2.36" lengthAdjust="spacingAndGlyphs">0</text>
<line x1="72.1" y1="466.3" x2="72.1" y2="464.7" stroke="#6a6a6a" stroke-width="0.6"/>
<line x1="72.1" y1="336.3" x2="72.1" y2="337.90000000000003" stroke="#6a6a6a" stroke-width="0.6"/>
<text x="72.1" y="472.6" font-size="5.3" fill="#6e7382" text-anchor="middle" textLength="7.08" lengthAdjust="spacingAndGlyphs">500</text>
<line x1="109.7" y1="466.3" x2="109.7" y2="464.7" stroke="#6a6a6a" stroke-width="0.6"/>
<line x1="109.7" y1="336.3" x2="109.7" y2="337.90000000000003" stroke="#6a6a6a" stroke-width="0.6"/>
<text x="109.7" y="472.6" font-size="5.3" fill="#6e7382" text-anchor="middle" textLength="9.43" lengthAdjust="spacingAndGlyphs">1000</text>
<line x1="147.4" y1="466.3" x2="147.4" y2="464.7" stroke="#6a6a6a" stroke-width="0.6"/>
<line x1="147.4" y1="336.3" x2="147.4" y2="337.90000000000003" stroke="#6a6a6a" stroke-width="0.6"/>
<text x="147.4" y="472.6" font-size="5.3" fill="#6e7382" text-anchor="middle" textLength="9.43" lengthAdjust="spacingAndGlyphs">1500</text>
<line x1="185.1" y1="466.3" x2="185.1" y2="464.7" stroke="#6a6a6a" stroke-width="0.6"/>
<line x1="185.1" y1="336.3" x2="185.1" y2="337.90000000000003" stroke="#6a6a6a" stroke-width="0.6"/>
<text x="185.1" y="472.6" font-size="5.3" fill="#6e7382" text-anchor="middle" textLength="9.43" lengthAdjust="spacingAndGlyphs">2000</text>
<line x1="222.7" y1="466.3" x2="222.7" y2="464.7" stroke="#6a6a6a" stroke-width="0.6"/>
<line x1="222.7" y1="336.3" x2="222.7" y2="337.90000000000003" stroke="#6a6a6a" stroke-width="0.6"/>
<text x="222.7" y="472.6" font-size="5.3" fill="#6e7382" text-anchor="middle" textLength="9.43" lengthAdjust="spacingAndGlyphs">2500</text>
<line x1="260.4" y1="466.3" x2="260.4" y2="464.7" stroke="#6a6a6a" stroke-width="0.6"/>
<line x1="260.4" y1="336.3" x2="260.4" y2="337.90000000000003" stroke="#6a6a6a" stroke-width="0.6"/>
<text x="260.4" y="472.6" font-size="5.3" fill="#6e7382" text-anchor="middle" textLength="9.43" lengthAdjust="spacingAndGlyphs">3000</text>
<line x1="34.3" y1="452.4" x2="35.9" y2="452.4" stroke="#6a6a6a" stroke-width="0.6"/>
<line x1="269.5" y1="452.4" x2="267.9" y2="452.4" stroke="#6a6a6a" stroke-width="0.6"/>
<text x="32.8" y="454.15" font-size="5.3" fill="#6e7382" text-anchor="end" textLength="5.90" lengthAdjust="spacingAndGlyphs">0.7</text>
<line x1="34.3" y1="435.2" x2="35.9" y2="435.2" stroke="#6a6a6a" stroke-width="0.6"/>
<line x1="269.5" y1="435.2" x2="267.9" y2="435.2" stroke="#6a6a6a" stroke-width="0.6"/>
<text x="32.8" y="436.95" font-size="5.3" fill="#6e7382" text-anchor="end" textLength="5.90" lengthAdjust="spacingAndGlyphs">0.8</text>
<line x1="34.3" y1="417.9" x2="35.9" y2="417.9" stroke="#6a6a6a" stroke-width="0.6"/>
<line x1="269.5" y1="417.9" x2="267.9" y2="417.9" stroke="#6a6a6a" stroke-width="0.6"/>
<text x="32.8" y="419.65" font-size="5.3" fill="#6e7382" text-anchor="end" textLength="5.90" lengthAdjust="spacingAndGlyphs">0.9</text>
<line x1="34.3" y1="400.7" x2="35.9" y2="400.7" stroke="#6a6a6a" stroke-width="0.6"/>
<line x1="269.5" y1="400.7" x2="267.9" y2="400.7" stroke="#6a6a6a" stroke-width="0.6"/>
<text x="32.8" y="402.45" font-size="5.3" fill="#6e7382" text-anchor="end" textLength="2.36" lengthAdjust="spacingAndGlyphs">1</text>
<line x1="34.3" y1="383.5" x2="35.9" y2="383.5" stroke="#6a6a6a" stroke-width="0.6"/>
<line x1="269.5" y1="383.5" x2="267.9" y2="383.5" stroke="#6a6a6a" stroke-width="0.6"/>
<text x="32.8" y="385.25" font-size="5.3" fill="#6e7382" text-anchor="end" textLength="5.90" lengthAdjust="spacingAndGlyphs">1.1</text>
<line x1="34.3" y1="366.2" x2="35.9" y2="366.2" stroke="#6a6a6a" stroke-width="0.6"/>
<line x1="269.5" y1="366.2" x2="267.9" y2="366.2" stroke="#6a6a6a" stroke-width="0.6"/>
<text x="32.8" y="367.95" font-size="5.3" fill="#6e7382" text-anchor="end" textLength="5.90" lengthAdjust="spacingAndGlyphs">1.2</text>
<line x1="34.3" y1="349.0" x2="35.9" y2="349.0" stroke="#6a6a6a" stroke-width="0.6"/>
<line x1="269.5" y1="349.0" x2="267.9" y2="349.0" stroke="#6a6a6a" stroke-width="0.6"/>
<text x="32.8" y="350.75" font-size="5.3" fill="#6e7382" text-anchor="end" textLength="5.90" lengthAdjust="spacingAndGlyphs">1.3</text>
<text x="0" y="0" font-size="9.0" fill="#1a1a1a" stroke="#1a1a1a" stroke-width="0.12" text-anchor="middle" transform="translate(15.0,399.8) rotate(-90)" dominant-baseline="central">OTFLESE</text>
<text x="62.2" y="486.3" font-size="8.8" fill="#1a1a1a" stroke="#1a1a1a" stroke-width="0.12">Arranged in ascending order of acquisition time</text>
<rect x="252.4" y="475.8" width="19.599999999999994" height="11.5" fill="#0CE4E4"/>
<text x="262.2" y="484.55" font-size="9" fill="#0b3030" stroke="#0b3030" stroke-width="0.45" text-anchor="middle">(e)</text>
<rect x="309.6" y="336.3" width="234.79999999999995" height="130.59999999999997" fill="#E5EBF5"/>
<line x1="347.8" y1="336.3" x2="347.8" y2="466.9" stroke="#EBF0F8" stroke-width="0.8"/>
<line x1="385.5" y1="336.3" x2="385.5" y2="466.9" stroke="#EBF0F8" stroke-width="0.8"/>
<line x1="423.2" y1="336.3" x2="423.2" y2="466.9" stroke="#EBF0F8" stroke-width="0.8"/>
<line x1="461.0" y1="336.3" x2="461.0" y2="466.9" stroke="#EBF0F8" stroke-width="0.8"/>
<line x1="498.8" y1="336.3" x2="498.8" y2="466.9" stroke="#EBF0F8" stroke-width="0.8"/>
<line x1="536.5" y1="336.3" x2="536.5" y2="466.9" stroke="#EBF0F8" stroke-width="0.8"/>
<line x1="309.6" y1="465.3" x2="544.4" y2="465.3" stroke="#EBF0F8" stroke-width="0.8"/>
<line x1="309.6" y1="448.8" x2="544.4" y2="448.8" stroke="#EBF0F8" stroke-width="0.8"/>
<line x1="309.6" y1="432.3" x2="544.4" y2="432.3" stroke="#EBF0F8" stroke-width="0.8"/>
<line x1="309.6" y1="415.8" x2="544.4" y2="415.8" stroke="#EBF0F8" stroke-width="0.8"/>
<line x1="309.6" y1="399.3" x2="544.4" y2="399.3" stroke="#EBF0F8" stroke-width="0.8"/>
<line x1="309.6" y1="382.8" x2="544.4" y2="382.8" stroke="#EBF0F8" stroke-width="0.8"/>
<line x1="309.6" y1="366.3" x2="544.4" y2="366.3" stroke="#EBF0F8" stroke-width="0.8"/>
<line x1="309.6" y1="349.8" x2="544.4" y2="349.8" stroke="#EBF0F8" stroke-width="0.8"/>
<polyline points="309.8,420.0 309.9,403.2 310.0,397.3 310.0,383.8 310.1,409.5 310.2,425.5 310.3,413.4 310.3,427.9 310.4,454.0 310.5,404.2 310.6,439.6 310.6,404.3 310.7,416.8 310.8,440.5 310.9,412.0 310.9,414.2 311.0,408.0 311.1,416.5 311.2,391.9 311.2,406.7 311.3,430.1 311.4,415.3 311.5,410.7 311.5,416.9 311.6,417.3 311.7,414.7 311.8,419.0 311.8,396.6 311.9,419.1 312.0,380.0 312.1,421.1 312.1,413.0 312.2,403.2 312.3,412.5 312.4,403.2 312.4,423.4 312.5,413.0 312.6,421.8 312.7,402.1 312.7,429.5 312.8,410.3 312.9,426.9 313.0,421.8 313.1,402.3 313.1,416.5 313.2,407.9 313.3,417.4 313.4,427.6 313.4,420.2 313.5,424.0 313.6,401.6 313.7,415.4 313.7,416.9 313.8,424.2 313.9,407.2 314.0,419.1 314.0,417.7 314.1,398.1 314.2,403.0 314.3,417.8 314.3,401.6 314.4,401.1 314.5,422.4 314.6,416.3 314.6,411.1 314.7,414.5 314.8,409.4 314.9,408.1 314.9,408.9 315.0,417.3 315.1,426.7 315.2,408.8 315.2,412.8 315.3,411.3 315.4,400.9 315.5,416.0 315.5,422.2 315.6,405.1 315.7,421.9 315.8,407.8 315.9,425.1 315.9,423.9 316.0,409.7 316.1,393.6 316.2,410.1 316.2,399.7 316.3,400.4 316.4,411.1 316.5,427.2 316.5,412.7 316.6,411.4 316.7,395.1 316.8,407.6 316.8,399.7 316.9,418.8 317.0,408.4 317.1,413.2 317.1,413.5 317.2,411.8 317.3,423.2 317.4,418.5 317.4,410.5 317.5,415.2 317.6,419.2 317.7,427.4 317.7,415.0 317.8,428.2 317.9,407.8 318.0,411.4 318.0,398.9 318.1,422.0 318.2,403.4 318.3,403.4 318.3,422.2 318.4,408.4 318.5,406.2 318.6,423.3 318.6,411.9 318.7,423.0 318.8,409.8 318.9,421.1 319.0,424.6 319.0,414.6 319.1,431.8 319.2,409.9 319.3,411.7 319.3,414.6 319.4,423.9 319.5,411.0 319.6,409.5 319.6,416.4 319.7,426.4 319.8,409.7 319.9,401.1 319.9,412.6 320.0,379.6 320.1,408.5 320.2,415.2 320.2,395.2 320.3,414.2 320.4,415.0 320.5,409.8 320.5,417.1 320.6,421.7 320.7,404.0 320.8,420.6 320.8,397.5 320.9,408.0 321.0,425.1 321.1,422.5 321.1,395.5 321.2,420.0 321.3,409.9 321.4,406.4 321.4,416.3 321.5,415.6 321.6,428.3 321.7,399.9 321.8,410.1 321.8,413.0 321.9,396.1 322.0,426.3 322.1,432.1 322.1,408.4 322.2,418.5 322.3,412.0 322.4,417.4 322.4,408.0 322.5,423.1 322.6,403.2 322.7,428.5 322.7,418.5 322.8,439.2 322.9,398.5 323.0,414.1 323.0,402.2 323.1,413.7 323.2,419.5 323.3,406.0 323.3,400.9 323.4,398.0 323.5,417.5 323.6,428.1 323.6,427.1 323.7,415.8 323.8,405.9 323.9,411.9 323.9,400.5 324.0,399.9 324.1,426.3 324.2,412.9 324.2,418.9 324.3,413.1 324.4,429.1 324.5,430.2 324.5,408.1 324.6,412.3 324.7,409.2 324.8,429.2 324.9,428.5 324.9,413.2 325.0,439.1 325.1,416.5 325.2,404.1 325.2,395.9 325.3,414.9 325.4,419.6 325.5,410.5 325.5,420.1 325.6,428.4 325.7,415.9 325.8,425.0 325.8,433.2 325.9,421.6 326.0,410.9 326.1,421.0 326.1,422.1 326.2,438.2 326.3,412.5 326.4,401.4 326.4,419.9 326.5,420.2 326.6,412.9 326.7,422.7 326.7,420.3 326.8,429.2 326.9,408.8 327.0,410.2 327.0,417.0 327.1,412.2 327.2,426.9 327.3,423.2 327.3,417.2 327.4,432.7 327.5,422.5 327.6,427.5 327.7,425.6 327.7,416.1 327.8,416.3 327.9,417.8 328.0,406.8 328.0,414.3 328.1,426.4 328.2,421.0 328.3,408.5 328.3,441.6 328.4,407.7 328.5,424.3 328.6,425.3 328.6,430.9 328.7,409.6 328.8,418.4 328.9,416.3 328.9,429.8 329.0,422.2 329.1,419.8 329.2,423.9 329.2,438.2 329.3,425.4 329.4,427.5 329.5,409.5 329.5,425.8 329.6,406.5 329.7,428.5 329.8,420.6 329.8,410.4 329.9,407.8 330.0,418.4 330.1,420.7 330.1,413.9 330.2,416.3 330.3,416.5 330.4,414.4 330.4,417.8 330.5,422.5 330.6,432.8 330.7,426.3 330.8,414.4 330.8,436.3 330.9,432.0 331.0,417.7 331.1,430.5 331.1,423.3 331.2,412.9 331.3,413.3 331.4,436.8 331.4,422.1 331.5,423.9 331.6,421.5 331.7,416.8 331.7,425.8 331.8,427.8 331.9,440.7 332.0,412.7 332.0,436.5 332.1,428.0 332.2,404.1 332.3,431.1 332.3,437.6 332.4,432.4 332.5,424.0 332.6,423.2 332.6,401.9 332.7,424.9 332.8,423.6 332.9,412.5 332.9,423.8 333.0,415.2 333.1,444.4 333.2,409.7 333.2,412.9 333.3,400.3 333.4,417.8 333.5,422.9 333.6,421.9 333.6,415.3 333.7,430.5 333.8,424.1 333.9,433.6 333.9,420.7 334.0,404.2 334.1,420.4 334.2,411.8 334.2,430.2 334.3,415.9 334.4,419.5 334.5,421.8 334.5,406.8 334.6,418.2 334.7,430.8 334.8,416.4 334.8,420.5 334.9,423.9 335.0,415.5 335.1,419.4 335.1,426.7 335.2,418.6 335.3,423.0 335.4,421.1 335.4,412.1 335.5,409.7 335.6,442.4 335.7,436.5 335.7,421.6 335.8,432.3 335.9,433.9 336.0,425.5 336.0,419.4 336.1,408.8 336.2,410.6 336.3,420.8 336.3,436.8 336.4,439.0 336.5,421.1 336.6,420.2 336.7,435.6 336.7,444.2 336.8,414.5 336.9,428.5 337.0,425.4 337.0,420.8 337.1,420.9 337.2,420.8 337.3,424.2 337.3,408.9 337.4,424.3 337.5,432.3 337.6,432.0 337.6,432.5 337.7,428.0 337.8,426.7 337.9,442.6 337.9,423.1 338.0,426.6 338.1,437.5 338.2,425.5 338.2,412.3 338.3,419.7 338.4,421.0 338.5,423.8 338.5,421.0 338.6,435.4 338.7,432.6 338.8,430.5 338.8,421.7 338.9,436.0 339.0,435.8 339.1,447.8 339.1,420.0 339.2,425.1 339.3,440.0 339.4,415.5 339.4,429.0 339.5,428.6 339.6,427.1 339.7,417.2 339.8,427.1 339.8,422.6 339.9,438.7 340.0,422.0 340.1,428.5 340.1,426.8 340.2,428.9 340.3,428.3 340.4,431.4 340.4,423.6 340.5,427.6 340.6,416.3 340.7,417.0 340.7,418.9 340.8,417.4 340.9,413.9 341.0,421.3 341.0,433.9 341.1,431.8 341.2,423.6 341.3,431.0 341.3,431.5 341.4,454.6 341.5,412.2 341.6,430.6 341.6,415.2 341.7,440.8 341.8,426.2 341.9,432.9 341.9,430.5 342.0,435.6 342.1,399.7 342.2,417.3 342.2,429.7 342.3,415.7 342.4,434.5 342.5,441.3 342.6,416.3 342.6,425.0 342.7,435.5 342.8,447.4 342.9,439.5 342.9,436.7 343.0,420.9 343.1,429.9 343.2,431.0 343.2,423.8 343.3,434.0 343.4,426.8 343.5,425.6 343.5,451.2 343.6,428.5 343.7,448.8 343.8,426.4 343.8,429.5 343.9,418.0 344.0,424.7 344.1,446.2 344.1,430.6 344.2,410.7 344.3,444.7 344.4,421.8 344.4,426.5 344.5,430.3 344.6,412.0 344.7,446.1 344.7,443.6 344.8,427.6 344.9,434.5 345.0,428.2 345.0,425.1 345.1,428.8 345.2,416.8 345.3,427.1 345.3,425.6 345.4,450.2 345.5,416.7 345.6,443.9 345.7,438.4 345.7,432.8 345.8,425.4 345.9,449.4 346.0,446.0 346.0,431.1 346.1,429.6 346.2,433.5 346.3,455.1 346.3,422.6 346.4,432.5 346.5,443.1 346.6,418.0 346.6,431.0 346.7,443.0 346.8,427.5 346.9,430.8 346.9,416.6 347.0,435.8 347.1,420.3 347.2,428.2 347.2,435.5 347.3,426.6 347.4,440.8 347.5,439.3 347.5,437.1 347.6,442.1 347.7,430.7 347.8,410.9 347.8,441.0 347.9,440.2 348.0,427.8 348.1,424.2 348.1,444.1 348.2,427.9 348.3,428.8 348.4,428.2 348.5,455.9 348.5,425.5 348.6,406.9 348.7,431.4 348.8,422.1 348.8,414.9 348.9,433.5 349.0,426.8 349.1,440.8 349.1,428.7 349.2,443.8 349.3,441.8 349.4,432.3 349.4,439.8 349.5,450.1 349.6,439.0 349.7,418.0 349.7,433.0 349.8,434.3 349.9,444.7 350.0,431.1 350.0,443.6 350.1,431.1 350.2,432.7 350.3,430.1 350.3,432.6 350.4,431.1 350.5,435.9 350.6,425.0 350.6,422.2 350.7,431.7 350.8,434.1 350.9,428.6 350.9,436.6 351.0,435.9 351.1,449.4 351.2,418.2 351.2,452.3 351.3,409.4 351.4,415.1 351.5,424.0 351.6,423.0 351.6,429.5 351.7,428.0 351.8,419.4 351.9,418.8 351.9,428.6 352.0,435.9 352.1,438.4 352.2,434.1 352.2,429.2 352.3,458.2 352.4,410.9 352.5,432.8 352.5,454.8 352.6,448.6 352.7,444.6 352.8,446.1 352.8,443.1 352.9,434.2 353.0,410.8 353.1,428.0 353.1,430.4 353.2,448.8 353.3,429.0 353.4,429.8 353.4,439.9 353.5,423.8 353.6,433.8 353.7,439.0 353.7,430.4 353.8,433.0 353.9,416.1 354.0,421.4 354.0,431.2 354.1,445.1 354.2,428.1 354.3,424.7 354.4,425.9 354.4,440.4 354.5,419.7 354.6,435.6 354.7,430.4 354.7,434.7 354.8,426.6 354.9,435.0 355.0,447.6 355.0,429.4 355.1,422.7 355.2,396.8 355.3,423.6 355.3,407.2 355.4,413.6 355.5,406.2 355.6,391.7 355.6,388.6 355.7,376.0 355.8,409.7 355.9,393.1 355.9,387.5 356.0,388.3 356.1,390.7 356.2,384.5 356.2,386.6 356.3,404.0 356.4,354.1 356.5,377.1 356.5,367.4 356.6,375.6 356.7,344.9 356.8,362.2 356.8,384.9 356.9,360.2 357.0,381.9 357.1,365.5 357.1,373.5 357.2,357.5 357.3,368.3 357.4,357.7 357.5,382.3 357.5,350.7 357.6,350.5 357.7,359.9 357.8,374.1 357.8,393.4 357.9,373.3 358.0,368.8 358.1,376.7 358.1,385.0 358.2,370.2 358.3,397.2 358.4,379.1 358.4,372.8 358.5,369.3 358.6,375.4 358.7,384.1 358.7,390.0 358.8,378.4 358.9,370.6 359.0,377.1 359.0,352.6 359.1,391.1 359.2,393.6 359.3,375.7 359.3,386.5 359.4,366.5 359.5,400.0 359.6,377.3 359.6,374.1 359.7,404.8 359.8,369.1 359.9,386.0 359.9,371.4 360.0,375.2 360.1,378.5 360.2,375.2 360.3,399.7 360.3,395.5 360.4,375.7 360.5,411.2 360.6,382.3 360.6,380.7 360.7,387.8 360.8,370.7 360.9,399.2 360.9,372.3 361.0,368.2 361.1,395.9 361.2,372.3 361.2,380.2 361.3,368.7 361.4,377.8 361.5,384.3 361.5,354.5 361.6,382.2 361.7,373.4 361.8,399.7 361.8,407.2 361.9,389.4 362.0,390.2 362.1,395.8 362.1,395.9 362.2,366.1 362.3,367.5 362.4,377.3 362.4,366.6 362.5,379.1 362.6,384.4 362.7,373.6 362.7,388.7 362.8,400.4 362.9,383.9 363.0,388.5 363.0,383.0 363.1,382.5 363.2,377.4 363.3,370.2 363.4,390.4 363.4,396.7 363.5,383.3 363.6,385.1 363.7,367.6 363.7,381.2 363.8,387.7 363.9,383.0 364.0,384.9 364.0,362.0 364.1,369.2 364.2,381.4 364.3,402.1 364.3,380.0 364.4,366.9 364.5,376.9 364.6,382.3 364.6,399.2 364.7,397.8 364.8,375.6 364.9,373.2 364.9,382.2 365.0,411.6 365.1,373.6 365.2,396.9 365.2,380.4 365.3,388.6 365.4,383.4 365.5,391.9 365.5,378.5 365.6,388.9 365.7,400.6 365.8,388.9 365.8,403.3 365.9,371.3 366.0,384.1 366.1,374.1 366.1,369.7 366.2,386.1 366.3,409.2 366.4,389.6 366.5,398.7 366.5,364.3 366.6,389.7 366.7,373.5 366.8,389.8 366.8,399.3 366.9,381.5 367.0,400.1 367.1,378.0 367.1,388.6 367.2,379.9 367.3,388.4 367.4,385.5 367.4,361.5 367.5,383.2 367.6,381.6 367.7,407.5 367.7,358.1 367.8,388.7 367.9,397.5 368.0,410.4 368.0,403.4 368.1,387.5 368.2,405.3 368.3,386.8 368.3,386.2 368.4,384.4 368.5,384.1 368.6,406.6 368.6,369.2 368.7,370.4 368.8,400.0 368.9,394.3 368.9,399.0 369.0,385.9 369.1,396.8 369.2,386.1 369.3,382.9 369.3,383.8 369.4,390.7 369.5,389.9 369.6,384.4 369.6,407.9 369.7,410.8 369.8,385.2 369.9,373.8 369.9,370.8 370.0,370.1 370.1,378.9 370.2,375.9 370.2,379.0 370.3,391.6 370.4,351.1 370.5,406.7 370.5,394.6 370.6,384.2 370.7,368.4 370.8,398.0 370.8,388.1 370.9,410.2 371.0,387.9 371.1,378.7 371.1,372.8 371.2,388.7 371.3,402.2 371.4,375.5 371.4,405.1 371.5,400.1 371.6,386.6 371.7,405.6 371.7,369.7 371.8,364.6 371.9,393.9 372.0,395.7 372.0,395.3 372.1,390.4 372.2,373.6 372.3,427.1 372.4,386.9 372.4,401.7 372.5,393.9 372.6,377.7 372.7,398.8 372.7,401.3 372.8,401.3 372.9,383.5 373.0,379.6 373.0,401.6 373.1,391.5 373.2,390.9 373.3,404.3 373.3,405.0 373.4,398.6 373.5,390.1 373.6,410.7 373.6,380.5 373.7,392.9 373.8,396.9 373.9,376.7 373.9,384.6 374.0,384.5 374.1,392.4 374.2,380.9 374.2,413.5 374.3,396.0 374.4,395.1 374.5,415.8 374.5,376.4 374.6,391.5 374.7,383.3 374.8,410.1 374.8,384.7 374.9,422.7 375.0,400.4 375.1,398.4 375.2,406.5 375.2,392.3 375.3,384.1 375.4,387.8 375.5,395.5 375.5,383.5 375.6,396.9 375.7,387.8 375.8,393.0 375.8,394.6 375.9,414.7 376.0,423.5 376.1,418.6 376.1,395.2 376.2,389.2 376.3,410.5 376.4,414.1 376.4,409.7 376.5,391.6 376.6,402.6 376.7,395.9 376.7,429.7 376.8,410.5 376.9,402.2 377.0,394.7 377.0,420.8 377.1,402.2 377.2,410.0 377.3,406.9 377.3,409.8 377.4,414.6 377.5,396.5 377.6,395.4 377.6,408.2 377.7,362.5 377.8,400.3 377.9,395.4 377.9,410.0 378.0,405.4 378.1,399.1 378.2,387.6 378.3,399.5 378.3,397.8 378.4,402.5 378.5,404.4 378.6,393.4 378.6,408.2 378.7,395.6 378.8,407.0 378.9,405.5 378.9,417.2 379.0,402.1 379.1,421.5 379.2,398.1 379.2,392.0 379.3,410.2 379.4,387.8 379.5,407.1 379.5,407.4 379.6,405.0 379.7,407.8 379.8,405.4 379.8,418.4 379.9,401.7 380.0,379.9 380.1,399.0 380.1,413.5 380.2,415.4 380.3,411.8 380.4,397.0 380.4,392.8 380.5,422.6 380.6,397.0 380.7,390.9 380.7,375.1 380.8,426.9 380.9,404.1 381.0,382.1 381.1,414.6 381.1,412.3 381.2,384.4 381.3,413.8 381.4,404.8 381.4,412.7 381.5,421.1 381.6,399.8 381.7,430.9 381.7,403.7 381.8,397.9 381.9,419.1 382.0,397.0 382.0,400.8 382.1,414.9 382.2,394.4 382.3,388.7 382.3,408.2 382.4,404.5 382.5,397.8 382.6,415.8 382.6,390.3 382.7,413.5 382.8,391.6 382.9,410.1 382.9,389.8 383.0,412.1 383.1,403.6 383.2,399.2 383.2,405.0 383.3,402.5 383.4,414.0 383.5,396.2 383.5,409.3 383.6,400.3 383.7,396.7 383.8,388.8 383.8,390.8 383.9,407.9 384.0,405.1 384.1,408.2 384.2,384.8 384.2,398.7 384.3,421.9 384.4,418.5 384.5,402.7 384.5,404.3 384.6,406.6 384.7,417.1 384.8,422.0 384.8,408.2 384.9,407.8 385.0,404.7 385.1,409.0 385.1,426.2 385.2,397.4 385.3,413.0 385.4,391.7 385.4,392.5 385.5,385.5 385.6,398.2 385.7,422.9 385.7,424.8 385.8,415.0 385.9,405.1 386.0,375.0 386.0,393.0 386.1,388.7 386.2,395.2 386.3,403.0 386.3,383.9 386.4,378.3 386.5,425.7 386.6,403.2 386.6,400.9 386.7,397.9 386.8,414.1 386.9,413.4 387.0,390.5 387.0,403.7 387.1,380.2 387.2,388.1 387.3,400.7 387.3,398.8 387.4,401.8 387.5,399.9 387.6,426.7 387.6,419.0 387.7,392.5 387.8,414.5 387.9,410.2 387.9,405.2 388.0,402.7 388.1,410.0 388.2,427.8 388.2,399.4 388.3,403.9 388.4,404.5 388.5,385.9 388.5,406.1 388.6,396.3 388.7,409.3 388.8,411.0 388.8,427.7 388.9,403.9 389.0,403.3 389.1,415.4 389.1,430.3 389.2,409.0 389.3,412.9 389.4,413.9 389.4,413.1 389.5,401.3 389.6,398.2 389.7,399.4 389.7,397.9 389.8,411.1 389.9,397.3 390.0,398.5 390.1,407.7 390.1,406.1 390.2,408.8 390.3,393.0 390.4,430.0 390.4,405.3 390.5,404.9 390.6,397.8 390.7,413.2 390.7,419.8 390.8,407.5 390.9,406.7 391.0,405.0 391.0,434.2 391.1,414.9 391.2,403.2 391.3,410.1 391.3,420.7 391.4,410.2 391.5,412.0 391.6,410.6 391.6,406.4 391.7,415.3 391.8,427.8 391.9,427.1 391.9,405.4 392.0,399.3 392.1,408.2 392.2,402.7 392.2,399.2 392.3,416.7 392.4,412.9 392.5,422.0 392.5,415.1 392.6,405.0 392.7,420.5 392.8,414.4 392.8,426.1 392.9,398.4 393.0,405.8 393.1,410.8 393.2,428.2 393.2,415.6 393.3,396.9 393.4,399.7 393.5,416.6 393.5,392.4 393.6,402.5 393.7,408.8 393.8,406.3 393.8,413.8 393.9,419.8 394.0,413.6 394.1,395.7 394.1,425.8 394.2,422.7 394.3,401.1 394.4,406.8 394.4,395.2 394.5,426.9 394.6,405.4 394.7,415.8 394.7,416.6 394.8,425.7 394.9,412.4 395.0,407.1 395.0,445.6 395.1,422.5 395.2,405.2 395.3,410.4 395.3,393.8 395.4,427.6 395.5,403.8 395.6,422.8 395.6,421.5 395.7,420.5 395.8,422.5 395.9,402.6 396.0,414.2 396.0,403.7 396.1,410.3 396.2,403.3 396.3,439.4 396.3,414.7 396.4,423.7 396.5,404.7 396.6,433.0 396.6,420.9 396.7,410.6 396.8,409.3 396.9,394.8 396.9,389.4 397.0,415.1 397.1,400.5 397.2,410.0 397.2,435.9 397.3,409.3 397.4,436.3 397.5,416.5 397.5,400.2 397.6,419.6 397.7,425.7 397.8,422.0 397.8,404.9 397.9,400.4 398.0,422.9 398.1,434.8 398.1,433.3 398.2,408.9 398.3,410.4 398.4,416.4 398.4,426.0 398.5,418.5 398.6,418.4 398.7,413.5 398.7,382.9 398.8,399.3 398.9,415.4 399.0,395.6 399.1,437.5 399.1,404.4 399.2,421.6 399.3,424.7 399.4,427.2 399.4,400.4 399.5,411.8 399.6,431.8 399.7,414.9 399.7,423.7 399.8,385.6 399.9,418.6 400.0,415.9 400.0,412.5 400.1,393.3 400.2,405.4 400.3,410.9 400.3,409.6 400.4,401.1 400.5,426.8 400.6,425.2 400.6,410.0 400.7,431.3 400.8,400.3 400.9,417.8 400.9,433.4 401.0,421.1 401.1,412.6 401.2,420.2 401.2,413.1 401.3,408.0 401.4,405.3 401.5,414.6 401.5,412.7 401.6,418.1 401.7,404.6 401.8,417.6 401.9,425.5 401.9,407.3 402.0,433.0 402.1,405.7 402.2,405.7 402.2,407.1 402.3,399.8 402.4,395.9 402.5,400.3 402.5,411.1 402.6,404.4 402.7,431.4 402.8,411.7 402.8,409.1 402.9,407.3 403.0,419.4 403.1,415.2 403.1,418.0 403.2,424.0 403.3,432.3 403.4,404.0 403.4,422.7 403.5,415.3 403.6,417.8 403.7,408.0 403.7,422.1 403.8,422.0 403.9,419.2 404.0,406.0 404.0,423.1 404.1,403.9 404.2,397.3 404.3,424.4 404.3,413.6 404.4,396.7 404.5,407.0 404.6,415.3 404.6,426.4 404.7,412.6 404.8,405.8 404.9,403.0 405.0,399.6 405.0,413.8 405.1,406.2 405.2,422.5 405.3,407.1 405.3,427.6 405.4,412.8 405.5,415.7 405.6,414.1 405.6,413.7 405.7,434.1 405.8,407.3 405.9,409.6 405.9,412.7 406.0,423.1 406.1,404.1 406.2,432.3 406.2,394.1 406.3,409.2 406.4,416.7 406.5,417.5 406.5,405.0 406.6,425.9 406.7,436.9 406.8,415.5 406.8,424.5 406.9,424.4 407.0,445.8 407.1,418.6 407.1,421.3 407.2,413.1 407.3,420.5 407.4,413.4 407.4,412.3 407.5,413.8 407.6,426.9 407.7,412.8 407.8,426.3 407.8,414.9 407.9,430.1 408.0,402.7 408.1,403.5 408.1,423.6 408.2,433.8 408.3,411.2 408.4,392.4 408.4,429.4 408.5,422.1 408.6,408.2 408.7,432.8 408.7,432.3 408.8,409.7 408.9,412.3 409.0,424.4 409.0,424.5 409.1,432.6 409.2,422.5 409.3,447.6 409.3,412.4 409.4,406.3 409.5,409.5 409.6,407.8 409.6,415.0 409.7,406.9 409.8,425.7 409.9,430.2 409.9,435.3 410.0,410.6 410.1,401.7 410.2,411.9 410.2,416.9 410.3,410.8 410.4,421.7 410.5,421.9 410.5,420.2 410.6,406.1 410.7,425.8 410.8,406.0 410.9,387.8 410.9,413.6 411.0,428.8 411.1,414.8 411.2,396.1 411.2,410.4 411.3,427.6 411.4,416.1 411.5,412.7 411.5,400.0 411.6,413.2 411.7,406.2 411.8,431.1 411.8,417.5 411.9,423.4 412.0,395.5 412.1,413.9 412.1,423.4 412.2,433.6 412.3,429.1 412.4,405.0 412.4,447.5 412.5,412.4 412.6,411.0 412.7,410.8 412.7,401.7 412.8,410.6 412.9,406.7 413.0,409.2 413.0,406.5 413.1,411.4 413.2,422.4 413.3,406.4 413.3,401.0 413.4,421.0 413.5,414.1 413.6,422.4 413.7,404.0 413.7,419.0 413.8,405.1 413.9,399.4 414.0,408.9 414.0,413.1 414.1,418.0 414.2,400.9 414.3,423.1 414.3,426.8 414.4,418.3 414.5,409.7 414.6,405.0 414.6,425.9 414.7,405.3 414.8,434.7 414.9,393.8 414.9,392.7 415.0,419.8 415.1,400.5 415.2,426.5 415.2,410.2 415.3,409.5 415.4,419.1 415.5,428.1 415.5,425.4 415.6,414.0 415.7,412.5 415.8,425.6 415.8,407.9 415.9,406.1 416.0,406.8 416.1,454.0 416.1,434.4 416.2,423.7 416.3,414.6 416.4,424.7 416.4,400.6 416.5,416.2 416.6,429.5 416.7,439.2 416.8,406.8 416.8,419.1 416.9,417.8 417.0,435.6 417.1,429.7 417.1,422.5 417.2,445.3 417.3,415.8 417.4,434.6 417.4,427.1 417.5,421.0 417.6,416.7 417.7,428.2 417.7,439.3 417.8,404.8 417.9,424.0 418.0,433.2 418.0,414.4 418.1,415.3 418.2,439.0 418.3,420.9 418.3,419.5 418.4,428.5 418.5,427.2 418.6,430.5 418.6,430.6 418.7,440.3 418.8,428.9 418.9,434.7 418.9,416.5 419.0,427.6 419.1,419.6 419.2,441.0 419.2,428.9 419.3,438.6 419.4,423.5 419.5,416.0 419.5,434.3 419.6,424.5 419.7,410.4 419.8,423.1 419.9,418.1 419.9,441.4 420.0,425.7 420.1,434.2 420.2,432.4 420.2,440.0 420.3,432.2 420.4,432.8 420.5,431.9 420.5,413.4 420.6,427.7 420.7,414.8 420.8,415.0 420.8,428.1 420.9,408.7 421.0,424.5 421.1,437.1 421.1,425.8 421.2,434.2 421.3,415.1 421.4,425.6 421.4,398.4 421.5,414.0 421.6,418.3 421.7,444.0 421.7,446.4 421.8,405.2 421.9,421.2 422.0,417.8 422.0,442.5 422.1,434.8 422.2,422.2 422.3,434.5 422.3,438.6 422.4,419.2 422.5,436.6 422.6,432.3 422.7,434.5 422.7,408.7 422.8,425.8 422.9,401.6 423.0,430.1 423.0,418.5 423.1,441.1 423.2,442.2 423.3,409.1 423.3,443.5 423.4,422.6 423.5,437.8 423.6,429.1 423.6,421.3 423.7,425.0 423.8,422.6 423.9,442.9 423.9,428.7 424.0,417.1 424.1,434.9 424.2,422.8 424.2,433.4 424.3,419.7 424.4,431.7 424.5,418.1 424.5,419.6 424.6,431.5 424.7,437.5 424.8,430.0 424.8,427.5 424.9,456.3 425.0,427.3 425.1,401.1 425.1,434.8 425.2,422.5 425.3,412.7 425.4,439.7 425.4,437.6 425.5,424.6 425.6,423.4 425.7,428.6 425.8,439.8 425.8,418.9 425.9,443.3 426.0,431.7 426.1,433.6 426.1,445.8 426.2,426.4 426.3,436.2 426.4,429.9 426.4,397.5 426.5,427.6 426.6,429.7 426.7,427.5 426.7,442.4 426.8,423.8 426.9,434.5 427.0,432.8 427.0,433.9 427.1,410.7 427.2,424.2 427.3,423.9 427.3,446.2 427.4,425.3 427.5,435.7 427.6,431.7 427.6,414.0 427.7,416.9 427.8,431.8 427.9,436.8 427.9,445.9 428.0,426.2 428.1,415.2 428.2,428.2 428.2,414.2 428.3,443.6 428.4,425.4 428.5,428.4 428.6,448.9 428.6,433.5 428.7,415.2 428.8,433.8 428.9,421.9 428.9,415.6 429.0,419.9 429.1,413.8 429.2,434.6 429.2,419.7 429.3,424.6 429.4,440.1 429.5,426.9 429.5,424.0 429.6,430.6 429.7,423.2 429.8,430.1 429.8,427.2 429.9,438.9 430.0,425.8 430.1,420.2 430.1,425.5 430.2,406.5 430.3,428.1 430.4,438.4 430.4,450.8 430.5,433.9 430.6,443.5 430.7,410.2 430.7,444.6 430.8,435.0 430.9,443.2 431.0,425.0 431.0,434.9 431.1,432.4 431.2,425.8 431.3,429.3 431.3,446.4 431.4,414.2 431.5,426.9 431.6,435.6 431.7,445.6 431.7,418.9 431.8,416.4 431.9,409.0 432.0,433.8 432.0,428.6 432.1,430.3 432.2,429.6 432.3,411.7 432.3,442.3 432.4,440.8 432.5,416.6 432.6,423.1 432.6,420.5 432.7,422.4 432.8,450.5 432.9,441.3 432.9,419.7 433.0,452.8 433.1,436.4 433.2,433.4 433.2,422.9 433.3,423.7 433.4,430.0 433.5,462.7 433.5,420.6 433.6,424.2 433.7,441.5 433.8,434.0 433.8,423.7 433.9,461.4 434.0,429.7 434.1,425.8 434.1,430.2 434.2,438.5 434.3,439.7 434.4,443.1 434.5,435.9 434.5,428.2 434.6,448.1 434.7,431.2 434.8,427.0 434.8,441.0 434.9,446.0 435.0,428.2 435.1,428.1 435.1,431.4 435.2,425.1 435.3,429.3 435.4,441.5 435.4,440.3 435.5,407.2 435.6,449.4 435.7,448.3 435.7,421.6 435.8,449.1 435.9,419.4 436.0,449.3 436.0,424.5 436.1,439.4 436.2,436.4 436.3,440.7 436.3,420.0 436.4,450.7 436.5,442.4 436.6,432.0 436.6,439.3 436.7,420.1 436.8,439.4 436.9,427.5 436.9,430.5 437.0,393.4 437.1,400.2 437.2,370.5 437.2,390.6 437.3,373.8 437.4,368.0 437.5,384.9 437.6,370.8 437.6,386.0 437.7,357.9 437.8,362.1 437.9,375.7 437.9,343.3 438.0,357.9 438.1,371.1 438.2,346.8 438.2,376.6 438.3,358.1 438.4,381.3 438.5,362.3 438.5,390.5 438.6,349.3 438.7,387.1 438.8,352.6 438.8,389.8 438.9,371.6 439.0,347.8 439.1,380.5 439.1,365.6 439.2,370.6 439.3,372.5 439.4,383.9 439.4,368.3 439.5,381.3 439.6,360.6 439.7,366.9 439.7,380.5 439.8,390.7 439.9,375.0 440.0,371.6 440.0,353.3 440.1,344.0 440.2,356.8 440.3,413.9 440.3,370.6 440.4,359.8 440.5,375.9 440.6,381.9 440.7,375.9 440.7,368.8 440.8,376.1 440.9,383.7 441.0,368.7 441.0,365.8 441.1,379.2 441.2,379.2 441.3,351.0 441.3,408.5 441.4,390.4 441.5,399.6 441.6,391.9 441.6,359.6 441.7,405.0 441.8,357.7 441.9,370.3 441.9,382.4 442.0,370.7 442.1,388.1 442.2,390.9 442.2,378.1 442.3,401.7 442.4,360.0 442.5,384.7 442.5,389.6 442.6,393.5 442.7,391.7 442.8,359.7 442.8,388.1 442.9,376.0 443.0,382.7 443.1,387.4 443.1,396.5 443.2,375.3 443.3,387.5 443.4,395.0 443.5,392.6 443.5,393.0 443.6,361.9 443.7,387.4 443.8,395.8 443.8,376.6 443.9,387.5 444.0,377.1 444.1,390.9 444.1,386.2 444.2,371.0 444.3,389.2 444.4,388.3 444.4,365.6 444.5,379.2 444.6,378.0 444.7,366.2 444.7,395.9 444.8,373.2 444.9,403.9 445.0,355.3 445.0,380.3 445.1,365.1 445.2,387.1 445.3,378.7 445.3,394.6 445.4,403.9 445.5,359.8 445.6,383.7 445.6,380.6 445.7,375.3 445.8,372.2 445.9,381.5 445.9,390.1 446.0,391.3 446.1,397.2 446.2,383.2 446.2,397.1 446.3,392.9 446.4,397.7 446.5,397.3 446.6,393.0 446.6,396.9 446.7,376.5 446.8,359.0 446.9,365.7 446.9,391.2 447.0,363.0 447.1,378.8 447.2,402.5 447.2,395.2 447.3,406.8 447.4,371.5 447.5,379.7 447.5,391.6 447.6,397.9 447.7,405.0 447.8,391.2 447.8,406.5 447.9,403.3 448.0,389.4 448.1,405.3 448.1,386.9 448.2,393.7 448.3,373.7 448.4,376.9 448.4,378.1 448.5,391.3 448.6,372.6 448.7,364.0 448.7,385.1 448.8,420.5 448.9,388.4 449.0,374.3 449.0,382.4 449.1,394.2 449.2,401.3 449.3,392.8 449.4,410.6 449.4,398.4 449.5,375.4 449.6,403.1 449.7,380.4 449.7,403.7 449.8,391.2 449.9,362.3 450.0,363.4 450.0,418.6 450.1,390.8 450.2,403.4 450.3,396.5 450.3,408.3 450.4,398.9 450.5,390.1 450.6,375.8 450.6,407.5 450.7,403.1 450.8,402.2 450.9,379.2 450.9,403.4 451.0,364.9 451.1,396.4 451.2,389.4 451.2,389.1 451.3,350.8 451.4,415.0 451.5,374.5 451.5,378.1 451.6,383.1 451.7,380.5 451.8,363.8 451.8,397.6 451.9,385.8 452.0,391.1 452.1,368.2 452.1,393.4 452.2,389.4 452.3,407.8 452.4,389.0 452.5,363.0 452.5,390.4 452.6,394.5 452.7,394.0 452.8,399.7 452.8,378.8 452.9,391.0 453.0,375.5 453.1,397.5 453.1,426.0 453.2,376.3 453.3,371.2 453.4,371.4 453.4,385.6 453.5,395.4 453.6,385.8 453.7,364.9 453.7,391.9 453.8,397.0 453.9,407.3 454.0,385.1 454.0,367.3 454.1,400.8 454.2,383.6 454.3,369.7 454.3,387.0 454.4,389.9 454.5,392.4 454.6,377.2 454.6,382.2 454.7,388.6 454.8,393.0 454.9,394.5 454.9,371.7 455.0,402.2 455.1,370.8 455.2,393.5 455.3,388.7 455.3,352.2 455.4,378.3 455.5,387.8 455.6,393.0 455.6,386.5 455.7,395.3 455.8,388.2 455.9,385.7 455.9,401.1 456.0,440.4 456.1,384.4 456.2,386.3 456.2,397.2 456.3,380.5 456.4,402.1 456.5,390.3 456.5,415.5 456.6,376.9 456.7,392.7 456.8,378.7 456.8,396.7 456.9,382.3 457.0,374.9 457.1,379.7 457.1,382.5 457.2,393.0 457.3,379.0 457.4,400.3 457.4,388.8 457.5,389.1 457.6,387.5 457.7,392.5 457.7,414.8 457.8,380.3 457.9,392.4 458.0,395.1 458.0,398.5 458.1,385.5 458.2,362.9 458.3,401.8 458.4,401.5 458.4,405.4 458.5,400.8 458.6,379.7 458.7,411.5 458.7,390.0 458.8,399.9 458.9,421.4 459.0,410.7 459.0,384.1 459.1,396.4 459.2,413.9 459.3,407.6 459.3,393.9 459.4,384.6 459.5,383.7 459.6,390.8 459.6,397.7 459.7,411.8 459.8,410.1 459.9,372.4 459.9,388.9 460.0,383.3 460.1,386.0 460.2,402.0 460.2,393.9 460.3,380.4 460.4,414.8 460.5,385.7 460.5,380.6 460.6,388.3 460.7,419.2 460.8,405.4 460.8,386.9 460.9,399.4 461.0,383.2 461.1,407.9 461.2,400.4 461.2,365.2 461.3,398.1 461.4,411.1 461.5,376.8 461.5,362.9 461.6,357.0 461.7,368.1 461.8,376.8 461.8,408.0 461.9,392.6 462.0,414.9 462.1,407.0 462.1,392.3 462.2,381.5 462.3,388.4 462.4,414.6 462.4,409.9 462.5,401.9 462.6,403.1 462.7,395.8 462.7,389.0 462.8,393.6 462.9,392.8 463.0,387.6 463.0,400.6 463.1,425.2 463.2,373.2 463.3,405.1 463.3,398.1 463.4,382.4 463.5,402.5 463.6,427.1 463.6,379.6 463.7,399.9 463.8,382.2 463.9,412.5 463.9,405.5 464.0,400.0 464.1,395.9 464.2,410.4 464.3,412.2 464.3,385.6 464.4,378.3 464.5,396.2 464.6,410.4 464.6,396.8 464.7,421.1 464.8,399.4 464.9,394.0 464.9,404.2 465.0,382.5 465.1,387.7 465.2,394.4 465.2,391.7 465.3,421.7 465.4,412.8 465.5,403.8 465.5,395.3 465.6,414.4 465.7,416.3 465.8,396.6 465.8,382.2 465.9,405.3 466.0,397.3 466.1,394.4 466.1,399.9 466.2,413.0 466.3,397.3 466.4,398.7 466.4,393.3 466.5,390.3 466.6,387.2 466.7,409.1 466.7,401.4 466.8,394.7 466.9,396.5 467.0,405.6 467.0,408.8 467.1,401.6 467.2,403.0 467.3,431.0 467.4,390.5 467.4,381.2 467.5,427.8 467.6,408.8 467.7,419.5 467.7,388.2 467.8,431.0 467.9,419.9 468.0,422.7 468.0,407.0 468.1,416.2 468.2,404.9 468.3,389.4 468.3,386.6 468.4,382.3 468.5,393.6 468.6,416.1 468.6,397.8 468.7,427.3 468.8,416.7 468.9,413.3 468.9,390.5 469.0,400.6 469.1,412.8 469.2,391.8 469.2,414.2 469.3,417.9 469.4,410.0 469.5,384.6 469.5,407.2 469.6,387.4 469.7,422.7 469.8,395.4 469.8,396.1 469.9,400.5 470.0,396.1 470.1,414.7 470.2,407.5 470.2,428.0 470.3,383.9 470.4,403.8 470.5,408.0 470.5,401.3 470.6,387.4 470.7,387.5 470.8,408.7 470.8,394.1 470.9,379.5 471.0,386.8 471.1,406.4 471.1,410.3 471.2,402.5 471.3,412.4 471.4,404.9 471.4,407.3 471.5,387.2 471.6,394.4 471.7,414.7 471.7,407.7 471.8,411.9 471.9,417.7 472.0,372.5 472.0,412.8 472.1,413.9 472.2,406.4 472.3,408.5 472.3,389.4 472.4,412.7 472.5,411.6 472.6,408.0 472.6,415.0 472.7,424.8 472.8,408.1 472.9,400.1 472.9,406.9 473.0,423.2 473.1,416.4 473.2,405.1 473.3,405.8 473.3,410.9 473.4,390.9 473.5,394.6 473.6,412.3 473.6,410.9 473.7,400.2 473.8,383.4 473.9,402.1 473.9,422.8 474.0,402.8 474.1,407.6 474.2,402.5 474.2,391.3 474.3,377.0 474.4,395.4 474.5,454.7 474.5,397.9 474.6,412.8 474.7,407.8 474.8,424.5 474.8,397.8 474.9,387.9 475.0,377.8 475.1,423.7 475.1,415.8 475.2,376.2 475.3,409.2 475.4,395.6 475.4,405.6 475.5,397.1 475.6,410.1 475.7,428.2 475.7,410.6 475.8,412.2 475.9,411.1 476.0,408.4 476.1,403.6 476.1,420.0 476.2,427.1 476.3,416.8 476.4,408.5 476.4,416.8 476.5,419.5 476.6,410.3 476.7,398.3 476.7,417.7 476.8,391.6 476.9,416.0 477.0,396.8 477.0,396.0 477.1,406.0 477.2,397.5 477.3,408.0 477.3,418.9 477.4,405.7 477.5,413.0 477.6,424.5 477.6,409.2 477.7,404.6 477.8,413.9 477.9,413.6 477.9,390.8 478.0,406.9 478.1,395.3 478.2,426.2 478.2,395.4 478.3,401.4 478.4,410.1 478.5,378.7 478.5,384.4 478.6,400.8 478.7,405.1 478.8,389.8 478.8,408.0 478.9,414.0 479.0,414.4 479.1,428.0 479.2,417.0 479.2,405.4 479.3,425.6 479.4,423.2 479.5,405.3 479.5,400.1 479.6,416.4 479.7,416.2 479.8,429.9 479.8,414.5 479.9,425.0 480.0,427.6 480.1,416.0 480.1,422.3 480.2,394.7 480.3,400.5 480.4,412.8 480.4,370.8 480.5,410.6 480.6,414.8 480.7,396.1 480.7,428.1 480.8,418.3 480.9,422.8 481.0,388.4 481.0,399.3 481.1,390.3 481.2,397.9 481.3,413.9 481.3,415.8 481.4,425.0 481.5,402.1 481.6,423.8 481.6,401.5 481.7,419.1 481.8,425.3 481.9,398.6 482.0,407.6 482.0,419.1 482.1,420.4 482.2,397.3 482.3,391.8 482.3,396.0 482.4,419.2 482.5,421.1 482.6,415.9 482.6,422.5 482.7,422.5 482.8,416.2 482.9,430.5 482.9,387.6 483.0,394.9 483.1,397.6 483.2,416.4 483.2,386.2 483.3,418.1 483.4,433.1 483.5,433.8 483.5,390.1 483.6,420.3 483.7,414.9 483.8,431.3 483.8,411.2 483.9,416.5 484.0,395.5 484.1,426.0 484.1,434.9 484.2,415.6 484.3,385.8 484.4,405.6 484.4,398.2 484.5,418.7 484.6,410.4 484.7,423.1 484.7,421.3 484.8,420.3 484.9,429.9 485.0,401.1 485.1,430.7 485.1,410.7 485.2,403.5 485.3,427.8 485.4,423.6 485.4,430.6 485.5,433.6 485.6,412.9 485.7,428.5 485.7,400.5 485.8,418.7 485.9,413.0 486.0,405.1 486.0,396.4 486.1,422.2 486.2,394.3 486.3,409.8 486.3,438.8 486.4,438.5 486.5,424.1 486.6,413.0 486.6,439.0 486.7,415.6 486.8,420.6 486.9,426.5 486.9,403.7 487.0,395.5 487.1,391.6 487.2,372.2 487.2,401.2 487.3,411.4 487.4,426.5 487.5,413.1 487.5,407.4 487.6,425.5 487.7,403.6 487.8,432.4 487.9,423.4 487.9,436.4 488.0,424.2 488.1,420.9 488.2,425.7 488.2,425.3 488.3,427.7 488.4,422.9 488.5,431.4 488.5,409.6 488.6,436.3 488.7,413.7 488.8,447.9 488.8,409.6 488.9,419.9 489.0,448.8 489.1,434.6 489.1,409.6 489.2,434.8 489.3,420.5 489.4,407.5 489.4,442.4 489.5,424.3 489.6,449.5 489.7,420.0 489.7,424.3 489.8,437.2 489.9,413.2 490.0,380.0 490.0,396.7 490.1,434.8 490.2,440.7 490.3,436.8 490.3,423.9 490.4,406.5 490.5,442.5 490.6,414.2 490.6,420.5 490.7,443.3 490.8,431.2 490.9,431.8 491.0,451.6 491.0,418.7 491.1,434.6 491.2,406.8 491.3,419.0 491.3,419.4 491.4,423.0 491.5,422.3 491.6,398.7 491.6,409.4 491.7,429.0 491.8,402.8 491.9,434.7 491.9,438.8 492.0,400.0 492.1,401.7 492.2,444.4 492.2,432.9 492.3,410.8 492.4,412.0 492.5,414.6 492.5,426.4 492.6,403.0 492.7,438.3 492.8,408.2 492.8,411.2 492.9,422.6 493.0,431.7 493.1,419.9 493.1,422.9 493.2,440.6 493.3,420.6 493.4,419.2 493.4,432.9 493.5,428.5 493.6,419.7 493.7,407.2 493.7,428.5 493.8,428.0 493.9,430.6 494.0,413.2 494.1,400.2 494.1,404.2 494.2,450.9 494.3,414.0 494.4,411.3 494.4,413.9 494.5,401.8 494.6,406.7 494.7,429.3 494.7,432.9 494.8,407.3 494.9,417.4 495.0,415.7 495.0,423.7 495.1,414.7 495.2,436.4 495.3,412.5 495.3,411.6 495.4,404.7 495.5,422.6 495.6,427.6 495.6,399.0 495.7,427.1 495.8,407.9 495.9,429.1 495.9,424.1 496.0,385.7 496.1,394.8 496.2,419.2 496.2,423.3 496.3,419.7 496.4,407.2 496.5,422.4 496.5,387.7 496.6,430.0 496.7,423.1 496.8,411.7 496.9,427.8 496.9,400.5 497.0,423.9 497.1,425.9 497.2,415.8 497.2,425.5 497.3,412.4 497.4,441.9 497.5,388.1 497.5,416.1 497.6,423.8 497.7,430.0 497.8,439.9 497.8,417.8 497.9,409.5 498.0,420.1 498.1,412.0 498.1,419.5 498.2,410.8 498.3,394.9 498.4,433.7 498.4,403.8 498.5,426.9 498.6,430.0 498.7,414.2 498.7,433.0 498.8,401.3 498.9,407.9 499.0,418.8 499.0,430.6 499.1,407.0 499.2,404.0 499.3,422.8 499.3,425.8 499.4,401.4 499.5,430.0 499.6,439.8 499.6,426.6 499.7,429.3 499.8,435.2 499.9,407.1 500.0,424.6 500.0,408.0 500.1,420.1 500.2,418.0 500.3,412.0 500.3,399.7 500.4,402.6 500.5,393.3 500.6,402.5 500.6,406.0 500.7,428.9 500.8,422.6 500.9,421.4 500.9,403.2 501.0,404.3 501.1,411.7 501.2,427.5 501.2,394.1 501.3,402.2 501.4,419.8 501.5,411.1 501.5,427.9 501.6,414.8 501.7,405.6 501.8,407.0 501.8,406.4 501.9,410.1 502.0,427.3 502.1,410.9 502.1,409.0 502.2,390.9 502.3,418.2 502.4,437.7 502.4,421.5 502.5,407.9 502.6,427.3 502.7,411.6 502.8,421.0 502.8,420.2 502.9,434.2 503.0,433.5 503.1,416.7 503.1,419.3 503.2,405.2 503.3,405.8 503.4,418.1 503.4,418.5 503.5,400.4 503.6,418.8 503.7,408.8 503.7,426.4 503.8,398.8 503.9,425.2 504.0,413.8 504.0,402.0 504.1,414.6 504.2,407.6 504.3,395.0 504.3,394.5 504.4,425.0 504.5,411.4 504.6,423.9 504.6,433.7 504.7,409.2 504.8,407.7 504.9,392.4 504.9,416.0 505.0,399.9 505.1,394.5 505.2,410.9 505.2,423.9 505.3,416.4 505.4,391.4 505.5,440.5 505.5,428.4 505.6,418.6 505.7,429.2 505.8,409.9 505.9,419.6 505.9,425.8 506.0,414.7 506.1,432.2 506.2,406.3 506.2,418.0 506.3,416.4 506.4,397.6 506.5,401.0 506.5,397.4 506.6,432.9 506.7,416.7 506.8,395.7 506.8,407.3 506.9,400.7 507.0,432.0 507.1,395.4 507.1,431.4 507.2,407.3 507.3,419.4 507.4,405.4 507.4,386.3 507.5,427.6 507.6,422.6 507.7,420.3 507.7,421.1 507.8,429.2 507.9,385.7 508.0,374.3 508.0,375.1 508.1,400.0 508.2,405.3 508.3,398.4 508.3,425.6 508.4,402.3 508.5,425.7 508.6,420.9 508.7,419.1 508.7,395.4 508.8,430.9 508.9,395.2 509.0,424.6 509.0,392.6 509.1,424.6 509.2,413.8 509.3,410.7 509.3,422.2 509.4,418.7 509.5,412.0 509.6,415.6 509.6,388.4 509.7,423.0 509.8,404.9 509.9,423.7 509.9,412.1 510.0,426.5 510.1,404.5 510.2,404.1 510.2,419.2 510.3,411.7 510.4,402.8 510.5,419.0 510.5,400.2 510.6,402.8 510.7,415.6 510.8,412.0 510.8,412.0 510.9,416.3 511.0,400.3 511.1,416.1 511.1,413.0 511.2,414.1 511.3,410.2 511.4,390.5 511.4,426.7 511.5,390.3 511.6,407.2 511.7,416.3 511.8,435.7 511.8,397.0 511.9,418.0 512.0,415.4 512.1,417.9 512.1,402.2 512.2,424.2 512.3,404.8 512.4,407.3 512.4,410.1 512.5,419.5 512.6,403.7 512.7,414.1 512.7,412.7 512.8,409.5 512.9,395.8 513.0,413.8 513.0,418.9 513.1,415.8 513.2,428.4 513.3,413.3 513.3,427.9 513.4,418.3 513.5,418.2 513.6,431.4 513.6,415.3 513.7,406.7 513.8,426.8 513.9,420.9 513.9,403.2 514.0,405.8 514.1,420.9 514.2,425.0 514.2,411.6 514.3,426.0 514.4,410.3 514.5,431.5 514.6,388.4 514.6,426.0 514.7,425.6 514.8,418.8 514.9,401.0 514.9,415.1 515.0,398.7 515.1,428.8 515.2,394.3 515.2,418.1 515.3,405.8 515.4,390.3 515.5,417.3 515.5,440.0 515.6,433.3 515.7,409.5 515.8,418.2 515.8,422.5 515.9,434.7 516.0,418.9 516.1,438.0 516.1,417.3 516.2,423.4 516.3,419.1 516.4,417.8 516.4,422.2 516.5,417.9 516.6,447.0 516.7,397.2 516.7,442.7 516.8,432.8 516.9,425.3 517.0,437.3 517.0,437.3 517.1,412.0 517.2,404.1 517.3,455.1 517.3,433.7 517.4,428.3 517.5,455.8 517.6,419.3 517.7,415.3 517.7,436.3 517.8,425.4 517.9,420.1 518.0,413.9 518.0,425.2 518.1,408.3 518.2,440.2 518.3,408.1 518.3,413.5 518.4,418.2 518.5,383.2 518.6,444.6 518.6,413.1 518.7,432.5 518.8,408.1 518.9,458.2 518.9,430.2 519.0,435.4 519.1,422.6 519.2,430.9 519.2,412.8 519.3,420.9 519.4,430.1 519.5,406.3 519.5,414.9 519.6,442.0 519.7,436.3 519.8,424.6 519.8,437.3 519.9,426.6 520.0,442.4 520.1,418.8 520.1,407.4 520.2,417.8 520.3,447.2 520.4,407.9 520.4,422.0 520.5,426.6 520.6,422.8 520.7,429.0 520.8,418.4 520.8,430.7 520.9,420.5 521.0,436.9 521.1,416.4 521.1,399.3 521.2,452.0 521.3,443.1 521.4,423.0 521.4,423.5 521.5,414.7 521.6,448.4 521.7,412.1 521.7,436.2 521.8,432.9 521.9,416.6 522.0,445.4 522.0,409.7 522.1,432.2 522.2,424.1 522.3,429.3 522.3,401.4 522.4,421.6 522.5,432.5 522.6,407.2 522.6,429.2 522.7,438.9 522.8,436.9 522.9,409.5 522.9,438.8 523.0,410.4 523.1,434.4 523.2,401.0 523.2,416.8 523.3,403.7 523.4,446.0 523.5,433.9 523.6,408.0 523.6,410.6 523.7,433.8 523.8,428.7 523.9,420.1 523.9,424.3 524.0,428.6 524.1,418.9 524.2,401.7 524.2,412.3 524.3,429.9 524.4,432.3 524.5,436.7 524.5,435.8 524.6,424.4 524.7,422.6 524.8,443.8 524.8,419.5 524.9,417.4 525.0,443.2 525.1,435.7 525.1,415.1 525.2,403.4 525.3,407.0 525.4,431.5 525.4,418.0 525.5,432.5 525.6,402.1 525.7,435.1 525.7,416.8 525.8,427.9 525.9,450.3 526.0,431.5 526.0,437.2 526.1,411.9 526.2,415.3 526.3,407.8 526.3,438.7 526.4,414.6 526.5,430.4 526.6,446.8 526.7,412.2 526.7,425.7 526.8,407.3 526.9,432.5 527.0,424.0 527.0,437.7 527.1,430.8 527.2,439.9 527.3,407.0 527.3,412.2 527.4,436.1 527.5,431.0 527.6,422.7 527.6,416.2 527.7,419.5 527.8,412.5 527.9,431.0 527.9,413.7 528.0,425.1 528.1,407.8 528.2,442.0 528.2,427.2 528.3,421.3 528.4,418.1 528.5,407.7 528.5,429.6 528.6,434.7 528.7,445.1 528.8,424.9 528.8,409.6 528.9,415.0 529.0,428.4 529.1,415.8 529.1,406.0 529.2,442.2 529.3,417.1 529.4,420.5 529.5,450.6 529.5,413.1 529.6,432.9 529.7,436.5 529.8,426.3 529.8,421.3 529.9,421.0 530.0,428.0 530.1,416.3 530.1,441.6 530.2,448.2 530.3,398.1 530.4,435.0 530.4,425.6 530.5,428.0 530.6,431.2 530.7,425.1 530.7,430.3 530.8,415.3 530.9,437.0 531.0,439.4 531.0,433.6 531.1,441.8 531.2,420.2 531.3,437.2 531.3,442.1 531.4,406.4 531.5,429.9 531.6,422.1 531.6,420.7 531.7,450.1 531.8,428.4 531.9,434.9 531.9,427.4 532.0,430.7 532.1,464.0 532.2,443.5 532.2,422.6 532.3,432.1 532.4,430.5 532.5,424.0 532.6,426.9 532.6,425.7 532.7,433.9 532.8,442.8 532.9,415.5 532.9,420.6 533.0,423.1 533.1,438.5 533.2,416.0 533.2,418.6 533.3,436.6 533.4,415.9 533.5,405.0 533.5,439.3 533.6,422.2 533.7,464.9 533.8,418.2 533.8,409.4 533.9,408.7 534.0,454.7 534.1,454.2 534.1,446.4 534.2,451.9 534.3,425.1 534.4,431.6 534.4,402.0 534.5,425.6 534.6,437.3 534.7,426.4 534.7,456.8 534.8,416.4 534.9,431.1 535.0,419.6 535.0,422.8 535.1,418.9 535.2,427.0 535.3,405.8 535.4,437.3 535.4,424.7 535.5,415.9 535.6,409.4 535.7,428.5 535.7,424.4 535.8,426.0 535.9,420.1 536.0,439.7 536.0,442.5 536.1,418.1 536.2,447.4 536.3,435.4 536.3,428.2 536.4,436.9 536.5,421.5 536.6,434.0 536.6,427.4 536.7,442.2 536.8,422.6 536.9,429.7 536.9,436.9 537.0,439.0 537.1,401.4 537.2,450.0 537.2,424.5 537.3,421.8 537.4,431.9 537.5,409.1 537.5,411.7 537.6,422.4 537.7,411.1 537.8,446.4 537.8,426.9 537.9,428.0 538.0,431.2 538.1,438.3 538.1,437.4 538.2,421.2 538.3,444.1 538.4,442.6 538.5,455.1 538.5,432.0 538.6,429.7 538.7,423.9 538.8,414.4 538.8,427.1 538.9,413.1 539.0,426.8 539.1,446.8 539.1,442.9 539.2,449.7 539.3,412.4 539.4,441.4 539.4,434.0 539.5,433.5 539.6,442.0 539.7,433.1 539.7,432.5 539.8,420.0 539.9,453.9 540.0,426.4 540.0,440.8 540.1,422.3 540.2,420.4 540.3,436.6 540.3,426.9 540.4,441.7 540.5,431.7 540.6,438.1 540.6,444.5 540.7,421.9 540.8,438.2 540.9,403.4 540.9,421.6 541.0,422.5 541.1,414.2 541.2,429.9 541.3,424.0 541.3,416.3 541.4,449.8 541.5,425.4 541.6,426.3 541.6,423.0 541.7,438.2 541.8,434.3 541.9,424.5 541.9,459.3 542.0,444.3 542.1,433.2 542.2,406.4 542.2,432.7 542.3,427.6 542.4,423.5 542.5,417.7 542.5,441.5 542.6,444.0 542.7,424.2 542.8,411.1 542.8,412.6 542.9,427.2 543.0,418.0 543.1,425.9 543.1,439.5 543.2,438.9 543.3,428.1 543.4,412.9 543.4,439.0 543.5,435.8 543.6,418.5 543.7,433.5 543.7,440.2 543.8,453.7 543.9,433.9 544.0,441.0 544.0,428.0 544.1,437.6 544.2,433.1" fill="none" stroke="#EF553B" stroke-width="0.55" stroke-opacity="0.95" stroke-linejoin="round" clip-path="url(#cF)"/>
<line x1="309.6" y1="336.3" x2="309.6" y2="466.9" stroke="#6a6a6a" stroke-width="1"/>
<line x1="309.1" y1="466.9" x2="544.9" y2="466.9" stroke="#6a6a6a" stroke-width="1"/>
<line x1="544.4" y1="336.3" x2="544.4" y2="466.9" stroke="#8a8a8a" stroke-width="0.8"/>
<line x1="309.1" y1="336.3" x2="544.9" y2="336.3" stroke="#6a6a6a" stroke-width="1"/>
<line x1="310.0" y1="466.9" x2="310.0" y2="465.29999999999995" stroke="#6a6a6a" stroke-width="0.6"/>
<line x1="310.0" y1="336.3" x2="310.0" y2="337.90000000000003" stroke="#6a6a6a" stroke-width="0.6"/>
<text x="310.0" y="473.0" font-size="5.3" fill="#6e7382" text-anchor="middle" textLength="2.36" lengthAdjust="spacingAndGlyphs">0</text>
<line x1="347.8" y1="466.9" x2="347.8" y2="465.29999999999995" stroke="#6a6a6a" stroke-width="0.6"/>
<line x1="347.8" y1="336.3" x2="347.8" y2="337.90000000000003" stroke="#6a6a6a" stroke-width="0.6"/>
<text x="347.8" y="473.0" font-size="5.3" fill="#6e7382" text-anchor="middle" textLength="7.08" lengthAdjust="spacingAndGlyphs">500</text>
<line x1="385.5" y1="466.9" x2="385.5" y2="465.29999999999995" stroke="#6a6a6a" stroke-width="0.6"/>
<line x1="385.5" y1="336.3" x2="385.5" y2="337.90000000000003" stroke="#6a6a6a" stroke-width="0.6"/>
<text x="385.5" y="473.0" font-size="5.3" fill="#6e7382" text-anchor="middle" textLength="9.43" lengthAdjust="spacingAndGlyphs">1000</text>
<line x1="423.2" y1="466.9" x2="423.2" y2="465.29999999999995" stroke="#6a6a6a" stroke-width="0.6"/>
<line x1="423.2" y1="336.3" x2="423.2" y2="337.90000000000003" stroke="#6a6a6a" stroke-width="0.6"/>
<text x="423.2" y="473.0" font-size="5.3" fill="#6e7382" text-anchor="middle" textLength="9.43" lengthAdjust="spacingAndGlyphs">1500</text>
<line x1="461.0" y1="466.9" x2="461.0" y2="465.29999999999995" stroke="#6a6a6a" stroke-width="0.6"/>
<line x1="461.0" y1="336.3" x2="461.0" y2="337.90000000000003" stroke="#6a6a6a" stroke-width="0.6"/>
<text x="461.0" y="473.0" font-size="5.3" fill="#6e7382" text-anchor="middle" textLength="9.43" lengthAdjust="spacingAndGlyphs">2000</text>
<line x1="498.8" y1="466.9" x2="498.8" y2="465.29999999999995" stroke="#6a6a6a" stroke-width="0.6"/>
<line x1="498.8" y1="336.3" x2="498.8" y2="337.90000000000003" stroke="#6a6a6a" stroke-width="0.6"/>
<text x="498.8" y="473.0" font-size="5.3" fill="#6e7382" text-anchor="middle" textLength="9.43" lengthAdjust="spacingAndGlyphs">2500</text>
<line x1="536.5" y1="466.9" x2="536.5" y2="465.29999999999995" stroke="#6a6a6a" stroke-width="0.6"/>
<line x1="536.5" y1="336.3" x2="536.5" y2="337.90000000000003" stroke="#6a6a6a" stroke-width="0.6"/>
<text x="536.5" y="473.0" font-size="5.3" fill="#6e7382" text-anchor="middle" textLength="9.43" lengthAdjust="spacingAndGlyphs">3000</text>
<line x1="309.6" y1="465.3" x2="311.20000000000005" y2="465.3" stroke="#6a6a6a" stroke-width="0.6"/>
<line x1="544.4" y1="465.3" x2="542.8" y2="465.3" stroke="#6a6a6a" stroke-width="0.6"/>
<text x="308.2" y="467.05" font-size="5.3" fill="#6e7382" text-anchor="end" textLength="5.90" lengthAdjust="spacingAndGlyphs">0.7</text>
<line x1="309.6" y1="448.8" x2="311.20000000000005" y2="448.8" stroke="#6a6a6a" stroke-width="0.6"/>
<line x1="544.4" y1="448.8" x2="542.8" y2="448.8" stroke="#6a6a6a" stroke-width="0.6"/>
<text x="308.2" y="450.55" font-size="5.3" fill="#6e7382" text-anchor="end" textLength="8.25" lengthAdjust="spacingAndGlyphs">0.75</text>
<line x1="309.6" y1="432.3" x2="311.20000000000005" y2="432.3" stroke="#6a6a6a" stroke-width="0.6"/>
<line x1="544.4" y1="432.3" x2="542.8" y2="432.3" stroke="#6a6a6a" stroke-width="0.6"/>
<text x="308.2" y="434.05" font-size="5.3" fill="#6e7382" text-anchor="end" textLength="5.90" lengthAdjust="spacingAndGlyphs">0.8</text>
<line x1="309.6" y1="415.8" x2="311.20000000000005" y2="415.8" stroke="#6a6a6a" stroke-width="0.6"/>
<line x1="544.4" y1="415.8" x2="542.8" y2="415.8" stroke="#6a6a6a" stroke-width="0.6"/>
<text x="308.2" y="417.55" font-size="5.3" fill="#6e7382" text-anchor="end" textLength="8.25" lengthAdjust="spacingAndGlyphs">0.85</text>
<line x1="309.6" y1="399.3" x2="311.20000000000005" y2="399.3" stroke="#6a6a6a" stroke-width="0.6"/>
<line x1="544.4" y1="399.3" x2="542.8" y2="399.3" stroke="#6a6a6a" stroke-width="0.6"/>
<text x="308.2" y="401.05" font-size="5.3" fill="#6e7382" text-anchor="end" textLength="5.90" lengthAdjust="spacingAndGlyphs">0.9</text>
<line x1="309.6" y1="382.8" x2="311.20000000000005" y2="382.8" stroke="#6a6a6a" stroke-width="0.6"/>
<line x1="544.4" y1="382.8" x2="542.8" y2="382.8" stroke="#6a6a6a" stroke-width="0.6"/>
<text x="308.2" y="384.55" font-size="5.3" fill="#6e7382" text-anchor="end" textLength="8.25" lengthAdjust="spacingAndGlyphs">0.95</text>
<line x1="309.6" y1="366.3" x2="311.20000000000005" y2="366.3" stroke="#6a6a6a" stroke-width="0.6"/>
<line x1="544.4" y1="366.3" x2="542.8" y2="366.3" stroke="#6a6a6a" stroke-width="0.6"/>
<text x="308.2" y="368.05" font-size="5.3" fill="#6e7382" text-anchor="end" textLength="2.36" lengthAdjust="spacingAndGlyphs">1</text>
<line x1="309.6" y1="349.8" x2="311.20000000000005" y2="349.8" stroke="#6a6a6a" stroke-width="0.6"/>
<line x1="544.4" y1="349.8" x2="542.8" y2="349.8" stroke="#6a6a6a" stroke-width="0.6"/>
<text x="308.2" y="351.55" font-size="5.3" fill="#6e7382" text-anchor="end" textLength="8.25" lengthAdjust="spacingAndGlyphs">1.05</text>
<text x="0" y="0" font-size="9.0" fill="#1a1a1a" stroke="#1a1a1a" stroke-width="0.12" text-anchor="middle" transform="translate(288.0,400.0) rotate(-90)" dominant-baseline="central">OTFLESE</text>
<text x="336.8" y="486.3" font-size="8.8" fill="#1a1a1a" stroke="#1a1a1a" stroke-width="0.12">Arranged in ascending order of acquisition time</text>
<rect x="526.3" y="475.8" width="21.100000000000023" height="12.0" fill="#0CE4E4"/>
<text x="536.8499999999999" y="484.8" font-size="9" fill="#0b3030" stroke="#0b3030" stroke-width="0.45" text-anchor="middle">(f)</text>
</svg></body></html>
